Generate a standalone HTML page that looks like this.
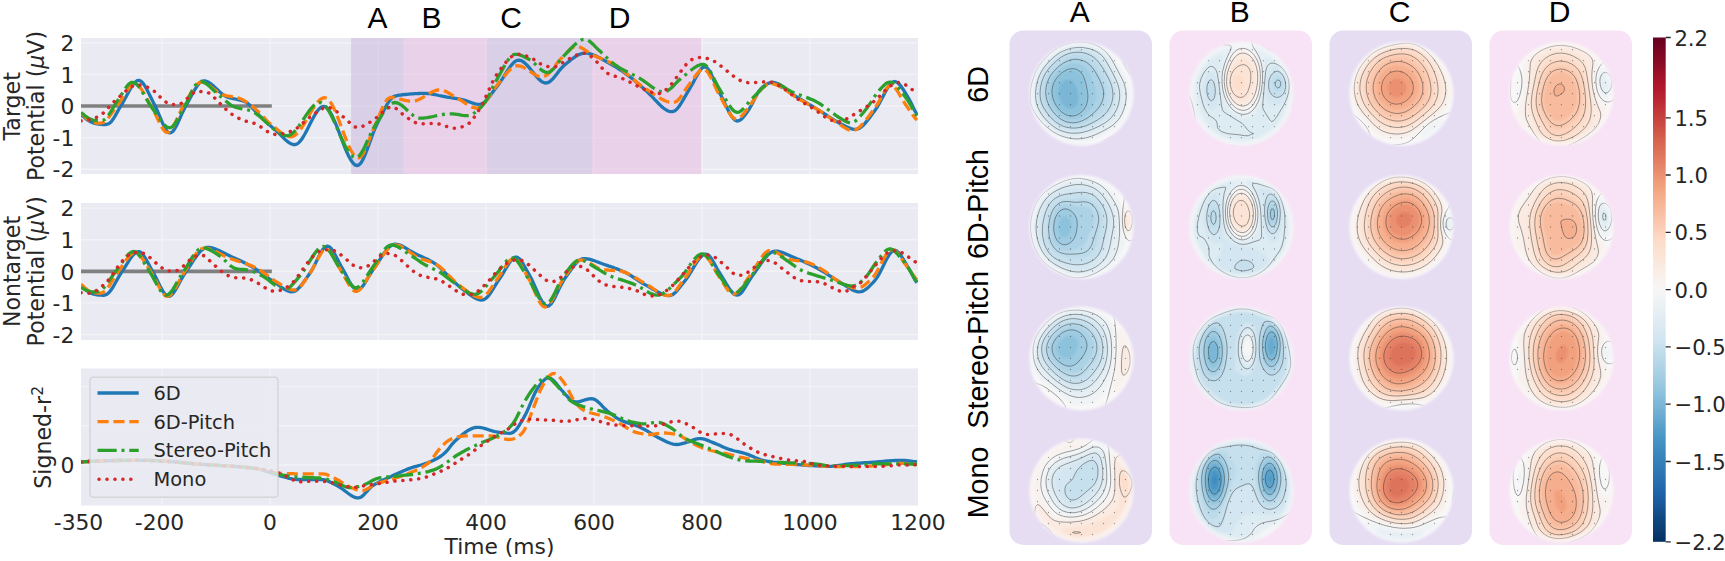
<!DOCTYPE html>
<html><head><meta charset="utf-8"><title>Figure</title>
<style>html,body{margin:0;padding:0;background:#fff}svg{display:block}</style></head>
<body><svg width="1725" height="561" viewBox="0 0 1725 561"><rect x="81.0" y="38.0" width="837.0" height="136.0" fill="#eaeaf2"/>
<path d="M162 38.0V174.0M270 38.0V174.0M378 38.0V174.0M486 38.0V174.0M594 38.0V174.0M702 38.0V174.0M810 38.0V174.0M81.0 169.2H918.0M81.0 137.6H918.0M81.0 106H918.0M81.0 74.4H918.0M81.0 42.8H918.0" stroke="#fff" stroke-opacity="0.42" stroke-width="1.4" fill="none"/>
<rect x="351.1" y="38.0" width="52.4" height="136.0" fill="rgb(200,182,222)" fill-opacity="0.5"/>
<rect x="403.5" y="38.0" width="83.5" height="136.0" fill="rgb(232,186,224)" fill-opacity="0.5"/>
<rect x="487" y="38.0" width="105" height="136.0" fill="rgb(200,182,222)" fill-opacity="0.5"/>
<rect x="592" y="38.0" width="109.2" height="136.0" fill="rgb(232,186,224)" fill-opacity="0.5"/>
<path d="M81.0 106.0H271.8" stroke="#808080" stroke-width="3.7" fill="none"/>
<clipPath id="cp1"><rect x="81.0" y="36.0" width="837.0" height="140.0"/></clipPath>
<g clip-path="url(#cp1)" fill="none" stroke-width="3.3" stroke-linejoin="round">
<path d="M81 114.9 83 116.3 85 118 87 119.6 89 120.9 91 122 93 122.8 95 123.4 97 123.9 99 124.2 101 124.4 103 124.5 105 124.5 107 124.3 109 123.6 111 121.9 113 119.3 115 116.1 117 112.6 119 109 121 105.7 123 102.3 125 98.8 127 95 129 91.2 131 87.7 133 84.6 135 82.2 137 80.7 139 80.3 141 81.2 143 83.2 145 86.1 147 89.7 149 93.7 151 97.8 153 101.8 155 105.8 157 110 159 114.6 161 119.4 163 124.1 165 128.1 167 131.2 169 132.8 171 132.7 173 131.2 175 128.3 177 124.6 179 120.3 181 115.8 183 111.4 185 107.5 187 103.8 189 100.2 191 96.5 193 92.8 195 89.3 197 86.2 199 83.6 201 81.8 203 80.9 205 80.9 207 81.5 209 82.5 211 83.9 213 85.6 215 87.4 217 89.3 219 91.2 221 93 223 94.6 225 95.9 227 96.9 229 97.6 231 98.2 233 98.6 235 99 237 99.4 239 99.8 241 100.3 243 100.9 245 101.7 247 102.9 249 104.5 251 106.4 253 108.6 255 110.8 257 113 259 115.1 261 117.1 263 118.9 265 120.8 267 122.6 269 124.4 271 126.2 273 127.9 275 129.6 277 131.5 279 133.4 281 135.4 283 137.4 285 139.4 287 141.1 289 142.6 291 143.8 293 144.5 295 144.6 297 144 299 142.5 301 140.2 303 137.3 305 133.8 307 130 309 126 311 122 313 118.2 315 114.6 317 111.5 319 109 321 107.3 323 106.5 325 106.7 327 108.1 329 110.4 331 113.6 333 117.6 335 122.1 337 127 339 132.2 341 137.4 343 142.7 345 147.8 347 152.5 349 156.7 351 160.3 353 163.1 355 164.9 357 165.6 359 164.9 361 162.8 363 159.4 365 155 367 150 369 144.5 371 138.9 373 133.5 375 128.5 377 124.1 379 120.1 381 116.1 383 112 385 108.1 387 104.5 389 101.3 391 98.8 393 97.1 395 96.1 397 95.6 399 95.2 401 95 403 94.7 405 94.5 407 94.3 409 94.1 411 93.9 413 93.8 415 93.7 417 93.6 419 93.5 421 93.4 423 93.4 425 93.4 427 93.5 429 93.7 431 93.9 433 94.3 435 94.6 437 95 439 95.5 441 95.9 443 96.3 445 96.7 447 97.1 449 97.4 451 97.7 453 98 455 98.3 457 98.7 459 99 461 99.4 463 99.8 465 100.4 467 101 469 101.7 471 102.5 473 103.2 475 103.8 477 104.2 479 104.4 481 104.1 483 103.3 485 101.7 487 99.7 489 97.2 491 94.5 493 91.7 495 89 497 86.4 499 83.8 501 80.9 503 77.9 505 74.6 507 71.4 509 68.4 511 65.6 513 63.3 515 61.5 517 60.4 519 60.1 521 60.5 523 61.6 525 63.2 527 65.1 529 67.4 531 69.9 533 72.4 535 74.9 537 77.2 539 79.3 541 81.1 543 82.3 545 83 547 82.9 549 82.1 551 80.6 553 78.6 555 76.2 557 73.7 559 71.1 561 68.6 563 66.5 565 64.6 567 63 569 61.4 571 59.8 573 58.3 575 56.9 577 55.6 579 54.6 581 53.8 583 53.3 585 53.1 587 53.2 589 53.6 591 54.1 593 54.8 595 55.6 597 56.5 599 57.6 601 58.6 603 59.8 605 60.9 607 62 609 63.1 611 64.2 613 65.3 615 66.5 617 67.7 619 69 621 70.3 623 71.7 625 73.1 627 74.6 629 76.1 631 77.7 633 79.3 635 81 637 82.8 639 84.5 641 86.3 643 88 645 89.7 647 91.5 649 93.5 651 95.5 653 97.7 655 99.8 657 101.9 659 104 661 105.9 663 107.7 665 109.2 667 110.4 669 111.3 671 111.7 673 111.6 675 110.7 677 109 679 106.5 681 103.4 683 100.1 685 96.6 687 93.1 689 89.8 691 86.5 693 82.9 695 79.1 697 75.4 699 71.9 701 69.1 703 67.3 705 66.8 707 67.8 709 70.3 711 73.8 713 78.2 715 82.8 717 87.4 719 91.7 721 95.6 723 99.6 725 103.8 727 107.9 729 111.9 731 115.4 733 118.2 735 120.2 737 121 739 120.7 741 119.5 743 117.5 745 115 747 112.3 749 109.3 751 106 753 102.2 755 98.1 757 94.2 759 91 761 88.7 763 86.8 765 85.3 767 84 769 83 771 82.5 773 82.4 775 82.7 777 83.4 779 84.4 781 85.6 783 87 785 88.5 787 90 789 91.6 791 93.1 793 94.6 795 95.9 797 97.1 799 98.4 801 99.5 803 100.7 805 101.9 807 103.1 809 104.3 811 105.5 813 106.7 815 107.9 817 109.1 819 110.4 821 111.6 823 112.9 825 114.2 827 115.5 829 116.9 831 118.2 833 119.5 835 120.7 837 121.8 839 122.9 841 123.9 843 124.9 845 126 847 126.9 849 127.8 851 128.6 853 129.1 855 129.3 857 129.2 859 128.5 861 127.2 863 125.5 865 123.4 867 120.9 869 118.4 871 115.7 873 113.1 875 110.4 877 107.4 879 104 881 100.3 883 96.4 885 92.5 887 88.9 889 85.8 891 83.4 893 81.9 895 81.5 897 82.2 899 83.9 901 86.3 903 89.2 905 92.4 907 95.6 909 99.1 911 102.8 913 107 915 111.2 917 114.4" stroke="#1f77b4"/>
<path d="M81 113.3 83 114.9 85 117 87 118.7 89 120.2 91 121.3 93 122.1 95 122.7 97 123 99 123.2 101 123.1 103 122.5 105 121.3 107 119.4 109 117 111 114.3 113 111.5 115 108.6 117 105.9 119 103.2 121 100.2 123 97 125 93.8 127 90.7 129 88 131 85.8 133 84.4 135 84 137 84.6 139 86.2 141 88.6 143 91.6 145 95.1 147 98.8 149 102.5 151 106 153 109.6 155 113.4 157 117.5 159 121.8 161 125.8 163 129.1 165 131.5 167 132.5 169 132 171 130.1 173 127.1 175 123.2 177 118.9 179 114.5 181 110.3 183 106.5 185 103 187 99.5 189 96 191 92.5 193 89.3 195 86.4 197 84.2 199 82.7 201 82.1 203 82.2 205 82.9 207 83.9 209 85.3 211 86.8 213 88.5 215 90.1 217 91.6 219 93 221 94 223 94.8 225 95.3 227 95.8 229 96.1 231 96.5 233 96.8 235 97.2 237 97.7 239 98.2 241 99 243 99.9 245 101.1 247 102.4 249 103.9 251 105.4 253 107 255 108.7 257 110.5 259 112.4 261 114.4 263 116.6 265 118.7 267 120.8 269 122.8 271 124.6 273 126.2 275 127.8 277 129.4 279 131 281 132.5 283 133.9 285 135.1 287 136 289 136.6 291 136.8 293 136.4 295 135.3 297 133.6 299 131.4 301 128.7 303 125.7 305 122.4 307 118.9 309 115.4 311 112 313 108.7 315 105.6 317 102.9 319 100.6 321 98.9 323 97.9 325 97.7 327 98.4 329 100.2 331 102.9 333 106.5 335 110.7 337 115.5 339 120.6 341 126 343 131.4 345 136.7 347 141.8 349 146.4 351 150.5 353 153.8 355 156.3 357 157.8 359 157.9 361 156.6 363 153.9 365 150 367 145.3 369 140.1 371 135 373 130 375 125.4 377 120.8 379 116 381 111.1 383 106.5 385 102.5 387 99.6 389 98 391 97.4 393 97.5 395 97.8 397 98.2 399 98.7 401 99.3 403 99.8 405 100.3 407 100.7 409 101.1 411 101.2 413 101.2 415 100.9 417 100.3 419 99.5 421 98.5 423 97.3 425 96.1 427 94.9 429 93.6 431 92.5 433 91.5 435 90.7 437 90.1 439 89.9 441 89.9 443 90.4 445 91.1 447 92.1 449 93.2 451 94.5 453 95.7 455 97 457 98.1 459 99.3 461 100.4 463 101.7 465 103 467 104.3 469 105.5 471 106.5 473 107.4 475 107.9 477 108.1 479 107.7 481 106.6 483 104.8 485 102.4 487 99.7 489 96.7 491 93.6 493 90.6 495 87.8 497 85.2 499 82.8 501 80.4 503 77.9 505 75.4 507 72.9 509 70.7 511 68.8 513 67.3 515 66.2 517 65.7 519 65.8 521 66.3 523 67.1 525 68.2 527 69.4 529 70.7 531 72.1 533 73.4 535 74.6 537 75.7 539 76.4 541 76.9 543 76.8 545 76.1 547 74.9 549 73.1 551 70.9 553 68.5 555 65.9 557 63.3 559 60.8 561 58.6 563 56.5 565 54.5 567 52.4 569 50.3 571 48.6 573 47.2 575 46.4 577 46.3 579 46.7 581 47.6 583 48.7 585 50 587 51.4 589 52.7 591 54 593 55 595 56 597 56.9 599 57.7 601 58.5 603 59.3 605 60.2 607 61 609 61.9 611 62.8 613 63.8 615 64.9 617 66.2 619 67.5 621 69 623 70.6 625 72.2 627 73.9 629 75.6 631 77.4 633 79.1 635 80.9 637 82.5 639 84.1 641 85.7 643 87.1 645 88.4 647 89.7 649 91 651 92.4 653 93.7 655 95.1 657 96.4 659 97.6 661 98.8 663 99.8 665 100.8 667 101.5 669 102.1 671 102.5 673 102.6 675 102.2 677 101 679 99 681 96.4 683 93.5 685 90.4 687 87.4 689 84.6 691 81.9 693 79.2 695 76.5 697 73.8 699 71.5 701 69.8 703 69.1 705 69.5 707 71.2 709 74.1 711 77.7 713 81.9 715 86.2 717 90.5 719 94.3 721 97.9 723 101.6 725 105.3 727 109.1 729 112.5 731 115.5 733 117.6 735 118.8 737 119 739 118.2 741 116.6 743 114.5 745 112.1 747 109.5 749 106.8 751 104 753 101 755 97.8 757 94.7 759 92 761 89.7 763 87.7 765 85.9 767 84.6 769 83.8 771 83.7 773 83.9 775 84.4 777 85.1 779 86.1 781 87.1 783 88.3 785 89.6 787 91 789 92.4 791 93.8 793 95.2 795 96.6 797 97.9 799 99.1 801 100.2 803 101.3 805 102.4 807 103.5 809 104.6 811 105.7 813 106.8 815 108 817 109.2 819 110.4 821 111.6 823 113 825 114.3 827 115.8 829 117.2 831 118.7 833 120.1 835 121.5 837 122.8 839 124.1 841 125.3 843 126.6 845 127.9 847 129 849 129.9 851 130.5 853 130.5 855 130 857 129 859 127.5 861 125.7 863 123.5 865 121.1 867 118.5 869 115.9 871 113.2 873 110.6 875 107.9 877 104.9 879 101.4 881 97.7 883 94 885 90.6 887 87.8 889 86 891 85.4 893 86 895 87.8 897 90.5 899 93.7 901 97.2 903 100.6 905 103.7 907 106.6 909 109.5 911 112.3 913 115.2 915 118 917 120" stroke="#ff7f0e" stroke-dasharray="11.1 4.8"/>
<path d="M81 112.5 83 114 85 115.7 87 117.3 89 118.4 91 119.3 93 120 95 120.4 97 120.6 99 120.8 101 120.7 103 120.4 105 119.3 107 117.3 109 114.6 111 111.4 113 108 115 104.7 117 101.6 119 98.5 121 95.3 123 92.1 125 88.9 127 86.1 129 83.9 131 82.5 133 82.3 135 83 137 84.6 139 87 141 89.8 143 93.1 145 96.5 147 100 149 103.3 151 106.4 153 109.2 155 112 157 114.9 159 117.9 161 120.8 163 123.3 165 125.5 167 127 169 127.7 171 127.5 173 126.1 175 123.6 177 120.4 179 116.8 181 112.9 183 109.1 185 105.5 187 101.7 189 97.6 191 93.3 193 89.3 195 85.8 197 83.2 199 81.7 201 81.4 203 81.9 205 82.9 207 84.3 209 85.9 211 87.8 213 89.7 215 91.6 217 93.5 219 95.2 221 96.9 223 98.6 225 100.3 227 102 229 103.6 231 105.1 233 106.2 235 107.1 237 107.7 239 108.2 241 108.6 243 108.9 245 109.3 247 109.7 249 110.2 251 111 253 111.9 255 113 257 114.4 259 115.9 261 117.6 263 119.4 265 121.2 267 123.1 269 124.9 271 126.7 273 128.5 275 130.1 277 131.6 279 132.9 281 134 283 134.8 285 135.4 287 135.6 289 135.3 291 134.4 293 132.9 295 131 297 128.6 299 125.9 301 123 303 120 305 116.9 307 113.9 309 111.1 311 108.5 313 106.3 315 104.5 317 103.2 319 102.6 321 102.7 323 103.7 325 105.5 327 108.1 329 111.3 331 115 333 119 335 123.4 337 127.9 339 132.5 341 137.1 343 141.4 345 145.5 347 149.2 349 152.4 351 154.9 353 156.7 355 157.6 357 157.5 359 156.1 361 153.6 363 150.2 365 146.2 367 141.7 369 137.2 371 132.9 373 129.1 375 125.7 377 122.5 379 119.4 381 116.3 383 113.2 385 110.3 387 107.7 389 105.5 391 103.8 393 102.8 395 102.5 397 102.8 399 103.6 401 104.8 403 106.4 405 108.1 407 110 409 111.9 411 113.7 413 115.3 415 116.6 417 117.6 419 118.1 421 118.2 423 118.2 425 117.9 427 117.7 429 117.3 431 116.9 433 116.5 435 116 437 115.6 439 115.2 441 114.8 443 114.5 445 114.2 447 114 449 113.9 451 113.9 453 113.9 455 114.1 457 114.3 459 114.7 461 115.1 463 115.4 465 115.6 467 115.7 469 115.5 471 114.9 473 113.9 475 112.5 477 110.9 479 109.1 481 107.2 483 105 485 102.2 487 98.9 489 95.1 491 91 493 86.8 495 82.9 497 79.2 499 75.6 501 72.1 503 68.4 505 64.8 507 61.5 509 58.6 511 56.4 513 54.9 515 54.3 517 54.3 519 54.7 521 55.4 523 56.2 525 57.2 527 58.2 529 59.3 531 60.6 533 62.1 535 63.9 537 65.8 539 67.8 541 69.6 543 71.1 545 72.1 547 72.5 549 72.2 551 71.1 553 69.3 555 67 557 64.4 559 61.7 561 59.1 563 56.7 565 54.6 567 52.6 569 50.5 571 48.4 573 46.4 575 44.5 577 42.7 579 41.3 581 40.1 583 39.5 585 39.3 587 39.8 589 40.9 591 42.4 593 44.2 595 46.3 597 48.3 599 50.3 601 52.1 603 54 605 56 607 57.9 609 59.8 611 61.7 613 63.3 615 64.8 617 66.2 619 67.4 621 68.6 623 69.7 625 70.8 627 71.8 629 72.8 631 73.8 633 74.8 635 75.8 637 76.8 639 77.9 641 79.1 643 80.4 645 81.8 647 83.3 649 84.8 651 86.3 653 87.7 655 89 657 90.1 659 91 661 91.6 663 91.9 665 91.7 667 91 669 89.8 671 88.2 673 86.3 675 84.2 677 82.2 679 80.2 681 78.4 683 76.7 685 75.2 687 73.6 689 71.9 691 70.3 693 68.8 695 67.3 697 66.1 699 65.2 701 64.5 703 64.3 705 64.9 707 66.6 709 69.3 711 72.7 713 76.6 715 80.7 717 84.6 719 88.2 721 91.5 723 94.8 725 98.3 727 101.7 729 104.9 731 107.8 733 110.1 735 111.7 737 112.3 739 112.1 741 110.9 743 109.1 745 106.9 747 104.5 749 102 751 99.8 753 97.7 755 95.7 757 93.6 759 91.5 761 89.4 763 87.4 765 85.7 767 84.2 769 83.2 771 82.5 773 82.4 775 82.7 777 83.3 779 84.2 781 85.3 783 86.5 785 87.8 787 89.1 789 90.3 791 91.4 793 92.4 795 93.2 797 94 799 94.7 801 95.4 803 96.2 805 96.9 807 97.6 809 98.4 811 99.2 813 100.1 815 101 817 102.1 819 103.2 821 104.5 823 105.9 825 107.3 827 108.8 829 110.3 831 111.8 833 113.3 835 114.7 837 116.2 839 117.5 841 118.7 843 119.9 845 120.9 847 121.9 849 122.7 851 123 853 122.5 855 121.4 857 119.8 859 117.7 861 115.3 863 113 865 110.5 867 107.9 869 105.1 871 102.1 873 98.9 875 95.9 877 93.1 879 90.6 881 88.4 883 86.3 885 84.4 887 82.9 889 82.2 891 82.2 893 83 895 84.5 897 86.4 899 88.7 901 91.1 903 93.7 905 96.4 907 99.2 909 102.3 911 105.7 913 109.4 915 113.1 917 115.9" stroke="#2ca02c" stroke-dasharray="19.2 4.8 3 4.8"/>
<path d="M81 120.8 83 120.6 85 120.4 87 120.1 89 119.6 91 119.1 93 118.5 95 117.9 97 117.2 99 116.2 101 115 103 113.3 105 111.4 107 109.3 109 107.1 111 104.9 113 102.7 115 100.7 117 98.8 119 97.1 121 95.3 123 93.5 125 91.7 127 90 129 88.4 131 87 133 85.9 135 85.2 137 84.9 139 84.9 141 85.2 143 85.7 145 86.3 147 87.1 149 88 151 89 153 90.2 155 91.8 157 93.7 159 95.9 161 97.9 163 99.8 165 101.4 167 102.8 169 103.8 171 104.4 173 104.6 175 104.6 177 104.6 179 104.3 181 103.5 183 102.1 185 100.4 187 98.6 189 96.8 191 94.9 193 93.2 195 92 197 91.6 199 91.5 201 91.6 203 91.7 205 91.9 207 92.3 209 93.1 211 94.4 213 96.2 215 98.3 217 100.5 219 102.6 221 104.5 223 106.5 225 108.4 227 110.3 229 112.1 231 113.6 233 115 235 116.3 237 117.4 239 118.4 241 119.4 243 120.2 245 120.9 247 121.4 249 121.9 251 122.4 253 122.9 255 123.6 257 124.5 259 125.6 261 127 263 128.4 265 129.9 267 131.3 269 132.5 271 133.5 273 134.1 275 134.4 277 134.4 279 134.3 281 134 283 133.6 285 133.1 287 132.5 289 131.9 291 131.3 293 130.5 295 129.5 297 128.1 299 126.5 301 124.8 303 123 305 121.1 307 119.4 309 117.8 311 116.3 313 114.9 315 113.4 317 111.9 319 110.5 321 109.3 323 108.3 325 107.6 327 107.4 329 107.5 331 108.2 333 109.2 335 110.4 337 111.9 339 113.5 341 115.1 343 116.7 345 118.3 347 120.2 349 122.1 351 124.1 353 125.7 355 126.9 357 127.5 359 127.5 361 127 363 126.2 365 125.2 367 124.1 369 122.8 371 121.6 373 120.3 375 118.9 377 117.2 379 115.4 381 113.6 383 111.8 385 110.1 387 108.7 389 107.6 391 107 393 107.1 395 107.8 397 109.1 399 110.8 401 112.7 403 114.4 405 116 407 117.4 409 118.8 411 120.1 413 121.4 415 122.5 417 123.2 419 123.6 421 123.8 423 123.8 425 123.7 427 123.6 429 123.5 431 123.4 433 123.4 435 123.4 437 123.6 439 124 441 124.5 443 125.2 445 125.9 447 126.6 449 127.2 451 127.7 453 128.1 455 128.2 457 128.1 459 127.7 461 127.2 463 126.5 465 125.7 467 124.6 469 123.3 471 121.4 473 118.9 475 116.1 477 113 479 109.8 481 106.4 483 102.6 485 98.5 487 94.1 489 89.7 491 85.3 493 81.1 495 77.4 497 74.2 499 71.3 501 68.6 503 65.9 505 63.4 507 61 509 58.8 511 57 513 55.6 515 54.7 517 54.2 519 54.2 521 54.5 523 54.9 525 55.5 527 56.2 529 57 531 57.8 533 58.9 535 60.2 537 61.6 539 63 541 64.2 543 65.2 545 65.9 547 66.4 549 66.7 551 67 553 67 555 66.8 557 66.1 559 65.1 561 63.8 563 62.4 565 61.1 567 59.9 569 58.9 571 57.9 573 56.8 575 55.9 577 55 579 54.2 581 53.6 583 53.2 585 53.3 587 53.8 589 54.9 591 56.4 593 58.2 595 60.1 597 62.1 599 64.4 601 66.9 603 69.3 605 71.4 607 73 609 74.2 611 75 613 75.7 615 76.2 617 76.8 619 77.4 621 78 623 78.8 625 79.7 627 80.7 629 81.7 631 82.7 633 83.7 635 84.7 637 85.8 639 86.8 641 87.8 643 88.8 645 89.7 647 90.5 649 91.3 651 92.1 653 92.8 655 93.3 657 93.6 659 93.6 661 93.1 663 92.1 665 90.6 667 88.8 669 86.8 671 84.7 673 82.4 675 79.7 677 76.8 679 73.9 681 71.2 683 68.5 685 65.9 687 63.5 689 61.5 691 60 693 59 695 58.2 697 57.7 699 57.4 701 57.4 703 57.6 705 57.9 707 58.4 709 59 711 59.7 713 60.6 715 61.7 717 62.9 719 64.4 721 66.1 723 67.7 725 69.3 727 70.9 729 72.6 731 74.2 733 75.8 735 77.3 737 78.6 739 79.8 741 80.8 743 81.6 745 82.1 747 82.5 749 82.8 751 82.8 753 82.7 755 82.5 757 82.3 759 82.1 761 82 763 81.9 765 81.8 767 81.7 769 81.9 771 82.2 773 82.8 775 83.5 777 84.4 779 85.5 781 86.7 783 88.1 785 89.5 787 90.9 789 92.5 791 94 793 95.5 795 97 797 98.5 799 99.9 801 101.2 803 102.5 805 103.7 807 104.9 809 106 811 107.2 813 108.5 815 109.8 817 111.1 819 112.6 821 114.1 823 115.6 825 116.9 827 118.2 829 119.2 831 120 833 120.7 835 121.3 837 121.7 839 121.9 841 121.6 843 120.9 845 119.8 847 118.6 849 117.4 851 116.3 853 115.1 855 113.8 857 112.6 859 111.4 861 110.1 863 108.9 865 107.6 867 106.4 869 105.1 871 103.7 873 102.2 875 100.6 877 98.7 879 96.7 881 94.7 883 92.7 885 90.7 887 88.8 889 87 891 85.6 893 84.4 895 83.5 897 82.8 899 82.5 901 82.7 903 83.4 905 84.5 907 85.8 909 87.2 911 88.7 913 90.3 915 92 917 93.3" stroke="#d62728" stroke-dasharray="0.1 7.85" stroke-linecap="round" stroke-width="3.5"/>
</g>
<rect x="81.0" y="203.0" width="837.0" height="137.0" fill="#eaeaf2"/>
<path d="M162 203.0V340.0M270 203.0V340.0M378 203.0V340.0M486 203.0V340.0M594 203.0V340.0M702 203.0V340.0M810 203.0V340.0M81.0 334.5H918.0M81.0 302.9H918.0M81.0 271.3H918.0M81.0 239.7H918.0M81.0 208.1H918.0" stroke="#fff" stroke-opacity="0.42" stroke-width="1.4" fill="none"/>
<path d="M81.0 271.3H271.8" stroke="#808080" stroke-width="3.7" fill="none"/>
<clipPath id="cp2"><rect x="81.0" y="201.0" width="837.0" height="141.0"/></clipPath>
<g clip-path="url(#cp2)" fill="none" stroke-width="3.3" stroke-linejoin="round">
<path d="M81 285.6 83 287.2 85 289 87 290.7 89 292.1 91 293.1 93 293.9 95 294.5 97 294.9 99 295.1 101 295.2 103 295.3 105 295 107 294.2 109 292.5 111 290.1 113 287 115 283.5 117 279.9 119 276.4 121 273.1 123 270.1 125 267 127 263.9 129 260.7 131 257.7 133 255.1 135 253 137 251.8 139 251.6 141 252.6 143 254.7 145 257.6 147 261.1 149 264.8 151 268.5 153 272 155 275.7 157 279.8 159 283.9 161 287.9 163 291.4 165 294.2 167 295.9 169 296.4 171 295.5 173 293.5 175 290.6 177 287.2 179 283.5 181 279.7 183 276.3 185 273.2 187 270.3 189 267.3 191 264.3 193 261.2 195 258.2 197 255.4 199 252.9 201 250.7 203 249.1 205 248 207 247.4 209 247.4 211 247.7 213 248.2 215 248.9 217 249.7 219 250.6 221 251.6 223 252.6 225 253.6 227 254.6 229 255.5 231 256.5 233 257.4 235 258.3 237 259.2 239 260.1 241 261.1 243 262.1 245 263.1 247 264.1 249 265.2 251 266.3 253 267.4 255 268.6 257 269.9 259 271.2 261 272.6 263 274.1 265 275.6 267 277.1 269 278.5 271 279.9 273 281.2 275 282.6 277 284 279 285.5 281 287 283 288.3 285 289.6 287 290.6 289 291.3 291 291.8 293 291.7 295 291.1 297 289.8 299 287.9 301 285.6 303 283 305 280.2 307 277.4 309 274.5 311 271.5 313 268.1 315 264.2 317 260.1 319 256 321 252.3 323 249.2 325 247.1 327 246.2 329 246.6 331 248.3 333 251.1 335 254.5 337 258.3 339 262.3 341 266 343 269.5 345 273.1 347 276.9 349 280.7 351 284.2 353 287.2 355 289.2 357 290.1 359 289.8 361 288.2 363 285.8 365 282.8 367 279.4 369 276 371 272.9 373 269.9 375 267.1 377 264 379 260.9 381 257.8 383 254.7 385 251.9 387 249.3 389 247.2 391 245.6 393 244.6 395 244.2 397 244.3 399 244.8 401 245.6 403 246.5 405 247.6 407 248.8 409 250.1 411 251.3 413 252.4 415 253.5 417 254.5 419 255.4 421 256.3 423 257.2 425 258.2 427 259.1 429 260.1 431 261.2 433 262.4 435 263.7 437 265.1 439 266.8 441 268.6 443 270.5 445 272.6 447 274.7 449 276.8 451 278.9 453 280.9 455 282.8 457 284.6 459 286.3 461 287.9 463 289.4 465 291 467 292.5 469 294.1 471 295.5 473 296.9 475 298 477 299 479 299.7 481 300 483 299.9 485 299 487 297.4 489 295.1 491 292.3 493 289.2 495 285.9 497 282.7 499 279.7 501 276.6 503 273.5 505 270 507 266.6 509 263.3 511 260.5 513 258.4 515 257.2 517 257.2 519 258.4 521 260.7 523 263.7 525 267.2 527 270.8 529 274.4 531 278.1 533 282.1 535 286.6 537 291.2 539 295.7 541 299.7 543 303 545 305.3 547 306.3 549 305.8 551 304 553 301.1 555 297.5 557 293.4 559 289.1 561 285.1 563 281.4 565 278.2 567 275.3 569 272.5 571 269.7 573 266.9 575 264.4 577 262.3 579 260.5 581 259.3 583 258.7 585 258.6 587 258.8 589 259.2 591 259.7 593 260.3 595 261 597 261.7 599 262.5 601 263.3 603 264 605 264.7 607 265.4 609 266.1 611 266.7 613 267.4 615 268.2 617 268.9 619 269.7 621 270.5 623 271.4 625 272.3 627 273.4 629 274.5 631 275.7 633 277 635 278.3 637 279.7 639 281 641 282.3 643 283.5 645 284.6 647 285.7 649 286.9 651 288.1 653 289.3 655 290.4 657 291.6 659 292.6 661 293.6 663 294.4 665 295 667 295.4 669 295.6 671 295.3 673 294.4 675 292.8 677 290.8 679 288.3 681 285.8 683 283.2 685 280.7 687 278 689 275 691 271.8 693 268.4 695 265.1 697 261.9 699 259 701 256.7 703 255 705 254.1 707 254.3 709 255.6 711 258.1 713 261.3 715 264.9 717 268.6 719 272 721 275.1 723 278.3 725 281.6 727 285 729 288.1 731 290.9 733 293.2 735 294.7 737 295.2 739 294.7 741 293.2 743 290.7 745 287.6 747 284.2 749 280.9 751 277.8 753 274.9 755 272.2 757 269.4 759 266.5 761 263.5 763 260.7 765 258.1 767 255.8 769 253.9 771 252.4 773 251.5 775 251.1 777 251.2 779 251.5 781 252.1 783 252.7 785 253.5 787 254.4 789 255.3 791 256.2 793 257.1 795 257.9 797 258.8 799 259.6 801 260.4 803 261.3 805 262.2 807 263.2 809 264.1 811 265.1 813 266.1 815 267.1 817 268.1 819 269.2 821 270.3 823 271.5 825 272.7 827 274 829 275.3 831 276.6 833 277.9 835 279.2 837 280.4 839 281.6 841 282.8 843 284.1 845 285.4 847 286.7 849 287.9 851 289.1 853 290.2 855 291 857 291.6 859 291.9 861 291.7 863 291.1 865 289.9 867 288.4 869 286.7 871 284.7 873 282.6 875 280.4 877 277.6 879 274.3 881 270.5 883 266.5 885 262.3 887 258.5 889 255.1 891 252.5 893 250.8 895 250.3 897 251.1 899 253 901 255.7 903 258.8 905 262.2 907 265.5 909 268.9 911 272.5 913 276.2 915 280 917 282.8" stroke="#1f77b4"/>
<path d="M81 284.4 83 286 85 287.9 87 289.6 89 290.8 91 291.8 93 292.4 95 292.9 97 293.1 99 293.2 101 293.1 103 292.4 105 291 107 288.8 109 286.1 111 282.9 113 279.6 115 276.4 117 273.3 119 270.5 121 267.7 123 264.7 125 261.8 127 258.9 129 256.4 131 254.4 133 253.1 135 252.7 137 253.2 139 254.6 141 256.8 143 259.5 145 262.6 147 265.7 149 268.9 151 272 153 275.3 155 278.9 157 282.9 159 286.8 161 290.4 163 293.4 165 295.5 167 296.4 169 296 171 294.4 173 291.9 175 288.6 177 285 179 281.2 181 277.6 183 274.3 185 271.2 187 268.1 189 264.8 191 261.5 193 258.2 195 255.2 197 252.6 199 250.5 201 249 203 248.3 205 248.1 207 248.4 209 248.8 211 249.5 213 250.3 215 251.2 217 252.1 219 253.2 221 254.2 223 255.3 225 256.3 227 257.2 229 258.1 231 258.8 233 259.5 235 260.2 237 260.8 239 261.5 241 262.1 243 262.7 245 263.4 247 264.1 249 264.8 251 265.6 253 266.4 255 267.4 257 268.4 259 269.6 261 271 263 272.4 265 273.9 267 275.4 269 276.9 271 278.3 273 279.6 275 280.9 277 282.1 279 283.3 281 284.6 283 285.8 285 287 287 288 289 288.9 291 289.6 293 290 295 290 297 289.4 299 288 301 285.9 303 283.3 305 280.5 307 277.5 309 274.6 311 271.5 313 268.1 315 264.3 317 260.4 319 256.6 321 253.3 323 250.8 325 249.4 327 249.3 329 250.5 331 252.8 333 256 335 259.7 337 263.5 339 267.2 341 270.7 343 274.1 345 277.6 347 281.2 349 284.7 351 287.7 353 290 355 291.3 357 291.4 359 290.3 361 288.3 363 285.7 365 282.5 367 279.2 369 275.9 371 272.8 373 270 375 267.2 377 264.2 379 261.2 381 258.1 383 255.2 385 252.4 387 249.9 389 247.9 391 246.3 393 245.3 395 244.9 397 245.1 399 245.6 401 246.5 403 247.5 405 248.8 407 250.1 409 251.6 411 253 413 254.4 415 255.8 417 257 419 258 421 258.8 423 259.5 425 260.1 427 260.7 429 261.3 431 262 433 262.7 435 263.7 437 264.8 439 266.2 441 267.8 443 269.6 445 271.6 447 273.6 449 275.7 451 277.7 453 279.8 455 281.7 457 283.5 459 285.1 461 286.6 463 288.1 465 289.6 467 291.1 469 292.5 471 293.9 473 295.1 475 296.1 477 296.9 479 297.4 481 297.5 483 297 485 295.7 487 293.8 489 291.3 491 288.4 493 285.4 495 282.3 497 279.4 499 276.6 501 273.6 503 270.4 505 267.2 507 264.1 509 261.4 511 259.5 513 258.6 515 258.8 517 260.1 519 262.3 521 265.3 523 268.6 525 272.1 527 275.7 529 279.2 531 283.1 533 287.5 535 292.1 537 296.7 539 300.8 541 304.2 543 306.3 545 307.1 547 306.4 549 304.5 551 301.7 553 298.2 555 294.3 557 290.2 559 286.2 561 282.5 563 279.3 565 276.4 567 273.6 569 270.8 571 268 573 265.5 575 263.3 577 261.5 579 260.4 581 260 583 260.1 585 260.7 587 261.6 589 262.7 591 263.9 593 265.2 595 266.5 597 267.7 599 268.6 601 269.2 603 269.6 605 269.9 607 270 609 270.2 611 270.3 613 270.4 615 270.5 617 270.6 619 270.8 621 271.2 623 271.7 625 272.3 627 273.1 629 274.1 631 275.2 633 276.3 635 277.5 637 278.7 639 279.9 641 281.1 643 282.3 645 283.4 647 284.5 649 285.8 651 287.1 653 288.5 655 289.9 657 291.2 659 292.4 661 293.5 663 294.4 665 295.1 667 295.5 669 295.5 671 294.8 673 293.4 675 291.4 677 289 679 286.3 681 283.5 683 280.8 685 278.2 687 275.4 689 272.4 691 269.2 693 265.9 695 262.7 697 259.9 699 257.6 701 256 703 255.3 705 255.6 707 257.1 709 259.6 711 262.8 713 266.3 715 269.9 717 273.3 719 276.5 721 279.5 723 282.7 725 285.9 727 288.9 729 291.4 731 293.1 733 294 735 293.8 737 292.7 739 290.9 741 288.4 743 285.6 745 282.7 747 279.7 749 276.9 751 274.1 753 271.2 755 268 757 264.6 759 261.3 761 258.2 763 255.4 765 253.1 767 251.5 769 250.6 771 250.5 773 250.9 775 251.7 777 252.7 779 253.9 781 255.2 783 256.4 785 257.6 787 258.5 789 259.3 791 259.8 793 260.1 795 260.4 797 260.6 799 260.8 801 261.1 803 261.3 805 261.7 807 262.2 809 262.9 811 263.7 813 264.6 815 265.6 817 266.7 819 267.8 821 268.9 823 270.1 825 271.4 827 272.8 829 274.4 831 276 833 277.5 835 279 837 280.4 839 281.6 841 282.7 843 283.7 845 284.6 847 285.5 849 286.4 851 287.1 853 287.7 855 288.1 857 288.2 859 287.9 861 287.2 863 286.2 865 284.8 867 283.1 869 281.3 871 279.5 873 277.3 875 274.7 877 271.5 879 267.8 881 263.9 883 260 885 256.5 887 253.4 889 251.1 891 249.8 893 249.6 895 250.6 897 252.5 899 255.1 901 258 903 260.9 905 263.7 907 266.4 909 269.2 911 272 913 274.9 915 277.8 917 279.9" stroke="#ff7f0e" stroke-dasharray="11.1 4.8"/>
<path d="M81 287.4 83 288.5 85 289.7 87 290.6 89 291.3 91 291.7 93 291.9 95 292 97 291.9 99 291.5 101 290.4 103 288.7 105 286.4 107 283.8 109 280.9 111 278 113 275.1 115 272.4 117 269.8 119 267.1 121 264.2 123 261.3 125 258.4 127 255.8 129 253.7 131 252.2 133 251.5 135 251.7 137 252.9 139 255 141 257.7 143 260.9 145 264.2 147 267.6 149 270.8 151 274 153 277.4 155 281.1 157 284.8 159 288.4 161 291.4 163 293.7 165 295 167 295.1 169 294 171 291.9 173 289.1 175 285.8 177 282.3 179 278.7 181 275.5 183 272.4 185 269.3 187 266.1 189 262.7 191 259.4 193 256.2 195 253.4 197 251 199 249.3 201 248.3 203 247.9 205 248.1 207 248.7 209 249.5 211 250.5 213 251.7 215 252.9 217 254.2 219 255.5 221 256.9 223 258.6 225 260.5 227 262.6 229 264.5 231 266.2 233 267.4 235 268.3 237 268.8 239 269.1 241 269.3 243 269.5 245 269.7 247 270 249 270.3 251 270.8 253 271.5 255 272.3 257 273.2 259 274.2 261 275.3 263 276.4 265 277.6 267 279 269 280.5 271 282.1 273 283.7 275 285.2 277 286.5 279 287.7 281 288.6 283 289.2 285 289.3 287 288.8 289 287.7 291 286 293 283.9 295 281.6 297 279.3 299 276.9 301 274.5 303 271.9 305 268.9 307 265.7 309 262.4 311 259.1 313 256 315 253 317 250.5 319 248.5 321 247.1 323 246.5 325 246.8 327 248.2 329 250.5 331 253.4 333 256.8 335 260.4 337 263.8 339 267 341 270 343 273.1 345 276.2 347 279.4 349 282.3 351 284.8 353 286.7 355 287.7 357 287.6 359 286.6 361 284.6 363 282 365 278.9 367 275.8 369 272.6 371 269.7 373 266.8 375 263.8 377 260.6 379 257.4 381 254.2 383 251.3 385 248.8 387 246.8 389 245.6 391 245 393 245.1 395 245.6 397 246.4 399 247.5 401 248.7 403 250.1 405 251.5 407 252.9 409 254.2 411 255.5 413 256.8 415 258.1 417 259.5 419 260.9 421 262.3 423 263.6 425 264.7 427 265.8 429 266.8 431 267.8 433 268.7 435 269.7 437 270.7 439 271.8 441 273 443 274.4 445 275.9 447 277.4 449 279 451 280.5 453 282 455 283.4 457 284.8 459 286.2 461 287.7 463 289.1 465 290.5 467 291.8 469 292.9 471 293.7 473 294.2 475 294.3 477 293.9 479 293 481 291.5 483 289.7 485 287.5 487 285.2 489 282.7 491 280.3 493 278 495 275.7 497 273.3 499 270.8 501 268 503 265.3 505 262.7 507 260.5 509 258.8 511 257.8 513 257.8 515 258.8 517 260.7 519 263.4 521 266.6 523 270 525 273.3 527 276.6 529 279.8 531 283.3 533 287 535 290.8 537 294.5 539 297.8 541 300.6 543 302.7 545 303.8 547 303.7 549 302.3 551 299.8 553 296.4 555 292.4 557 288.1 559 283.9 561 280.1 563 276.8 565 274 567 271.3 569 268.7 571 266.1 573 263.9 575 262.1 577 260.7 579 260.1 581 260 583 260.4 585 261.2 587 262.3 589 263.5 591 264.8 593 266.1 595 267.3 597 268.5 599 269.7 601 270.9 603 272.2 605 273.4 607 274.5 609 275.5 611 276.3 613 277.1 615 277.8 617 278.4 619 279.1 621 279.7 623 280.3 625 281 627 281.7 629 282.4 631 283.1 633 283.9 635 284.7 637 285.6 639 286.7 641 287.8 643 289.1 645 290.3 647 291.5 649 292.7 651 293.6 653 294.4 655 294.9 657 295.1 659 295 661 294.4 663 293.5 665 292.2 667 290.7 669 289 671 287.1 673 285.1 675 283.1 677 281.1 679 279.2 681 277.1 683 274.8 685 272.2 687 269.4 689 266.5 691 263.6 693 260.9 695 258.4 697 256.4 699 254.9 701 254 703 254 705 255 707 256.8 709 259.4 711 262.5 713 265.9 715 269.2 717 272.3 719 275.2 721 278 723 280.9 725 283.9 727 286.7 729 289.2 731 291.2 733 292.5 735 292.9 737 292.4 739 291.1 741 289.3 743 286.9 745 284.3 747 281.5 749 278.8 751 276.2 753 273.7 755 271.1 757 268.3 759 265.4 761 262.5 763 259.7 765 257.2 767 255.1 769 253.6 771 252.7 773 252.5 775 252.9 777 253.7 779 254.9 781 256.3 783 257.7 785 259.2 787 260.6 789 262 791 263.4 793 264.8 795 266.3 797 267.7 799 269 801 270.1 803 271.1 805 271.9 807 272.6 809 273.3 811 273.9 813 274.5 815 275.1 817 275.8 819 276.4 821 277 823 277.6 825 278.2 827 278.7 829 279.3 831 280 833 280.6 835 281.3 837 282 839 282.7 841 283.4 843 284.1 845 284.7 847 285.3 849 285.7 851 286.1 853 286 855 285.5 857 284.6 859 283.2 861 281.7 863 279.9 865 278 867 275.7 869 273 871 270.1 873 267 875 264 877 261.3 879 258.7 881 256.1 883 253.6 885 251.4 887 249.8 889 249 891 249 893 249.9 895 251.5 897 253.5 899 255.8 901 258.2 903 260.6 905 263.2 907 266 909 269 911 272.3 913 275.8 915 279.2 917 281.8" stroke="#2ca02c" stroke-dasharray="19.2 4.8 3 4.8"/>
<path d="M81 292.6 83 292.9 85 293.1 87 293.2 89 293.2 91 292.8 93 292.2 95 291.3 97 290.2 99 288.8 101 287.1 103 285.4 105 283.5 107 281.5 109 279.3 111 276.8 113 273.9 115 270.8 117 267.9 119 265.2 121 262.7 123 260.4 125 258.3 127 256.4 129 254.8 131 253.7 133 253 135 252.6 137 252.3 139 252.4 141 252.7 143 253.3 145 254.2 147 255.3 149 256.8 151 258.4 153 260.2 155 262.1 157 263.9 159 265.6 161 267.2 163 268.7 165 269.8 167 270.5 169 271 171 271.3 173 271.4 175 271.2 177 270.6 179 269.5 181 268.2 183 266.5 185 264.6 187 262.5 189 260.7 191 259 193 257.5 195 256.5 197 255.7 199 255.2 201 255 203 255.3 205 256.4 207 258.1 209 260 211 261.9 213 263.7 215 265.6 217 267.4 219 269.2 221 270.9 223 272.5 225 273.9 227 275.1 229 276 231 276.8 233 277.3 235 277.7 237 277.8 239 277.9 241 277.9 243 277.9 245 278.1 247 278.5 249 279 251 279.7 253 280.5 255 281.5 257 282.6 259 283.8 261 285.1 263 286.5 265 287.7 267 288.9 269 289.8 271 290.6 273 291.1 275 291.2 277 291 279 290.7 281 290.2 283 289.5 285 288.4 287 287.1 289 285.6 291 284 293 282.2 295 280 297 277.5 299 274.7 301 271.9 303 269.1 305 266.3 307 263.5 309 260.9 311 258.5 313 256.3 315 254.5 317 252.9 319 251.6 321 250.6 323 250 325 249.7 327 249.7 329 249.7 331 249.8 333 250.2 335 251 337 252.1 339 253.4 341 254.9 343 256.6 345 258.3 347 259.9 349 261.5 351 263.3 353 265 355 266.3 357 267.1 359 267.5 361 267.7 363 267.7 365 267.4 367 266.5 369 265.3 371 263.8 373 262.2 375 260.4 377 258.6 379 256.9 381 255.4 383 254.2 385 253.7 387 253.5 389 253.6 391 253.9 393 254.4 395 255.3 397 256.7 399 258.3 401 260 403 261.8 405 263.7 407 265.6 409 267.5 411 269.3 413 270.9 415 272.4 417 273.7 419 274.8 421 275.6 423 276.3 425 276.8 427 277.2 429 277.6 431 277.8 433 278.1 435 278.5 437 279.1 439 279.9 441 280.8 443 281.9 445 283.1 447 284.4 449 285.8 451 287.3 453 288.7 455 290.1 457 291.3 459 292.6 461 293.6 463 294.3 465 294.5 467 294.6 469 294.6 471 294.4 473 294 475 293.1 477 291.9 479 290.4 481 288.7 483 286.7 485 284.6 487 282.6 489 280.6 491 278.4 493 276 495 273.6 497 271.4 499 269.4 501 267.6 503 266 505 264.5 507 263.1 509 262 511 261.1 513 260.4 515 259.9 517 259.8 519 260 521 260.3 523 260.9 525 261.9 527 263.3 529 265.1 531 266.9 533 268.8 535 270.6 537 272.5 539 274.3 541 276 543 277.7 545 279.3 547 280.7 549 281.6 551 281.8 553 281.6 555 281.1 557 280.2 559 278.9 561 277.2 563 275.2 565 273.2 567 271.3 569 269.6 571 268.3 573 267.2 575 266.5 577 266.1 579 266.2 581 266.6 583 267.3 585 268.3 587 269.7 589 271.4 591 273.4 593 275.4 595 277.4 597 279.3 599 281 601 282.4 603 283.7 605 284.6 607 285.2 609 285.7 611 286.1 613 286.4 615 286.6 617 286.8 619 286.9 621 287.1 623 287.4 625 287.7 627 288.1 629 288.5 631 288.9 633 289.4 635 290 637 290.8 639 291.7 641 292.7 643 293.7 645 294.6 647 295.3 649 295.9 651 296.1 653 296.1 655 295.8 657 295.4 659 294.8 661 294 663 292.9 665 291.6 667 290.2 669 288.7 671 287 673 285.1 675 283 677 280.8 679 278.5 681 276.3 683 274.1 685 271.8 687 269.6 689 267.3 691 265.1 693 262.9 695 260.9 697 259.2 699 257.7 701 256.6 703 255.8 705 255.3 707 254.9 709 254.9 711 255.4 713 256.2 715 257.3 717 258.7 719 260.3 721 262.1 723 264 725 265.7 727 267.5 729 269.4 731 271.4 733 273.2 735 274.3 737 274.9 739 275.1 741 275.2 743 275 745 274.2 747 272.9 749 271.5 751 269.9 753 268.3 755 266.7 757 265.1 759 263.5 761 262.2 763 261.3 765 260.8 767 260.6 769 260.5 771 260.7 773 261.5 775 262.8 777 264.4 779 266 781 267.5 783 269.1 785 270.7 787 272.2 789 273.8 791 275.3 793 276.7 795 278.1 797 279.2 799 280.1 801 280.6 803 281 805 281.2 807 281.3 809 281.4 811 281.4 813 281.4 815 281.5 817 281.7 819 282.1 821 282.6 823 283.2 825 283.9 827 284.9 829 285.9 831 287 833 288.1 835 289.2 837 290.1 839 290.8 841 291.4 843 291.8 845 291.7 847 290.9 849 289.6 851 288.2 853 287 855 286.1 857 285.2 859 284 861 282.4 863 280.3 865 278 867 275.6 869 273.1 871 270.7 873 268.2 875 265.8 877 263.4 879 260.9 881 258.6 883 256.5 885 254.7 887 253.2 889 252.1 891 251.3 893 250.8 895 250.7 897 250.9 899 251.6 901 252.4 903 253.4 905 254.6 907 256 909 257.4 911 258.8 913 260.3 915 261.7 917 262.8" stroke="#d62728" stroke-dasharray="0.1 7.85" stroke-linecap="round" stroke-width="3.5"/>
</g>
<rect x="81.0" y="368.5" width="837.0" height="137.0" fill="#eaeaf2"/>
<path d="M162 368.5V505.5M270 368.5V505.5M378 368.5V505.5M486 368.5V505.5M594 368.5V505.5M702 368.5V505.5M810 368.5V505.5M81.0 465H918.0M81.0 425.8H918.0M81.0 386.6H918.0" stroke="#fff" stroke-opacity="0.42" stroke-width="1.4" fill="none"/>
<clipPath id="cp3"><rect x="81.0" y="366.5" width="837.0" height="141.0"/></clipPath>
<g clip-path="url(#cp3)" fill="none" stroke-width="3.3" stroke-linejoin="round">
<path d="M81 462 83 461.9 85 461.7 87 461.6 89 461.5 91 461.4 93 461.3 95 461.2 97 461.1 99 461 101 460.9 103 460.8 105 460.8 107 460.7 109 460.7 111 460.6 113 460.6 115 460.5 117 460.5 119 460.5 121 460.4 123 460.4 125 460.4 127 460.4 129 460.4 131 460.4 133 460.3 135 460.3 137 460.3 139 460.3 141 460.3 143 460.3 145 460.4 147 460.4 149 460.4 151 460.5 153 460.6 155 460.6 157 460.7 159 460.8 161 461 163 461.1 165 461.2 167 461.4 169 461.5 171 461.7 173 461.8 175 462 177 462.2 179 462.4 181 462.5 183 462.7 185 462.9 187 463.1 189 463.3 191 463.4 193 463.6 195 463.8 197 464 199 464.1 201 464.3 203 464.4 205 464.6 207 464.7 209 464.9 211 465 213 465.1 215 465.2 217 465.3 219 465.5 221 465.6 223 465.7 225 465.8 227 465.9 229 466 231 466.2 233 466.3 235 466.4 237 466.6 239 466.7 241 466.9 243 467.1 245 467.3 247 467.5 249 467.7 251 467.9 253 468.1 255 468.4 257 468.7 259 469.2 261 469.7 263 470.3 265 470.9 267 471.6 269 472.3 271 473 273 473.7 275 474.3 277 475 279 475.5 281 476.1 283 476.6 285 477.2 287 477.7 289 478.3 291 478.7 293 479.1 295 479.4 297 479.5 299 479.5 301 479.5 303 479.5 305 479.5 307 479.5 309 479.5 311 479.5 313 479.5 315 479.5 317 479.5 319 479.5 321 479.6 323 479.7 325 480 327 480.6 329 481.4 331 482.4 333 483.5 335 484.5 337 485.6 339 486.8 341 488 343 489.5 345 491 347 492.5 349 494 351 495.4 353 496.5 355 497.4 357 497.9 359 497.8 361 497.1 363 495.6 365 493.5 367 491.3 369 489 371 487 373 485.5 375 484.2 377 483.1 379 482 381 481.1 383 480.1 385 479.2 387 478.3 389 477.4 391 476.5 393 475.5 395 474.6 397 473.7 399 472.8 401 471.9 403 471 405 470.2 407 469.4 409 468.6 411 467.9 413 467.2 415 466.6 417 466.1 419 465.5 421 465 423 464.4 425 463.7 427 463.1 429 462.3 431 461.5 433 460.6 435 459.6 437 458.5 439 457.3 441 456 443 454.5 445 452.8 447 450.7 449 448.2 451 445.6 453 443.1 455 441 457 439.2 459 437.4 461 435.7 463 434.1 465 432.6 467 431.2 469 429.9 471 428.9 473 428.1 475 427.5 477 427.3 479 427.3 481 427.6 483 428 485 428.6 487 429.2 489 429.9 491 430.5 493 431.1 495 431.6 497 432 499 432.3 501 432.6 503 432.8 505 433 507 433.2 509 433.3 511 433.1 513 432.4 515 430.8 517 428.6 519 425.7 521 422.4 523 419 525 415.4 527 411.4 529 406.9 531 402 533 397.3 535 392.9 537 389.3 539 386.2 541 383.5 543 381.1 545 379.2 547 378 549 377.8 551 378.5 553 380 555 382.1 557 384.6 559 387.1 561 389.5 563 391.7 565 394 567 396.2 569 398.4 571 400.2 573 401.4 575 401.9 577 401.9 579 401.6 581 401.1 583 400.5 585 399.9 587 399.3 589 398.9 591 398.7 593 398.8 595 399.6 597 400.9 599 402.7 601 404.7 603 406.8 605 408.8 607 410.7 609 412.3 611 413.8 613 415.3 615 416.8 617 418.1 619 419.2 621 420.2 623 421.1 625 421.9 627 422.6 629 423.3 631 423.9 633 424.6 635 425.2 637 426 639 426.8 641 427.7 643 428.7 645 429.8 647 430.9 649 432.2 651 433.4 653 434.6 655 435.8 657 436.9 659 437.9 661 438.9 663 439.9 665 440.9 667 441.9 669 442.8 671 443.5 673 444.1 675 444.4 677 444.5 679 444.3 681 443.9 683 443.3 685 442.8 687 442.2 689 441.6 691 440.9 693 440.1 695 439.4 697 438.9 699 438.6 701 438.6 703 438.9 705 439.4 707 440.1 709 440.9 711 441.8 713 442.6 715 443.4 717 444.2 719 445.1 721 446 723 446.9 725 447.8 727 448.6 729 449.3 731 449.9 733 450.5 735 451 737 451.4 739 451.9 741 452.4 743 452.9 745 453.5 747 454.1 749 454.9 751 455.7 753 456.6 755 457.5 757 458.3 759 459.1 761 459.8 763 460.4 765 460.8 767 461.2 769 461.5 771 461.8 773 462.1 775 462.3 777 462.6 779 462.8 781 463 783 463.2 785 463.4 787 463.6 789 463.7 791 463.9 793 464.1 795 464.3 797 464.5 799 464.7 801 464.9 803 465 805 465.2 807 465.3 809 465.5 811 465.6 813 465.7 815 465.8 817 465.9 819 466 821 466.1 823 466.2 825 466.2 827 466.3 829 466.3 831 466.3 833 466.2 835 466 837 465.7 839 465.4 841 465.1 843 464.8 845 464.5 847 464.2 849 463.9 851 463.7 853 463.6 855 463.4 857 463.2 859 463.1 861 463 863 462.8 865 462.7 867 462.6 869 462.5 871 462.3 873 462.2 875 462.1 877 461.9 879 461.7 881 461.6 883 461.4 885 461.2 887 461 889 460.8 891 460.7 893 460.6 895 460.5 897 460.4 899 460.4 901 460.4 903 460.4 905 460.5 907 460.7 909 460.9 911 461.1 913 461.4 915 461.6 917 461.9" stroke="#1f77b4"/>
<path d="M81 462 83 461.9 85 461.7 87 461.6 89 461.5 91 461.4 93 461.3 95 461.2 97 461.1 99 461 101 460.9 103 460.8 105 460.8 107 460.7 109 460.7 111 460.6 113 460.6 115 460.5 117 460.5 119 460.5 121 460.4 123 460.4 125 460.4 127 460.4 129 460.4 131 460.4 133 460.3 135 460.3 137 460.3 139 460.3 141 460.3 143 460.3 145 460.4 147 460.4 149 460.4 151 460.5 153 460.6 155 460.6 157 460.7 159 460.8 161 461 163 461.1 165 461.2 167 461.4 169 461.5 171 461.7 173 461.8 175 462 177 462.2 179 462.4 181 462.5 183 462.7 185 462.9 187 463.1 189 463.3 191 463.4 193 463.6 195 463.8 197 464 199 464.1 201 464.3 203 464.4 205 464.6 207 464.7 209 464.9 211 465 213 465.1 215 465.3 217 465.4 219 465.5 221 465.6 223 465.7 225 465.9 227 466 229 466.1 231 466.3 233 466.4 235 466.5 237 466.7 239 466.8 241 467 243 467.2 245 467.3 247 467.5 249 467.7 251 467.9 253 468.1 255 468.4 257 468.7 259 469 261 469.5 263 469.9 265 470.4 267 470.9 269 471.4 271 471.9 273 472.4 275 472.7 277 473 279 473.2 281 473.3 283 473.4 285 473.5 287 473.6 289 473.6 291 473.7 293 473.7 295 473.8 297 473.8 299 473.8 301 473.8 303 473.8 305 473.8 307 473.8 309 473.8 311 473.8 313 473.8 315 473.8 317 473.8 319 473.8 321 473.8 323 473.9 325 474.2 327 474.7 329 475.5 331 476.4 333 477.3 335 478.4 337 479.4 339 480.5 341 481.8 343 483.1 345 484.4 347 485.5 349 486.5 351 487.4 353 488.3 355 489.1 357 489.8 359 490.3 361 490.6 363 490.5 365 490 367 489.1 369 487.9 371 486.7 373 485.5 375 484.6 377 483.8 379 483.1 381 482.4 383 481.8 385 481.2 387 480.7 389 480.1 391 479.5 393 478.9 395 478.2 397 477.5 399 476.9 401 476.2 403 475.5 405 474.8 407 474 409 473.2 411 472.4 413 471.6 415 470.7 417 469.7 419 468.8 421 467.8 423 466.7 425 465.4 427 464.1 429 462.5 431 460.4 433 457.8 435 454.9 437 452 439 449.4 441 447.1 443 445.1 445 443.3 447 441.6 449 440.2 451 439.1 453 438.3 455 437.6 457 437.1 459 436.6 461 436.3 463 436 465 435.9 467 435.9 469 435.9 471 435.9 473 435.9 475 435.9 477 435.9 479 435.9 481 435.9 483 435.9 485 435.9 487 435.9 489 435.9 491 436 493 436.2 495 436.5 497 437 499 437.5 501 438 503 438.6 505 439 507 439.3 509 439.5 511 439.4 513 439 515 438.2 517 437.2 519 435.9 521 434.3 523 432.1 525 428.9 527 424.6 529 419.6 531 414.4 533 409.2 535 403.9 537 398.5 539 393.4 541 388.9 543 385.1 545 381.7 547 378.8 549 376.3 551 374.5 553 373.6 555 373.7 557 374.8 559 376.5 561 378.7 563 381.3 565 384.1 567 387.4 569 391.3 571 395.4 573 399.1 575 402.1 577 404.6 579 406.6 581 408.4 583 409.8 585 410.9 587 411.8 589 412.4 591 413 593 413.5 595 414 597 414.5 599 415 601 415.6 603 416.2 605 416.9 607 417.7 609 418.5 611 419.4 613 420.3 615 421.2 617 422.1 619 423.1 621 424.2 623 425.4 625 426.7 627 428 629 429.2 631 430.4 633 431.3 635 432.1 637 432.6 639 433.1 641 433.5 643 433.9 645 434.2 647 434.4 649 434.5 651 434.5 653 434.3 655 434 657 433.6 659 433.3 661 433 663 432.9 665 433 667 433.1 669 433.3 671 433.6 673 433.9 675 434.2 677 434.6 679 435.2 681 436.1 683 437.3 685 438.6 687 439.9 689 441.3 691 442.5 693 443.6 695 444.6 697 445.6 699 446.5 701 447.3 703 448.1 705 448.8 707 449.5 709 450 711 450.5 713 451 715 451.4 717 451.8 719 452.2 721 452.5 723 453 725 453.4 727 453.9 729 454.4 731 454.9 733 455.4 735 455.9 737 456.4 739 456.9 741 457.3 743 457.7 745 458.1 747 458.5 749 458.9 751 459.2 753 459.6 755 459.9 757 460.3 759 460.7 761 461.1 763 461.6 765 462.1 767 462.7 769 463.2 771 463.6 773 463.9 775 464 777 464.1 779 464.2 781 464.3 783 464.3 785 464.3 787 464.3 789 464.4 791 464.4 793 464.4 795 464.5 797 464.5 799 464.6 801 464.6 803 464.7 805 464.8 807 465 809 465.1 811 465.2 813 465.4 815 465.5 817 465.7 819 465.8 821 465.9 823 466 825 466.1 827 466.2 829 466.3 831 466.4 833 466.4 835 466.5 837 466.5 839 466.6 841 466.6 843 466.6 845 466.6 847 466.6 849 466.6 851 466.6 853 466.6 855 466.6 857 466.6 859 466.6 861 466.5 863 466.5 865 466.4 867 466.3 869 466.2 871 466 873 465.9 875 465.7 877 465.5 879 465.4 881 465.2 883 465 885 464.8 887 464.5 889 464.2 891 464 893 463.8 895 463.6 897 463.4 899 463.4 901 463.3 903 463.4 905 463.4 907 463.5 909 463.7 911 463.8 913 464 915 464.2 917 464.4" stroke="#ff7f0e" stroke-dasharray="11.1 4.8"/>
<path d="M81 462 83 461.9 85 461.7 87 461.6 89 461.5 91 461.4 93 461.3 95 461.2 97 461.1 99 461 101 460.9 103 460.8 105 460.8 107 460.7 109 460.7 111 460.6 113 460.6 115 460.5 117 460.5 119 460.5 121 460.4 123 460.4 125 460.4 127 460.4 129 460.4 131 460.4 133 460.3 135 460.3 137 460.3 139 460.3 141 460.3 143 460.3 145 460.4 147 460.4 149 460.4 151 460.5 153 460.6 155 460.6 157 460.7 159 460.8 161 461 163 461.1 165 461.2 167 461.4 169 461.5 171 461.7 173 461.8 175 462 177 462.2 179 462.4 181 462.5 183 462.7 185 462.9 187 463.1 189 463.3 191 463.4 193 463.6 195 463.8 197 464 199 464.1 201 464.3 203 464.4 205 464.6 207 464.7 209 464.9 211 465 213 465.1 215 465.2 217 465.4 219 465.5 221 465.6 223 465.7 225 465.8 227 466 229 466.1 231 466.2 233 466.3 235 466.5 237 466.6 239 466.8 241 466.9 243 467.1 245 467.3 247 467.5 249 467.7 251 467.9 253 468.1 255 468.4 257 468.7 259 469.1 261 469.5 263 470 265 470.6 267 471.2 269 471.8 271 472.3 273 472.9 275 473.4 277 473.9 279 474.3 281 474.7 283 475.1 285 475.4 287 475.8 289 476.1 291 476.3 293 476.6 295 476.8 297 477 299 477.1 301 477.3 303 477.4 305 477.5 307 477.5 309 477.6 311 477.7 313 477.7 315 477.8 317 477.9 319 478 321 478.2 323 478.4 325 478.8 327 479.3 329 480 331 480.7 333 481.4 335 482.1 337 483 339 483.9 341 484.8 343 485.8 345 486.6 347 487.2 349 487.6 351 487.7 353 487.5 355 487.2 357 486.8 359 486.3 361 485.7 363 485.1 365 484.4 367 483.5 369 482.5 371 481.3 373 480.2 375 479.2 377 478.5 379 478 381 477.7 383 477.4 385 477.2 387 477 389 476.8 391 476.6 393 476.5 395 476.3 397 476.1 399 475.9 401 475.7 403 475.4 405 475.2 407 475 409 474.8 411 474.5 413 474.3 415 474 417 473.7 419 473.4 421 473.1 423 472.7 425 472.3 427 471.8 429 471.3 431 470.7 433 470.1 435 469.4 437 468.5 439 467.5 441 466.4 443 465.1 445 463.8 447 462.3 449 460.9 451 459.4 453 457.9 455 456.5 457 455.2 459 454 461 452.8 463 451.7 465 450.6 467 449.6 469 448.6 471 447.6 473 446.6 475 445.7 477 444.7 479 443.8 481 442.9 483 442.1 485 441.2 487 440.5 489 439.7 491 438.9 493 438 495 437.1 497 436 499 434.9 501 433.8 503 432.5 505 431.1 507 429.6 509 427.9 511 425.9 513 423.5 515 420.5 517 416.8 519 412.7 521 408.5 523 404.5 525 400.9 527 397.6 529 394.4 531 391.5 533 388.7 535 386.2 537 383.9 539 381.7 541 379.7 543 378.1 545 377.1 547 377.1 549 377.9 551 379.4 553 381.4 555 383.5 557 385.7 559 387.8 561 390.1 563 392.6 565 395 567 397.4 569 399.4 571 401.1 573 402.4 575 403.5 577 404.4 579 405.1 581 405.8 583 406.5 585 407.1 587 407.6 589 408.2 591 408.8 593 409.3 595 409.8 597 410.3 599 410.7 601 411.2 603 411.7 605 412.2 607 412.7 609 413.2 611 413.9 613 414.6 615 415.4 617 416.3 619 417.1 621 418 623 418.9 625 419.7 627 420.5 629 421.2 631 421.8 633 422.2 635 422.6 637 423 639 423.3 641 423.6 643 423.8 645 423.8 647 423.7 649 423.4 651 423.1 653 422.7 655 422.4 657 422.3 659 422.4 661 422.9 663 423.6 665 424.6 667 425.6 669 426.7 671 427.9 673 429.2 675 430.7 677 432.4 679 434.1 681 435.7 683 437.1 685 438.3 687 439.4 689 440.3 691 441.1 693 441.9 695 442.7 697 443.5 699 444.3 701 445.1 703 445.9 705 446.8 707 447.6 709 448.4 711 449.3 713 450.1 715 450.9 717 451.8 719 452.7 721 453.6 723 454.4 725 455.3 727 456.1 729 456.8 731 457.5 733 458.1 735 458.7 737 459.3 739 459.8 741 460.3 743 460.6 745 460.8 747 460.9 749 461 751 461.1 753 461.1 755 461.2 757 461.2 759 461.3 761 461.4 763 461.5 765 461.6 767 461.7 769 461.8 771 461.9 773 462 775 462.1 777 462.2 779 462.3 781 462.4 783 462.5 785 462.6 787 462.7 789 462.8 791 462.9 793 462.9 795 463 797 463.1 799 463.2 801 463.2 803 463.3 805 463.4 807 463.4 809 463.5 811 463.6 813 463.7 815 463.9 817 464.1 819 464.4 821 464.7 823 465 825 465.4 827 465.6 829 465.7 831 465.8 833 465.8 835 465.8 837 465.8 839 465.7 841 465.7 843 465.6 845 465.6 847 465.5 849 465.5 851 465.4 853 465.4 855 465.3 857 465.2 859 465.1 861 465 863 464.8 865 464.7 867 464.5 869 464.3 871 464.2 873 464.1 875 464 877 463.9 879 463.8 881 463.8 883 463.8 885 463.8 887 463.8 889 463.8 891 463.8 893 463.8 895 463.8 897 463.8 899 463.8 901 463.8 903 463.8 905 463.8 907 463.9 909 464 911 464.1 913 464.2 915 464.4 917 464.5" stroke="#2ca02c" stroke-dasharray="19.2 4.8 3 4.8"/>
<path d="M81 462 83 461.9 85 461.7 87 461.6 89 461.5 91 461.4 93 461.3 95 461.2 97 461.1 99 461 101 460.9 103 460.8 105 460.8 107 460.7 109 460.7 111 460.6 113 460.6 115 460.5 117 460.5 119 460.5 121 460.4 123 460.4 125 460.4 127 460.4 129 460.4 131 460.4 133 460.3 135 460.3 137 460.3 139 460.3 141 460.3 143 460.3 145 460.4 147 460.4 149 460.4 151 460.5 153 460.6 155 460.6 157 460.7 159 460.8 161 461 163 461.1 165 461.2 167 461.4 169 461.5 171 461.7 173 461.8 175 462 177 462.2 179 462.4 181 462.5 183 462.7 185 462.9 187 463.1 189 463.3 191 463.4 193 463.6 195 463.8 197 464 199 464.1 201 464.3 203 464.4 205 464.6 207 464.7 209 464.9 211 465 213 465.1 215 465.3 217 465.4 219 465.5 221 465.6 223 465.7 225 465.9 227 466 229 466.1 231 466.3 233 466.4 235 466.5 237 466.7 239 466.8 241 467 243 467.2 245 467.3 247 467.5 249 467.7 251 467.9 253 468.1 255 468.4 257 468.6 259 468.9 261 469.2 263 469.5 265 469.8 267 470.2 269 470.6 271 471 273 471.5 275 471.9 277 472.5 279 473.1 281 473.8 283 474.6 285 475.7 287 476.7 289 477.8 291 478.9 293 479.9 295 480.9 297 481.6 299 481.9 301 481.8 303 481.7 305 481.5 307 481.4 309 481.3 311 481.3 313 481.3 315 481.3 317 481.3 319 481.3 321 481.3 323 481.3 325 481.4 327 481.7 329 482.1 331 482.5 333 483 335 483.5 337 484.1 339 484.7 341 485.2 343 485.8 345 486.3 347 486.7 349 487 351 487.2 353 487.4 355 487.4 357 487.3 359 487 361 486.5 363 486 365 485.6 367 485.3 369 485 371 484.7 373 484.4 375 484.2 377 483.9 379 483.6 381 483.3 383 483 385 482.6 387 482.3 389 482 391 481.7 393 481.3 395 481.1 397 480.8 399 480.7 401 480.5 403 480.4 405 480.3 407 480.1 409 480 411 479.8 413 479.6 415 479.4 417 479.1 419 478.8 421 478.5 423 478 425 477.5 427 476.8 429 476.1 431 475.3 433 474.5 435 473.7 437 472.9 439 472.1 441 471.2 443 470.3 445 469.3 447 468.3 449 467.1 451 465.9 453 464.7 455 463.3 457 462 459 460.7 461 459.5 463 458.3 465 457.1 467 455.8 469 454.5 471 453.1 473 451.6 475 450 477 448.5 479 446.9 481 445.5 483 444.2 485 442.9 487 441.5 489 440.2 491 438.8 493 437.5 495 436.3 497 435.1 499 433.9 501 432.9 503 431.9 505 430.9 507 429.7 509 428.4 511 426.8 513 425.3 515 423.9 517 422.7 519 421.7 521 420.9 523 420.3 525 419.9 527 419.5 529 419.3 531 419.2 533 419.3 535 419.4 537 419.5 539 419.7 541 419.8 543 419.9 545 420 547 420.1 549 420.2 551 420.3 553 420.3 555 420.5 557 420.7 559 420.9 561 421.2 563 421.3 565 421.3 567 421.2 569 421.1 571 420.9 573 420.5 575 420.1 577 419.7 579 419.3 581 419 583 418.7 585 418.6 587 418.5 589 418.7 591 419 593 419.6 595 420.1 597 420.7 599 421.3 601 421.8 603 422.4 605 423 607 423.5 609 424 611 424.4 613 424.7 615 425 617 425.2 619 425.3 621 425.4 623 425.5 625 425.6 627 425.7 629 425.8 631 425.8 633 425.8 635 425.9 637 425.9 639 425.9 641 425.9 643 425.9 645 425.9 647 425.9 649 425.9 651 425.9 653 425.9 655 425.8 657 425.6 659 425.3 661 424.9 663 424.4 665 423.8 667 423.1 669 422.5 671 421.9 673 421.5 675 421.2 677 421.1 679 421.2 681 421.7 683 422.4 685 423.2 687 424.1 689 425.1 691 426.1 693 427.3 695 428.7 697 430.2 699 431.5 701 432.6 703 433.5 705 434.1 707 434.4 709 434.5 711 434.3 713 434.1 715 433.9 717 433.8 719 433.6 721 433.5 723 433.4 725 433.5 727 433.8 729 434.2 731 434.8 733 435.7 735 437 737 438.4 739 440 741 441.6 743 443.2 745 444.7 747 446 749 447.2 751 448.4 753 449.6 755 450.7 757 451.7 759 452.7 761 453.4 763 454.1 765 454.7 767 455.3 769 455.8 771 456.2 773 456.7 775 457.2 777 457.6 779 458.1 781 458.5 783 458.9 785 459.3 787 459.7 789 460 791 460.3 793 460.4 795 460.6 797 460.7 799 460.8 801 461 803 461.3 805 461.6 807 462.1 809 462.6 811 463.3 813 464 815 464.5 817 464.9 819 465.2 821 465.5 823 465.7 825 465.8 827 466 829 466.1 831 466.2 833 466.3 835 466.3 837 466.3 839 466.3 841 466.3 843 466.3 845 466.3 847 466.4 849 466.4 851 466.5 853 466.5 855 466.6 857 466.6 859 466.6 861 466.6 863 466.6 865 466.6 867 466.6 869 466.6 871 466.6 873 466.6 875 466.5 877 466.5 879 466.4 881 466.4 883 466.3 885 466.2 887 466 889 465.9 891 465.7 893 465.5 895 465.3 897 465.2 899 465.1 901 465.1 903 465.1 905 465.1 907 465.1 909 465 911 465 913 464.9 915 464.8 917 464.7" stroke="#d62728" stroke-dasharray="0.1 7.85" stroke-linecap="round" stroke-width="3.5"/>
</g>
<rect x="90" y="377.2" width="188" height="120" rx="3.5" fill="#eaeaf2" fill-opacity="0.84" stroke="#ccc" stroke-opacity="0.8" stroke-width="1.2"/>
<path d="M97.5 393.0H138.7" stroke="#1f77b4" stroke-width="3.3" fill="none"/>
<text x="153.5" y="400.1" font-family="'DejaVu Sans','Liberation Sans',sans-serif" font-size="19.4" fill="#262626">6D</text>
<path d="M97.5 421.6H138.7" stroke="#ff7f0e" stroke-width="3.3" stroke-dasharray="11.1 4.8" fill="none"/>
<text x="153.5" y="428.70000000000005" font-family="'DejaVu Sans','Liberation Sans',sans-serif" font-size="19.4" fill="#262626">6D-Pitch</text>
<path d="M97.5 450.3H138.7" stroke="#2ca02c" stroke-width="3.3" stroke-dasharray="19.2 4.8 3 4.8" fill="none"/>
<text x="153.5" y="457.40000000000003" font-family="'DejaVu Sans','Liberation Sans',sans-serif" font-size="19.4" fill="#262626">Stereo-Pitch</text>
<path d="M99 479.3H138.7" stroke="#d62728" stroke-width="3.5" stroke-dasharray="0.1 7.85" stroke-linecap="round" fill="none"/>
<text x="153.5" y="486.40000000000003" font-family="'DejaVu Sans','Liberation Sans',sans-serif" font-size="19.4" fill="#262626">Mono</text>
<text x="74.3" y="177.4" font-family="'DejaVu Sans','Liberation Sans',sans-serif" font-size="21.8" text-anchor="end" fill="#262626">-2</text>
<text x="74.3" y="145.8" font-family="'DejaVu Sans','Liberation Sans',sans-serif" font-size="21.8" text-anchor="end" fill="#262626">-1</text>
<text x="74.3" y="114.2" font-family="'DejaVu Sans','Liberation Sans',sans-serif" font-size="21.8" text-anchor="end" fill="#262626">0</text>
<text x="74.3" y="82.6" font-family="'DejaVu Sans','Liberation Sans',sans-serif" font-size="21.8" text-anchor="end" fill="#262626">1</text>
<text x="74.3" y="51" font-family="'DejaVu Sans','Liberation Sans',sans-serif" font-size="21.8" text-anchor="end" fill="#262626">2</text>
<text x="74.3" y="342.7" font-family="'DejaVu Sans','Liberation Sans',sans-serif" font-size="21.8" text-anchor="end" fill="#262626">-2</text>
<text x="74.3" y="311.1" font-family="'DejaVu Sans','Liberation Sans',sans-serif" font-size="21.8" text-anchor="end" fill="#262626">-1</text>
<text x="74.3" y="279.5" font-family="'DejaVu Sans','Liberation Sans',sans-serif" font-size="21.8" text-anchor="end" fill="#262626">0</text>
<text x="74.3" y="247.9" font-family="'DejaVu Sans','Liberation Sans',sans-serif" font-size="21.8" text-anchor="end" fill="#262626">1</text>
<text x="74.3" y="216.3" font-family="'DejaVu Sans','Liberation Sans',sans-serif" font-size="21.8" text-anchor="end" fill="#262626">2</text>
<text x="74.3" y="473.3" font-family="'DejaVu Sans','Liberation Sans',sans-serif" font-size="21.8" text-anchor="end" fill="#262626">0</text>
<text x="78.5" y="529.9" font-family="'DejaVu Sans','Liberation Sans',sans-serif" font-size="21.8" text-anchor="middle" fill="#262626">-350</text>
<text x="159.5" y="529.9" font-family="'DejaVu Sans','Liberation Sans',sans-serif" font-size="21.8" text-anchor="middle" fill="#262626">-200</text>
<text x="270" y="529.9" font-family="'DejaVu Sans','Liberation Sans',sans-serif" font-size="21.8" text-anchor="middle" fill="#262626">0</text>
<text x="378" y="529.9" font-family="'DejaVu Sans','Liberation Sans',sans-serif" font-size="21.8" text-anchor="middle" fill="#262626">200</text>
<text x="486" y="529.9" font-family="'DejaVu Sans','Liberation Sans',sans-serif" font-size="21.8" text-anchor="middle" fill="#262626">400</text>
<text x="594" y="529.9" font-family="'DejaVu Sans','Liberation Sans',sans-serif" font-size="21.8" text-anchor="middle" fill="#262626">600</text>
<text x="702" y="529.9" font-family="'DejaVu Sans','Liberation Sans',sans-serif" font-size="21.8" text-anchor="middle" fill="#262626">800</text>
<text x="810" y="529.9" font-family="'DejaVu Sans','Liberation Sans',sans-serif" font-size="21.8" text-anchor="middle" fill="#262626">1000</text>
<text x="918" y="529.9" font-family="'DejaVu Sans','Liberation Sans',sans-serif" font-size="21.8" text-anchor="middle" fill="#262626">1200</text>
<text x="499.5" y="553.7" font-family="'DejaVu Sans','Liberation Sans',sans-serif" font-size="21.8" text-anchor="middle" fill="#262626">Time (ms)</text>
<text transform="translate(20.2 106.3) rotate(-90)" font-family="'DejaVu Sans','Liberation Sans',sans-serif" font-size="22.1" text-anchor="middle" fill="#262626">Target</text>
<text transform="translate(44.3 106) rotate(-90)" font-family="'DejaVu Sans','Liberation Sans',sans-serif" font-size="22.1" text-anchor="middle" fill="#262626">Potential (<tspan font-style="italic">μ</tspan>V)</text>
<text transform="translate(20.2 271.5) rotate(-90)" font-family="'DejaVu Sans','Liberation Sans',sans-serif" font-size="22.1" text-anchor="middle" fill="#262626">Nontarget</text>
<text transform="translate(44.3 271.3) rotate(-90)" font-family="'DejaVu Sans','Liberation Sans',sans-serif" font-size="22.1" text-anchor="middle" fill="#262626">Potential (<tspan font-style="italic">μ</tspan>V)</text>
<text transform="translate(51.3 437.3) rotate(-90)" font-family="'DejaVu Sans','Liberation Sans',sans-serif" font-size="22.1" text-anchor="middle" fill="#262626">Signed-r<tspan font-size="15.6" dy="-8">2</tspan></text>
<text x="377.5" y="27.5" font-family="'Liberation Sans','DejaVu Sans',sans-serif" font-size="30" text-anchor="middle" fill="#000">A</text>
<text x="431.4" y="27.5" font-family="'Liberation Sans','DejaVu Sans',sans-serif" font-size="30" text-anchor="middle" fill="#000">B</text>
<text x="511" y="27.5" font-family="'Liberation Sans','DejaVu Sans',sans-serif" font-size="30" text-anchor="middle" fill="#000">C</text>
<text x="619.6" y="27.5" font-family="'Liberation Sans','DejaVu Sans',sans-serif" font-size="30" text-anchor="middle" fill="#000">D</text>
<rect x="1009.5" y="30.5" width="142.5" height="514.5" rx="14" fill="rgb(230,221,243)"/>
<rect x="1169.5" y="30.5" width="142.5" height="514.5" rx="14" fill="rgb(247,227,245)"/>
<rect x="1329.5" y="30.5" width="142.5" height="514.5" rx="14" fill="rgb(230,221,243)"/>
<rect x="1489.5" y="30.5" width="142.5" height="514.5" rx="14" fill="rgb(247,227,245)"/>
<text x="1079.7" y="22.3" font-family="'Liberation Sans','DejaVu Sans',sans-serif" font-size="30" text-anchor="middle" fill="#000">A</text>
<text x="1239.7" y="22.3" font-family="'Liberation Sans','DejaVu Sans',sans-serif" font-size="30" text-anchor="middle" fill="#000">B</text>
<text x="1399.7" y="22.3" font-family="'Liberation Sans','DejaVu Sans',sans-serif" font-size="30" text-anchor="middle" fill="#000">C</text>
<text x="1559.7" y="22.3" font-family="'Liberation Sans','DejaVu Sans',sans-serif" font-size="30" text-anchor="middle" fill="#000">D</text>
<text transform="translate(987.8 84.3) rotate(-90)" font-family="'Liberation Sans','DejaVu Sans',sans-serif" font-size="28.7" text-anchor="middle" fill="#000">6D</text>
<text transform="translate(987.8 204) rotate(-90)" font-family="'Liberation Sans','DejaVu Sans',sans-serif" font-size="28.7" text-anchor="middle" fill="#000">6D-Pitch</text>
<text transform="translate(987.8 349.8) rotate(-90)" font-family="'Liberation Sans','DejaVu Sans',sans-serif" font-size="28.7" text-anchor="middle" fill="#000">Stereo-Pitch</text>
<text transform="translate(987.8 482.4) rotate(-90)" font-family="'Liberation Sans','DejaVu Sans',sans-serif" font-size="28.7" text-anchor="middle" fill="#000">Mono</text>
<defs><radialGradient id="mg" cx="0.5" cy="0.5" r="0.5"><stop offset="0.86" stop-color="#fff" stop-opacity="1"/><stop offset="0.94" stop-color="#fff" stop-opacity="0.55"/><stop offset="1" stop-color="#fff" stop-opacity="0"/></radialGradient><filter id="gl" x="-10%" y="-10%" width="120%" height="120%"><feGaussianBlur stdDeviation="1.6"/></filter></defs>
<defs><filter id="bl" x="-5%" y="-5%" width="110%" height="110%"><feGaussianBlur stdDeviation="0.8"/></filter></defs>
<mask id="tc00" maskUnits="userSpaceOnUse" x="1025.5" y="37.7" width="112.0" height="112.0"><circle cx="1081.5" cy="93.7" r="53.0" fill="url(#mg)"/></mask>
<circle cx="1081.5" cy="93.7" r="51.5" fill="#fbfafb" filter="url(#gl)"/>
<g mask="url(#tc00)">
<g filter="url(#bl)"><rect x="1026.5" y="38.7" width="110.0" height="110.0" fill="#f7f6f6"/>
<path d="M1047.7 41.7 1050.7 39.7 1106.9 39.7 1109.5 42.6 1111.5 45.7 1119.5 63.8 1121.5 67.8 1128.2 79.7 1130.1 83.7 1130.8 85.7 1132.2 91.7 1132.4 93.7 1132.4 97.7 1131.9 101.7 1130.2 109.7 1128 115.7 1127 117.7 1124.6 121.7 1123 123.7 1121 125.7 1117.5 128.4 1113.5 130.9 1103.5 136.3 1091.5 143 1087.5 144.7 1085.5 145.3 1081.5 146.1 1077.5 146.3 1075.5 146.2 1069.5 145.1 1063.5 143.2 1057.5 140.8 1049.5 136.7 1045.5 134.3 1041.5 131.4 1037.5 128.2 1027.5 118.8 1027.5 65.3 1029 61.7 1030.1 59.7 1033.5 55.1 1036.6 51.7 1041.5 46.9 1045.1 43.7Z" fill="#eff3f5" fill-rule="evenodd"/>
<path d="M1072.2 41.7 1077.5 41 1081.5 40.9 1085.5 41.3 1091.5 42.5 1095.5 44 1099.5 46 1103.5 48.8 1105.5 50.5 1107.5 52.6 1109.5 55 1112.6 59.7 1122.3 77.7 1124.9 83.7 1126 87.7 1126.7 91.7 1126.9 95.7 1126.7 99.7 1126.1 103.7 1125.1 107.7 1123.7 111.7 1121.8 115.7 1119.5 119.3 1117.6 121.7 1115.5 123.8 1111.5 126.9 1107.5 129.3 1103.5 131.5 1097.5 134.4 1091.5 136.9 1087.5 138.2 1083.5 139.1 1079.5 139.5 1075.5 139.6 1071.5 139.2 1067.5 138.5 1061.5 136.7 1057.5 135 1053.5 132.8 1049.5 130.1 1045.5 126.9 1040.4 121.7 1037.1 117.7 1034.3 113.7 1032.1 109.7 1030.4 105.7 1029.9 103.7 1029.3 99.7 1029.2 95.7 1029.8 89.7 1030.5 85.7 1032.6 77.7 1034 73.7 1035.8 69.7 1038.1 65.7 1039.5 63.7 1042.7 59.7 1047.5 54.8 1051.5 51.2 1055.5 48.2 1059.5 45.9 1063.5 44 1067.5 42.6Z" fill="#e6eff4" fill-rule="evenodd"/>
<path d="M1072.3 45.7 1077.5 45 1081.5 45 1085.5 45.3 1089.5 46.1 1093.5 47.4 1097.5 49.2 1101.3 51.7 1103.5 53.5 1105.5 55.6 1107.2 57.7 1109.5 61.1 1117.3 75.7 1119.2 79.7 1120.9 83.7 1122.1 87.7 1122.8 91.7 1123 93.7 1123 97.7 1122.5 101.7 1121.5 106.2 1119.5 111.7 1118.5 113.7 1117.3 115.7 1115.9 117.7 1114.2 119.7 1111.5 122.2 1107.5 125.1 1103.5 127.4 1099.5 129.4 1093.5 132.1 1089.5 133.6 1085.5 134.8 1081.5 135.6 1077.5 136 1073.5 136 1069.5 135.6 1065.5 134.7 1061.5 133.4 1057.5 131.6 1054.2 129.7 1051.5 127.8 1047.5 124.5 1044.7 121.7 1041.3 117.7 1038.5 113.7 1036.3 109.7 1034.7 105.7 1034.1 103.7 1033.4 99.7 1033.1 95.7 1033.3 91.7 1034.1 85.7 1035 81.7 1036.2 77.7 1037.8 73.7 1039.9 69.7 1042.5 65.7 1045.8 61.7 1049.5 57.9 1051.9 55.7 1055.5 52.8 1059.5 50.3 1063.5 48.3 1067.5 46.8Z" fill="#ddebf2" fill-rule="evenodd"/>
<path d="M1067.4 49.7 1071.5 48.6 1075.5 48 1079.5 47.8 1083.5 48 1087.5 48.6 1091.5 49.7 1095.5 51.5 1098.9 53.7 1101.2 55.7 1103 57.7 1105.5 61.4 1107.5 64.7 1112.4 73.7 1115.4 79.7 1117 83.7 1118.2 87.7 1118.9 91.7 1119 93.7 1119 97.7 1118.4 101.7 1117.5 105.4 1116.7 107.7 1115.5 110.4 1113.5 113.9 1111.5 116.4 1109.5 118.5 1107.5 120.3 1103.5 123.1 1099.5 125.4 1095.5 127.3 1087.5 130.5 1083.5 131.6 1079.5 132.4 1075.5 132.8 1071.5 132.7 1067.5 132.1 1063.5 131.1 1059.8 129.7 1057.5 128.5 1053.5 126 1050.6 123.7 1047.5 120.7 1044.8 117.7 1041.8 113.7 1039.5 109.8 1038.5 107.7 1037 103.7 1036.2 99.7 1035.8 95.7 1035.9 91.7 1036.4 87.7 1037.2 83.7 1038.3 79.7 1039.8 75.7 1041.8 71.7 1044.3 67.7 1047.5 63.8 1051.4 59.7 1053.6 57.7 1056.1 55.7 1059.5 53.4 1063.5 51.2Z" fill="#d4e6f1" fill-rule="evenodd"/>
<path d="M1069.4 51.7 1073.5 50.9 1077.5 50.5 1083.5 50.8 1087.5 51.6 1089.5 52.4 1092.4 53.7 1095.5 55.8 1097.6 57.7 1101 61.7 1105.5 68.6 1109.4 75.7 1111.4 79.7 1113.1 83.7 1114.3 87.7 1115 91.7 1115.1 93.7 1115.1 95.7 1114.7 99.7 1113.8 103.7 1113.1 105.7 1111.5 109 1109.9 111.7 1106.5 115.7 1104.3 117.7 1101.5 119.8 1098.6 121.7 1094.9 123.7 1090.7 125.7 1085.5 127.7 1081.5 128.8 1077.5 129.5 1073.5 129.7 1071.5 129.6 1067.5 129.1 1065.5 128.6 1061.5 127.2 1058.6 125.7 1055.4 123.7 1051.5 120.5 1048.7 117.7 1045.5 113.8 1043.5 111 1041.5 107.6 1039.9 103.7 1039.3 101.7 1038.9 99.7 1038.5 95.7 1038.5 91.7 1038.9 87.7 1039.5 84.5 1040.9 79.7 1041.6 77.7 1043.5 73.7 1045.5 70.5 1047.5 67.7 1051.5 63.2 1055.5 59.4 1057.6 57.7 1061.5 55.1 1065.5 53.1Z" fill="#c7e0ed" fill-rule="evenodd"/>
<path d="M1067.9 55.7 1071.5 54.7 1075.5 54.1 1079.5 54.2 1081.5 54.4 1085.5 55.4 1087.5 56.2 1090.4 57.7 1093.2 59.7 1095.3 61.7 1097.5 64.2 1101.5 69.9 1105.5 76.9 1107.5 80.9 1109.4 85.7 1109.9 87.7 1110.6 91.7 1110.8 93.7 1110.7 95.7 1110.2 99.7 1109.5 102.3 1108.1 105.7 1105.7 109.7 1102.2 113.7 1099.9 115.7 1097.3 117.7 1090.7 121.7 1086.6 123.7 1083.5 124.9 1080.7 125.7 1077.5 126.3 1073.5 126.7 1071.5 126.6 1067.5 126 1065.5 125.5 1061.5 123.9 1059.5 122.8 1055.5 119.9 1053.5 118.1 1051.3 115.7 1048.1 111.7 1046.7 109.7 1044.5 105.7 1042.9 101.7 1042.4 99.7 1042 97.7 1041.6 93.7 1042 87.7 1043.4 81.7 1045 77.7 1046 75.7 1047.5 73.1 1050 69.7 1053.5 65.7 1055.6 63.7 1059.5 60.4 1061.5 59 1065.5 56.7Z" fill="#bbdaea" fill-rule="evenodd"/>
<path d="M1068.5 59.7 1071.5 58.8 1073.5 58.5 1077.5 58.4 1079.5 58.7 1083.4 59.7 1085.5 60.6 1087.5 61.7 1089.5 63.2 1091.5 65 1093.8 67.7 1097.8 73.7 1101.1 79.7 1102.9 83.7 1103.7 85.7 1104.7 89.7 1105.2 93.7 1105.1 95.7 1104.3 99.7 1102.8 103.7 1100.3 107.7 1096.8 111.7 1092.2 115.7 1089.5 117.7 1086.2 119.7 1081.5 121.9 1077.5 123 1075.5 123.3 1071.5 123.4 1069.5 123.2 1065.5 122.2 1063.5 121.4 1060.5 119.7 1057.8 117.7 1055.5 115.6 1053.5 113.4 1050.8 109.7 1049.5 107.7 1047.4 103.7 1046.7 101.7 1045.6 97.7 1045.3 95.7 1045.1 91.7 1045.4 87.7 1045.7 85.7 1046.2 83.7 1047.5 80 1049.7 75.7 1051.5 73.1 1053.5 70.7 1055.5 68.5 1058.5 65.7 1061.5 63.4 1063.5 62.1 1065.5 61Z" fill="#acd2e5" fill-rule="evenodd"/>
<path d="M1070.8 63.7 1073.5 63.3 1075.5 63.3 1077.5 63.6 1079.5 64.1 1081.5 65 1083.5 66.1 1085.5 67.7 1087.3 69.7 1089.9 73.7 1092.6 79.7 1095.3 87.7 1096.1 91.7 1096.3 93.7 1096 97.7 1095 101.7 1093.1 105.7 1090.5 109.7 1086.8 113.7 1083.5 116.3 1081.5 117.5 1079.5 118.4 1077.5 119.1 1074.6 119.7 1071.5 119.9 1069.5 119.7 1065.5 118.5 1063.5 117.5 1061.5 116.2 1058.5 113.7 1055 109.7 1053.5 107.6 1051.3 103.7 1049.5 98.7 1048.6 93.7 1048.6 91.7 1048.9 87.7 1049.8 83.7 1051.4 79.7 1054 75.7 1057.5 71.6 1061.5 68.2 1065.5 65.6 1067.5 64.7Z" fill="#9dcbe1" fill-rule="evenodd"/>
<path d="M1070 69.7 1071.5 69.5 1073.5 69.5 1075.5 70 1077.5 70.9 1079.5 72.5 1080.6 73.7 1082 75.7 1083.7 79.7 1085.8 87.7 1086.8 93.7 1086.9 97.7 1086.4 101.7 1085.1 105.7 1083.5 108.6 1081.5 111 1079.5 112.7 1078 113.7 1075.5 114.8 1073.5 115.3 1071.5 115.4 1069.5 115.2 1067.5 114.7 1065.5 113.9 1063.5 112.7 1061.5 111.1 1060.1 109.7 1057.5 106.5 1055.5 103.2 1054 99.7 1052.9 95.7 1052.6 91.7 1052.9 87.7 1053.5 85.2 1055 81.7 1057.5 77.9 1059.5 75.7 1061.5 73.9 1063.5 72.5 1065.5 71.3 1067.5 70.4Z" fill="#8dc2dc" fill-rule="evenodd"/>
<path d="M1066.7 79.7 1067.5 79.5 1069.5 79.4 1070.5 79.7 1071.5 80.1 1073.5 81.8 1075.7 85.7 1077.1 89.7 1078.1 93.7 1078.6 97.7 1078.5 99.7 1078.2 101.7 1077.5 103.7 1076.3 105.7 1075.5 106.6 1073.5 108.1 1071.5 108.7 1069.5 108.7 1067.5 108.1 1065.5 107 1063.5 105.3 1061.5 102.8 1059.8 99.7 1058.5 95.7 1058.2 93.7 1058.2 91.7 1058.4 89.7 1059.5 86 1061.5 83.1 1063 81.7 1065.5 80.1Z" fill="#7bb6d6" fill-rule="evenodd"/>
</g>
<path d="M1067.5 97.7 1067.5 97.7ZM1067.5 69.6 1063.5 71.7 1061.5 73.1 1059.5 74.9 1057.5 77 1055.5 79.7 1053.5 83.6 1052.8 85.7 1052.1 89.7 1052.1 93.7 1052.8 97.7 1054.2 101.7 1056.4 105.7 1057.7 107.7 1059.5 109.9 1061.5 111.8 1063.5 113.3 1065.5 114.5 1067.5 115.3 1069.5 115.8 1071.5 116 1073.5 115.9 1075.5 115.5 1077.5 114.7 1079.5 113.6 1081.9 111.7 1083.7 109.7 1085 107.7 1086.1 105.7 1086.8 103.7 1087.7 99.7 1087.9 95.7 1087.5 91.7 1085.9 83.7 1084 77.7 1083.1 75.7 1081.9 73.7 1080.2 71.7 1077.3 69.7 1075.5 69 1073.5 68.7 1071.5 68.7 1069.5 69ZM1073.5 59.4 1071.5 59.7 1067.5 61 1063.5 63 1059.7 65.7 1057.5 67.6 1053.5 71.7 1051.5 74.3 1049.5 77.5 1047.6 81.7 1046.9 83.7 1046.1 87.7 1045.7 91.7 1045.8 93.7 1046.3 97.7 1046.8 99.7 1047.5 101.9 1049.2 105.7 1051.5 109.6 1053 111.7 1055.5 114.6 1057.5 116.5 1059.5 118.2 1061.8 119.7 1065.5 121.5 1067.5 122.1 1071.5 122.7 1073.5 122.8 1077.5 122.3 1079.7 121.7 1083.5 120.2 1087.9 117.7 1093 113.7 1097 109.7 1100.1 105.7 1102.1 101.7 1102.8 99.7 1103.5 96.6 1103.7 93.7 1103.6 91.7 1103.3 89.7 1102.1 85.7 1099.5 79.6 1095.2 71.7 1092.3 67.7 1090.6 65.7 1087.5 63.1 1085.5 61.8 1083.5 60.9 1079.5 59.7 1075.5 59.3ZM1069.5 53.3 1067.5 54 1063.5 55.8 1060.4 57.7 1057.5 59.9 1051.5 65.6 1049.5 67.8 1046.6 71.7 1045.3 73.7 1043.5 77.2 1041.8 81.7 1041.3 83.7 1040.5 87.7 1040.1 91.7 1040.1 95.7 1040.3 97.7 1041.1 101.7 1041.8 103.7 1043.6 107.7 1046.2 111.7 1049.3 115.7 1051.5 118.2 1055.4 121.7 1057.5 123.2 1059.5 124.4 1063.5 126.3 1065.5 127 1069.5 127.8 1071.5 128 1075.5 128 1078.4 127.7 1081.5 127.1 1085.5 125.9 1089.5 124.2 1094.5 121.7 1097.5 119.9 1100.7 117.7 1103.2 115.7 1105.2 113.7 1107 111.7 1109.6 107.7 1111.4 103.7 1112 101.7 1112.8 97.7 1112.9 95.7 1112.9 93.7 1112.5 89.7 1111.6 85.7 1110.1 81.7 1108.2 77.7 1105.5 72.7 1102.5 67.7 1099.5 63.3 1096.3 59.7 1094.1 57.7 1091.5 55.9 1089.5 54.8 1086.8 53.7 1083.5 52.8 1081.5 52.4 1077.5 52.2 1073.5 52.5ZM1075.5 47.6 1071.5 48.2 1067.5 49.3 1063.5 50.8 1059.5 52.9 1055.5 55.7 1053.1 57.7 1048.9 61.7 1045.5 65.6 1043.5 68.2 1041.3 71.7 1039.4 75.7 1037.9 79.7 1036.8 83.7 1036 87.7 1035.6 91.7 1035.5 95.7 1035.8 99.7 1036.6 103.7 1038 107.7 1039.5 110.6 1041.3 113.7 1044.3 117.7 1047.5 121.3 1051.5 125 1055.3 127.7 1057.5 129 1059.5 130 1063.9 131.7 1067.5 132.6 1071.5 133.2 1075.5 133.2 1079.5 132.9 1083.5 132.2 1087.5 131 1091.5 129.6 1097.5 127 1101.5 124.9 1105.5 122.5 1109.1 119.7 1111.2 117.7 1114.3 113.7 1116.5 109.7 1117.5 107.2 1118.6 103.7 1119.4 99.7 1119.7 95.7 1119.6 93.7 1119.2 89.7 1118.8 87.7 1117.6 83.7 1115.9 79.7 1113 73.7 1107.5 63.7 1105.1 59.7 1103.7 57.7 1101.9 55.7 1099.5 53.6 1096.7 51.7 1093.5 50.1 1089.5 48.7 1083.5 47.6 1079.5 47.4ZM1069.5 43.1 1063.5 45 1059.5 46.8 1053.5 50.7 1049.5 54 1045.5 57.9 1042.1 61.7 1039.1 65.7 1036.7 69.7 1034.8 73.7 1032.2 81.7 1030.9 87.7 1030.3 91.7 1030.1 97.7 1030.4 101.7 1030.8 103.7 1032.1 107.7 1033.1 109.7 1035.3 113.7 1038 117.7 1041.3 121.7 1045.2 125.7 1049.5 129.3 1053.5 132.1 1057.5 134.3 1061.5 136 1065.5 137.3 1069.5 138.3 1073.5 138.8 1077.5 138.9 1081.5 138.7 1086.6 137.7 1091.5 136.2 1095.5 134.6 1101.5 131.8 1107.5 128.6 1111.5 126.1 1113.5 124.6 1116.6 121.7 1118.4 119.7 1119.8 117.7 1122.1 113.7 1123.7 109.7 1124.9 105.7 1125.7 101.7 1126.2 97.7 1126.2 93.7 1125.7 89.7 1124.2 83.7 1122.5 79.7 1114.1 63.7 1111.8 59.7 1109.2 55.7 1105.7 51.7 1103.5 49.8 1099.5 46.9 1095.5 44.9 1091.5 43.5 1087.5 42.5 1083.5 42 1077.5 42 1073.5 42.3ZM1135.5 79.6 1133.5 78 1129.5 73.6 1125.5 67.7 1123.5 63.5 1122.4 59.7 1121.7 55.7 1121.7 53.7 1121.9 51.7 1122.4 49.7 1123.3 47.7 1123.5 47.3 1125.5 45.5 1127.5 44.9 1129.5 44.8 1131.5 45.1 1135.5 46.1M1135.5 141.5 1133.5 143.2 1131.5 146.1 1130.7 147.7M1099.3 147.7 1100.1 145.7 1101.5 143.7 1103.3 141.7 1105.9 139.7 1109.2 137.7 1113.4 135.7 1125 131.7 1127.5 130.7 1129.5 129.7 1132.4 127.7 1134.2 125.7 1135.5 123.8" fill="none" stroke="#222" stroke-opacity="0.58" stroke-width="0.75"/>
<path d="M1070.5 49.7h.01M1081.5 49.7h.01M1092.5 49.7h.01M1048.5 60.7h.01M1059.5 60.7h.01M1070.5 60.7h.01M1081.5 60.7h.01M1092.5 60.7h.01M1103.5 60.7h.01M1114.5 60.7h.01M1048.5 71.7h.01M1059.5 71.7h.01M1070.5 71.7h.01M1081.5 71.7h.01M1092.5 71.7h.01M1103.5 71.7h.01M1114.5 71.7h.01M1037.5 82.7h.01M1048.5 82.7h.01M1059.5 82.7h.01M1070.5 82.7h.01M1081.5 82.7h.01M1092.5 82.7h.01M1103.5 82.7h.01M1114.5 82.7h.01M1125.5 82.7h.01M1037.5 93.7h.01M1048.5 93.7h.01M1059.5 93.7h.01M1070.5 93.7h.01M1081.5 93.7h.01M1092.5 93.7h.01M1103.5 93.7h.01M1114.5 93.7h.01M1125.5 93.7h.01M1037.5 104.7h.01M1048.5 104.7h.01M1059.5 104.7h.01M1070.5 104.7h.01M1081.5 104.7h.01M1092.5 104.7h.01M1103.5 104.7h.01M1114.5 104.7h.01M1125.5 104.7h.01M1048.5 115.7h.01M1059.5 115.7h.01M1070.5 115.7h.01M1081.5 115.7h.01M1092.5 115.7h.01M1103.5 115.7h.01M1114.5 115.7h.01M1048.5 126.7h.01M1059.5 126.7h.01M1070.5 126.7h.01M1081.5 126.7h.01M1092.5 126.7h.01M1103.5 126.7h.01M1114.5 126.7h.01M1070.5 137.7h.01M1081.5 137.7h.01M1092.5 137.7h.01" stroke="#333" stroke-opacity="0.5" stroke-width="1.3" stroke-linecap="round" fill="none"/>
</g>
<mask id="tc10" maskUnits="userSpaceOnUse" x="1025.5" y="171.0" width="112.0" height="112.0"><circle cx="1081.5" cy="227.0" r="53.0" fill="url(#mg)"/></mask>
<circle cx="1081.5" cy="227.0" r="51.5" fill="#fbfafb" filter="url(#gl)"/>
<g mask="url(#tc10)">
<g filter="url(#bl)"><rect x="1026.5" y="172.0" width="110.0" height="110.0" fill="#f7f6f6"/>
<path d="M1126.6 205 1127.5 204.1 1129.5 203.8 1131.5 205.1 1132.9 207 1133.9 209 1134.6 211 1135.1 213 1135.3 215 1135.5 219.1 1135.1 225 1134.1 229 1132.5 233 1131.5 234.5 1129.5 236.1 1127.5 235.8 1125.5 233.3 1124.6 231 1123.7 227 1123.1 221 1123.2 217 1123.5 213.4 1123.9 211 1125.2 207 1125.5 206.2Z" fill="#f8f1ed" fill-rule="evenodd"/>
<path d="M1127.3 211 1127.5 210.8 1129.5 211.2 1130.8 213 1131.5 214.5 1132.1 217 1132.4 219 1132.3 223 1131.5 227 1130.5 229 1129.5 230.5 1127.5 230.7 1125.5 227.4 1125 225 1124.6 221 1124.8 217 1125.5 213.6Z" fill="#faeae1" fill-rule="evenodd"/>
<path d="M1127.2 217 1127.5 216.4 1128.7 217 1129.5 217.6 1129.8 219 1130 221 1129.9 223 1129.5 224.5 1128.8 225 1127.5 225.5 1127.3 225 1126.7 223 1126.5 221 1126.7 219Z" fill="#fbe4d6" fill-rule="evenodd"/>
<path d="M1058.7 175 1062.4 173 1089.2 173 1091.5 173.9 1099.5 177.8 1103.5 180.3 1107.5 183.7 1111.5 188.3 1116.4 195 1118.9 199 1119.9 201 1120.6 203 1121.1 205 1121.5 209 1121.5 221 1121.9 227 1122.7 233 1124.5 241 1124.8 243 1124.8 247 1123.7 251 1122.3 255 1120.5 259 1117.9 263 1116.2 265 1114.1 267 1111.6 269 1100.6 277 1095.7 281 1057.9 281 1052.3 277 1043 271 1038 267 1035.5 264.5 1032.6 261 1030 257 1027.5 252.4 1027.5 195.2 1029.3 193 1031.2 191 1033.6 189 1036.4 187 1041.5 184.1 1051.7 179Z" fill="#eff3f5" fill-rule="evenodd"/>
<path d="M1071.3 179 1075.5 178.4 1079.5 178.4 1083.5 178.9 1087.5 179.7 1091.5 180.9 1095.5 182.4 1099.5 184.6 1101.5 186 1105 189 1107.5 191.8 1110 195 1113.8 201 1116 205 1117.5 208.5 1118.2 211 1118.8 215 1119.3 221 1119.5 229 1119.5 234.6 1119.2 239 1118.6 243 1117.4 249 1116.1 253 1114.3 257 1111.6 261 1109.8 263 1105.5 266.8 1101.5 269.7 1095.5 273.1 1089.5 275.7 1085.5 276.8 1081.5 277.6 1077.5 277.9 1073.5 277.6 1069.5 276.7 1065.5 275.4 1061.5 273.7 1055.5 270.5 1049.5 266.6 1045.5 263.4 1043 261 1039.8 257 1038.4 255 1036.2 251 1034.4 247 1032.4 241 1030.9 233 1030.5 229 1030.6 223 1031.1 219 1032.3 213 1034.4 207 1036.3 203 1038.7 199 1040.2 197 1041.9 195 1045.5 191.6 1049.5 188.6 1053.5 186.1 1057.5 184 1063.5 181.3 1067.5 179.9Z" fill="#e6eff4" fill-rule="evenodd"/>
<path d="M1072.3 183 1075.5 182.6 1079.5 182.5 1083.5 182.8 1087.5 183.6 1091.5 184.8 1093.5 185.7 1096.1 187 1099.5 189.4 1103.1 193 1105.5 196 1108.8 201 1111.1 205 1113 209 1114.5 213 1115 215 1115.6 219 1115.8 223 1115.4 229 1112.6 245 1111.7 249 1110.5 253 1108.8 257 1107.6 259 1106 261 1104.1 263 1101.8 265 1099 267 1095.5 269.1 1091.5 271 1087.5 272.3 1083.5 273.2 1079.5 273.7 1075.5 273.6 1071.5 273 1067.5 272 1063.5 270.5 1059.5 268.6 1055.5 266.4 1051.5 263.8 1047.5 260.4 1045.5 258.4 1042.8 255 1040.3 251 1038.4 247 1036.9 243 1035.8 239 1035 235 1034.6 231 1034.4 227 1034.7 223 1035.2 219 1036.6 213 1038.1 209 1039.9 205 1042.3 201 1043.8 199 1047.4 195 1049.5 193.2 1052.5 191 1055.5 189.2 1059.5 187.2 1063.5 185.5 1067.5 184.1Z" fill="#ddebf2" fill-rule="evenodd"/>
<path d="M1079.4 187 1081.5 187.1 1085.5 187.6 1089.5 188.6 1091.5 189.4 1094.5 191 1097.3 193 1099.5 195 1101.5 197.3 1103.5 199.9 1105.6 203 1107.7 207 1109.5 211 1110.7 215 1111.1 217 1111.5 221 1111.3 225 1110.5 231 1107.6 245 1106.7 249 1105.5 252.4 1104.3 255 1103.1 257 1101.5 259.1 1099.8 261 1097.5 263 1094.6 265 1091 267 1086 269 1083.5 269.5 1079.5 270.1 1075.5 270 1071.5 269.5 1069.4 269 1063.5 267 1059.5 265.2 1055.6 263 1052.7 261 1050.2 259 1046.5 255 1045 253 1042.6 249 1040.9 245 1039.5 241 1038.6 237 1038 233 1037.8 229 1038 225 1038.5 221 1039.2 217 1040.4 213 1041.9 209 1043.5 205.6 1045.5 202.3 1047.5 199.7 1050.1 197 1052.5 195 1055.5 193 1059.5 191.1 1061.5 190.4 1065.5 189.1 1071.5 187.8 1075.5 187.2Z" fill="#d4e6f1" fill-rule="evenodd"/>
<path d="M1074.7 193 1081.5 192.3 1085.5 192.5 1087.5 192.9 1091.5 194.3 1093.5 195.5 1095.5 197 1097.7 199 1100.9 203 1103.3 207 1104.3 209 1105.5 212.1 1106.3 215 1106.7 217 1107 221 1106.7 225 1106.1 229 1102.5 245 1101.5 248.6 1100.6 251 1099.6 253 1098.3 255 1096.7 257 1094.6 259 1091.8 261 1089.5 262.2 1087.5 263 1083.5 264.2 1079.5 264.8 1075.5 264.8 1069.5 263.9 1065.5 262.9 1061.5 261.5 1057.5 259.7 1055.5 258.6 1053.3 257 1051 255 1049.5 253.3 1047.8 251 1045.6 247 1044.8 245 1044.1 243 1043.1 239 1042.6 235 1042.3 231 1042.5 227 1042.9 223 1044.7 215 1046 211 1047.8 207 1049.5 204.1 1051.5 201.6 1053.5 199.6 1055.5 198.1 1059.5 196 1061.5 195.3 1065.5 194.3Z" fill="#c7e0ed" fill-rule="evenodd"/>
<path d="M1074 199 1081.5 198.3 1085.5 198.3 1087.5 198.6 1089.5 199.2 1092.6 201 1095.5 203.6 1097.5 206.2 1099.1 209 1100.1 211 1101.4 215 1101.9 219 1101.7 223 1100.5 229 1096.2 245 1095.5 247.1 1093.5 250.9 1091.5 253.3 1089.5 255 1087.5 256.1 1085.5 256.9 1081.5 257.8 1079.5 258 1075.5 258.1 1067.5 257.4 1063.5 256.6 1061.5 255.9 1057.5 254 1055.5 252.6 1053.8 251 1052.1 249 1050.8 247 1048.9 243 1048.2 241 1047.3 237 1046.8 231 1047 225 1047.6 221 1048.4 217 1050.4 211 1052.5 207 1054 205 1055.5 203.4 1057.5 201.9 1059.5 200.7 1061.5 199.9 1065.5 199.1Z" fill="#bbdaea" fill-rule="evenodd"/>
<path d="M1060.6 205 1063.5 204 1065.5 203.8 1067.5 203.9 1071.5 204.7 1077.5 206.4 1079.5 206.7 1083.5 206.7 1086.3 207 1087.5 207.3 1089.5 208.3 1090.3 209 1092.1 211 1093.2 213 1093.9 215 1094.2 217 1094.3 219 1093.7 223 1093 225 1091.5 228.9 1086.2 241 1085 243 1083.5 244.8 1081.5 246.4 1079.5 247.5 1075.9 249 1071.5 250.3 1067.5 250.9 1065.5 250.9 1063.5 250.7 1061.5 250.1 1059.5 249.2 1057.5 247.8 1055.5 245.9 1053.5 242.9 1051.9 239 1051.3 237 1050.6 233 1050.4 227 1051 221 1052.6 215 1054.5 211 1055.8 209 1057.5 207.1 1059.5 205.6Z" fill="#acd2e5" fill-rule="evenodd"/>
<path d="M1064.9 209 1067.5 209.3 1069.5 210.1 1071.5 211.3 1073.3 213 1074.8 215 1075.9 217 1076.6 219 1077.2 223 1077.1 227 1076.6 231 1076.2 233 1074.8 237 1073.5 239.3 1071.5 241.7 1069.5 243.3 1067.5 244.2 1065.5 244.7 1063.5 244.7 1061.5 244.1 1059.5 243 1057.5 241 1055.5 237.5 1054.7 235 1054.2 233 1053.8 229 1053.9 225 1054.5 221 1055.5 217.6 1056.7 215 1057.9 213 1059.8 211 1061.5 209.9 1063.5 209.1Z" fill="#9dcbe1" fill-rule="evenodd"/>
<path d="M1062.9 217 1063.5 216.6 1065.5 216.2 1067.5 216.9 1069.5 219 1070.4 221 1070.9 223 1071.2 225 1071.2 227 1070.4 231 1069.5 233.5 1068.5 235 1067.5 236.1 1066.1 237 1065.5 237.3 1063.5 237.4 1061.5 236.5 1060.2 235 1059.5 233.9 1058.6 231 1058.3 229 1058.3 227 1059 223 1059.5 221.5 1060.9 219 1061.5 218.2Z" fill="#8dc2dc" fill-rule="evenodd"/>
</g>
<path d="M1065.5 208.9 1063.5 209.1 1061.5 209.9 1059.5 211.2 1057.5 213.6 1055.7 217 1055 219 1054.1 223 1053.7 227 1053.9 231 1054.7 235 1055.5 237.5 1057.5 241 1059.5 243 1061.5 244.1 1063.5 244.7 1065.5 244.7 1067.5 244.2 1069.9 243 1072.2 241 1073.7 239 1074.8 237 1076.2 233 1076.9 229 1077.2 225 1077 221 1076.6 219 1075.9 217 1074.8 215 1073.3 213 1071.1 211 1069.5 210.1 1067.5 209.3ZM1061.5 202.2 1059.5 203.1 1057.5 204.4 1054.9 207 1053.5 209 1052.4 211 1051.5 213.1 1050.2 217 1049.4 221 1048.8 225 1048.6 231 1049.4 237 1050.4 241 1051.2 243 1053.5 247 1055.5 249.3 1057.5 251 1059.5 252.2 1061.5 253 1065.5 254 1069.5 254.2 1077.5 253.9 1081.5 253.3 1083.5 252.8 1085.5 251.9 1087.1 251 1089.3 249 1091.5 245.4 1092.4 243 1097.4 227 1098.3 223 1098.7 219 1098.5 217 1097.7 213 1096.8 211 1095.5 208.5 1093.5 205.9 1092.5 205 1091.5 204.1 1089.6 203 1087.5 202.3 1085.5 201.9 1083.5 201.8 1077.5 202.3 1075.5 202.3 1067.5 201.5 1063.5 201.7ZM1075.5 192.9 1065.5 194.3 1061.5 195.3 1059.5 196 1055.5 198.1 1053.5 199.6 1051.5 201.6 1049.5 204.1 1047.8 207 1046.8 209 1045.3 213 1044.2 217 1043.3 221 1042.7 225 1042.4 229 1042.4 233 1042.8 237 1044.1 243 1045.6 247 1046.6 249 1047.8 251 1049.5 253.3 1051.5 255.5 1053.5 257.2 1056.2 259 1059.5 260.7 1065.5 262.9 1069.5 263.9 1073.5 264.6 1077.5 264.8 1081.5 264.6 1085.5 263.7 1087.5 263 1091.5 261.2 1093.5 259.9 1095.5 258.2 1097.5 256.1 1099.6 253 1101.4 249 1102 247 1106.1 229 1106.7 225 1107 221 1106.7 217 1106.3 215 1105.5 212.1 1104.3 209 1103.3 207 1100.9 203 1097.7 199 1095.6 197 1093.5 195.5 1091.5 194.3 1087.5 192.9 1085.5 192.5 1081.5 192.3ZM1073.5 184.9 1069.5 185.7 1065.5 186.8 1061.5 188.2 1057.5 190 1053.5 192.3 1051.5 193.7 1047.7 197 1045.9 199 1043.5 202.2 1041.9 205 1039.9 209 1038.5 213 1037.4 217 1036.6 221 1036.1 227 1036.2 231 1036.6 235 1037.4 239 1038.5 243 1040.1 247 1041.5 250 1043.3 253 1045.5 256.1 1048.1 259 1050.3 261 1053.5 263.4 1057.5 265.8 1061.5 267.9 1065.5 269.5 1069.5 270.8 1073.5 271.6 1077.5 272 1081.5 271.8 1085.5 271.1 1091.7 269 1095.6 267 1098.5 265 1101.5 262.5 1104.6 259 1106 257 1107.9 253 1109.7 247 1113.1 229 1113.6 225 1113.6 221 1113.2 217 1112.8 215 1111.6 211 1109.9 207 1107.8 203 1105.2 199 1102.2 195 1099.5 192.2 1097.5 190.5 1093.5 187.9 1091.5 187 1087.5 185.7 1084.7 185 1081.5 184.6 1077.5 184.5ZM1071.5 178.9 1067.5 179.9 1063.5 181.3 1057.5 184 1053.5 186.1 1049.5 188.6 1045.5 191.6 1041.9 195 1040.2 197 1038.7 199 1036.3 203 1034.4 207 1032.3 213 1031.1 219 1030.6 223 1030.5 227 1030.7 231 1031.2 235 1032.4 241 1034.4 247 1035.3 249 1037.3 253 1039.8 257 1043 261 1045 263 1047.5 265.1 1051.5 268.1 1057.5 271.7 1063.5 274.6 1067.5 276.2 1071.5 277.2 1075.5 277.8 1079.5 277.8 1083.5 277.3 1087.5 276.3 1093.5 274.1 1097.5 272.1 1103.5 268.3 1107.5 265.2 1109.8 263 1113.1 259 1115.3 255 1116.8 251 1118.3 245 1118.9 241 1119.5 235 1119.6 231 1119.4 223 1119 217 1118.6 213 1117.7 209 1116.9 207 1115 203 1111.3 197 1108.5 193 1105.5 189.5 1102.8 187 1099.5 184.6 1095.5 182.4 1091.5 180.9 1087.5 179.7 1083.5 178.9 1079.5 178.4 1075.5 178.4ZM1042.2 173 1039.5 173.3 1036.5 173M1135.5 186.9 1135.5 187M1135.5 234.7 1134.4 237 1133 239 1131.5 240.5 1129.5 240.9 1127.5 239.9 1125.5 236.9 1124.1 233 1123.5 231 1122.6 225 1122.3 217 1122.9 209 1124.5 197 1124.4 193 1124 191 1121.5 183.6 1121.2 181 1121.5 177 1121.4 175 1120.1 173M1027.5 269.5 1033.5 274.2 1042 279 1045.2 281M1108.9 281 1111.8 279 1113.5 278.4 1115.5 278.4 1116.7 279 1117.5 279.8 1118.1 281M1127.3 211 1127.5 210.8 1129.5 211.2 1130.8 213 1131.5 214.5 1132.1 217 1132.4 219 1132.3 223 1131.5 227 1130.5 229 1129.5 230.5 1127.5 230.7 1125.5 227.4 1125 225 1124.6 221 1124.8 217 1125.5 213.6Z" fill="none" stroke="#222" stroke-opacity="0.58" stroke-width="0.75"/>
<path d="M1070.5 183h.01M1081.5 183h.01M1092.5 183h.01M1048.5 194h.01M1059.5 194h.01M1070.5 194h.01M1081.5 194h.01M1092.5 194h.01M1103.5 194h.01M1114.5 194h.01M1048.5 205h.01M1059.5 205h.01M1070.5 205h.01M1081.5 205h.01M1092.5 205h.01M1103.5 205h.01M1114.5 205h.01M1037.5 216h.01M1048.5 216h.01M1059.5 216h.01M1070.5 216h.01M1081.5 216h.01M1092.5 216h.01M1103.5 216h.01M1114.5 216h.01M1125.5 216h.01M1037.5 227h.01M1048.5 227h.01M1059.5 227h.01M1070.5 227h.01M1081.5 227h.01M1092.5 227h.01M1103.5 227h.01M1114.5 227h.01M1125.5 227h.01M1037.5 238h.01M1048.5 238h.01M1059.5 238h.01M1070.5 238h.01M1081.5 238h.01M1092.5 238h.01M1103.5 238h.01M1114.5 238h.01M1125.5 238h.01M1048.5 249h.01M1059.5 249h.01M1070.5 249h.01M1081.5 249h.01M1092.5 249h.01M1103.5 249h.01M1114.5 249h.01M1048.5 260h.01M1059.5 260h.01M1070.5 260h.01M1081.5 260h.01M1092.5 260h.01M1103.5 260h.01M1114.5 260h.01M1070.5 271h.01M1081.5 271h.01M1092.5 271h.01" stroke="#333" stroke-opacity="0.5" stroke-width="1.3" stroke-linecap="round" fill="none"/>
</g>
<mask id="tc20" maskUnits="userSpaceOnUse" x="1025.5" y="302.4" width="112.0" height="112.0"><circle cx="1081.5" cy="358.4" r="53.0" fill="url(#mg)"/></mask>
<circle cx="1081.5" cy="358.4" r="51.5" fill="#fbfafb" filter="url(#gl)"/>
<g mask="url(#tc20)">
<g filter="url(#bl)"><rect x="1026.5" y="303.4" width="110.0" height="110.0" fill="#f7f6f6"/>
<path d="M1123.1 326.4 1125.5 325.3 1127.5 325.4 1129.5 326.5 1131.5 328.6 1132.8 330.4 1135.5 335.4 1135.5 382.1 1131.9 390.4 1130.5 394.4 1129.5 398 1127.8 402.4 1127.5 402.9 1125.5 404.3 1123.5 403.7 1121.5 401.6 1118.9 396.4 1115.5 392.4 1114.8 390.4 1114.5 388.4 1114.6 384.4 1116.4 370.4 1117.2 362.4 1118.3 338.4 1118.6 334.4 1119.5 329.9 1121.5 327.2ZM1045.3 394.4 1047.5 394.8 1050.3 396.4 1052.3 398.4 1053.5 400.2 1054.2 402.4 1055 406.4 1055.2 408.4 1054.9 410.4 1054.2 412.4 1049.5 412.4 1041 412.4 1039.5 410.2 1038.7 408.4 1038.1 406.4 1037.8 404.4 1037.7 402.4 1037.9 400.4 1038.5 398.4 1039.5 396.6 1041.5 395.4Z" fill="#f8f1ed" fill-rule="evenodd"/>
<path d="M1123.4 346.4 1123.5 346.2 1125.5 345.6 1127.5 348 1129.1 352.4 1129.9 356.4 1130.1 360.4 1130 362.4 1129.5 366 1128.1 370.4 1127 372.4 1125.5 374.5 1123.5 375.3 1122.6 374.4 1121.8 372.4 1121.5 370.6 1121.5 362.4 1121.8 356.4 1122.5 350.4Z" fill="#faeae1" fill-rule="evenodd"/>
<path d="M1057.5 306.4 1061.5 305.6 1065.5 305.1 1071.5 304.9 1077.5 305 1081.5 305.3 1085.5 305.9 1091.5 307.3 1093.5 308 1097.5 309.6 1099.5 310.7 1103.5 313.2 1105.5 315 1107.5 317.2 1109.5 320 1110.8 322.4 1112.3 326.4 1113.6 332.4 1114.2 338.4 1114.5 346.4 1114.4 354.4 1114 360.4 1113.2 366.4 1112 372.4 1110.2 378.4 1107.5 385.6 1105.5 390.1 1103.5 393.8 1101.5 396.5 1099.5 398.5 1095.5 401.3 1091.5 403.2 1085.5 405.1 1081.5 405.7 1077.5 405.5 1075.5 405.1 1071.5 403.5 1065.5 399.5 1051.5 388.6 1040.7 380.4 1036.4 376.4 1034.7 374.4 1033.4 372.4 1032.1 370.4 1030.3 366.4 1028.3 360.4 1027.5 356.2 1027.5 339.9 1028.3 336.4 1029 334.4 1030.8 330.4 1031.9 328.4 1034.8 324.4 1040.2 318.4 1045.5 312.9 1048.5 310.4 1051.5 308.6 1053.5 307.6Z" fill="#eff3f5" fill-rule="evenodd"/>
<path d="M1070.6 310.4 1075.5 310.1 1079.5 310.2 1083.5 310.7 1087.5 311.5 1091.5 312.7 1095.5 314.5 1098.7 316.4 1101.4 318.4 1103.5 320.4 1105.2 322.4 1106.5 324.4 1108.4 328.4 1109.7 332.4 1110.6 336.4 1111.5 344.4 1111.7 350.4 1111.4 356.4 1110.7 362.4 1109.8 366.4 1108 372.4 1106.3 376.4 1104.2 380.4 1101.5 384.7 1098.7 388.4 1095.5 391.6 1093.5 393.1 1089.5 395.3 1085.5 396.7 1081.5 397.4 1077.5 397.4 1075.5 397.2 1073.5 396.7 1069.5 395.4 1065.5 393.4 1061.5 391 1053.5 385.2 1047.6 380.4 1043 376.4 1039.5 372.4 1038.1 370.4 1036 366.4 1034.5 362.4 1034 360.4 1033.1 354.4 1033.1 348.4 1033.7 344.4 1034.6 340.4 1036.2 336.4 1038.4 332.4 1043 326.4 1046.7 322.4 1049.5 319.8 1051.5 318.1 1055.5 315.2 1059.5 313.2 1063.5 311.7 1067.5 310.8Z" fill="#e6eff4" fill-rule="evenodd"/>
<path d="M1065.5 314.4 1067.5 313.9 1071.5 313.2 1075.5 313 1079.5 313.2 1083.5 313.7 1087.5 314.8 1091.5 316.3 1093.5 317.3 1095.5 318.5 1097.9 320.4 1099.5 321.9 1101.5 324.1 1103.1 326.4 1104.3 328.4 1106.1 332.4 1107.8 338.4 1108.5 342.4 1108.8 346.4 1108.8 352.4 1108.5 356.4 1107.9 360.4 1107 364.4 1105.6 368.4 1103.8 372.4 1101.5 376.4 1099.5 379.4 1097.1 382.4 1093.5 386.2 1090.6 388.4 1087.5 390.1 1085.5 390.9 1081.5 391.9 1079.5 392.1 1075.5 392 1071.5 391.3 1069.5 390.6 1067.5 389.9 1063.5 387.8 1057.5 383.9 1053 380.4 1048.4 376.4 1045.5 373.5 1042.7 370.4 1039.9 366.4 1038.8 364.4 1037.5 361 1036.8 358.4 1036.4 356.4 1036.1 352.4 1036.2 348.4 1036.4 346.4 1036.8 344.4 1038 340.4 1038.8 338.4 1040.9 334.4 1043.7 330.4 1047.2 326.4 1049.5 324.1 1053.5 320.6 1055.5 319.1 1059.5 316.7 1061.5 315.8Z" fill="#ddebf2" fill-rule="evenodd"/>
<path d="M1067.8 316.4 1071.5 315.8 1075.5 315.6 1081.5 316.3 1083.5 316.8 1087.5 318.2 1091.5 320.3 1093.5 321.6 1095.5 323.2 1097.5 325.1 1099.5 327.5 1101.5 330.4 1103.4 334.4 1104.1 336.4 1105.5 342.4 1105.9 346.4 1106 350.4 1105.8 354.4 1105.1 358.4 1103.4 364.4 1101.6 368.4 1099.5 371.9 1097.5 374.9 1094.7 378.4 1091.5 381.8 1089.5 383.4 1087.5 384.8 1083.5 386.7 1081.5 387.2 1077.5 387.7 1075.5 387.7 1071.5 387.1 1069.5 386.5 1065.5 384.9 1063.5 383.8 1059.5 381.3 1053.5 376.5 1047.3 370.4 1044.1 366.4 1042.7 364.4 1041.5 362.2 1039.9 358.4 1039 354.4 1038.7 352.4 1038.8 348.4 1039.4 344.4 1040 342.4 1041.5 338.6 1042.7 336.4 1045.3 332.4 1047.5 329.8 1050.7 326.4 1055.5 322.2 1058.1 320.4 1061.5 318.5 1065.5 317Z" fill="#d4e6f1" fill-rule="evenodd"/>
<path d="M1063.8 320.4 1067.5 319.3 1069.5 318.9 1071.5 318.7 1075.5 318.7 1079.5 319.2 1081.5 319.7 1083.7 320.4 1087.5 322.1 1091.5 324.6 1093.7 326.4 1095.7 328.4 1097.5 330.7 1099.5 334 1101.5 339 1102.3 342.4 1102.8 346.4 1102.7 352.4 1101.6 358.4 1099.5 363.8 1097.5 367.3 1095.5 370.2 1093.5 372.9 1090.5 376.4 1088.4 378.4 1085.8 380.4 1083.5 381.7 1081.5 382.5 1077.5 383.4 1075.5 383.5 1071.5 383 1067.5 381.8 1064.6 380.4 1061.5 378.6 1058.5 376.4 1055.5 373.9 1051.8 370.4 1049.5 367.9 1047.5 365.5 1045.4 362.4 1043.5 358.6 1042.7 356.4 1042.2 354.4 1041.6 350.4 1041.8 346.4 1042.2 344.4 1043.5 340.4 1045.5 336.6 1047.5 333.8 1049.5 331.4 1054.5 326.4 1056.9 324.4 1059.5 322.6Z" fill="#c7e0ed" fill-rule="evenodd"/>
<path d="M1068.5 322.4 1071.5 322 1073.5 321.9 1077.5 322.3 1079.5 322.8 1083.5 324.2 1087.5 326.4 1090.2 328.4 1092.3 330.4 1094 332.4 1095.4 334.4 1097.5 338.7 1098.6 342.4 1098.9 344.4 1099.2 348.4 1099.1 350.4 1098.4 354.4 1097.1 358.4 1095.5 361.6 1093.7 364.4 1089.5 369.9 1087.3 372.4 1085.3 374.4 1083.5 375.8 1081.5 377 1079.5 377.9 1077.8 378.4 1075.5 378.7 1071.5 378.6 1067.5 377.4 1065.5 376.5 1061.9 374.4 1057.5 371.1 1053.5 367.3 1051.5 365.1 1049.4 362.4 1047 358.4 1045.5 354.4 1045.1 352.4 1044.8 348.4 1045 346.4 1046.1 342.4 1048 338.4 1050.8 334.4 1053.5 331.4 1055.5 329.5 1059.5 326.3 1063.5 324 1065.5 323.2Z" fill="#bbdaea" fill-rule="evenodd"/>
<path d="M1066.8 326.4 1069.5 325.7 1071.5 325.6 1075.5 325.8 1079.5 326.9 1082.7 328.4 1085.7 330.4 1088 332.4 1089.7 334.4 1091.2 336.4 1092.3 338.4 1093.8 342.4 1094.3 346.4 1094 350.4 1093.5 352.6 1091.5 357 1087.7 362.4 1083.5 367.4 1081.5 369.3 1079.5 370.9 1076.4 372.4 1073.5 373.1 1071.5 373.1 1069.5 372.8 1067.5 372.2 1065.5 371.4 1063.5 370.4 1059.5 367.7 1055.5 364.3 1052.2 360.4 1049.9 356.4 1048.6 352.4 1048.3 350.4 1048.2 348.4 1048.4 346.4 1049.5 342.4 1051.7 338.4 1054.8 334.4 1056.8 332.4 1059.2 330.4 1063.5 327.7Z" fill="#acd2e5" fill-rule="evenodd"/>
<path d="M1067.1 330.4 1069.5 329.9 1071.5 329.8 1073.5 329.9 1075.6 330.4 1077.5 331.2 1079.5 332.3 1082.1 334.4 1083.9 336.4 1085.2 338.4 1086.1 340.4 1086.7 342.4 1087.1 344.4 1087.1 346.4 1086.8 348.4 1086.2 350.4 1084.2 354.4 1081.5 358.4 1078.1 362.4 1075.5 364.5 1073.5 365.6 1071.5 366.2 1069.5 366.4 1067.5 366.1 1065.5 365.6 1063.5 364.8 1059.7 362.4 1057.4 360.4 1055.5 358.3 1054.2 356.4 1053.2 354.4 1052.5 352.4 1052.1 350.4 1051.9 348.4 1052.1 346.4 1052.7 344.4 1053.5 342.2 1055.5 339 1057.7 336.4 1059.5 334.7 1061.5 333.2 1063.5 331.9Z" fill="#9dcbe1" fill-rule="evenodd"/>
<path d="M1066.4 336.4 1067.5 336.1 1069.5 335.8 1071.5 335.9 1073.5 336.6 1075.9 338.4 1077.3 340.4 1077.9 342.4 1078.2 344.4 1078 346.4 1077.5 348.5 1075.6 352.4 1074.1 354.4 1072.1 356.4 1069.5 357.9 1067.5 358.3 1065.5 358.2 1063.5 357.6 1061.5 356.5 1059.3 354.4 1058.1 352.4 1057.3 350.4 1057.1 348.4 1057.2 346.4 1057.9 344.4 1059 342.4 1060.6 340.4 1062.8 338.4 1065.5 336.8Z" fill="#8dc2dc" fill-rule="evenodd"/>
</g>
<path d="M1065.5 346.4 1065.5 346.4ZM1067.5 330.4 1063.5 332 1061.5 333.3 1057.8 336.4 1056.1 338.4 1053.5 342.4 1052.7 344.4 1052.2 346.4 1052 348.4 1052.2 350.4 1052.6 352.4 1053.3 354.4 1054.3 356.4 1055.7 358.4 1057.5 360.4 1059.5 362.1 1063.1 364.4 1065.5 365.5 1067.5 366 1069.5 366.2 1071.5 366 1073.5 365.4 1075.5 364.3 1077.9 362.4 1081.5 358.2 1084 354.4 1086 350.4 1086.6 348.4 1086.9 346.4 1086.9 344.4 1086.6 342.4 1086 340.4 1085 338.4 1083.7 336.4 1082 334.4 1079.5 332.4 1077.5 331.3 1075.5 330.5 1073.5 330 1071.5 329.9 1069.5 330ZM1067.5 324.4 1063.5 325.9 1059.5 328.3 1055.5 331.6 1053.5 333.6 1051.2 336.4 1048.7 340.4 1047.2 344.4 1046.6 348.4 1046.8 352.4 1048 356.4 1050.1 360.4 1051.5 362.4 1053.5 364.7 1057.5 368.6 1059.8 370.4 1063.5 372.9 1067.5 374.8 1071.5 375.9 1073.5 376 1075.5 375.9 1077.5 375.4 1079.5 374.6 1082.9 372.4 1086.8 368.4 1091.6 362.4 1094.1 358.4 1095.8 354.4 1096.7 350.4 1096.9 348.4 1096.7 344.4 1095.7 340.4 1094.9 338.4 1093.5 335.7 1091.1 332.4 1089.1 330.4 1086.7 328.4 1083.4 326.4 1079.5 324.8 1077.5 324.3 1073.5 323.8 1071.5 323.8ZM1065.5 319.9 1063.5 320.6 1059.9 322.4 1055.5 325.6 1052.4 328.4 1049.5 331.4 1045.7 336.4 1043.5 340.5 1042.2 344.4 1041.8 346.4 1041.7 350.4 1042.2 354.4 1043.4 358.4 1044.3 360.4 1045.5 362.5 1047.5 365.4 1051.9 370.4 1055.5 373.9 1058.6 376.4 1063.5 379.8 1065.5 380.8 1069.5 382.5 1073.5 383.3 1075.5 383.4 1079.5 383 1081.6 382.4 1085.5 380.5 1087.5 379.1 1089.5 377.3 1092.2 374.4 1095.3 370.4 1097.5 367.2 1099.1 364.4 1100.1 362.4 1101.5 358.4 1102.7 352.4 1102.8 346.4 1101.8 340.4 1101.3 338.4 1099.6 334.4 1097.2 330.4 1095.5 328.3 1093.5 326.3 1091.2 324.4 1088 322.4 1083.5 320.4 1081.5 319.8 1077.5 318.9 1073.5 318.6 1071.5 318.7 1069.5 318.9ZM1073.5 314.4 1067.5 315.2 1065.5 315.7 1061.5 317.2 1057.5 319.3 1055.5 320.7 1053.3 322.4 1049.5 325.9 1047.1 328.4 1043.8 332.4 1042.5 334.4 1040.3 338.4 1038.7 342.4 1038.2 344.4 1037.8 346.4 1037.4 350.4 1037.5 353.5 1037.9 356.4 1038.3 358.4 1039.5 362 1042 366.4 1045.1 370.4 1051 376.4 1057.5 381.8 1063.5 385.8 1067.5 387.8 1069.5 388.5 1071.5 389.1 1075.5 389.8 1079.5 389.8 1081.5 389.5 1085.3 388.4 1087.5 387.4 1089.5 386.2 1091.5 384.7 1093.5 382.9 1095.9 380.4 1099.5 375.6 1101.5 372.4 1103.6 368.4 1105.2 364.4 1106.3 360.4 1107 356.4 1107.4 352.4 1107.4 348.4 1107.2 344.4 1106.7 340.4 1105.7 336.4 1104.3 332.4 1103.4 330.4 1101.5 327.3 1099.2 324.4 1097.3 322.4 1093.5 319.4 1091.5 318.2 1087.5 316.4 1081.5 314.8 1077.5 314.4ZM1071.5 310.3 1067.5 310.8 1063.5 311.7 1059.5 313.2 1057.5 314.2 1055.5 315.2 1051.5 318.1 1047.5 321.6 1044.8 324.4 1039.8 330.4 1038.4 332.4 1036.2 336.4 1034.6 340.4 1033.7 344.4 1033.1 348.4 1033 352.4 1033.6 358.4 1034.5 362.4 1035.2 364.4 1037 368.4 1038.2 370.4 1041.5 374.8 1043.5 376.9 1047.6 380.4 1053.5 385.1 1059.5 389.6 1063.5 392.2 1067.5 394.4 1069.5 395.4 1073.5 396.7 1075.5 397.1 1079.5 397.5 1083.5 397.1 1087.5 396 1089.5 395.3 1093.5 393.1 1096.8 390.4 1099.5 387.4 1103 382.4 1105.5 377.9 1107.5 373.5 1109.3 368.4 1110.3 364.4 1111.2 358.4 1111.5 354.4 1111.6 348.4 1111.4 342.4 1110.9 338.4 1110.2 334.4 1109.1 330.4 1107.5 326.4 1106.5 324.4 1105.2 322.4 1103.5 320.4 1101.5 318.5 1098.7 316.4 1095.5 314.5 1091.5 312.8 1087.5 311.5 1083.5 310.7 1079.5 310.2 1075.5 310.1ZM1027.5 381.9 1031.5 382 1033.5 382.3 1039.5 384.4 1043.5 386.3 1046.9 388.4 1052.5 392.4 1057.3 396.4 1059.4 398.4 1062.9 402.4 1064.3 404.4 1065.4 406.4 1066.2 408.4 1066.7 410.4 1066.8 412.4M1102.8 412.4 1103.1 410.4 1106.3 402.4 1107.5 398.5 1112.2 380.4 1114.4 370.4 1115.4 362.4 1116.1 350.4 1116.1 342.4 1115.9 334.4 1115.1 324.4 1113.5 312.4 1112.8 304.4M1123.5 346.4 1125.5 345.7 1127.5 348.1 1129.1 352.4 1129.8 356.4 1130 360.4 1130 362.4 1129.5 365.8 1128.1 370.4 1127 372.4 1125.5 374.4 1123.5 375.3 1122.7 374.4 1121.8 372.4 1121.5 370.4 1121.5 362.4 1121.8 356.4 1122.5 350.4Z" fill="none" stroke="#222" stroke-opacity="0.58" stroke-width="0.75"/>
<path d="M1070.5 314.4h.01M1081.5 314.4h.01M1092.5 314.4h.01M1048.5 325.4h.01M1059.5 325.4h.01M1070.5 325.4h.01M1081.5 325.4h.01M1092.5 325.4h.01M1103.5 325.4h.01M1114.5 325.4h.01M1048.5 336.4h.01M1059.5 336.4h.01M1070.5 336.4h.01M1081.5 336.4h.01M1092.5 336.4h.01M1103.5 336.4h.01M1114.5 336.4h.01M1037.5 347.4h.01M1048.5 347.4h.01M1059.5 347.4h.01M1070.5 347.4h.01M1081.5 347.4h.01M1092.5 347.4h.01M1103.5 347.4h.01M1114.5 347.4h.01M1125.5 347.4h.01M1037.5 358.4h.01M1048.5 358.4h.01M1059.5 358.4h.01M1070.5 358.4h.01M1081.5 358.4h.01M1092.5 358.4h.01M1103.5 358.4h.01M1114.5 358.4h.01M1125.5 358.4h.01M1037.5 369.4h.01M1048.5 369.4h.01M1059.5 369.4h.01M1070.5 369.4h.01M1081.5 369.4h.01M1092.5 369.4h.01M1103.5 369.4h.01M1114.5 369.4h.01M1125.5 369.4h.01M1048.5 380.4h.01M1059.5 380.4h.01M1070.5 380.4h.01M1081.5 380.4h.01M1092.5 380.4h.01M1103.5 380.4h.01M1114.5 380.4h.01M1048.5 391.4h.01M1059.5 391.4h.01M1070.5 391.4h.01M1081.5 391.4h.01M1092.5 391.4h.01M1103.5 391.4h.01M1114.5 391.4h.01M1070.5 402.4h.01M1081.5 402.4h.01M1092.5 402.4h.01" stroke="#333" stroke-opacity="0.5" stroke-width="1.3" stroke-linecap="round" fill="none"/>
</g>
<mask id="tc30" maskUnits="userSpaceOnUse" x="1025.5" y="434.5" width="112.0" height="112.0"><circle cx="1081.5" cy="490.5" r="53.0" fill="url(#mg)"/></mask>
<circle cx="1081.5" cy="490.5" r="51.5" fill="#fbfafb" filter="url(#gl)"/>
<g mask="url(#tc30)">
<g filter="url(#bl)"><rect x="1026.5" y="435.5" width="110.0" height="110.0" fill="#f7f6f6"/>
<path d="M1027.5 436.5 1091.2 436.5 1089.5 438.1 1085.5 442.5 1083.1 444.5 1079.7 446.5 1074.2 448.5 1063.5 451 1059.5 452.2 1055.5 453.8 1051.5 456.1 1049.5 457.7 1047.5 459.6 1045.1 462.5 1042.8 466.5 1040.5 472.5 1039.7 476.5 1039.1 480.5 1038.9 486.5 1039.1 488.5 1039.9 492.5 1040.5 494.5 1042.4 498.5 1044.8 502.5 1049 508.5 1051.5 511.5 1053.5 513.5 1055.5 515 1057.5 516.2 1059.5 517 1063.5 518.1 1067.5 518.6 1073.5 518.6 1079.5 517.8 1085.5 516.1 1089.5 514.3 1092.8 512.5 1095.9 510.5 1098.6 508.5 1101.5 506 1104.9 502.5 1106.5 500.5 1109 496.5 1109.9 494.5 1111.1 490.5 1111.8 486.5 1112.1 482.5 1112 474.5 1111 458.5 1111.1 454.5 1111.9 446.5 1111.3 442.5 1110.7 440.5 1109.8 438.5 1108.3 436.5 1135.5 436.5 1135.5 544.5 1027.5 544.5Z" fill="#f8f1ed" fill-rule="evenodd"/>
<path d="M1027.5 436.5 1076.3 436.5 1075.5 437.4 1074 438.5 1073.4 440.5 1071.5 441.9 1069.9 442.5 1068.8 442.5 1067.5 442.1 1064.9 440.5 1061.5 440.4 1055.5 441.3 1049.5 443 1047.5 443.8 1043.5 446.1 1041.5 447.7 1038.8 450.5 1036.1 454.5 1035.2 456.5 1034.3 458.5 1032.4 464.5 1030.1 474.5 1028.8 478.5 1027.5 481.4ZM1125.1 436.5 1135.5 436.5 1135.5 544.5 1048.1 544.5 1048.9 542.5 1049.5 542 1050.3 540.5 1053.1 536.5 1052.5 534.5 1051.3 532.5 1049.5 530.2 1047.5 528.1 1045.5 526.4 1041.5 523.8 1039.5 523.5 1039.3 524.5 1041.2 534.5 1041.7 536.5 1043.5 541.2 1044.4 542.5 1045 544.5 1027.5 544.5 1027.5 513.8 1031.5 514.6 1033.5 515.4 1034.5 514.5 1035.2 508.5 1035.5 506.9 1035.6 506.5 1037.5 504.5 1039.5 505.4 1041.5 507.2 1049 516.5 1051.5 518.7 1053.5 520 1055.5 520.9 1059.5 521.8 1065.5 522.2 1071.5 522.1 1079.5 521.3 1083.5 520.4 1087.5 519.2 1091.5 517.5 1095.5 515.4 1099.5 512.8 1102.7 510.5 1107.3 506.5 1109.5 504.1 1112 500.5 1113 498.5 1113.7 496.5 1114.6 492.5 1114.9 488.5 1114.9 476.5 1114.6 464.5 1115 460.5 1115.5 458.7 1117.4 456.5 1121 454.5 1121.5 453.4 1123.9 446.5 1124.9 442.5 1125.3 438.5Z" fill="#faeae1" fill-rule="evenodd"/>
<path d="M1119.1 468.5 1119.5 467.7 1121.5 466.7 1123.5 467.2 1125.5 468.3 1127.5 469.8 1130.3 472.5 1131.9 474.5 1133.1 476.5 1134.4 480.5 1134.6 482.5 1134.5 484.5 1134.1 486.5 1133 490.5 1132.3 492.5 1130.4 496.5 1127.5 501.5 1122.8 508.5 1115.3 520.5 1112 524.5 1110 526.5 1107.5 528.5 1104.2 530.5 1101.5 531.8 1099.5 532.6 1093.8 534.5 1086.8 536.5 1083.5 537.3 1077.5 538 1073.5 537.7 1071.5 537.4 1069 536.5 1065.5 534.5 1063.4 532.5 1062.4 530.5 1063.7 528.5 1067.5 527.6 1071.5 526.9 1081.5 526 1085.5 525.4 1091.5 523.8 1097.5 521.2 1111.5 514.1 1113.5 512.9 1115.5 511.3 1117.6 508.5 1118.6 506.5 1119.2 504.5 1119.7 500.5 1119.5 496.5 1118.3 488.5 1117.9 482.5 1118.1 474.5 1118.6 470.5Z" fill="#fbe4d6" fill-rule="evenodd"/>
<path d="M1123 474.5 1123.5 474.1 1125.5 474.6 1127.5 476.3 1128.8 478.5 1129.6 480.5 1129.9 482.5 1129.9 484.5 1129.6 486.5 1128.9 488.5 1127.8 490.5 1127.5 490.9 1125.5 492.1 1123.5 491 1122.3 488.5 1121.6 486.5 1121 482.5 1121.1 478.5 1121.5 476.3Z" fill="#fdddcb" fill-rule="evenodd"/>
<path d="M1094.9 442.5 1097.5 442 1099.5 442.1 1101.5 442.9 1103.5 444.5 1105.5 447.4 1106.7 450.5 1107.2 452.5 1107.8 456.5 1108.9 468.5 1109.3 474.5 1109.3 480.5 1109 484.5 1108.2 488.5 1107.5 490.9 1106 494.5 1103.5 498.5 1101.9 500.5 1097.5 504.9 1093.5 508 1089.8 510.5 1086 512.5 1083.5 513.5 1080.5 514.5 1077.5 515.2 1071.5 515.7 1067.5 515.5 1065.5 515.1 1061.5 513.9 1059.5 513 1057.5 511.7 1055.5 510.1 1053.5 508.1 1050.7 504.5 1048.1 500.5 1045.9 496.5 1044.2 492.5 1043.5 490.5 1043.1 488.5 1042.6 484.5 1042.6 482.5 1042.8 478.5 1043.5 475.1 1044.2 472.5 1045.9 468.5 1047.5 465.8 1050.1 462.5 1053.5 459.5 1057.5 457.1 1059.5 456.1 1063.5 454.7 1075.5 451.6 1079.5 450.2 1083.5 448.4 1091.5 443.8 1093.5 442.9Z" fill="#eff3f5" fill-rule="evenodd"/>
<path d="M1089.8 448.5 1093.5 447.2 1095.5 446.9 1097.5 447 1099.5 447.7 1101.5 449.2 1102.6 450.5 1103.7 452.5 1104.4 454.5 1105.2 458.5 1106.1 464.5 1106.6 470.5 1106.8 476.5 1106.6 480.5 1106.1 484.5 1105.5 486.8 1104.2 490.5 1103.3 492.5 1101.5 495.4 1099.5 498 1097.5 500.2 1092.8 504.5 1090.1 506.5 1087 508.5 1083.5 510.3 1081.5 511.1 1077.5 512.2 1075.5 512.5 1071.5 512.8 1069.5 512.7 1065.5 511.9 1063.5 511.2 1061.5 510.2 1058.9 508.5 1056.7 506.5 1053.5 502.4 1051.1 498.5 1049 494.5 1047.5 490.9 1046.8 488.5 1046.4 486.5 1046 482.5 1046.2 478.5 1046.6 476.5 1047.8 472.5 1049.5 469 1051.5 466.2 1053.5 464.1 1055.4 462.5 1058.6 460.5 1063.5 458.3 1075.5 454.9 1079.5 453.5 1083.5 451.8Z" fill="#e6eff4" fill-rule="evenodd"/>
<path d="M1089.1 452.5 1091.5 451.5 1093.5 450.9 1095.5 450.8 1097.5 451.3 1099.5 452.6 1100.8 454.5 1101.5 456 1102.8 460.5 1103.5 464.5 1104.1 472.5 1104.1 476.5 1103.8 480.5 1103.4 482.5 1102.3 486.5 1101.5 488.6 1099.5 492.2 1096.2 496.5 1093.5 499.2 1089.8 502.5 1085.5 505.6 1083.5 506.7 1079.5 508.4 1075.5 509.4 1071.5 509.6 1067.5 509 1065.5 508.4 1063.5 507.4 1061.5 506.1 1059.7 504.5 1057.9 502.5 1056.5 500.5 1053.1 494.5 1051.4 490.5 1050.3 486.5 1049.9 484.5 1049.8 480.5 1050 478.5 1051 474.5 1051.9 472.5 1053.1 470.5 1054.6 468.5 1056.7 466.5 1059.5 464.5 1063.5 462.5 1073.5 459.2 1079.5 456.9Z" fill="#ddebf2" fill-rule="evenodd"/>
<path d="M1088.6 456.5 1091.5 455.5 1093.5 455.3 1095.5 455.7 1097.5 457 1098.5 458.5 1099.5 460.3 1100.2 462.5 1101 466.5 1101.4 472.5 1101 478.5 1100.1 482.5 1099.4 484.5 1097.3 488.5 1095.5 491 1093.5 493.3 1088.1 498.5 1085.8 500.5 1083 502.5 1079.3 504.5 1075.5 505.6 1073.5 505.9 1071.5 505.9 1069.5 505.6 1067.5 505 1065.5 504 1063.5 502.5 1061.6 500.5 1059 496.5 1057.1 492.5 1055.7 488.5 1054.9 484.5 1054.8 480.5 1055.1 478.5 1055.7 476.5 1056.7 474.5 1058.1 472.5 1060.2 470.5 1063.1 468.5 1073.5 464 1084.3 458.5Z" fill="#d4e6f1" fill-rule="evenodd"/>
<path d="M1090.8 460.5 1091.5 460.4 1093.5 460.7 1095.5 462.1 1096.8 464.5 1097.5 466.5 1098 470.5 1097.8 474.5 1097.5 476.8 1096.3 480.5 1095.5 482.3 1093.5 485.2 1091.5 487.3 1089.5 489 1085.2 492.5 1080.7 496.5 1077.9 498.5 1075.5 499.6 1073.5 500 1071.5 499.9 1069.5 499.2 1068.5 498.5 1066.7 496.5 1065.6 494.5 1065.1 492.5 1064.9 490.5 1065 488.5 1065.5 486.4 1066.7 484.5 1067.5 483.6 1071.5 480.4 1073.5 477.3 1074.7 474.5 1077 470.5 1078.6 468.5 1080.5 466.5 1082.9 464.5 1085.8 462.5 1089.5 460.8Z" fill="#c7e0ed" fill-rule="evenodd"/>
</g>
<path d="M1091.5 460.4 1089.5 460.8 1085.8 462.5 1082.9 464.5 1080.5 466.5 1078.6 468.5 1077 470.5 1074.7 474.5 1073.5 477.3 1071.5 480.4 1067.5 483.6 1066.7 484.5 1065.5 486.4 1065 488.5 1064.9 490.5 1065.1 492.5 1065.6 494.5 1066.7 496.5 1068.5 498.5 1069.5 499.2 1071.5 499.9 1073.5 500 1075.5 499.6 1077.5 498.7 1079.5 497.4 1091.5 487.3 1093.5 485.2 1095.5 482.3 1097 478.5 1097.6 476.5 1097.8 474.5 1098 470.5 1097.5 466.5 1096.8 464.5 1095.5 462.1 1093.5 460.7ZM1089.5 454.2 1077.5 459.7 1064.7 464.5 1061.5 466 1059.5 467.3 1057.5 468.9 1055.5 471.1 1053.4 474.5 1052.2 478.5 1052 482.5 1052.5 486.5 1053.7 490.5 1055.5 494.8 1057.5 498.5 1058.8 500.5 1060.5 502.5 1062.6 504.5 1065.8 506.5 1069.5 507.7 1071.5 507.9 1073.5 507.9 1075.5 507.6 1079.5 506.6 1083.5 504.6 1086.7 502.5 1089.2 500.5 1093.5 496.5 1095.4 494.5 1098.4 490.5 1099.5 488.6 1100.5 486.5 1101.5 483.7 1102.2 480.5 1102.8 474.5 1102.7 470.5 1102.4 466.5 1101.3 460.5 1100.6 458.5 1099.5 456.1 1097.5 454 1095.5 453.1 1093.5 453.1 1091.5 453.5ZM1091.5 447.8 1083.5 451.8 1079.5 453.5 1075.5 454.9 1063.5 458.3 1058.6 460.5 1055.4 462.5 1053.5 464.1 1051.5 466.2 1049.5 469 1047.8 472.5 1046.6 476.5 1046.2 478.5 1046 482.5 1046.4 486.5 1046.8 488.5 1048.1 492.5 1051.1 498.5 1053.5 502.5 1055.5 505.1 1057.5 507.3 1059.5 508.9 1061.5 510.2 1063.5 511.2 1067.5 512.4 1069.5 512.7 1073.5 512.7 1075.7 512.5 1079.5 511.7 1083 510.5 1085.5 509.3 1087.5 508.2 1091.5 505.5 1095.1 502.5 1097.2 500.5 1099.5 498 1101.5 495.4 1103.3 492.5 1104.2 490.5 1105.5 486.8 1106.1 484.5 1106.6 480.5 1106.8 476.5 1106.6 470.5 1106.1 464.5 1105.2 458.5 1104.4 454.5 1103.7 452.5 1102.6 450.5 1101.5 449.2 1099.5 447.7 1097.5 447 1095.5 446.9 1093.5 447.2ZM1097.5 437.9 1095.5 438.6 1093.5 439.6 1086.7 444.5 1083.6 446.5 1079.5 448.5 1073.5 450.4 1065.5 452.3 1061.5 453.5 1057.5 455.1 1055.5 456.1 1051.9 458.5 1049.5 460.6 1047.5 462.8 1045 466.5 1044 468.5 1042.5 472.5 1041.2 478.5 1040.8 484.5 1041.2 488.5 1041.6 490.5 1042.8 494.5 1043.7 496.5 1045.9 500.5 1048.5 504.5 1051.5 508.5 1053.3 510.5 1055.5 512.5 1057.5 513.9 1059.5 515 1063.5 516.3 1065.5 516.7 1069.5 517.1 1073.5 517.1 1077.5 516.6 1083.5 515.2 1087.5 513.5 1089.5 512.5 1093.5 510 1097.5 507.1 1102.4 502.5 1104.1 500.5 1106.9 496.5 1108.7 492.5 1109.9 488.5 1110.5 484.5 1110.7 480.5 1110.5 472.5 1109.1 452.5 1108.6 448.5 1107.5 444.1 1106.7 442.5 1105.4 440.5 1103.5 438.9 1101.5 438 1099.5 437.7ZM1076.3 436.5 1075.5 437.4 1074 438.5 1073.4 440.5 1071.5 441.9 1069.9 442.5 1068.8 442.5 1067.5 442.1 1065.5 440.8 1063.5 440.3 1061.5 440.4 1055.5 441.3 1049.5 443 1047.5 443.8 1043.5 446.1 1041.5 447.7 1039.5 449.7 1037.4 452.5 1036.1 454.5 1034.3 458.5 1032.4 464.5 1030.1 474.5 1028.8 478.5 1027.5 481.4M1027.5 513.8 1031.5 514.6 1033.5 515.4 1034.5 514.5 1035.2 508.5 1035.5 506.9 1035.6 506.5 1037.5 504.5 1039.5 505.4 1041.5 507.2 1049 516.5 1051.5 518.7 1053.5 520 1055.5 520.9 1059.5 521.8 1065.5 522.2 1071.5 522.1 1079.5 521.3 1083.5 520.4 1087.5 519.2 1091.5 517.5 1095.5 515.4 1099.5 512.8 1102.7 510.5 1107.3 506.5 1109.5 504.1 1112 500.5 1113 498.5 1113.7 496.5 1114.6 492.5 1114.9 488.5 1114.9 476.5 1114.6 464.5 1115 460.5 1115.5 458.7 1117.4 456.5 1121 454.5 1121.5 453.4 1123.9 446.5 1124.9 442.5 1125.3 438.5 1125.1 436.5M1048.1 544.5 1048.9 542.5 1049.5 542 1050.3 540.5 1053.1 536.5 1052.5 534.5 1051.3 532.5 1049.5 530.2 1047.5 528.1 1045.5 526.4 1041.5 523.8 1039.5 523.5 1039.3 524.5 1041.5 535.8 1043.5 541.2 1044.4 542.5 1045 544.5M1120.6 472.5 1121.5 471.1 1123.5 470.7 1125.5 471.5 1127.5 473.1 1128.8 474.5 1130.1 476.5 1131 478.5 1131.6 480.5 1131.9 482.5 1131.9 484.5 1131.6 486.5 1130.5 490.5 1129.5 492.6 1128.2 494.5 1127.5 495.5 1125.5 497 1123.5 496.7 1121.5 492.8 1120.2 488.5 1119.5 484.5 1119.4 482.5 1119.6 476.5 1119.9 474.5ZM1072.5 532.5 1073.5 532 1075.5 531.7 1077.5 531.7 1079.5 532.1 1080.7 532.5 1077.5 533.3 1075.5 533.3 1073.5 532.9Z" fill="none" stroke="#222" stroke-opacity="0.58" stroke-width="0.75"/>
<path d="M1070.5 446.5h.01M1081.5 446.5h.01M1092.5 446.5h.01M1048.5 457.5h.01M1059.5 457.5h.01M1070.5 457.5h.01M1081.5 457.5h.01M1092.5 457.5h.01M1103.5 457.5h.01M1114.5 457.5h.01M1048.5 468.5h.01M1059.5 468.5h.01M1070.5 468.5h.01M1081.5 468.5h.01M1092.5 468.5h.01M1103.5 468.5h.01M1114.5 468.5h.01M1037.5 479.5h.01M1048.5 479.5h.01M1059.5 479.5h.01M1070.5 479.5h.01M1081.5 479.5h.01M1092.5 479.5h.01M1103.5 479.5h.01M1114.5 479.5h.01M1125.5 479.5h.01M1037.5 490.5h.01M1048.5 490.5h.01M1059.5 490.5h.01M1070.5 490.5h.01M1081.5 490.5h.01M1092.5 490.5h.01M1103.5 490.5h.01M1114.5 490.5h.01M1125.5 490.5h.01M1037.5 501.5h.01M1048.5 501.5h.01M1059.5 501.5h.01M1070.5 501.5h.01M1081.5 501.5h.01M1092.5 501.5h.01M1103.5 501.5h.01M1114.5 501.5h.01M1125.5 501.5h.01M1048.5 512.5h.01M1059.5 512.5h.01M1070.5 512.5h.01M1081.5 512.5h.01M1092.5 512.5h.01M1103.5 512.5h.01M1114.5 512.5h.01M1048.5 523.5h.01M1059.5 523.5h.01M1070.5 523.5h.01M1081.5 523.5h.01M1092.5 523.5h.01M1103.5 523.5h.01M1114.5 523.5h.01M1070.5 534.5h.01M1081.5 534.5h.01M1092.5 534.5h.01" stroke="#333" stroke-opacity="0.5" stroke-width="1.3" stroke-linecap="round" fill="none"/>
</g>
<mask id="tc01" maskUnits="userSpaceOnUse" x="1185.5" y="37.7" width="112.0" height="112.0"><circle cx="1241.5" cy="93.7" r="53.0" fill="url(#mg)"/></mask>
<circle cx="1241.5" cy="93.7" r="51.5" fill="#fbfafb" filter="url(#gl)"/>
<g mask="url(#tc01)">
<g filter="url(#bl)"><rect x="1186.5" y="38.7" width="110.0" height="110.0" fill="#f7f6f6"/>
<path d="M1236.8 51.7 1239.5 50.3 1241.5 49.9 1243.5 49.9 1245.5 50.2 1247.5 51 1249.5 52.1 1251.5 53.7 1253.3 55.7 1255.5 58.9 1257.5 63.3 1258.7 67.7 1259.5 73.7 1259.6 79.7 1259 85.7 1257.5 93.5 1255.5 98.8 1253.5 102.4 1251.5 105 1249.5 106.8 1248.1 107.7 1245.5 108.7 1243.5 109 1241.5 108.9 1239.5 108.4 1237.5 107.6 1234.8 105.7 1233.5 104.5 1231.5 102.2 1229.5 99.1 1227.1 93.7 1225.5 87.7 1225.1 83.7 1225.1 77.7 1225.5 73.7 1227 67.7 1229.4 61.7 1231.5 57.7 1233.5 54.8 1235.5 52.7Z" fill="#f8f1ed" fill-rule="evenodd"/>
<path d="M1239.5 53.7 1241.5 53.2 1243.5 53.1 1245.5 53.5 1247.5 54.3 1249.5 55.5 1251.5 57.4 1253.5 60 1255.5 63.9 1256.6 67.7 1257.5 72 1257.7 77.7 1257.5 82.8 1256.3 89.7 1255.2 93.7 1253.5 97.7 1250.9 101.7 1249.5 103.2 1247.5 104.6 1245 105.7 1243.5 106 1241.5 105.9 1239.5 105.4 1237.5 104.5 1236.3 103.7 1233.5 101.3 1231.5 98.7 1229.5 95.1 1227.6 89.7 1226.8 85.7 1226.5 81.7 1226.9 75.7 1227.5 72.5 1229.5 66.4 1231.5 62.3 1233.5 59.1 1235.5 56.6 1236.5 55.7 1237.5 54.9Z" fill="#faeae1" fill-rule="evenodd"/>
<path d="M1239.2 59.7 1241.5 58.7 1243.5 58.5 1245.5 58.8 1247.6 59.7 1249.5 61.2 1251.5 63.7 1253.5 68.1 1254.2 71.7 1254.5 75.7 1254.4 79.7 1253.5 86.4 1252.6 89.7 1251.5 92.9 1249.5 96.7 1247.5 99.1 1245.5 100.5 1243.5 101.2 1241.5 101.4 1239.5 101.1 1237.5 100.2 1235.5 98.8 1233.5 96.8 1231.5 93.8 1229.5 88.8 1228.9 85.7 1228.6 81.7 1228.8 77.7 1229.5 74 1230.4 71.7 1231.5 68.9 1233.5 65.6 1235.5 63 1237.5 61Z" fill="#fbe4d6" fill-rule="evenodd"/>
<path d="M1236.1 75.7 1237.5 75 1239.5 74.8 1241.5 75.4 1243.5 78.1 1243.9 79.7 1244 81.7 1243.5 84.9 1242.2 87.7 1241.5 88.7 1240.4 89.7 1239.5 90.3 1237.5 90.5 1235.5 89.6 1233.5 86.7 1232.9 83.7 1232.9 81.7 1233.2 79.7 1233.5 78.7 1234.2 77.7 1235.5 76.1Z" fill="#fdddcb" fill-rule="evenodd"/>
<path d="M1187.5 39.7 1295.5 39.7 1295.5 147.7 1187.5 147.7ZM1239.5 47 1237.5 47.9 1235.5 49.2 1233.5 51.2 1231.5 53.8 1230.3 55.7 1227.5 61.5 1225.3 67.7 1224.3 71.7 1223.6 77.7 1223.6 83.7 1224.4 89.7 1226.1 95.7 1227.5 98.9 1229 101.7 1231.5 105.2 1233.9 107.7 1235.5 109 1237.5 110.2 1239.5 111 1241.5 111.5 1243.5 111.6 1245.5 111.4 1247.5 110.8 1249.5 109.8 1252 107.7 1253.5 106 1255 103.7 1257.5 98.8 1259.5 92.3 1260.6 85.7 1261.1 77.7 1260.9 71.7 1260 65.7 1258.8 61.7 1257 57.7 1255.5 55.1 1253.5 52.6 1251.5 50.5 1249.5 49 1245.5 47 1243.5 46.6 1241.5 46.6Z" fill="#eff3f5" fill-rule="evenodd"/>
<path d="M1187.5 39.7 1219.5 39.7 1219.9 43.7 1221.5 44.6 1223.5 44.8 1227.5 44.9 1229.5 45.1 1230.6 45.7 1231.3 47.7 1229.8 51.7 1226.9 57.7 1224.6 63.7 1222.5 71.7 1222.1 75.7 1221.9 79.7 1222.1 83.7 1222.5 87.7 1223.7 93.7 1225 97.7 1226.8 101.7 1229.3 105.7 1231.5 108.4 1233.5 110.3 1235.5 111.7 1237.5 112.9 1241.5 114.2 1243.5 114.4 1245.5 114.2 1247.5 113.7 1249.5 112.8 1251.5 111.4 1253.5 109.5 1254.9 107.7 1257.3 103.7 1259 99.7 1260.8 93.7 1261.8 87.7 1262.3 81.7 1262.6 75.7 1262.3 69.7 1261.8 65.7 1260.2 59.7 1258.5 55.7 1255.5 50.6 1253.6 47.7 1252.6 45.7 1252.3 43.7 1253.2 41.7 1251.5 39.7 1258.5 39.7 1258.3 41.7 1259.6 43.7 1261.5 44.7 1262.6 45.7 1265.8 47.7 1269.2 49.7 1273.1 51.7 1275.5 52.4 1277.5 52.7 1282.9 51.7 1285.5 50.9 1288.1 49.7 1290.6 47.7 1292.4 45.7 1293.5 44 1295.5 42.1 1295.5 59.7 1295.5 94.9 1294.4 99.7 1293.5 102 1291.7 111.7 1291.7 113.7 1293.5 116.1 1295.5 117.2 1295.5 147.7 1239.5 147.7 1234.3 145.7 1231.5 145.3 1227.5 145 1225.5 145.4 1224.7 145.7 1223 147.7 1187.5 147.7 1187.5 123 1191.5 122.4 1194.4 121.7 1195.5 120.1 1195.5 119.7 1193.5 109.3 1191.5 101.5 1189.5 96 1187.5 93.4Z" fill="#e6eff4" fill-rule="evenodd"/>
<path d="M1218 55.7 1221.5 54.6 1223.5 55.5 1223.5 55.7 1222.3 59.7 1221.5 62.8 1220.5 65.7 1220.1 67.7 1219.7 71.7 1219.7 77.7 1220.3 85.7 1221.2 91.7 1222.4 97.7 1224.7 103.7 1227.2 107.7 1228.7 109.7 1231.5 112.5 1233.5 114.1 1237.5 116.6 1241.5 117.9 1243.5 118.3 1245.5 118.4 1247.5 118.2 1249.5 117.6 1251.5 116.7 1253.5 115.2 1255.5 112.9 1258.5 107.7 1260.8 101.7 1262.6 93.7 1263.3 87.7 1264.2 75.7 1264.5 67.7 1264.4 59.7 1265.5 57.8 1267.5 58.2 1271.5 59.4 1275.5 61 1277.5 62.1 1281.5 64.9 1283.5 66.8 1285.8 69.7 1287.1 71.7 1288.9 75.7 1290 79.7 1290.4 81.7 1290.6 83.7 1290.6 87.7 1290.2 91.7 1289.4 95.7 1287.5 102 1283.5 112.6 1281.5 117.2 1278.9 121.7 1277.5 123.7 1275.5 126 1271.5 129.5 1265.6 133.7 1261.5 136.1 1257.5 138 1253.5 139.4 1249.5 140.1 1245.5 140.2 1239.5 139.6 1227.5 137.5 1221.5 135.9 1217.5 134 1214.2 131.7 1212.1 129.7 1210.4 127.7 1207.4 123.7 1205.5 120.7 1203.5 116.9 1201.4 111.7 1197.5 97.7 1196.2 91.7 1195.7 87.7 1195.7 85.7 1196.3 81.7 1197.6 77.7 1199.7 73.7 1203.5 68 1207 63.7 1209.5 61.2 1213.5 58.2Z" fill="#ddebf2" fill-rule="evenodd"/>
<path d="M1271.3 67.7 1273.5 66.3 1275.5 66.2 1277.5 66.9 1279.5 68 1281.5 69.6 1283.5 71.9 1285.5 75.2 1286.6 77.7 1287.2 79.7 1287.8 83.7 1287.9 87.7 1287.3 91.7 1286.8 93.7 1285.5 97.2 1283.5 100.7 1281.5 102.7 1279.5 103.9 1277.5 104.8 1275.5 105.2 1273.5 105.1 1271.5 104.4 1269.5 103 1267.5 100.8 1266 97.7 1265.5 95.7 1265.3 89.7 1265.5 83.6 1266.2 77.7 1267.5 72.4 1269.5 69.3ZM1207.7 73.7 1209.5 72.3 1211.5 72 1213.5 73 1215.5 76.1 1216.7 79.7 1217.5 83.7 1218.2 89.7 1218.4 93.7 1218.3 97.7 1217.9 101.7 1216.8 105.7 1215.7 107.7 1213.5 109.4 1211.5 109.6 1209.5 108.7 1207.5 106.5 1206 103.7 1205.2 101.7 1204.6 99.7 1203.7 95.7 1203 89.7 1203.1 85.7 1203.4 83.7 1204.3 79.7 1205.1 77.7 1206.2 75.7Z" fill="#d4e6f1" fill-rule="evenodd"/>
<path d="M1275.3 71.7 1277.5 71.2 1279.5 72 1281.5 73.6 1283.5 76.5 1284.8 79.7 1285.5 83.1 1285.7 85.7 1285.5 87.7 1285.1 89.7 1284.5 91.7 1283.5 93.7 1281.5 95.7 1279.5 96.9 1277.5 97.3 1275.5 97.2 1273.5 96.3 1271.5 94.5 1270.9 93.7 1269.8 91.7 1269.1 89.7 1268.7 87.7 1268.6 83.7 1268.8 81.7 1269.5 78.9 1269.9 77.7 1271.5 74.9 1273.5 72.8ZM1208.6 81.7 1209.5 80.4 1211.5 79.7 1213.5 81.7 1214.8 85.7 1215.3 89.7 1215.2 93.7 1214.3 97.7 1213.5 99.4 1213.1 99.7 1211.5 100.7 1209.5 99.7 1208.4 97.7 1207.5 95.3 1206.9 91.7 1206.9 87.7 1207.5 84.3Z" fill="#c7e0ed" fill-rule="evenodd"/>
<path d="M1275.1 77.7 1275.5 77.3 1277.5 76.4 1279.5 76.7 1281.5 78.6 1282.7 81.7 1283 83.7 1282.9 85.7 1282.4 87.7 1281.3 89.7 1279.5 91.2 1277.5 91.6 1275.5 90.9 1274.3 89.7 1273.5 88.6 1272.7 85.7 1272.6 83.7 1272.9 81.7 1273.6 79.7Z" fill="#bbdaea" fill-rule="evenodd"/>
</g>
<path d="M1277.5 80 1275.7 81.7 1275.2 83.7 1275.5 86 1277.5 87.9 1279.5 87.3 1280.4 85.7 1280.7 83.7 1280.3 81.7 1279.5 80.5ZM1275.5 71.6 1273.5 72.8 1272.5 73.7 1271 75.7 1269.9 77.7 1269.2 79.7 1268.8 81.7 1268.6 85.7 1268.7 87.7 1269.1 89.7 1269.8 91.7 1271.5 94.5 1272.8 95.7 1273.5 96.3 1275.5 97.2 1277.5 97.3 1279.5 96.9 1281.5 95.7 1283.5 93.7 1284.5 91.7 1285.1 89.7 1285.5 87.7 1285.6 83.7 1285.3 81.7 1284.1 77.7 1283 75.7 1281.5 73.6 1279.5 72 1277.5 71.2ZM1209.5 80.4 1208.6 81.7 1207.7 83.7 1207.2 85.7 1206.9 87.7 1206.9 91.7 1207.5 95.3 1208.4 97.7 1209.5 99.7 1211.5 100.7 1213.5 99.4 1214.3 97.7 1214.8 95.7 1215.3 91.7 1215.1 87.7 1214.2 83.7 1213.5 81.7 1211.5 79.7ZM1271.5 63.1 1269.5 63.9 1267.5 65.9 1266.7 67.7 1265.6 71.7 1262.6 105.7 1262.7 107.7 1263.5 109.9 1269.5 119.5 1271.5 121.6 1273.5 120.8 1274.4 119.7 1275.5 118.7 1276 117.7 1277.5 115.8 1278.4 113.7 1279.5 112.3 1280.9 109.7 1281.5 109 1283.5 105.5 1285.5 101.5 1287.1 97.7 1288.3 93.7 1288.7 91.7 1289.1 87.7 1289.1 83.7 1288.5 79.7 1287.2 75.7 1285.5 72.3 1283.5 69.5 1281.5 67.4 1279.5 65.8 1277.5 64.6 1275.5 63.7 1273.5 63.2ZM1209.5 66.8 1207.5 68.2 1205.5 70.5 1203.4 73.7 1201.4 77.7 1200.7 79.7 1199.7 83.7 1199.5 87.7 1200.4 93.7 1202.9 103.7 1204.4 107.7 1205.5 110.1 1207.5 113.3 1209.5 115.5 1211.5 117.1 1212.6 117.7 1215.3 119.7 1216.6 121.7 1217.1 123.7 1217.6 127.7 1219 129.7 1221.8 131.7 1227.6 133.7 1239.5 134.8 1244.7 135.7 1248.3 135.7 1251.5 134.3 1253.6 133.7 1251.5 132.8 1249.5 131.5 1247.5 129.7 1244.3 125.7 1242.4 123.7 1239.6 121.7 1237.5 120.6 1229.5 115.5 1226.3 113.7 1223.5 111.6 1222.4 109.7 1221.5 105.7 1218.6 81.7 1217.3 73.7 1216.6 71.7 1215.5 69.2 1213.5 67 1211.5 66.3ZM1251.5 39.7 1253.2 41.7 1252.3 43.7 1252.6 45.7 1253.6 47.7 1255.5 50.6 1258.5 55.7 1260.2 59.7 1261.3 63.7 1262.1 67.7 1262.5 73.7 1262.5 79.7 1262 85.7 1261.2 91.7 1259.7 97.7 1258.3 101.7 1255.5 106.9 1253.3 109.7 1251.5 111.4 1249.5 112.8 1247.5 113.7 1245.5 114.2 1243.5 114.4 1241.5 114.2 1237.5 112.9 1235.5 111.7 1233.5 110.3 1231.5 108.4 1229.3 105.7 1226.8 101.7 1224.3 95.7 1222.8 89.7 1222.1 83.7 1222 77.7 1222.5 71.7 1224.6 63.7 1226.9 57.7 1229.8 51.7 1231.3 47.7 1230.6 45.7 1229.5 45.1 1227.5 44.9 1223.5 44.8 1221.5 44.6 1219.9 43.7 1219.5 39.7M1295.5 42.1 1293.5 44 1292.4 45.7 1290.6 47.7 1288.1 49.7 1285.5 50.9 1282.9 51.7 1277.5 52.7 1275.5 52.4 1273.1 51.7 1269.2 49.7 1265.8 47.7 1262.6 45.7 1261.5 44.7 1259.6 43.7 1258.3 41.7 1258.5 39.7M1187.5 93.4 1189.5 96 1191.5 101.5 1193.5 109.3 1195.5 119.7 1195.5 120.1 1194.4 121.7 1191.5 122.4 1187.5 123M1295.5 117.2 1293.5 116.1 1291.7 113.7 1291.7 111.7 1293.5 102 1294.4 99.7 1295.5 94.9M1223 147.7 1224.7 145.7 1225.5 145.4 1227.5 145 1231.5 145.3 1234.3 145.7 1239.5 147.7M1237.4 49.7 1239.5 48.8 1241.5 48.4 1243.5 48.4 1245.5 48.7 1247.5 49.5 1249.5 50.6 1251.5 52.2 1253.5 54.2 1254.6 55.7 1257 59.7 1258.5 63.7 1259.6 67.7 1260.3 73.7 1260.3 79.7 1259.6 87.7 1258.3 93.7 1257.5 96.3 1256.1 99.7 1253.5 104.2 1251.5 106.6 1250.3 107.7 1247.5 109.4 1245.5 110.1 1243.5 110.4 1241.5 110.2 1239.5 109.7 1237.5 108.9 1235.6 107.7 1233.5 106 1231.5 103.7 1230.1 101.7 1227.8 97.7 1226.3 93.7 1224.8 87.7 1224.2 81.7 1224.5 75.7 1225.1 71.7 1226.8 65.7 1229.3 59.7 1231.5 55.7 1233.5 53 1234.8 51.7 1235.5 51ZM1239.5 53.7 1241.5 53.2 1243.5 53.1 1245.5 53.5 1247.5 54.3 1249.5 55.5 1251.5 57.4 1253.5 60 1255.5 63.9 1256.6 67.7 1257.5 72 1257.7 77.7 1257.5 82.8 1256.3 89.7 1255.2 93.7 1253.5 97.7 1250.9 101.7 1249.5 103.2 1247.5 104.6 1245 105.7 1243.5 106 1241.5 105.9 1239.5 105.4 1237.5 104.5 1236.3 103.7 1233.5 101.3 1231.5 98.7 1229.5 95.1 1227.6 89.7 1226.8 85.7 1226.5 81.7 1226.9 75.7 1227.5 72.5 1229.5 66.4 1231.5 62.3 1233.5 59.1 1235.5 56.6 1236.5 55.7 1237.5 54.9ZM1239.3 65.7 1241.5 64.9 1243.5 64.7 1245.5 65.1 1247.5 66.4 1249.5 69.2 1250.3 71.7 1250.7 73.7 1250.8 75.7 1250.7 79.7 1250.2 83.7 1249.2 87.7 1247.7 91.7 1246.5 93.7 1245.5 95 1243.5 96.6 1241.5 97.4 1239.5 97.4 1237.5 96.7 1235.5 95.5 1233.5 93.4 1231.5 89.8 1230.4 85.7 1230.1 83.7 1230.2 79.7 1230.5 77.7 1231.5 74.1 1233.5 70.6 1235.5 68.3 1237.5 66.7Z" fill="none" stroke="#222" stroke-opacity="0.58" stroke-width="0.75"/>
<path d="M1230.5 49.7h.01M1241.5 49.7h.01M1252.5 49.7h.01M1208.5 60.7h.01M1219.5 60.7h.01M1230.5 60.7h.01M1241.5 60.7h.01M1252.5 60.7h.01M1263.5 60.7h.01M1274.5 60.7h.01M1208.5 71.7h.01M1219.5 71.7h.01M1230.5 71.7h.01M1241.5 71.7h.01M1252.5 71.7h.01M1263.5 71.7h.01M1274.5 71.7h.01M1197.5 82.7h.01M1208.5 82.7h.01M1219.5 82.7h.01M1230.5 82.7h.01M1241.5 82.7h.01M1252.5 82.7h.01M1263.5 82.7h.01M1274.5 82.7h.01M1285.5 82.7h.01M1197.5 93.7h.01M1208.5 93.7h.01M1219.5 93.7h.01M1230.5 93.7h.01M1241.5 93.7h.01M1252.5 93.7h.01M1263.5 93.7h.01M1274.5 93.7h.01M1285.5 93.7h.01M1197.5 104.7h.01M1208.5 104.7h.01M1219.5 104.7h.01M1230.5 104.7h.01M1241.5 104.7h.01M1252.5 104.7h.01M1263.5 104.7h.01M1274.5 104.7h.01M1285.5 104.7h.01M1208.5 115.7h.01M1219.5 115.7h.01M1230.5 115.7h.01M1241.5 115.7h.01M1252.5 115.7h.01M1263.5 115.7h.01M1274.5 115.7h.01M1208.5 126.7h.01M1219.5 126.7h.01M1230.5 126.7h.01M1241.5 126.7h.01M1252.5 126.7h.01M1263.5 126.7h.01M1274.5 126.7h.01M1230.5 137.7h.01M1241.5 137.7h.01M1252.5 137.7h.01" stroke="#333" stroke-opacity="0.5" stroke-width="1.3" stroke-linecap="round" fill="none"/>
</g>
<mask id="tc11" maskUnits="userSpaceOnUse" x="1185.5" y="171.0" width="112.0" height="112.0"><circle cx="1241.5" cy="227.0" r="53.0" fill="url(#mg)"/></mask>
<circle cx="1241.5" cy="227.0" r="51.5" fill="#fbfafb" filter="url(#gl)"/>
<g mask="url(#tc11)">
<g filter="url(#bl)"><rect x="1186.5" y="172.0" width="110.0" height="110.0" fill="#f7f6f6"/>
<path d="M1238.7 191 1239.5 190.7 1241.5 190.5 1243.5 190.8 1245.5 191.7 1247.2 193 1249.1 195 1251.5 198.7 1252.5 201 1253.8 205 1254.6 209 1255 213 1254.9 217 1254.4 221 1253.3 225 1251.5 229 1249.5 231.8 1247.5 233.5 1245.5 234.6 1244.1 235 1241.5 235.2 1239.5 234.8 1237.5 233.8 1236.3 233 1233.5 230.3 1231.3 227 1229.7 223 1229.1 221 1228.4 217 1228.1 213 1228.3 209 1228.9 205 1230.1 201 1231.5 197.8 1233.5 194.8 1235.5 192.8 1237.5 191.4Z" fill="#f8f1ed" fill-rule="evenodd"/>
<path d="M1236.5 195 1237.5 194.3 1239.5 193.5 1241.5 193.3 1243.5 193.7 1245.5 194.6 1247.5 196.4 1249.5 199 1251.5 203 1252.1 205 1253 209 1253.4 213 1253.4 215 1253.1 219 1252.1 223 1251.5 225 1249.5 228.5 1247 231 1245.5 231.9 1243.5 232.5 1241.5 232.6 1239.5 232.1 1237.5 231.1 1235.5 229.4 1233.5 227 1231.5 223.2 1230.8 221 1229.9 217 1229.6 213 1229.6 211 1230.1 207 1231.5 202 1233 199 1234.5 197 1235.5 195.8Z" fill="#faeae1" fill-rule="evenodd"/>
<path d="M1236.7 199 1237.5 198.3 1239.5 197.3 1241.5 197 1243.5 197.6 1245.5 198.8 1247.5 201 1249.6 205 1250.7 209 1251.3 213 1251.3 215 1250.9 219 1249.5 223.6 1247.5 226.7 1245.5 228.3 1243.5 229.1 1241.5 229.1 1239.5 228.4 1237.5 227.2 1235.5 225.1 1234.2 223 1233.5 221.8 1232.6 219 1231.8 215 1231.6 213 1232 209 1233.5 203.4 1235.5 200.2Z" fill="#fbe4d6" fill-rule="evenodd"/>
<path d="M1187.5 173 1295.5 173 1295.5 281 1187.5 281ZM1237.5 188.9 1235.5 190 1233.5 191.8 1232.5 193 1231.1 195 1230 197 1228.4 201 1227.4 205 1226.8 209 1226.8 215 1227.2 219 1228.1 223 1229.5 226.9 1231.5 230.5 1233.5 233.1 1235.6 235 1237.5 236.2 1239.5 237.1 1241.5 237.5 1243.5 237.5 1245.5 237 1247.5 236.1 1249.5 234.6 1251 233 1252.4 231 1254.3 227 1255 225 1255.9 221 1256.4 217 1256.3 211 1255.8 207 1254.2 201 1252.5 197 1251.5 195.2 1249.9 193 1248.1 191 1245.5 189.2 1243.5 188.4 1241.5 188 1239.5 188.2Z" fill="#eff3f5" fill-rule="evenodd"/>
<path d="M1187.5 173 1295.5 173 1295.5 281 1187.5 281ZM1237.5 186.1 1235.5 187.2 1233.5 188.8 1231.5 191 1228.9 195 1227.3 199 1226.2 203 1225.5 209 1225.4 213 1225.8 219 1226.5 223 1227.1 225 1228.7 229 1231.1 233 1233.5 235.8 1235.5 237.5 1237.5 238.6 1239.5 239.4 1241.5 239.8 1243.5 239.8 1245.5 239.4 1247.5 238.6 1249.5 237.4 1252 235 1254.7 231 1256.3 227 1257.2 223 1257.9 217 1257.9 213 1257.2 207 1256.4 203 1254.3 197 1252.2 193 1249.5 189.5 1247.5 187.7 1245.5 186.5 1243.5 185.7 1241.5 185.4 1239.5 185.6Z" fill="#e6eff4" fill-rule="evenodd"/>
<path d="M1245.4 181 1247.5 179.8 1249.5 179.5 1253.5 179.7 1257.5 180.5 1261.5 181.8 1271.5 185.7 1275.5 188.3 1277.5 190.2 1280.8 195 1282.7 199 1284.8 205 1285.9 209 1286.8 213 1287.5 217 1287.9 221 1288.1 225 1288.1 229 1287.7 235 1286.6 243 1286.1 245 1284.7 249 1282.8 253 1281.5 255 1276.7 261 1271.3 267 1267.5 270.7 1263.5 274 1258.8 277 1257.5 278.2 1255.8 279 1253.7 281 1233.3 281 1231.5 280.1 1230.3 279 1227.5 277.8 1226.3 277 1221.5 274.2 1215.5 269.8 1211.5 265.9 1209.1 263 1207.8 261 1205.5 257 1202.4 251 1197.3 243 1195 239 1193.7 235 1193.1 231 1193.3 227 1194.3 221 1195.9 215 1198.1 209 1200.8 203 1204.1 197 1206.8 193 1208.4 191 1211.5 188 1213.5 186.7 1217.5 184.9 1223.5 182.9 1227.5 181.8 1231.5 181.2 1233.5 181.6 1234.3 183 1233.5 183.8 1232.8 185 1231.5 186.3 1229.5 189 1228.1 191 1227.1 193 1226.2 195 1225 199 1224.2 203 1223.8 209 1224 217 1224.8 223 1226.5 229 1228.5 233 1231.6 237 1233.5 238.8 1235.5 240.3 1237.5 241.4 1239.5 242.1 1241.5 242.5 1243.5 242.5 1245.5 242.3 1247.5 241.7 1249.5 240.8 1251.5 239.6 1254.4 237 1255.9 235 1257 233 1258.5 229 1259 227 1259.6 221 1259.8 217 1259.7 213 1259.1 207 1258.3 203 1257.1 199 1256.5 197 1254.7 193 1251.5 187.9 1247.5 183.6 1246.6 183Z" fill="#ddebf2" fill-rule="evenodd"/>
<path d="M1259.2 189 1259.5 188.8 1261.5 188.6 1267.5 189.2 1269.5 189.7 1271.5 190.4 1273.5 191.6 1275.5 193.3 1277.5 195.7 1278.3 197 1280.2 201 1280.9 203 1282.3 209 1282.8 213 1282.8 219 1282.1 225 1280.9 231 1280.3 233 1278.7 237 1277.5 239 1275.5 241.1 1273.5 242 1271.5 241.8 1269.5 240.6 1268.2 239 1267.5 238 1266.1 235 1264.1 229 1263 223 1261.3 203 1260.7 199 1259.4 193 1259.2 191ZM1213.2 193 1215.5 192.3 1217.5 192.9 1219.5 196.1 1220.6 199 1221.5 204.5 1222.5 221 1223.7 235 1224 237 1225.5 239 1229.5 241.1 1233.5 243.8 1237.5 245.7 1241.5 246.7 1249.5 247.3 1251.5 247.7 1253.5 248.4 1257.5 250.1 1261.5 252.5 1263.5 254 1266.4 257 1267.8 259 1267.9 261 1267 263 1265.7 265 1263.9 267 1261.7 269 1258.8 271 1255.5 272.8 1253.5 273.6 1249.5 274.7 1245.5 275.3 1243.5 275.5 1239.5 275.3 1235.5 274.7 1231.5 273.6 1227.5 271.9 1222.8 269 1220.4 267 1218.5 265 1217.1 263 1216.5 261 1217.1 259 1219.4 255 1221.5 250.9 1222.7 247 1223.1 245 1223.2 243 1221.5 241.8 1217.5 243.8 1215.5 244 1213.5 243.2 1211.5 241.6 1209.5 239.1 1208.1 237 1206.1 233 1204.5 229 1203.2 223 1202.8 219 1202.9 215 1203.8 209 1204.9 205 1205.7 203 1207.5 199.2 1209.5 196.2 1211.5 194.1Z" fill="#d4e6f1" fill-rule="evenodd"/>
<path d="M1268.2 195 1269.5 194.2 1271.5 194.2 1273.5 195.2 1275.5 197.1 1276.8 199 1277.9 201 1278.7 203 1279.7 207 1280 209 1280.3 213 1280.1 217 1279.7 221 1278.9 225 1278.3 227 1277.5 229 1275.5 232.3 1273.5 233.6 1271.5 233.5 1269.5 232 1267.5 228.6 1266.3 225 1265.8 223 1265.1 219 1264.7 215 1264.6 211 1264.7 207 1265.2 203 1266.1 199 1266.9 197ZM1211.9 201 1213.5 200.3 1215.5 201.1 1217 203 1217.5 203.9 1218.6 207 1219.1 209 1219.7 213 1220 217 1220 221 1219.7 225 1219.3 227 1218.8 229 1217.5 232 1215.5 234.2 1213.5 234.6 1211.5 233.4 1209.8 231 1208.8 229 1208.1 227 1206.9 221 1206.8 215 1207 213 1207.7 209 1208.3 207 1209.5 203.9 1211.5 201.2ZM1240 261 1241.5 260.5 1243.5 260.2 1245.5 260.2 1247.5 260.6 1249.5 261.3 1251.9 263 1253.4 265 1253.9 267 1251.8 269 1249.5 269.8 1245.5 270.7 1243.5 270.9 1241.5 270.8 1239.5 270.4 1235.2 269 1234.7 267 1235.5 265 1237.5 262.6Z" fill="#c7e0ed" fill-rule="evenodd"/>
<path d="M1270.9 199 1271.5 198.5 1273.5 198.9 1275.5 201 1277.3 205 1278.1 209 1278.4 213 1278 219 1277.2 223 1276.4 225 1275.4 227 1273.5 228.8 1271.5 228.7 1269.5 226.7 1268.7 225 1267.9 223 1267 219 1266.5 213 1267 207 1268.1 203 1269 201 1269.5 200.2ZM1213.3 207 1213.5 206.9 1215.5 208.3 1216.6 211 1217.4 215 1217.6 219 1217.4 221 1216.5 225 1215.5 227.1 1213.5 228.2 1211.5 226.7 1210.1 223 1209.5 220 1209.3 217 1209.5 215 1210.3 211 1211.5 208.3Z" fill="#bbdaea" fill-rule="evenodd"/>
<path d="M1270.2 205 1271.5 203.4 1273.5 203.5 1275.5 206.5 1276.2 209 1276.6 213 1276.5 217 1275.7 221 1274.6 223 1273.5 224.5 1271.5 224.4 1269.5 221.4 1268.8 219 1268.3 215 1268.4 211 1269.2 207 1269.5 206.1Z" fill="#acd2e5" fill-rule="evenodd"/>
<path d="M1271.4 209 1271.5 208.9 1273.5 209 1274.2 211 1274.5 213 1274.5 215 1274.3 217 1273.6 219 1273.5 219.3 1271.5 219.3 1270.7 217 1270.4 215 1270.4 213 1270.8 211Z" fill="#9dcbe1" fill-rule="evenodd"/>
</g>
<path d="M1271.5 208.9 1270.8 211 1270.4 213 1270.4 215 1270.7 217 1271.5 219.3 1273.5 219.3 1274.3 217 1274.5 215 1274.5 213 1274.2 211 1273.5 209ZM1271.5 201 1269.5 203.1 1268.1 207 1267.5 211 1267.5 215 1267.9 219 1268.4 221 1269.5 224.2 1271.5 226.6 1273.5 226.6 1275.5 224.3 1276.7 221 1277.4 217 1277.5 213 1277.4 211 1276.7 207 1275.5 203.5 1273.5 201.1ZM1213.5 210.6 1211.5 212.8 1211.1 215 1210.9 217 1210.9 219 1211.5 222.1 1213.5 224.6 1215.1 223 1215.5 222.3 1216 219 1216.1 217 1215.5 213ZM1269.5 194.2 1268.2 195 1266.9 197 1266.1 199 1265.2 203 1264.7 207 1264.6 211 1264.7 215 1265.1 219 1266.3 225 1267.5 228.6 1268.8 231 1269.5 232 1271.5 233.5 1273.5 233.6 1274.4 233 1275.5 232.3 1277.5 229 1278.9 225 1279.7 221 1280.1 217 1280.3 213 1280 209 1279.7 207 1278.7 203 1277.5 200.2 1275.5 197.1 1273.5 195.2 1271.5 194.2ZM1213.5 200.3 1211.5 201.2 1210.1 203 1209 205 1208.3 207 1207.3 211 1207 213 1206.7 217 1206.9 221 1207.2 223 1208.1 227 1208.8 229 1209.8 231 1211.5 233.4 1213.5 234.6 1215.5 234.2 1217.5 232 1218 231 1218.8 229 1219.7 225 1220 219 1219.9 215 1219.5 211 1218.6 207 1218 205 1217 203 1215.5 201.1ZM1241.5 260.5 1239.5 261.2 1237.5 262.6 1235.5 264.9 1234.7 267 1235.2 269 1239.5 270.4 1241.5 270.8 1243.5 270.9 1247.5 270.3 1251.8 269 1253.9 267 1253.4 265 1251.5 262.6 1248.8 261 1247.5 260.6 1245.5 260.2 1243.5 260.2ZM1253.5 183.4 1252.3 185 1253.2 187 1254.4 189 1256.4 193 1258.6 199 1259.9 205 1260.5 209 1261.1 217 1261.6 235 1261.4 237 1260.5 239 1259.5 239.9 1247.5 243.9 1243.5 244.4 1241.5 244.2 1239.5 243.9 1235.5 242.2 1233.5 240.8 1231.4 239 1227.9 235 1226.6 233 1225.8 231 1224.5 227 1223.8 223 1223.1 215 1222.9 207 1223.1 201 1224.2 193 1225.6 189 1225.5 187.3 1223.5 187.2 1217.5 188.3 1215.5 188.9 1213.5 189.8 1211.5 191.2 1209.5 193.2 1206.6 197 1204.4 201 1202.6 205 1200.4 211 1198.8 217 1197.5 223.2 1197.2 227 1197.4 231 1197.9 233 1199.5 236.2 1201.5 236.9 1203.5 238 1205.5 240.7 1207.5 244.4 1208.6 247 1209.1 249 1209 255 1209.5 257 1211.5 261 1212.8 263 1215.5 266.1 1218.7 269 1223.5 272.3 1227.5 274.4 1231.5 276 1237.5 277.4 1239.5 277.7 1243.5 277.8 1247.5 277.4 1253.5 275.9 1257.5 274.3 1262.8 271 1265.3 269 1267.5 267 1271 263 1278.2 253 1279.5 251 1280.5 249 1281.5 247.1 1282.2 245 1283.7 239 1284.8 227 1284.9 219 1284.7 215 1284.2 211 1282.9 205 1280.8 199 1278.7 195 1277.3 193 1275.5 191.1 1273.5 189.5 1271.5 188.3 1269.5 187.5 1261.5 184.9 1257.5 183.7 1255.5 183.4ZM1235.9 187 1237.5 186.1 1239.5 185.6 1241.5 185.4 1243.5 185.7 1245.5 186.5 1247.5 187.7 1249.5 189.5 1250.8 191 1252.2 193 1253.3 195 1255.1 199 1256.9 205 1257.8 211 1257.9 217 1257.2 223 1256.3 227 1254.7 231 1252 235 1249.5 237.4 1247.5 238.6 1246.6 239 1245.5 239.4 1243.5 239.8 1241.5 239.8 1239.5 239.4 1237.5 238.6 1235.5 237.5 1233.5 235.8 1231.1 233 1228.7 229 1227.1 225 1226.1 221 1225.6 217 1225.4 211 1225.9 205 1226.7 201 1228 197 1230.1 193 1231.5 191 1233.3 189ZM1236.1 191 1237.5 190.1 1239.5 189.5 1241.5 189.3 1243.5 189.6 1245.5 190.4 1247.5 191.8 1249.5 193.9 1251.6 197 1253.4 201 1254.6 205 1255.5 210.3 1255.7 215 1255.5 219 1254.7 223 1253.4 227 1251.5 230.7 1249.5 233.2 1247.2 235 1245.5 235.8 1243.5 236.3 1241.5 236.3 1239.5 235.9 1237.5 235.1 1235.5 233.7 1233.5 231.7 1231.5 229 1229.5 225 1228.3 221 1227.5 215.6 1227.4 211 1227.8 207 1228.6 203 1230 199 1231.5 196 1233.5 193.3ZM1236.5 195 1237.5 194.3 1239.5 193.5 1241.5 193.3 1243.5 193.7 1245.5 194.6 1247.5 196.4 1249.5 199 1251.5 203 1252.1 205 1253 209 1253.4 213 1253.4 215 1253.1 219 1252.1 223 1251.5 225 1249.5 228.5 1247 231 1245.5 231.9 1243.5 232.5 1241.5 232.6 1239.5 232.1 1237.5 231.1 1235.5 229.4 1233.5 227 1231.5 223.2 1230.8 221 1229.9 217 1229.6 213 1229.6 211 1230.1 207 1231.5 202 1233 199 1234.5 197 1235.5 195.8ZM1238.8 201 1239.5 200.6 1241.5 200.5 1243.5 201 1245.5 202.7 1247.5 205.6 1249.2 211 1249.5 212.4 1249.6 215 1249.5 217.2 1249.1 219 1247.5 223.2 1245.5 225.3 1243.5 226.1 1241.5 226 1239.1 225 1237.5 223.7 1235.5 221.2 1233.9 217 1233.5 215.5 1233.3 213 1233.4 211 1233.7 209 1235.5 204.1 1237.5 201.8Z" fill="none" stroke="#222" stroke-opacity="0.58" stroke-width="0.75"/>
<path d="M1230.5 183h.01M1241.5 183h.01M1252.5 183h.01M1208.5 194h.01M1219.5 194h.01M1230.5 194h.01M1241.5 194h.01M1252.5 194h.01M1263.5 194h.01M1274.5 194h.01M1208.5 205h.01M1219.5 205h.01M1230.5 205h.01M1241.5 205h.01M1252.5 205h.01M1263.5 205h.01M1274.5 205h.01M1197.5 216h.01M1208.5 216h.01M1219.5 216h.01M1230.5 216h.01M1241.5 216h.01M1252.5 216h.01M1263.5 216h.01M1274.5 216h.01M1285.5 216h.01M1197.5 227h.01M1208.5 227h.01M1219.5 227h.01M1230.5 227h.01M1241.5 227h.01M1252.5 227h.01M1263.5 227h.01M1274.5 227h.01M1285.5 227h.01M1197.5 238h.01M1208.5 238h.01M1219.5 238h.01M1230.5 238h.01M1241.5 238h.01M1252.5 238h.01M1263.5 238h.01M1274.5 238h.01M1285.5 238h.01M1208.5 249h.01M1219.5 249h.01M1230.5 249h.01M1241.5 249h.01M1252.5 249h.01M1263.5 249h.01M1274.5 249h.01M1208.5 260h.01M1219.5 260h.01M1230.5 260h.01M1241.5 260h.01M1252.5 260h.01M1263.5 260h.01M1274.5 260h.01M1230.5 271h.01M1241.5 271h.01M1252.5 271h.01" stroke="#333" stroke-opacity="0.5" stroke-width="1.3" stroke-linecap="round" fill="none"/>
</g>
<mask id="tc21" maskUnits="userSpaceOnUse" x="1185.5" y="302.4" width="112.0" height="112.0"><circle cx="1241.5" cy="358.4" r="53.0" fill="url(#mg)"/></mask>
<circle cx="1241.5" cy="358.4" r="51.5" fill="#fbfafb" filter="url(#gl)"/>
<g mask="url(#tc21)">
<g filter="url(#bl)"><rect x="1186.5" y="303.4" width="110.0" height="110.0" fill="#f7f6f6"/>
<path d="M1187.5 304.4 1295.5 304.4 1295.5 412.4 1187.5 412.4ZM1245.5 342 1244.7 344.4 1244.4 346.4 1244.2 348.4 1244.4 350.4 1244.8 352.4 1245.5 354.5 1247.5 355.6 1249 354.4 1249.5 353.8 1249.9 352.4 1250.5 348.4 1250.1 344.4 1249.6 342.4 1247.5 340.6Z" fill="#eff3f5" fill-rule="evenodd"/>
<path d="M1187.5 304.4 1295.5 304.4 1295.5 412.4 1187.5 412.4ZM1247.5 336.2 1245.5 337.1 1243.5 340.2 1242.4 344.4 1242.1 348.4 1242.4 352.4 1243.5 356.6 1245.5 359.5 1247.5 360.1 1249.5 359.1 1251.5 355.5 1252.2 352.4 1252.6 348.4 1252.4 344.4 1251.5 340.4 1249.5 337.1Z" fill="#e6eff4" fill-rule="evenodd"/>
<path d="M1187.5 304.4 1295.5 304.4 1295.5 412.4 1187.5 412.4ZM1245.5 333.3 1243.5 335.5 1242.1 338.4 1241.5 340.4 1241 342.4 1240.5 346.4 1240.7 352.4 1241.5 356.7 1242.1 358.4 1243.5 361.3 1245.5 363.2 1247.5 363.7 1249.5 362.8 1251.5 360.4 1252.4 358.4 1253.6 354.4 1253.9 352.4 1254.1 348.4 1253.7 342.4 1252.7 338.4 1251.5 335.6 1250.6 334.4 1249.5 333.3 1247.5 332.7Z" fill="#ddebf2" fill-rule="evenodd"/>
<path d="M1235.2 308.4 1239.5 307.7 1245.5 307.7 1249.5 308.2 1253.5 309.2 1261.7 312.4 1271.5 315.6 1275.5 317.8 1277.5 319.4 1280.1 322.4 1281.3 324.4 1282.6 326.4 1284.5 330.4 1286.6 336.4 1288.3 342.4 1290.6 352.4 1291.3 356.4 1291.8 360.4 1291.8 364.4 1291.2 368.4 1290 372.4 1288.1 376.4 1284.4 382.4 1275.5 395.4 1273.5 397.8 1269.5 401.9 1267.5 403.6 1265.5 404.9 1263.5 405.9 1259.5 407.4 1255.5 408.1 1251.5 408.6 1247.5 408.8 1241.5 408.6 1235.5 408 1229.5 407 1223.5 405.5 1219.5 403.8 1215.5 401.3 1213.5 399.7 1209.5 395.9 1203.5 389.3 1201.2 386.4 1198.8 382.4 1197 378.4 1195.8 374.4 1194.4 368.4 1192.9 360.4 1192.2 354.4 1192 350.4 1192.3 346.4 1193.1 342.4 1194.4 338.4 1196.3 334.4 1198.8 330.4 1201.8 326.4 1205.4 322.4 1207.5 320.4 1211.5 317.3 1213.5 316.2 1219.5 313.4 1225.5 311.1 1231.5 309.2ZM1245.5 329.3 1243.5 331 1242.5 332.4 1240.6 336.4 1240 338.4 1238.9 344.4 1238.7 348.4 1238.8 352.4 1239.4 356.4 1240.3 360.4 1241.2 362.4 1242.3 364.4 1243.5 365.9 1245.5 367.3 1247.5 367.6 1249.5 366.9 1251.8 364.4 1253.5 361.2 1254.4 358.4 1255.2 354.4 1255.5 350.4 1255.5 346.4 1255.3 342.4 1254.7 338.4 1254.2 336.4 1253.5 334.4 1252.5 332.4 1251.5 330.9 1249.5 329.2 1247.5 328.8Z" fill="#d4e6f1" fill-rule="evenodd"/>
<path d="M1239.4 312.4 1243.5 312.3 1247.5 312.8 1253.5 314.2 1257.5 315.8 1261.5 317 1267.5 318 1269.5 318.6 1271.5 319.3 1273.5 320.4 1276.1 322.4 1277.9 324.4 1280.6 328.4 1282.5 332.4 1283.2 334.4 1284.4 338.4 1285.2 342.4 1286.5 350.4 1287.4 358.4 1287.5 362.4 1287.1 366.4 1286.1 370.4 1285.3 372.4 1283.5 376 1279.5 382.2 1273.5 390.3 1270.1 394.4 1268 396.4 1265.5 398.5 1262.3 400.4 1259.5 401.7 1257.5 402.4 1253.5 403.4 1249.5 404 1245.5 404.2 1239.5 403.9 1233.5 403.1 1229.5 402.3 1224 400.4 1220.4 398.4 1217.6 396.4 1207.5 387.2 1205.5 385.1 1203.4 382.4 1201.1 378.4 1199.5 374.5 1198.3 370.4 1197.4 366.4 1196.3 360.4 1195.9 356.4 1195.7 350.4 1196.1 346.4 1197 342.4 1198.4 338.4 1200.3 334.4 1202.6 330.4 1205.5 326.6 1207.5 324.5 1209.5 322.7 1211.5 321.2 1215.5 319.1 1231.5 313.9 1235.5 313ZM1243.5 324 1241.1 326.4 1238.8 330.4 1238.1 332.4 1236.6 338.4 1235.9 344.4 1235.5 360.4 1234.8 368.4 1235.2 370.4 1235.5 370.9 1237.7 372.4 1243.5 375.4 1245.5 375.8 1247.5 375.6 1249.5 374.6 1251.5 372.7 1253.1 370.4 1254.9 366.4 1256 362.4 1256.6 358.4 1257.1 352.4 1257.1 344.4 1256.8 338.4 1256.4 334.4 1255.5 329.6 1254.3 326.4 1253.5 325.3 1251.5 323.5 1249.5 322.7 1247.5 322.5 1245.5 322.9Z" fill="#c7e0ed" fill-rule="evenodd"/>
<path d="M1216.3 322.4 1217.5 322.2 1219.5 322.7 1221 324.4 1222.3 326.4 1223.3 328.4 1224.9 332.4 1226.5 338.4 1227.3 344.4 1227.4 350.4 1226.9 358.4 1225.9 364.4 1224.4 370.4 1222.7 374.4 1221.5 376.5 1220 378.4 1217.5 380.5 1215.5 381.3 1213.5 381.6 1211.5 381.4 1209.5 380.6 1207.5 379.3 1205.5 377.2 1203.7 374.4 1202 370.4 1199.9 362.4 1199 356.4 1198.7 350.4 1199 346.4 1199.9 342.4 1201.1 338.4 1203 334.4 1205.4 330.4 1207.5 327.8 1209.5 325.8 1211.5 324.3 1213.5 323.2 1215.5 322.5ZM1263.2 322.4 1265.5 321.1 1267.5 320.9 1269.5 321.2 1271.5 321.8 1273.5 322.9 1275.5 324.6 1277.1 326.4 1278.5 328.4 1280.6 332.4 1282 336.4 1283.2 342.4 1283.7 348.4 1283.8 354.4 1283.4 360.4 1282.7 364.4 1281.2 368.4 1280 370.4 1278.4 372.4 1277.5 373.3 1275.5 374.8 1273.5 375.7 1271.5 376 1269.5 375.6 1267.5 374.4 1265.3 372.4 1262.5 368.4 1260.7 364.4 1259.7 360.4 1259.3 356.4 1259 348.4 1259.1 340.4 1259.7 334.4 1260.4 330.4 1262.3 324.4Z" fill="#bbdaea" fill-rule="evenodd"/>
<path d="M1266.6 324.4 1267.5 323.8 1269.5 323.6 1271.5 324.1 1273.5 325.2 1275.5 326.9 1277.5 329.6 1279 332.4 1279.8 334.4 1280.9 338.4 1281.6 342.4 1281.8 346.4 1281.7 350.4 1281.1 356.4 1280.2 360.4 1278.7 364.4 1277.5 366.5 1275.5 368.9 1273.5 370.1 1271.5 370.5 1269.5 370 1267.5 368.7 1265.5 366.4 1264.3 364.4 1262.7 360.4 1261.7 356.4 1261.1 352.4 1260.8 348.4 1261 342.4 1261.4 338.4 1262.2 334.4 1263.4 330.4 1265.1 326.4ZM1210.4 328.4 1211.5 327.6 1213.5 326.8 1215.5 327 1217.7 328.4 1219.5 330.5 1221.5 334.1 1223 338.4 1223.9 342.4 1224.4 346.4 1224.5 352.4 1224 358.4 1223.3 362.4 1222.2 366.4 1220.6 370.4 1219.5 372.2 1217.5 374.4 1215.5 375.7 1213.5 376.1 1211.5 375.8 1209.5 374.9 1207.5 373 1205.5 369.8 1204.1 366.4 1203 362.4 1202.2 358.4 1201.7 352.4 1201.7 348.4 1202 344.4 1202.9 340.4 1203.6 338.4 1205.5 334.2 1207.5 331.2 1209.5 329.1Z" fill="#acd2e5" fill-rule="evenodd"/>
<path d="M1269 326.4 1269.5 326.1 1271.5 326.3 1273.5 327.4 1275.5 329.3 1277.5 332.4 1278.3 334.4 1279.5 338.3 1279.9 340.4 1280.2 344.4 1280.1 348.4 1279.8 352.4 1279.1 356.4 1277.8 360.4 1276.9 362.4 1275.5 364.4 1273.5 366.1 1271.5 366.6 1269.5 366.1 1267.5 364.4 1265.5 361.4 1264.2 358.4 1263.5 355.7 1262.9 352.4 1262.5 348.4 1262.5 344.4 1262.9 340.4 1263.7 336.4 1264.9 332.4 1265.8 330.4 1267.5 327.6ZM1210.8 332.4 1211.5 332 1213.5 331.5 1215.5 332 1217.5 333.6 1219.3 336.4 1220.2 338.4 1220.9 340.4 1221.8 344.4 1222.3 348.4 1222.3 352.4 1222 356.4 1221.4 360.4 1220.2 364.4 1219.5 366.2 1217.5 369.4 1216.4 370.4 1215.5 371.1 1213.5 371.7 1211.5 371.4 1209.5 370.1 1208.2 368.4 1207 366.4 1205.5 362.4 1204.6 358.4 1204.1 354.4 1204 350.4 1204.3 346.4 1205 342.4 1206.3 338.4 1207.5 336 1209.5 333.4Z" fill="#9dcbe1" fill-rule="evenodd"/>
<path d="M1268.6 330.4 1269.5 329.5 1271.5 328.9 1273.5 329.8 1274.1 330.4 1275.5 332 1276.7 334.4 1277.6 336.4 1278.3 340.4 1278.6 344.4 1278.6 348.4 1277.8 354.4 1276.5 358.4 1275.5 360.3 1273.5 362.4 1271.5 363.1 1269.5 362.5 1267.5 360.5 1265.5 356.4 1264.5 352.4 1264 346.4 1264.5 340.4 1265.4 336.4 1266.2 334.4 1267.5 331.7ZM1213 336.4 1213.5 336.3 1215.5 337 1217.5 339.3 1218.8 342.4 1219.5 344.4 1220.1 348.4 1220.1 354.4 1219.5 358.5 1219 360.4 1217.5 364 1215.5 366.4 1213.5 367.3 1211.5 366.9 1209.5 365 1208.1 362.4 1207.4 360.4 1206.9 358.4 1206.3 354.4 1206.3 350.4 1206.4 348.4 1207.1 344.4 1207.7 342.4 1209.5 338.7 1211.5 336.8Z" fill="#8dc2dc" fill-rule="evenodd"/>
<path d="M1271.3 332.4 1271.5 332.3 1273.5 333.1 1275.5 336.1 1276.2 338.4 1276.9 342.4 1277.1 344.4 1277 348.4 1276.4 352.4 1275.5 355.5 1273.5 358.6 1271.5 359.5 1269.5 358.8 1269.2 358.4 1267.5 356.1 1266.9 354.4 1266.3 352.4 1265.7 348.4 1265.6 346.4 1265.9 342.4 1266.7 338.4 1267.4 336.4 1269.5 333.2ZM1213.2 342.4 1213.7 342.4 1215.5 343.7 1216.7 346.4 1217.5 349.9 1217.5 354.4 1216.4 358.4 1215.5 360.4 1213.5 361.8 1211.5 361.1 1209.9 358.4 1209.5 357.4 1209 354.4 1208.9 350.4 1209.5 346.8 1211.5 343.1Z" fill="#7bb6d6" fill-rule="evenodd"/>
<path d="M1269.3 338.4 1269.5 338 1271.5 336.7 1273.5 338 1274.4 340.4 1274.9 342.4 1275.2 346.4 1274.6 350.4 1273.5 353.6 1272.5 354.4 1271.5 355.1 1269.5 354 1268.1 350.4 1267.6 348.4 1267.5 344.4 1267.9 342.4Z" fill="#68abd0" fill-rule="evenodd"/>
</g>
<path d="M1271.5 344.4 1271.5 344.4ZM1271.5 331.9 1269.5 332.7 1267.5 335.5 1266 340.4 1265.4 344.4 1265.4 348.4 1266.1 352.4 1267.5 356.7 1269.5 359.3 1271.5 360 1273.5 359.2 1274.1 358.4 1275.5 356.3 1276.1 354.4 1276.6 352.4 1277.2 348.4 1277.3 344.4 1277.2 342.4 1276.5 338.4 1275.9 336.4 1274.9 334.4 1273.5 332.6ZM1211.5 342.1 1210 344.4 1209.2 346.4 1208.5 350.4 1208.6 354.4 1209.4 358.4 1210.4 360.4 1211.5 362 1213.5 362.7 1213.9 362.4 1215.5 361.3 1216.9 358.4 1217.5 356.7 1217.9 352.4 1217.7 348.4 1217.3 346.4 1215.5 342.5 1213.5 341.4ZM1269.5 326.1 1267.5 327.6 1267 328.4 1265.5 330.9 1264.2 334.4 1263.2 338.4 1262.7 342.4 1262.5 346.4 1262.6 350.4 1263.7 356.4 1265 360.4 1266.1 362.4 1267.5 364.5 1269.5 366.1 1271.5 366.6 1272.3 366.4 1273.5 366.1 1275.5 364.5 1277.5 361.2 1278.6 358.4 1279.5 354.4 1280 350.4 1280.2 346.4 1280.1 342.4 1279.5 338.4 1279 336.4 1277.5 332.4 1276.3 330.4 1275.5 329.3 1273.5 327.3 1271.5 326.3ZM1211.5 331.9 1209.5 333.4 1207.5 336 1206.3 338.4 1205.5 340.6 1204.6 344.4 1204.1 348.4 1204 352.4 1204.3 356.4 1205.5 362.4 1207 366.4 1208.2 368.4 1209.5 370.1 1211.5 371.4 1213.5 371.7 1215.5 371.1 1217.5 369.4 1218.2 368.4 1219.5 366.2 1220.9 362.4 1221.8 358.4 1222.2 354.4 1222.3 350.4 1222.1 346.4 1221.5 342.8 1220.9 340.4 1219.5 336.7 1218.1 334.4 1217.5 333.6 1215.5 332 1213.5 331.5ZM1265.5 321.6 1264 322.4 1262.8 324.4 1260.9 330.4 1260 334.4 1259.4 340.4 1259.2 348.4 1259.5 355.4 1260.1 360.4 1261.3 364.4 1263.1 368.4 1265.5 371.7 1267.5 373.6 1269.5 374.7 1271.5 375.1 1273.5 374.8 1275.5 373.9 1277.5 372.3 1279.1 370.4 1280.4 368.4 1282 364.4 1282.6 362.4 1283.2 358.4 1283.5 352.4 1283.4 346.4 1282.7 340.4 1281.7 336.4 1280.4 332.4 1278.3 328.4 1275.5 324.9 1273.5 323.2 1271.5 322.1 1269.5 321.5 1267.5 321.3ZM1213.5 323.6 1211.5 324.7 1209.5 326.2 1207.5 328.2 1205.5 330.7 1203.3 334.4 1201.5 338.4 1200.2 342.4 1199.4 346.4 1199.1 350.4 1199.2 354.4 1200 360.4 1200.8 364.4 1202.5 370.4 1204.3 374.4 1205.7 376.4 1207.6 378.4 1209.5 379.8 1211.5 380.5 1213.5 380.8 1215.5 380.5 1217.5 379.6 1219.5 378 1220.8 376.4 1222.1 374.4 1223.8 370.4 1225 366.4 1226.5 358.4 1227 352.4 1227 346.4 1226.3 340.4 1224.9 334.4 1224.3 332.4 1222.6 328.4 1221.4 326.4 1219.5 323.9 1217.5 322.9 1215.5 323ZM1233.5 309.9 1227.5 311.6 1217.5 315.4 1213.5 317.3 1209.5 319.9 1207.5 321.5 1204.7 324.4 1203 326.4 1198.7 332.4 1196.5 336.4 1194.9 340.4 1194.3 342.4 1193.5 346.4 1193.1 350.4 1193.3 356.4 1194.1 362.4 1195.3 368.4 1196.7 374.4 1198.1 378.4 1200 382.4 1202.6 386.4 1205.5 389.9 1211.5 396.2 1215.5 399.7 1217.5 401.1 1221.5 403.3 1225.5 404.8 1229.5 405.8 1235.5 406.9 1239.5 407.3 1245.5 407.6 1249.5 407.5 1253.5 407 1257.5 406.1 1259.5 405.6 1263.5 403.9 1267.5 401.5 1269.5 399.9 1271.5 398.1 1274.7 394.4 1279.5 387.8 1284.5 380.4 1286.8 376.4 1288.7 372.4 1290 368.4 1290.6 364.4 1290.6 360.4 1290.2 356.4 1288.7 348.4 1286.9 340.4 1284.4 332.4 1282.7 328.4 1280.3 324.4 1277.5 321 1275.5 319.1 1273.5 317.8 1269.5 316.1 1263.9 314.4 1255.5 311.2 1249.5 309.5 1245.5 309 1241.5 308.9 1237.5 309.2ZM1245.1 328.4 1245.5 328.1 1247.5 327.6 1249.5 328 1251.5 329.5 1253.4 332.4 1254.2 334.4 1255.2 338.4 1255.7 342.4 1255.9 346.4 1255.9 350.4 1255.6 354.4 1254.9 358.4 1253.6 362.4 1252.7 364.4 1251.5 366.2 1249.5 368.1 1247.5 368.8 1245.5 368.6 1243.5 367.4 1242.6 366.4 1241.3 364.4 1240.3 362.4 1239.1 358.4 1238.4 354.4 1238.2 350.4 1238.4 344.4 1238.9 340.4 1239.9 336.4 1240.6 334.4 1241.5 332.6 1242.9 330.4 1243.5 329.7ZM1244.8 336.4 1245.5 335.6 1247.5 334.9 1249.5 335.6 1251.5 338.4 1252.7 342.4 1253.2 346.4 1253.1 350.4 1252.9 352.4 1252.5 354.4 1251.5 357.5 1249.5 360.5 1247.5 361.5 1245.5 360.9 1243.5 358.5 1242.1 354.4 1241.5 350.4 1241.5 347.7 1241.8 344.4 1242.7 340.4 1243.4 338.4Z" fill="none" stroke="#222" stroke-opacity="0.58" stroke-width="0.75"/>
<path d="M1230.5 314.4h.01M1241.5 314.4h.01M1252.5 314.4h.01M1208.5 325.4h.01M1219.5 325.4h.01M1230.5 325.4h.01M1241.5 325.4h.01M1252.5 325.4h.01M1263.5 325.4h.01M1274.5 325.4h.01M1208.5 336.4h.01M1219.5 336.4h.01M1230.5 336.4h.01M1241.5 336.4h.01M1252.5 336.4h.01M1263.5 336.4h.01M1274.5 336.4h.01M1197.5 347.4h.01M1208.5 347.4h.01M1219.5 347.4h.01M1230.5 347.4h.01M1241.5 347.4h.01M1252.5 347.4h.01M1263.5 347.4h.01M1274.5 347.4h.01M1285.5 347.4h.01M1197.5 358.4h.01M1208.5 358.4h.01M1219.5 358.4h.01M1230.5 358.4h.01M1241.5 358.4h.01M1252.5 358.4h.01M1263.5 358.4h.01M1274.5 358.4h.01M1285.5 358.4h.01M1197.5 369.4h.01M1208.5 369.4h.01M1219.5 369.4h.01M1230.5 369.4h.01M1241.5 369.4h.01M1252.5 369.4h.01M1263.5 369.4h.01M1274.5 369.4h.01M1285.5 369.4h.01M1208.5 380.4h.01M1219.5 380.4h.01M1230.5 380.4h.01M1241.5 380.4h.01M1252.5 380.4h.01M1263.5 380.4h.01M1274.5 380.4h.01M1208.5 391.4h.01M1219.5 391.4h.01M1230.5 391.4h.01M1241.5 391.4h.01M1252.5 391.4h.01M1263.5 391.4h.01M1274.5 391.4h.01M1230.5 402.4h.01M1241.5 402.4h.01M1252.5 402.4h.01" stroke="#333" stroke-opacity="0.5" stroke-width="1.3" stroke-linecap="round" fill="none"/>
</g>
<mask id="tc31" maskUnits="userSpaceOnUse" x="1185.5" y="434.5" width="112.0" height="112.0"><circle cx="1241.5" cy="490.5" r="53.0" fill="url(#mg)"/></mask>
<circle cx="1241.5" cy="490.5" r="51.5" fill="#fbfafb" filter="url(#gl)"/>
<g mask="url(#tc31)">
<g filter="url(#bl)"><rect x="1186.5" y="435.5" width="110.0" height="110.0" fill="#f7f6f6"/>
<path d="M1187.5 436.5 1295.5 436.5 1295.5 544.5 1187.5 544.5Z" fill="#eff3f5" fill-rule="evenodd"/>
<path d="M1187.5 436.5 1295.5 436.5 1295.5 530.1 1293.8 528.5 1289.5 525.4 1285.5 523 1283.7 522.5 1281.5 522.7 1279.5 523.1 1271.5 525.4 1268.4 526.5 1265.5 528.1 1262.4 530.5 1260.6 532.5 1258 536.5 1257 538.5 1256.5 540.5 1257.5 541.6 1259 542.5 1263.5 543.7 1267.7 544.5 1187.5 544.5ZM1292.3 544.5 1295.5 542.8 1295.5 544.5Z" fill="#e6eff4" fill-rule="evenodd"/>
<path d="M1198.4 438.5 1199.8 436.5 1272.1 436.5 1275.5 438.1 1277.5 438.6 1279.5 438.7 1281.5 438.1 1284 436.5 1295.5 436.5 1295.5 491.9 1294.7 494.5 1293.5 497.3 1292.4 502.5 1291 506.5 1290.2 508.5 1288.9 510.5 1287.2 512.5 1285.1 514.5 1281.5 516.9 1279.5 517.8 1275.5 519.3 1271.5 520.1 1265.5 520.7 1261.5 521.7 1259.5 522.5 1255.9 524.5 1253.4 526.5 1251.5 528.5 1250.2 530.5 1249.3 532.5 1247.5 534.5 1244.5 536.5 1241.5 537.7 1237.5 538.6 1233.5 539 1227.5 539 1219.5 538.2 1217.5 538.1 1215.8 538.5 1213.9 540.5 1212.5 542.5 1212.1 544.5 1187.5 544.5 1187.5 530.8 1189.5 529.7 1190.9 526.5 1191.5 523.5 1191.7 518.5 1191.4 514.5 1190.4 510.5 1189.5 508.1 1187.5 506.6 1187.5 446 1191.2 444.5 1193.5 443.1 1196.6 440.5Z" fill="#ddebf2" fill-rule="evenodd"/>
<path d="M1238.5 440.5 1241.5 440.4 1245.5 440.6 1249.5 441.2 1253.5 442.3 1267.5 447.5 1271.5 449.4 1275.5 452.3 1277.8 454.5 1279.5 456.5 1282.5 460.5 1284.9 464.5 1286.7 468.5 1288.2 472.5 1289.2 476.5 1289.7 480.5 1289.9 484.5 1289.6 488.5 1288.8 494.5 1287.9 498.5 1286.7 502.5 1285.5 505.6 1283.9 508.5 1282.2 510.5 1279.8 512.5 1277.5 513.7 1275.5 514.2 1271.5 514.6 1267.5 514.7 1259.5 514 1255.5 513.8 1251.5 514.2 1245.5 515.1 1243.5 515.7 1241.5 517 1239.5 519 1237.2 522.5 1234.8 526.5 1232.9 530.5 1231.5 532 1230.7 532.5 1229.5 532.8 1227.5 533.1 1223.5 533.1 1221.5 532.9 1217.5 532 1215.5 531.3 1211.5 529.5 1207.5 526.7 1205.5 524.8 1203.6 522.5 1200.9 518.5 1198.9 514.5 1196.5 508.5 1194.8 502.5 1193.1 494.5 1192.4 488.5 1192.3 484.5 1192.6 480.5 1193.8 474.5 1194.4 472.5 1196.6 466.5 1198.6 462.5 1202.2 456.5 1205.5 452.5 1207.5 450.5 1209.5 448.8 1211.5 447.4 1215.5 445.6 1221.5 443.8 1231.5 441.4 1235.5 440.8Z" fill="#d4e6f1" fill-rule="evenodd"/>
<path d="M1226.7 446.5 1237.5 444.7 1241.5 444.5 1245.5 444.8 1251.5 446.1 1257.5 448.1 1265.5 450.1 1269.5 451.5 1273.5 453.9 1275.5 455.6 1278.1 458.5 1280.8 462.5 1281.9 464.5 1282.8 466.5 1284.4 470.5 1285.9 476.5 1286.2 478.5 1286.5 482.5 1286.1 488.5 1284.8 494.5 1283.5 498.6 1282.6 500.5 1281.5 502.7 1280.2 504.5 1277.5 507 1275.5 508.2 1273.5 509.1 1271.5 509.6 1269.5 509.7 1267.5 509.5 1265.5 508.9 1263.5 507.9 1261.5 506.2 1260 504.5 1258.7 502.5 1256.7 498.5 1253.5 490.2 1251.5 486.7 1249.5 485.3 1247.5 485.2 1245.5 485.7 1241.5 487.1 1237.5 488.9 1235.5 490.3 1233.5 492.4 1231.5 495.6 1229.5 500 1227.5 505.9 1223.5 520.6 1221.8 524.5 1220.5 526.5 1219.5 527 1217.5 527.2 1215.5 526.8 1213.5 526.1 1211.5 525.1 1209.5 523.7 1207.5 521.9 1204.8 518.5 1202.5 514.5 1200.8 510.5 1198.8 504.5 1197.3 498.5 1196.3 492.5 1196 488.5 1195.9 482.5 1196.3 478.5 1197.1 474.5 1198.9 468.5 1200.6 464.5 1202.7 460.5 1204 458.5 1207.3 454.5 1209.5 452.5 1211.5 451 1213.5 449.8 1215.5 449 1219.5 447.8Z" fill="#c7e0ed" fill-rule="evenodd"/>
<path d="M1219.6 450.5 1223.5 450.5 1225.5 451.2 1227.2 452.5 1228.6 454.5 1231 458.5 1234.4 464.5 1235.2 466.5 1235.7 468.5 1236 470.5 1235.9 472.5 1235.1 476.5 1234.4 478.5 1231.5 485.3 1225.1 502.5 1222.4 508.5 1219.5 513.6 1217.5 516.1 1215.5 517.7 1213.6 518.5 1211.5 518.7 1209.5 517.7 1207.5 515.7 1205.5 512.6 1203.5 508 1201.7 502.5 1200.2 496.5 1199.5 492.5 1198.9 488.5 1198.6 484.5 1198.8 478.5 1199.8 472.5 1201 468.5 1202.6 464.5 1204.8 460.5 1206.3 458.5 1209.5 455 1211.5 453.4 1213.5 452.3 1215.5 451.4 1217.5 450.8ZM1260.9 454.5 1261.5 454 1263.5 453.1 1265.5 453 1267.5 453.3 1269.5 454 1271.5 455 1273.5 456.4 1275.7 458.5 1278.7 462.5 1280.7 466.5 1282.2 470.5 1283.2 474.5 1283.7 478.5 1283.7 482.5 1283.2 486.5 1282.2 490.5 1280 496.5 1277.7 500.5 1276.1 502.5 1273.5 504.5 1271.5 505.3 1269.5 505.5 1267.5 505.2 1265.5 504.2 1263.5 502.4 1261.5 499.7 1259.8 496.5 1258.3 492.5 1256.6 486.5 1255.8 482.5 1255.1 476.5 1255 470.5 1255.9 464.5 1256.5 462.5 1258.2 458.5Z" fill="#bbdaea" fill-rule="evenodd"/>
<path d="M1213.3 454.5 1215.5 453.6 1217.5 453.2 1219.5 453.3 1221.5 454.3 1223.4 456.5 1225.9 460.5 1226.9 462.5 1228.3 466.5 1229.2 470.5 1229.6 474.5 1229.5 478.5 1229 482.5 1228.2 486.5 1226.5 492.5 1224.2 498.5 1222.4 502.5 1219.5 507.2 1217.5 509.3 1215.5 510.6 1213.5 511.1 1211.5 510.8 1209.5 509.5 1207.5 507.2 1205.1 502.5 1203.1 496.5 1201.8 490.5 1201 484.5 1200.9 478.5 1201.3 474.5 1202.1 470.5 1203.5 466.5 1205.4 462.5 1207.5 459.4 1209.5 457.2 1211.5 455.6ZM1265.2 456.5 1267.5 455.9 1269.5 456.2 1271.5 457.2 1273.5 458.6 1275.5 460.7 1278 464.5 1279 466.5 1280.5 470.5 1280.9 472.5 1281.5 476.5 1281.5 480.5 1281.1 484.5 1280.3 488.5 1279 492.5 1277.5 495.8 1275.5 498.8 1273.5 500.7 1271.5 501.8 1269.5 502 1267.5 501.6 1265.5 500.3 1263.5 498.1 1261.5 494.5 1259.9 490.5 1258.9 486.5 1258.2 482.5 1257.8 476.5 1258 472.5 1258.6 468.5 1259.8 464.5 1260.5 462.5 1261.5 460.7 1263.5 457.9Z" fill="#acd2e5" fill-rule="evenodd"/>
<path d="M1213.4 456.5 1215.5 455.8 1217.5 455.9 1219.5 457 1221.5 459.1 1222.5 460.5 1224.7 464.5 1226.1 468.5 1226.9 472.5 1227.2 476.5 1227.1 480.5 1226.6 484.5 1225.2 490.5 1223.9 494.5 1221.5 499.8 1219.5 502.9 1217.5 505.1 1215.5 506.2 1213.5 506.6 1211.5 506 1209.5 504.5 1207.5 501.7 1205.5 497.2 1204.1 492.5 1203.1 486.5 1202.8 482.5 1202.8 476.5 1203.3 472.5 1204.3 468.5 1205 466.5 1207.1 462.5 1208.6 460.5 1209.5 459.4 1211.5 457.6ZM1265 460.5 1265.5 460 1267.5 458.8 1269.5 458.6 1271.5 459.4 1273.5 460.9 1275.5 463.2 1277.4 466.5 1278.8 470.5 1279.3 472.5 1279.7 476.5 1279.7 480.5 1279.2 484.5 1278.4 488.5 1277.5 491 1275.9 494.5 1274.4 496.5 1273.5 497.5 1271.5 498.7 1269.5 499.1 1267.5 498.5 1265.5 497 1263.6 494.5 1262.6 492.5 1261.1 488.5 1260.2 484.5 1259.8 480.5 1259.7 476.5 1260 472.5 1260.8 468.5 1262.2 464.5 1263.5 462.3Z" fill="#9dcbe1" fill-rule="evenodd"/>
<path d="M1210.8 460.5 1211.5 459.9 1213.5 458.7 1215.5 458.5 1217.5 459.2 1219.5 460.7 1221.5 463.2 1223.2 466.5 1224 468.5 1224.9 472.5 1225.4 476.5 1225.4 480.5 1225 484.5 1224.2 488.5 1222.9 492.5 1221.5 496 1219.5 499.4 1217.5 501.6 1215.5 502.8 1213.5 503.1 1211.5 502.3 1209.5 500.5 1207.5 497.2 1206.5 494.5 1205 488.5 1204.4 484.5 1204.3 480.5 1204.4 476.5 1204.9 472.5 1205.9 468.5 1207.5 464.7 1209.5 461.8ZM1266.6 462.5 1267.5 461.8 1269.5 461.4 1271.5 461.9 1273.5 463.4 1275.6 466.5 1276.5 468.5 1277.7 472.5 1278 474.5 1278.3 478.5 1278 482.5 1277.7 484.5 1276.7 488.5 1275.9 490.5 1274.9 492.5 1273.4 494.5 1271.5 495.9 1269.5 496.3 1267.5 495.7 1265.5 493.9 1263.5 490.6 1262.7 488.5 1261.7 484.5 1261.2 480.5 1261.1 476.5 1261.6 472.5 1262 470.5 1263.5 466.3 1265.5 463.4Z" fill="#8dc2dc" fill-rule="evenodd"/>
<path d="M1211.7 462.5 1213.5 461.6 1215.5 461.5 1217.5 462.2 1219.5 464 1221.1 466.5 1222 468.5 1222.7 470.5 1223.6 474.5 1223.8 476.5 1223.9 480.5 1223.5 484.5 1222.7 488.5 1221.5 492.1 1220.4 494.5 1219.5 496.1 1217.5 498.5 1215.5 499.8 1213.5 500 1211.5 499.1 1210.9 498.5 1209.3 496.5 1207.5 492.5 1206.9 490.5 1206.1 486.5 1205.7 482.5 1205.7 478.5 1206.5 472.5 1207.5 468.9 1208.5 466.5 1209.5 464.8ZM1268.3 464.5 1269.5 464.1 1271.5 464.7 1273.5 466.5 1274.7 468.5 1275.5 470.5 1276.1 472.5 1276.7 476.5 1276.8 480.5 1276.6 482.5 1275.8 486.5 1275 488.5 1273.5 491.3 1271.5 493.2 1269.5 493.7 1267.5 492.9 1265.5 490.8 1263.6 486.5 1262.8 482.5 1262.6 480.5 1262.5 476.5 1262.7 474.5 1263.5 471 1264.5 468.5 1265.5 466.7 1267.5 464.7Z" fill="#7bb6d6" fill-rule="evenodd"/>
<path d="M1213.4 464.5 1215.5 464.3 1217.5 465.3 1219.5 467.5 1221 470.5 1221.5 472 1222.4 476.5 1222.5 478.5 1222.4 482.5 1221.7 486.5 1221.2 488.5 1219.5 492.7 1217.5 495.5 1216 496.5 1215.5 496.9 1213.5 497 1211.5 495.9 1210.5 494.5 1209.5 493 1208.5 490.5 1207.5 486.5 1207.2 484.5 1207.1 478.5 1207.5 475 1208 472.5 1209.5 468.5 1211.5 465.7ZM1266.8 468.5 1267.5 467.8 1269.5 467 1271.5 467.7 1273.5 470.1 1274.5 472.5 1275 474.5 1275.3 476.5 1275.4 480.5 1274.7 484.5 1273.5 487.8 1271.5 490.2 1269.5 490.9 1267.5 490 1265.5 487.1 1264.6 484.5 1264.2 482.5 1263.9 478.5 1264.3 474.5 1265.4 470.5Z" fill="#68abd0" fill-rule="evenodd"/>
<path d="M1212.2 468.5 1213.5 467.5 1215.5 467.3 1217.5 468.5 1219.5 471.5 1220.4 474.5 1221 478.5 1221 480.5 1220.6 484.5 1219.5 488.7 1218.6 490.5 1217.2 492.5 1215.5 493.8 1213.5 493.9 1211.6 492.5 1210.4 490.5 1209.5 488.5 1209.1 486.5 1208.5 482.5 1208.6 478.5 1208.8 476.5 1209.7 472.5 1211.5 469.1ZM1268.9 470.5 1269.5 470.2 1271.5 471.2 1272.3 472.5 1273.2 474.5 1273.7 476.5 1273.8 480.5 1273.5 482.5 1272.8 484.5 1271.5 486.7 1269.5 487.6 1267.5 486.4 1266.6 484.5 1265.9 482.5 1265.5 480.5 1265.6 476.5 1266.1 474.5 1267.5 471.4Z" fill="#59a1ca" fill-rule="evenodd"/>
<path d="M1212.1 472.5 1213.5 471 1215.5 470.7 1217.5 472.4 1218.5 474.5 1219 476.5 1219.4 478.5 1219.4 480.5 1218.9 484.5 1218.2 486.5 1217.3 488.5 1215.5 490.3 1213.5 490.3 1211.5 488 1211 486.5 1210.2 482.5 1210.2 478.5 1211.1 474.5 1211.5 473.4ZM1268.8 476.5 1269.5 475.5 1270.4 476.5 1271.2 478.5 1270.9 480.5 1269.5 482.3 1268.6 480.5 1268.3 478.5Z" fill="#4695c4" fill-rule="evenodd"/>
<path d="M1213.5 476.5 1215.5 475.9 1216.6 478.5 1216.8 480.5 1216.5 482.5 1215.7 484.5 1215.5 484.8 1213.5 484.5 1212.9 482.5 1212.7 480.5 1212.9 478.5Z" fill="#3c8abe" fill-rule="evenodd"/>
</g>
<path d="M1215.5 480.5 1215.5 480.5ZM1213.5 467.4 1211.5 469 1210.6 470.5 1209.5 472.9 1208.7 476.5 1208.5 478.5 1208.5 482.5 1209 486.5 1209.5 488.5 1211.5 492.5 1213.5 494 1215.5 493.9 1217.5 492.4 1219.6 488.5 1220.2 486.5 1221 482.5 1221.1 478.5 1220.5 474.5 1219.9 472.5 1219 470.5 1217.5 468.3 1215.5 467.2ZM1269.5 470.1 1267.5 471.2 1266.8 472.5 1266 474.5 1265.5 476.5 1265.4 478.5 1265.5 480.9 1265.8 482.5 1266.5 484.5 1267.5 486.5 1269.5 487.7 1271.5 486.9 1272.9 484.5 1273.6 482.5 1273.9 478.5 1273.5 475.2 1272.4 472.5 1271.5 471ZM1211.5 461.7 1209.5 463.7 1209 464.5 1207.5 467.3 1206.4 470.5 1205.6 474.5 1205.3 478.5 1205.3 482.5 1205.6 486.5 1206.9 492.5 1207.7 494.5 1209.5 498 1211.5 500.1 1213.5 501 1215.5 500.7 1215.9 500.5 1217.5 499.5 1219.5 497.2 1221.5 493.4 1222.6 490.5 1223.6 486.5 1224.3 482.5 1224.4 478.5 1224.1 474.5 1223.5 471.3 1222.7 468.5 1221.5 465.9 1219.5 462.9 1217.5 461.2 1215.5 460.5 1213.5 460.6ZM1267.5 463.8 1265.5 465.6 1264.9 466.5 1263.8 468.5 1263.1 470.5 1262.3 474.5 1262.1 476.5 1262.1 480.5 1262.6 484.5 1263.1 486.5 1264.7 490.5 1265.5 491.8 1267.5 493.9 1269.7 494.5 1271.5 494.1 1273.5 492.4 1275.5 488.8 1276.3 486.5 1277.1 482.5 1277.2 480.5 1277.2 476.5 1276.6 472.5 1276.1 470.5 1275.3 468.5 1273.5 465.5 1271.5 463.8 1269.5 463.2ZM1215.5 454.4 1213.5 455.2 1211.5 456.4 1209.5 458 1207.5 460.4 1206.1 462.5 1204.1 466.5 1202.7 470.5 1202 474.5 1201.6 478.5 1201.8 484.5 1202.5 490.5 1203.9 496.5 1204.5 498.5 1206.2 502.5 1207.5 504.9 1208.7 506.5 1209.5 507.4 1211.1 508.5 1211.5 508.8 1213.5 509.2 1215.5 508.8 1217.5 507.6 1219.5 505.5 1221.5 502.4 1224.3 496.5 1226.3 490.5 1227.8 484.5 1228.4 480.5 1228.7 476.5 1228.4 472.5 1227.6 468.5 1226.4 464.5 1224.5 460.5 1221.8 456.5 1219.5 454.5 1217.5 454.2ZM1265.5 457.7 1263.5 459.7 1262.9 460.5 1261.5 462.9 1260 466.5 1259.1 470.5 1258.6 474.5 1258.6 478.5 1258.9 482.5 1259.6 486.5 1260.6 490.5 1262.3 494.5 1263.5 496.7 1265.5 499.1 1267.5 500.4 1269.5 500.9 1271.6 500.5 1273.5 499.5 1275.5 497.4 1277.3 494.5 1278.9 490.5 1280 486.5 1280.6 482.5 1280.9 478.5 1280.6 474.5 1279.8 470.5 1278.4 466.5 1276.1 462.5 1274.5 460.5 1273.5 459.5 1271.5 458 1269.5 457.1 1267.5 456.9ZM1229.5 446.3 1221.5 447.6 1217.5 448.5 1215.5 449.2 1211.5 451.2 1209.5 452.7 1207.5 454.6 1205.8 456.5 1204.2 458.5 1201.8 462.5 1199.9 466.5 1198.4 470.5 1196.9 476.5 1196.3 480.5 1196.1 484.5 1196.4 490.5 1197.2 496.5 1198.5 502.5 1200.3 508.5 1201.9 512.5 1203.9 516.5 1206.7 520.5 1209.5 523.3 1211.5 524.7 1213.5 525.7 1215.5 526.4 1217.5 526.7 1218.8 526.5 1219.5 526.2 1220.8 524.5 1222.7 520.5 1224.1 516.5 1227.5 504.5 1229.5 499 1231.5 494.6 1233.5 491.5 1235.5 489.3 1237.5 487.9 1239.5 486.8 1245.5 484.3 1247.5 483.8 1249.5 483.8 1251.5 485.2 1253.5 488.7 1256.4 496.5 1258.1 500.5 1259.5 502.9 1261.5 505.6 1263.5 507.3 1265.5 508.4 1267.5 509.1 1269.5 509.3 1271.5 509.2 1273.5 508.6 1275.5 507.8 1277.4 506.5 1279.5 504.5 1281.5 501.7 1283.1 498.5 1283.8 496.5 1285.4 490.5 1286.2 484.5 1286 478.5 1284.8 472.5 1282.6 466.5 1280.6 462.5 1277.8 458.5 1275.5 455.9 1273.5 454.2 1271.5 452.8 1269.5 451.7 1265.5 450.4 1259.5 449.1 1251.5 446.4 1245.5 445.2 1239.5 445 1235.5 445.3ZM1223.3 544.5 1223 542.5 1223.5 541.8 1225.5 540.8 1233.5 540.5 1237.5 540.2 1241.5 539.4 1245.5 537.9 1247.8 536.5 1250.2 534.5 1251.9 532.5 1254.4 528.5 1256.4 526.5 1259.2 524.5 1261.5 523.4 1265.5 522.1 1273.5 520.7 1279.5 518.9 1284.2 516.5 1289.5 512.7 1291.5 512.2 1295.5 514.6" fill="none" stroke="#222" stroke-opacity="0.58" stroke-width="0.75"/>
<path d="M1230.5 446.5h.01M1241.5 446.5h.01M1252.5 446.5h.01M1208.5 457.5h.01M1219.5 457.5h.01M1230.5 457.5h.01M1241.5 457.5h.01M1252.5 457.5h.01M1263.5 457.5h.01M1274.5 457.5h.01M1208.5 468.5h.01M1219.5 468.5h.01M1230.5 468.5h.01M1241.5 468.5h.01M1252.5 468.5h.01M1263.5 468.5h.01M1274.5 468.5h.01M1197.5 479.5h.01M1208.5 479.5h.01M1219.5 479.5h.01M1230.5 479.5h.01M1241.5 479.5h.01M1252.5 479.5h.01M1263.5 479.5h.01M1274.5 479.5h.01M1285.5 479.5h.01M1197.5 490.5h.01M1208.5 490.5h.01M1219.5 490.5h.01M1230.5 490.5h.01M1241.5 490.5h.01M1252.5 490.5h.01M1263.5 490.5h.01M1274.5 490.5h.01M1285.5 490.5h.01M1197.5 501.5h.01M1208.5 501.5h.01M1219.5 501.5h.01M1230.5 501.5h.01M1241.5 501.5h.01M1252.5 501.5h.01M1263.5 501.5h.01M1274.5 501.5h.01M1285.5 501.5h.01M1208.5 512.5h.01M1219.5 512.5h.01M1230.5 512.5h.01M1241.5 512.5h.01M1252.5 512.5h.01M1263.5 512.5h.01M1274.5 512.5h.01M1208.5 523.5h.01M1219.5 523.5h.01M1230.5 523.5h.01M1241.5 523.5h.01M1252.5 523.5h.01M1263.5 523.5h.01M1274.5 523.5h.01M1230.5 534.5h.01M1241.5 534.5h.01M1252.5 534.5h.01" stroke="#333" stroke-opacity="0.5" stroke-width="1.3" stroke-linecap="round" fill="none"/>
</g>
<mask id="tc02" maskUnits="userSpaceOnUse" x="1345.5" y="37.7" width="112.0" height="112.0"><circle cx="1401.5" cy="93.7" r="53.0" fill="url(#mg)"/></mask>
<circle cx="1401.5" cy="93.7" r="51.5" fill="#fbfafb" filter="url(#gl)"/>
<g mask="url(#tc02)">
<g filter="url(#bl)"><rect x="1346.5" y="38.7" width="110.0" height="110.0" fill="#f7f6f6"/>
<path d="M1380.2 41.7 1388 39.7 1428.3 39.7 1430.2 41.7 1433.5 45.7 1437.7 51.7 1448.9 71.7 1453 79.7 1454.3 83.7 1454.7 85.7 1454.8 87.7 1454.4 91.7 1452.8 97.7 1452 99.7 1450.1 103.7 1448.8 105.7 1445.4 109.7 1443.1 111.7 1440.4 113.7 1433.5 118.2 1428.6 121.7 1423.8 125.7 1415.5 133.2 1413.5 134.7 1409.5 137.1 1405.5 138.6 1401.5 139.4 1395.5 139.7 1387.5 139.1 1383.5 138.3 1379.5 136.6 1377.5 135.3 1375.5 133.6 1373.5 131.5 1365.5 121.9 1357.9 113.7 1354.5 109.7 1350.7 103.7 1348 97.7 1347.5 95.9 1347.5 73 1348.9 69.7 1350 67.7 1352.6 63.7 1357.3 57.7 1361.5 53 1365.5 49 1367.5 47.4 1371.5 44.9 1375.5 43.1Z" fill="#f8f1ed" fill-rule="evenodd"/>
<path d="M1395.8 43.7 1401.5 42.6 1405.5 42.3 1409.5 42.4 1413.5 43.1 1417.5 44.5 1421.5 46.7 1427.5 51.2 1431.5 55.2 1435.2 59.7 1437.8 63.7 1440.1 67.7 1442.1 71.7 1444.6 77.7 1446.2 83.7 1446.7 87.7 1446.7 91.7 1446.5 93.7 1446.2 95.7 1445.1 99.7 1443.3 103.7 1442.1 105.7 1440.6 107.7 1436.5 111.7 1415.5 128.5 1411.5 131.1 1409.5 132.2 1407.5 133 1403.5 134.2 1399.5 134.8 1395.5 134.8 1391.5 134.5 1387.5 133.7 1383.5 132.4 1381.5 131.5 1379.5 130.3 1376.2 127.7 1371.5 123.1 1364.7 115.7 1361.5 111.7 1358.7 107.7 1356.6 103.7 1355.1 99.7 1354.1 95.7 1353.6 91.7 1353.5 87.7 1354 81.7 1354.9 77.7 1356.2 73.7 1358.1 69.7 1360.4 65.7 1364.8 59.7 1367.5 56.8 1371.5 53.3 1375.5 50.5 1377.5 49.5 1379.5 48.5 1385.5 46.3 1391.5 44.6Z" fill="#faeae1" fill-rule="evenodd"/>
<path d="M1391.7 47.7 1397.5 46.5 1401.5 46 1405.5 45.9 1409.5 46.2 1413.5 47.2 1415.5 47.9 1419.5 49.8 1422.4 51.7 1425.5 54.2 1429.1 57.7 1432.3 61.7 1434.9 65.7 1437.5 70.7 1439.5 75.7 1440.7 79.7 1441.6 83.7 1442 89.7 1441.9 91.7 1441.4 95.7 1440.2 99.7 1439.4 101.7 1437 105.7 1435.4 107.7 1431.4 111.7 1417.5 123 1411.5 127.1 1407.5 129 1405.5 129.7 1403.5 130.2 1399.5 130.7 1395.5 130.7 1391.5 130.3 1387.5 129.3 1385.5 128.6 1381.5 126.6 1379.5 125.3 1375.5 122.1 1371.5 118.2 1367.4 113.7 1364.2 109.7 1361.6 105.7 1359.6 101.7 1358.2 97.7 1357.4 93.7 1357 89.7 1357 85.7 1357.6 81.7 1358.5 77.7 1360 73.7 1361.9 69.7 1364.4 65.7 1365.8 63.7 1369.2 59.7 1371.5 57.5 1373.7 55.7 1377.5 53.1 1381.5 51 1383.5 50.2 1387.5 48.8Z" fill="#fbe4d6" fill-rule="evenodd"/>
<path d="M1394.2 49.7 1397.5 49.1 1401.5 48.7 1405.5 48.7 1409.5 49.2 1411.7 49.7 1415.5 51.1 1419.5 53.3 1421.5 54.8 1424.7 57.7 1426.5 59.7 1429.5 63.7 1431.5 67.2 1433.6 71.7 1435.1 75.7 1436.3 79.7 1437.1 83.7 1437.6 89.7 1437.3 93.7 1437 95.7 1435.8 99.7 1435 101.7 1432.5 105.7 1430.8 107.7 1426.7 111.7 1417.5 119.3 1411.5 123.3 1409.5 124.4 1405.5 126 1403.5 126.5 1399.5 127.1 1395.5 127 1391.5 126.4 1388.8 125.7 1385.5 124.5 1381.5 122.3 1379.5 120.9 1375.6 117.7 1373.5 115.6 1370 111.7 1367 107.7 1364.5 103.7 1362.7 99.7 1361.4 95.7 1360.6 91.7 1360.3 87.7 1360.3 85.7 1360.7 81.7 1361.7 77.7 1363.1 73.7 1365.1 69.7 1367.5 66 1369.2 63.7 1373.5 59.2 1375.5 57.6 1379.5 54.9 1383.5 52.9 1386.7 51.7Z" fill="#fdddcb" fill-rule="evenodd"/>
<path d="M1399.3 51.7 1403.5 51.5 1406 51.7 1409.5 52.4 1413.2 53.7 1417.5 56.4 1421.5 60.1 1423.5 62.4 1426 65.7 1428.3 69.7 1430.1 73.7 1431.5 77.7 1432.5 81.7 1433.2 85.7 1433.4 89.7 1433.2 93.7 1432.8 95.7 1431.6 99.7 1429.4 103.7 1427.9 105.7 1425.5 108.3 1419.5 113.7 1415.5 116.8 1411.5 119.4 1407.5 121.5 1405.5 122.2 1403.5 122.8 1399.5 123.4 1397.5 123.4 1393.5 123 1389.5 122.1 1387.5 121.3 1384.1 119.7 1381.5 118.1 1378.5 115.7 1375.5 112.9 1371 107.7 1369.5 105.4 1367.4 101.7 1366.5 99.7 1365.2 95.7 1364.3 91.7 1364 87.7 1364.2 83.7 1364.9 79.7 1365.5 77.4 1366.9 73.7 1369 69.7 1370.2 67.7 1373.3 63.7 1375.1 61.7 1377.4 59.7 1379.5 58.2 1383.9 55.7 1389.5 53.6 1395.5 52.3Z" fill="#fcd3bc" fill-rule="evenodd"/>
<path d="M1398 55.7 1403.5 55.7 1407.5 56.5 1409.5 57.2 1411.5 58.1 1414.2 59.7 1416.7 61.7 1419.5 64.4 1421.5 66.8 1423.5 69.7 1425.5 73.4 1426.4 75.7 1427.8 79.7 1428.7 83.7 1429.2 89.7 1428.8 93.7 1428.4 95.7 1427 99.7 1425.9 101.7 1424.5 103.7 1420.9 107.7 1415.5 112.3 1413.5 113.8 1409.5 116.3 1405.5 118.1 1401.5 119.1 1399.5 119.3 1397.5 119.4 1393.5 119 1389.5 117.9 1387.5 117.1 1384.7 115.7 1381.7 113.7 1377.5 110 1375.5 107.7 1373.5 105.1 1371.5 101.8 1370.5 99.7 1369.5 97.1 1368.5 93.7 1367.9 89.7 1367.8 87.7 1368.1 83.7 1368.4 81.7 1369.4 77.7 1370.2 75.7 1371.5 72.9 1373.4 69.7 1375.5 66.8 1377.5 64.6 1381.5 61.2 1385.5 58.9 1388.5 57.7 1391.5 56.8 1395.5 56Z" fill="#fac8af" fill-rule="evenodd"/>
<path d="M1389.3 61.7 1393.5 60.6 1397.5 60.1 1399.5 60.1 1403.5 60.6 1407.5 61.8 1411.5 64 1413.5 65.5 1415.9 67.7 1417.7 69.7 1419.5 72.2 1421.4 75.7 1422.3 77.7 1423.6 81.7 1424.3 85.7 1424.4 87.7 1424.3 91.7 1423.9 93.7 1423.4 95.7 1422.6 97.7 1421.6 99.7 1420.2 101.7 1416.7 105.7 1411.8 109.7 1407.5 112.4 1403.5 114 1399.5 114.8 1397.5 114.9 1395.5 114.8 1391.5 114 1387.5 112.5 1385.5 111.4 1383.1 109.7 1380.8 107.7 1378.9 105.7 1376 101.7 1374.8 99.7 1373.5 96.5 1372.2 91.7 1371.9 87.7 1372 85.7 1372.2 83.7 1373.1 79.7 1374.7 75.7 1375.7 73.7 1377.5 70.9 1379.5 68.4 1381.5 66.4 1385.5 63.5Z" fill="#f8bb9e" fill-rule="evenodd"/>
<path d="M1393 65.7 1395.5 65.3 1397.5 65.2 1401.5 65.7 1405.5 67 1407.5 68.1 1409.5 69.4 1412.2 71.7 1414 73.7 1415.4 75.7 1417.5 79.7 1418.7 83.7 1419.1 87.7 1418.7 91.7 1417.5 95.7 1415.5 99.1 1413.4 101.7 1409.5 105.1 1405.5 107.6 1401.5 109.1 1397.5 109.7 1393.5 109.4 1389.5 108.1 1387.5 107.1 1385.5 105.8 1383.1 103.7 1381.3 101.7 1379.9 99.7 1377.9 95.7 1376.8 91.7 1376.4 87.7 1376.8 83.7 1377.9 79.7 1379.8 75.7 1381.2 73.7 1382.8 71.7 1385.5 69.2 1387.5 67.9 1389.5 66.9Z" fill="#f6af8e" fill-rule="evenodd"/>
<path d="M1393.3 71.7 1395.5 71.3 1397.5 71.3 1399.5 71.5 1401.5 72 1403.5 72.8 1405.5 73.9 1407.5 75.4 1409.7 77.7 1411.5 80.5 1412.8 83.7 1413.1 85.7 1413.2 87.7 1413.1 89.7 1412.7 91.7 1411.9 93.7 1410.9 95.7 1409.4 97.7 1407.4 99.7 1404.6 101.7 1401.5 103.2 1399.5 103.7 1397.5 104 1395.5 104 1393.5 103.7 1391.5 103.1 1389.5 102.1 1387.5 100.7 1386.4 99.7 1384.7 97.7 1383.4 95.7 1382.6 93.7 1382 91.7 1381.6 89.7 1381.5 87.7 1381.7 85.7 1382.7 81.7 1383.6 79.7 1385.5 76.9 1387.5 74.8 1389.5 73.3 1391.5 72.3Z" fill="#f2a17f" fill-rule="evenodd"/>
<path d="M1392.3 79.7 1393.5 79 1395.5 78.4 1397.5 78.3 1399.5 78.6 1401.5 79.4 1403.5 80.8 1404.4 81.7 1405.5 83.3 1406.4 85.7 1406.6 87.7 1406.3 89.7 1405.7 91.7 1404.4 93.7 1402.2 95.7 1399.5 97 1397.5 97.4 1395.5 97.4 1393.5 96.9 1391.5 95.8 1389.5 93.7 1388.5 91.7 1387.9 89.7 1387.8 87.7 1388.1 85.7 1388.8 83.7 1389.5 82.5 1391.5 80.2Z" fill="#eb9172" fill-rule="evenodd"/>
<path d="M1441.5 119.7 1443.5 119.8 1445.5 120.4 1449.5 121.9 1452.4 123.7 1454.6 125.7 1455.5 126.7 1455.5 145.6 1453.4 147.7 1437.5 147.7 1429.8 147.7 1427.5 147 1424.8 145.7 1423.5 144.8 1422.4 143.7 1420.8 141.7 1419.8 139.7 1420 137.7 1420.7 135.7 1423.3 131.7 1427 127.7 1429.2 125.7 1431.8 123.7 1435.5 121.5 1439.5 120.1ZM1347.5 123.7 1349.5 122.7 1351.5 122.4 1353.5 122.7 1355.8 123.7 1357.5 124.8 1359.5 126.7 1360.3 127.7 1361.3 129.7 1361.9 131.7 1362 133.7 1361.5 135.8 1360.4 137.7 1359.5 138.8 1357.5 140.4 1355.5 141.5 1353.5 142.2 1351.5 142.4 1349.5 141.9 1347.5 140.6Z" fill="#eff3f5" fill-rule="evenodd"/>
</g>
<path d="M1347.5 50.4 1349.5 49.5 1351.5 48.1 1353.5 46.4 1356.2 43.7 1359.4 39.7M1455.5 111.5 1451.5 112.3 1445.5 114.3 1439.5 117 1433.5 120.3 1429.5 123.1 1426.3 125.7 1413.5 138.4 1409.5 141.3 1407.5 142.4 1405.5 143.2 1401.5 144.2 1388.6 145.7 1385.5 147 1384.2 147.7M1367.1 147.7 1370 143.7 1370.9 141.7 1371.2 139.7 1371 137.7 1370.6 135.7 1369.9 133.7 1368 129.7 1365.5 125.8 1363.8 123.7 1359.5 119.4 1357.5 117.7 1353.5 114.8 1347.5 111.4M1399.9 43.7 1403.5 43.3 1407.5 43.2 1411.5 43.7 1415.5 44.7 1419.5 46.5 1423.5 49.1 1425.5 50.6 1429.5 54.2 1432.7 57.7 1435.6 61.7 1438.2 65.7 1441.2 71.7 1442.9 75.7 1444.8 81.7 1445.5 85.7 1445.8 89.7 1445.7 91.7 1445.2 95.7 1444.8 97.7 1443.5 101.3 1442.3 103.7 1441 105.7 1437.5 109.7 1433 113.7 1417.5 126.1 1413.5 129 1411.5 130.3 1407.5 132.2 1405.5 132.9 1401.4 133.7 1399.5 133.9 1395.5 134 1391.5 133.6 1387.5 132.8 1383.5 131.4 1381.5 130.5 1379.5 129.3 1375.5 126.1 1371.5 122.1 1365.5 115.6 1362.3 111.7 1359.5 107.7 1357.4 103.7 1355.9 99.7 1354.9 95.7 1354.2 89.7 1354.3 85.7 1354.8 81.7 1355.7 77.7 1357.1 73.7 1358.9 69.7 1361.3 65.7 1364.2 61.7 1367.7 57.7 1371.5 54.2 1373.5 52.7 1377.5 50.3 1381.5 48.4 1385.5 47 1391.5 45.3 1395.5 44.4ZM1392.9 49.7 1397.5 48.8 1401.5 48.4 1407.5 48.6 1411.5 49.3 1413.5 49.9 1417.4 51.7 1420.6 53.7 1423.5 56 1427.1 59.7 1429.5 63 1431.2 65.7 1433.2 69.7 1434.9 73.7 1436.2 77.7 1437.2 81.7 1438 87.7 1438 91.7 1437.8 93.7 1437 97.7 1436.3 99.7 1434.3 103.7 1432.9 105.7 1429.4 109.7 1422.5 115.7 1417.5 119.7 1413.5 122.5 1409.5 124.8 1407.4 125.7 1405.5 126.4 1401.5 127.2 1397.5 127.5 1393.5 127.2 1389.5 126.3 1385.5 124.9 1383.1 123.7 1379.9 121.7 1377.4 119.7 1373.1 115.7 1369.5 111.7 1366.5 107.7 1365.2 105.7 1363.1 101.7 1361.6 97.7 1360.5 93.7 1359.9 89.7 1359.9 87.7 1360.1 83.7 1360.8 79.7 1362 75.7 1363.5 72.1 1365.5 68.5 1367.3 65.7 1369.5 63 1372.6 59.7 1374.9 57.7 1377.7 55.7 1381.5 53.5 1385.5 51.8ZM1389.8 55.7 1393.5 54.8 1397.5 54.1 1401.5 53.9 1403.5 53.9 1407.5 54.5 1409.5 55.1 1413.5 56.9 1417.4 59.7 1419.5 61.7 1421.5 63.9 1423.5 66.5 1425.6 69.7 1427.5 73.6 1429.6 79.7 1430.7 85.7 1431 89.7 1430.9 91.7 1430.3 95.7 1429.7 97.7 1427.9 101.7 1425 105.7 1421.5 109.3 1418.7 111.7 1415.5 114.2 1411.5 117 1409.5 118.1 1405.9 119.7 1401.5 120.8 1399.5 121 1395.5 121 1393.5 120.7 1389.5 119.7 1385.5 118 1383.5 116.8 1379.5 113.9 1377.5 112.1 1373.5 107.6 1371.5 104.7 1369.8 101.7 1368.8 99.7 1367.4 95.7 1366.9 93.7 1366.3 89.7 1366.3 85.7 1366.4 83.7 1367.2 79.7 1367.8 77.7 1369.3 73.7 1370.4 71.7 1372.9 67.7 1374.4 65.7 1376.2 63.7 1378.3 61.7 1381 59.7 1383.5 58.2 1385.5 57.3ZM1394.6 61.7 1397.5 61.5 1399.5 61.5 1401.6 61.7 1405.5 62.7 1409.5 64.6 1411.5 65.9 1413.5 67.5 1415.5 69.5 1417.4 71.7 1419.8 75.7 1421.5 79.7 1422.5 83.7 1422.8 85.7 1422.9 89.7 1422.4 93.7 1420.9 97.7 1419.8 99.7 1418.4 101.7 1414.6 105.7 1412.2 107.7 1409.5 109.6 1405.5 111.8 1401.5 113 1397.5 113.5 1395.5 113.4 1391.5 112.6 1387.5 111 1385.5 109.9 1383.5 108.4 1380.5 105.7 1377.4 101.7 1375.2 97.7 1373.9 93.7 1373.5 91.7 1373.2 89.7 1373.2 85.7 1373.9 81.7 1375.5 76.8 1377.1 73.7 1378.5 71.7 1381.5 68.1 1383.5 66.4 1385.5 65 1387.5 63.9 1389.5 63 1391.5 62.4ZM1392.9 71.7 1395.5 71.2 1397.5 71.1 1399.5 71.4 1401.5 71.9 1403.5 72.6 1405.5 73.7 1408 75.7 1409.9 77.7 1411.5 80.2 1412.9 83.7 1413.2 85.7 1413.4 87.7 1413.2 89.7 1412.8 91.7 1412 93.7 1411 95.7 1409.5 97.7 1407.6 99.7 1405.5 101.3 1403.5 102.4 1399.9 103.7 1397.5 104.1 1395.5 104.1 1393.5 103.8 1391.5 103.2 1388.7 101.7 1386.2 99.7 1384.6 97.7 1383.3 95.7 1382.5 93.7 1381.9 91.7 1381.5 89.7 1381.6 85.7 1382.6 81.7 1383.5 79.7 1385.5 76.7 1387.5 74.7 1389.5 73.2 1391.5 72.2Z" fill="none" stroke="#222" stroke-opacity="0.58" stroke-width="0.75"/>
<path d="M1390.5 49.7h.01M1401.5 49.7h.01M1412.5 49.7h.01M1368.5 60.7h.01M1379.5 60.7h.01M1390.5 60.7h.01M1401.5 60.7h.01M1412.5 60.7h.01M1423.5 60.7h.01M1434.5 60.7h.01M1368.5 71.7h.01M1379.5 71.7h.01M1390.5 71.7h.01M1401.5 71.7h.01M1412.5 71.7h.01M1423.5 71.7h.01M1434.5 71.7h.01M1357.5 82.7h.01M1368.5 82.7h.01M1379.5 82.7h.01M1390.5 82.7h.01M1401.5 82.7h.01M1412.5 82.7h.01M1423.5 82.7h.01M1434.5 82.7h.01M1445.5 82.7h.01M1357.5 93.7h.01M1368.5 93.7h.01M1379.5 93.7h.01M1390.5 93.7h.01M1401.5 93.7h.01M1412.5 93.7h.01M1423.5 93.7h.01M1434.5 93.7h.01M1445.5 93.7h.01M1357.5 104.7h.01M1368.5 104.7h.01M1379.5 104.7h.01M1390.5 104.7h.01M1401.5 104.7h.01M1412.5 104.7h.01M1423.5 104.7h.01M1434.5 104.7h.01M1445.5 104.7h.01M1368.5 115.7h.01M1379.5 115.7h.01M1390.5 115.7h.01M1401.5 115.7h.01M1412.5 115.7h.01M1423.5 115.7h.01M1434.5 115.7h.01M1368.5 126.7h.01M1379.5 126.7h.01M1390.5 126.7h.01M1401.5 126.7h.01M1412.5 126.7h.01M1423.5 126.7h.01M1434.5 126.7h.01M1390.5 137.7h.01M1401.5 137.7h.01M1412.5 137.7h.01" stroke="#333" stroke-opacity="0.5" stroke-width="1.3" stroke-linecap="round" fill="none"/>
</g>
<mask id="tc12" maskUnits="userSpaceOnUse" x="1345.5" y="171.0" width="112.0" height="112.0"><circle cx="1401.5" cy="227.0" r="53.0" fill="url(#mg)"/></mask>
<circle cx="1401.5" cy="227.0" r="51.5" fill="#fbfafb" filter="url(#gl)"/>
<g mask="url(#tc12)">
<g filter="url(#bl)"><rect x="1346.5" y="172.0" width="110.0" height="110.0" fill="#f7f6f6"/>
<path d="M1376.3 175 1379.5 173 1421.1 173 1425.5 174.6 1429.5 176.5 1433.2 179 1435.2 181 1436.8 183 1438 185 1442.8 195 1444.6 199 1445.3 201 1445.8 203 1446 205 1445.9 207 1445.5 209 1443.5 215.8 1442.8 219 1442.4 223 1442.5 227 1443.5 231.4 1445.5 236.4 1446.9 239 1448.4 243 1448.5 245 1448.3 247 1446.7 251 1444.3 255 1439.9 261 1437.5 263.9 1435.5 266 1431.5 269.4 1427.5 272.1 1423.5 274.2 1419.5 275.9 1413.5 277.5 1409.5 278.2 1403.5 278.5 1397.5 278.1 1393.5 277.5 1387.5 275.9 1383.5 274.4 1379.5 272.3 1375.5 269.4 1373.5 267.8 1360.5 255 1355.1 249 1352.2 245 1350 241 1348.5 237 1348.1 235 1347.7 231 1347.8 227 1348.2 223 1348.7 221 1350.4 215 1352 211 1354.6 205 1358.6 197 1362 191 1364.7 187 1367.5 183.4 1369.6 181 1373.5 177.2Z" fill="#f8f1ed" fill-rule="evenodd"/>
<path d="M1390.8 177 1395.5 176 1399.5 175.7 1403.5 175.8 1407.5 176.3 1415.5 178.1 1419.5 179.5 1423.5 181.5 1427.5 184.1 1429.5 185.7 1431.5 187.6 1434.5 191 1437.3 195 1439.8 199 1440.8 201 1442.2 205 1442.6 207 1442.6 211 1441.3 219 1441 225 1441.5 230 1443.2 237 1443.8 241 1443.7 243 1443.4 245 1442.7 247 1440.7 251 1436.5 257 1433.5 260.4 1429.5 264 1427.5 265.5 1423.5 268 1419.5 269.9 1415.5 271.3 1411.5 272.3 1407.5 272.9 1403.5 273.1 1397.5 272.8 1393.5 272.1 1389.5 270.9 1385.5 269.3 1383.5 268.3 1379.5 265.8 1375.5 262.5 1371.5 258.7 1366.2 253 1363.1 249 1360.4 245 1358.4 241 1356.5 235 1355.9 231 1355.7 227 1356.1 221 1356.8 217 1358.4 211 1360.6 205 1362.4 201 1364.6 197 1367.4 193 1369.5 190.4 1372.8 187 1375.5 184.7 1379.5 181.9 1383.5 179.6 1387.5 177.9Z" fill="#faeae1" fill-rule="evenodd"/>
<path d="M1389.2 181 1393.5 179.8 1397.5 179.2 1401.5 179 1405.5 179.2 1409.5 179.8 1413.5 180.7 1417.5 182.1 1421.5 183.9 1425.5 186.5 1427.5 188 1429.5 189.9 1432.3 193 1435.2 197 1437.7 201 1439.5 205 1440 207 1440.4 211 1439.6 221 1439.5 225 1439.8 229 1440.9 239 1440.8 241 1440.4 243 1439.9 245 1439 247 1436.7 251 1433.7 255 1430 259 1427.5 261.2 1423.5 263.9 1419.5 266.1 1415.5 267.6 1411.5 268.7 1405.5 269.6 1401.5 269.6 1397.5 269.2 1393.5 268.4 1389.5 267.1 1385.5 265.1 1383.5 263.9 1379.5 260.9 1375.5 257.3 1371.4 253 1368.1 249 1366.6 247 1364.1 243 1362.2 239 1361 235 1360.2 231 1359.9 227 1360 223 1360.5 219 1361.7 213 1362.8 209 1364.3 205 1366.1 201 1368.4 197 1369.8 195 1373.3 191 1375.5 188.9 1377.9 187 1381.5 184.6 1385.5 182.4Z" fill="#fbe4d6" fill-rule="evenodd"/>
<path d="M1391.7 183 1397.5 181.8 1401.5 181.5 1405.5 181.7 1409.5 182.3 1413.5 183.2 1417.5 184.7 1419.5 185.6 1421.9 187 1425.5 189.6 1427.5 191.4 1430.7 195 1433.5 198.9 1434.7 201 1436.7 205 1437.5 207.4 1438.1 211 1438.3 213 1438 225 1438.2 237 1437.6 241 1436.1 245 1433.8 249 1431.5 252.1 1428.9 255 1425.5 258.1 1423.5 259.6 1419.5 262 1415.5 263.8 1411.5 265 1405.5 265.9 1401.5 266 1397.5 265.5 1393.5 264.5 1391.5 263.9 1387.5 262 1385.5 260.9 1382.8 259 1379.5 256.3 1376.1 253 1372.6 249 1371 247 1368.4 243 1366.4 239 1365 235 1364.2 231 1363.9 227 1363.9 223 1364.3 219 1365 215 1366.5 209 1367.9 205 1369.7 201 1371.5 197.8 1373.5 195 1377.5 190.9 1379.8 189 1383.5 186.6 1387.5 184.5Z" fill="#fdddcb" fill-rule="evenodd"/>
<path d="M1394.7 185 1397.5 184.5 1401.5 184.1 1407.5 184.4 1411.5 185.1 1415.5 186.5 1417.5 187.3 1420.5 189 1423.2 191 1425.5 193.1 1427.5 195.4 1430.2 199 1433.7 205 1435.2 209 1435.7 211 1436 213 1436.3 217 1436 233 1435.5 237.1 1434.3 241 1433.4 243 1431.5 246.3 1429.5 249.1 1425.9 253 1423.5 255.1 1420.9 257 1417.5 259 1413.5 260.6 1409.5 261.7 1405.5 262.3 1403.5 262.4 1399.5 262.1 1397.5 261.8 1394.2 261 1391.5 260 1389.3 259 1385.5 256.7 1383.1 255 1379.5 251.8 1376.9 249 1373.7 245 1371.5 241.5 1370.2 239 1369.4 237 1368.2 233 1367.6 229 1367.4 225 1367.6 221 1368.1 217 1369 213 1370.1 209 1371.6 205 1373.5 201.2 1375.5 198.1 1377.5 195.7 1379.5 193.6 1382.6 191 1385.4 189 1389.1 187Z" fill="#fcd3bc" fill-rule="evenodd"/>
<path d="M1394.1 189 1397.5 188 1399.5 187.6 1401.5 187.4 1405.5 187.3 1409.5 187.8 1411.5 188.3 1413.7 189 1417.5 190.8 1420.8 193 1423 195 1425.5 197.6 1427.5 200.2 1429.5 203.3 1431.5 207 1433 211 1433.5 213 1434.1 219 1433.9 229 1433.5 232.5 1433 235 1431.5 239.2 1429.5 242.9 1428.1 245 1425.5 248.2 1423.5 250.2 1420.1 253 1417.5 254.7 1415.5 255.7 1411.5 257.3 1407.5 258.2 1405.5 258.5 1401.5 258.5 1399.5 258.4 1395.5 257.5 1393.5 256.9 1389.5 255 1387.5 253.8 1383.7 251 1381.5 249 1377.5 244.4 1375.5 241.5 1374.1 239 1373.2 237 1371.9 233 1371.4 231 1371 227 1370.9 223 1371.3 219 1372 215 1373 211 1373.6 209 1375.4 205 1377.5 201.4 1379.4 199 1381.5 196.8 1383.5 195 1386.2 193 1389.5 191Z" fill="#fac8af" fill-rule="evenodd"/>
<path d="M1402.6 191 1405.5 190.9 1407.5 191 1411.5 191.8 1413.5 192.5 1417.5 194.7 1419.5 196.1 1421.5 197.9 1423.5 200.1 1425.8 203 1427.5 205.8 1429.1 209 1430.6 213 1431.4 217 1431.6 219 1431.6 225 1430.7 231 1429.5 234.8 1428.5 237 1427.5 239 1425.5 242 1423.5 244.5 1421 247 1418.6 249 1415.5 251 1411 253 1407.5 253.9 1405.5 254.2 1401.5 254.3 1399.5 254.1 1394.9 253 1391.5 251.6 1389.5 250.4 1387.5 249.1 1384.9 247 1381.1 243 1379.5 240.9 1377.2 237 1375.7 233 1375.2 231 1374.8 229 1374.5 225 1374.8 219 1376.1 213 1377.5 209 1378.4 207 1379.6 205 1381.5 202.3 1383.5 200.2 1385.5 198.4 1387.5 196.8 1391.5 194.4 1394.5 193 1397.5 192 1399.5 191.4Z" fill="#f8bb9e" fill-rule="evenodd"/>
<path d="M1402.9 195 1405.5 194.8 1407.5 194.9 1411.5 195.8 1413.5 196.6 1415.5 197.6 1417.5 199 1419.5 200.7 1421.5 202.9 1423.1 205 1425.5 209 1427.5 214.2 1428.4 219 1428.4 221 1428.2 225 1427.4 229 1425.5 234 1423.7 237 1422.2 239 1419.5 242.1 1415.5 245.3 1411.5 247.4 1407.5 248.8 1405.5 249.2 1401.5 249.3 1399.5 249.1 1395.5 248.1 1391.5 246.2 1389.5 245 1387.5 243.4 1385.5 241.4 1383.5 239.1 1381 235 1379.5 231 1379 229 1378.5 225 1378.4 223 1378.7 219 1379.5 215 1380.1 213 1381.5 209.7 1383.1 207 1384.6 205 1386.5 203 1388.8 201 1393.5 198 1397.5 196.3 1399.5 195.6Z" fill="#f6af8e" fill-rule="evenodd"/>
<path d="M1397.6 201 1401.5 199.7 1405.5 199.3 1407.5 199.3 1409.5 199.7 1411.5 200.3 1413.5 201.2 1415.5 202.6 1417.5 204.3 1419.8 207 1422.2 211 1423.7 215 1424.4 219 1424.3 223 1423.4 227 1421.5 231.4 1418.9 235 1415.5 238.3 1411.5 240.9 1407.5 242.5 1403.5 243.2 1399.5 243 1395.5 241.8 1393.5 240.9 1391.5 239.6 1389.5 237.9 1386.9 235 1385.6 233 1384.7 231 1383.5 227.4 1382.9 223 1383.2 219 1384.1 215 1385.5 211.6 1387.5 208.6 1388.8 207 1391 205 1393.8 203Z" fill="#f2a17f" fill-rule="evenodd"/>
<path d="M1401.8 205 1405.5 204.5 1407.5 204.6 1409.5 205.1 1411.5 206 1413.1 207 1415.3 209 1416.8 211 1417.9 213 1418.6 215 1419.1 217 1419.3 219 1419.3 221 1418.9 223 1418.3 225 1417.5 227 1416.2 229 1413.5 232 1411.5 233.5 1408.5 235 1405.5 235.9 1403.5 236.2 1401.5 236.1 1399.5 235.8 1397 235 1395.5 234.2 1393.7 233 1391.7 231 1390.3 229 1389.4 227 1388.8 225 1388.4 223 1388.3 221 1388.5 219 1388.9 217 1389.6 215 1391.5 211.8 1393.5 209.6 1395.5 208 1397.5 206.7 1399.5 205.8Z" fill="#eb9172" fill-rule="evenodd"/>
<path d="M1400.5 213 1401.5 212.5 1403.5 211.9 1405.5 211.9 1407.5 212.3 1408.8 213 1409.5 213.5 1410.8 215 1411.7 217 1412 219 1411.7 221 1410.9 223 1409.5 225 1407.5 226.5 1405.5 227.4 1403.5 227.6 1401.5 227.4 1399.5 226.6 1397.6 225 1396.5 223 1396 221 1396.1 219 1396.7 217 1398 215 1399.5 213.7Z" fill="#e48066" fill-rule="evenodd"/>
<path d="M1449.5 211 1451.5 210.1 1453.5 209.8 1455.5 210.2 1455.5 235 1453.5 235.9 1451.5 236.2 1449.5 235.8 1447.5 234.4 1445.5 231.6 1444.5 229 1443.8 225 1444 221 1444.4 219 1445.5 215.8 1447.5 212.7Z" fill="#eff3f5" fill-rule="evenodd"/>
<path d="M1448.1 217 1449.5 216.1 1451.5 216.3 1453.5 217.6 1454.7 219 1455.5 220.7 1455.5 226.2 1455.3 227 1454.2 229 1451.9 231 1451.5 231.2 1449.5 231.5 1447.5 230.3 1446.7 229 1445.8 227 1445.4 225 1445.4 223 1445.7 221 1446.5 219 1447.5 217.3Z" fill="#e6eff4" fill-rule="evenodd"/>
<path d="M1448.6 223 1449.5 221.8 1450.6 223 1450.5 225 1449.5 226.1 1448.7 225Z" fill="#ddebf2" fill-rule="evenodd"/>
</g>
<path d="M1447.5 218.8 1446.5 221 1446.1 223 1446.1 225 1446.6 227 1447.5 228.9 1449.5 230.1 1451.5 229.6 1452.3 229 1453.7 227 1454.3 225 1454.4 223 1453.9 221 1452.7 219 1451.5 218 1449.5 217.6ZM1455.5 187.9 1453.5 188.4 1452 189 1451.5 189.3 1450.1 191 1449.6 193 1449.6 195 1450.4 201 1450.3 203 1448.9 207 1447.5 209.2 1445.5 213.1 1444.8 215 1443.5 219 1443 223 1443.3 227 1444.3 231 1445.5 233.8 1447.5 236.8 1449.5 238.7 1451.5 240 1453.5 240.6 1455.5 240.6M1347.5 195.7 1349.5 193.8 1351.5 191.3 1353.5 188 1357.5 180.6 1361.1 173M1455.5 257.8 1453.5 259.2 1451.5 261.4 1449.4 265 1447.9 269 1447.4 271 1447.1 273 1447.1 275 1447.5 281M1400.8 177 1405.5 177.2 1411.5 178.2 1417.5 179.9 1421.5 181.7 1425.5 184 1429.5 187.2 1433.1 191 1436.2 195 1438.7 199 1439.7 201 1440.6 203 1441.7 207 1441.9 211 1440.8 219 1440.5 225 1440.8 229 1442.4 237 1442.8 241 1442.7 243 1442.2 245 1441.5 247 1440.5 249 1438.1 253 1435.5 256.4 1433.3 259 1431.2 261 1427.5 264.1 1425.5 265.4 1421.5 267.7 1415.5 270.1 1411.5 271.1 1407.5 271.8 1401.5 272 1397.5 271.6 1393.5 270.9 1389.5 269.7 1385.5 268 1381.5 265.7 1379.5 264.3 1377.5 262.7 1373.5 259 1369.7 255 1365.5 250.1 1363.3 247 1360.9 243 1359.2 239 1358 235 1357.3 231 1357.1 227 1357.2 223 1358.1 217 1359.1 213 1361.1 207 1362.7 203 1364.7 199 1367.3 195 1370.4 191 1373.5 187.9 1377.5 184.7 1381.5 182.1 1385.5 180.1 1389.5 178.6 1393.5 177.6 1397.5 177.1ZM1393 183 1395.5 182.4 1399.5 181.9 1403.5 181.9 1407.5 182.2 1411.5 183 1415.5 184.2 1417.5 185 1421.3 187 1424.2 189 1426.6 191 1428.6 193 1431.5 196.6 1433.5 199.6 1435.4 203 1437 207 1437.5 209 1438 213 1437.8 225 1438 233 1437.9 237 1437.2 241 1435.7 245 1433.3 249 1430.2 253 1427.5 255.8 1423.6 259 1420.4 261 1417.5 262.5 1413.5 264 1409.5 264.9 1405.5 265.4 1401.5 265.5 1399.5 265.3 1395.5 264.6 1391.5 263.4 1389.5 262.5 1386.6 261 1383.5 259 1381 257 1377.5 253.8 1374.8 251 1371.5 246.9 1368.9 243 1366.9 239 1366.1 237 1365.1 233 1364.5 229 1364.3 225 1364.6 221 1365.1 217 1366.4 211 1367.6 207 1369.2 203 1371.3 199 1373.5 195.8 1375.9 193 1378 191 1380.5 189 1383.5 187 1387.3 185ZM1393.4 189 1395.5 188.3 1399.5 187.4 1401.5 187.2 1405.5 187.1 1409.5 187.6 1411.5 188.1 1414.2 189 1417.5 190.6 1421.5 193.4 1423.5 195.2 1426.8 199 1429.5 203 1430.7 205 1431.6 207 1433.1 211 1433.6 213 1434.2 217 1434.3 221 1434.2 227 1433.5 233.4 1432.5 237 1431.8 239 1429.7 243 1428.3 245 1425.5 248.5 1423.5 250.5 1420.5 253 1417.5 254.9 1413 257 1409.5 258 1407.5 258.4 1403.5 258.8 1401.5 258.8 1397.5 258.2 1395.5 257.7 1393.3 257 1389.5 255.3 1386 253 1383.5 251.1 1381.3 249 1377.7 245 1375.5 241.9 1373.9 239 1373 237 1371.7 233 1371.2 231 1370.8 227 1370.7 223 1371.1 219 1371.8 215 1372.8 211 1373.5 208.8 1375.2 205 1377.5 201.1 1379.1 199 1381 197 1383.2 195 1387.5 191.9 1389.5 190.8ZM1398.2 195 1401.5 194.2 1403.5 193.9 1407.5 194 1411.5 194.8 1413.5 195.6 1415.5 196.6 1417.5 197.9 1419.5 199.6 1421.5 201.6 1423.5 204.1 1425.3 207 1427.5 211.5 1428.6 215 1429 217 1429.3 221 1429.3 223 1428.8 227 1427.5 231.9 1426.1 235 1425 237 1423.5 239.2 1421.5 241.6 1419.5 243.7 1417.5 245.4 1413.5 247.9 1411.1 249 1407.5 250.1 1403.5 250.6 1401.5 250.6 1397.5 250 1393.5 248.6 1389.5 246.4 1387.5 244.9 1385.5 243 1383.5 240.8 1381.5 238.1 1379.5 234.3 1378.4 231 1377.9 229 1377.6 227 1377.4 223 1377.5 221 1378.1 217 1379.5 211.9 1381.5 207.7 1383.5 204.7 1385.5 202.5 1387.5 200.7 1389.9 199 1393.3 197ZM1400.4 203 1403.5 202.3 1405.5 202.2 1407.5 202.3 1410.5 203 1413.5 204.5 1415.5 206.1 1418.1 209 1419.3 211 1420.2 213 1421.4 217 1421.6 221 1421.4 223 1420.2 227 1419.2 229 1417.5 231.6 1415.5 233.8 1414 235 1411.5 236.7 1409.5 237.7 1407.5 238.5 1405.5 239 1403.5 239.2 1401.5 239.2 1399.5 239 1397.5 238.4 1395.5 237.6 1393.5 236.5 1391.5 234.9 1389.7 233 1388.3 231 1387.3 229 1386.2 225 1385.9 221 1386.5 217 1387.5 214.1 1389.2 211 1390.9 209 1393.5 206.6 1395.5 205.2 1397.5 204.2Z" fill="none" stroke="#222" stroke-opacity="0.58" stroke-width="0.75"/>
<path d="M1390.5 183h.01M1401.5 183h.01M1412.5 183h.01M1368.5 194h.01M1379.5 194h.01M1390.5 194h.01M1401.5 194h.01M1412.5 194h.01M1423.5 194h.01M1434.5 194h.01M1368.5 205h.01M1379.5 205h.01M1390.5 205h.01M1401.5 205h.01M1412.5 205h.01M1423.5 205h.01M1434.5 205h.01M1357.5 216h.01M1368.5 216h.01M1379.5 216h.01M1390.5 216h.01M1401.5 216h.01M1412.5 216h.01M1423.5 216h.01M1434.5 216h.01M1445.5 216h.01M1357.5 227h.01M1368.5 227h.01M1379.5 227h.01M1390.5 227h.01M1401.5 227h.01M1412.5 227h.01M1423.5 227h.01M1434.5 227h.01M1445.5 227h.01M1357.5 238h.01M1368.5 238h.01M1379.5 238h.01M1390.5 238h.01M1401.5 238h.01M1412.5 238h.01M1423.5 238h.01M1434.5 238h.01M1445.5 238h.01M1368.5 249h.01M1379.5 249h.01M1390.5 249h.01M1401.5 249h.01M1412.5 249h.01M1423.5 249h.01M1434.5 249h.01M1368.5 260h.01M1379.5 260h.01M1390.5 260h.01M1401.5 260h.01M1412.5 260h.01M1423.5 260h.01M1434.5 260h.01M1390.5 271h.01M1401.5 271h.01M1412.5 271h.01" stroke="#333" stroke-opacity="0.5" stroke-width="1.3" stroke-linecap="round" fill="none"/>
</g>
<mask id="tc22" maskUnits="userSpaceOnUse" x="1345.5" y="302.4" width="112.0" height="112.0"><circle cx="1401.5" cy="358.4" r="53.0" fill="url(#mg)"/></mask>
<circle cx="1401.5" cy="358.4" r="51.5" fill="#fbfafb" filter="url(#gl)"/>
<g mask="url(#tc22)">
<g filter="url(#bl)"><rect x="1346.5" y="303.4" width="110.0" height="110.0" fill="#f7f6f6"/>
<path d="M1367.3 306.4 1368.8 304.4 1421.8 304.4 1435.3 314.4 1437.5 316.4 1441.1 320.4 1442.4 322.4 1444.5 326.4 1446.4 330.4 1448.9 336.4 1451 342.4 1452.1 346.4 1452.8 350.4 1452.9 354.4 1452.8 358.4 1452.3 362.4 1450.5 372.4 1448.3 380.4 1446 386.4 1444 390.4 1441.3 394.4 1439.5 396.5 1437.5 398.4 1435.5 399.9 1434.5 400.4 1431.5 401.6 1429.5 402 1425.5 402.5 1409.5 402.6 1403.5 403.1 1387.5 404.9 1383.5 404.9 1381.5 404.6 1377.5 403.9 1375.5 403.3 1371.5 401.5 1369.5 400.3 1367.5 399.1 1364 396.4 1360 392.4 1358.5 390.4 1356.6 386.4 1356 384.4 1354.7 378.4 1353.5 369.4 1351.7 358.4 1351.3 354.4 1351.3 350.4 1352 346.4 1352.5 344.4 1354.1 340.4 1361.5 326.4 1363.1 322.4 1364.4 318.4 1366.4 308.4Z" fill="#f8f1ed" fill-rule="evenodd"/>
<path d="M1395.5 306.4 1399.5 305.9 1403.5 305.9 1409.5 306.6 1413.5 307.7 1417.5 309.3 1421.5 311.4 1427.5 315.2 1431.5 318.3 1435.5 322.1 1437.5 324.4 1440.3 328.4 1442.4 332.4 1444.2 336.4 1446.4 342.4 1447.4 346.4 1448.1 350.4 1448.4 354.4 1448.2 360.4 1447.6 364.4 1446.5 370.4 1444.8 376.4 1443.2 380.4 1441.2 384.4 1438.6 388.4 1435.5 392.1 1433.5 394 1431.5 395.6 1427.5 397.8 1423.5 399.1 1421.5 399.5 1417.5 400 1409.5 400.5 1393.5 401.8 1387.5 401.7 1383.5 401.1 1379.5 399.9 1375.5 398 1373.1 396.4 1369.5 393.5 1366.5 390.4 1365 388.4 1362.5 384.4 1360.7 380.4 1358.9 374.4 1356.6 362.4 1356 356.4 1356 352.4 1356.5 348.4 1357.5 344.4 1359 340.4 1361.9 334.4 1366.5 326.4 1370.3 320.4 1373.5 316.5 1375.5 314.6 1379.5 311.6 1383.5 309.5 1387.5 308.1 1391.5 307Z" fill="#faeae1" fill-rule="evenodd"/>
<path d="M1392.8 310.4 1397.5 309.6 1401.5 309.4 1405.5 309.5 1409.5 310.2 1413.5 311.2 1417.5 312.8 1421.5 314.8 1425.5 317.3 1429.5 320.3 1431.9 322.4 1433.8 324.4 1437 328.4 1439.4 332.4 1441.3 336.4 1442.8 340.4 1444.5 346.4 1445.2 350.4 1445.5 356.4 1445.3 360.4 1444.5 366.4 1443 372.4 1441.6 376.4 1439.9 380.4 1437.6 384.4 1435.5 387.3 1432.7 390.4 1430.5 392.4 1427.5 394.4 1425.5 395.4 1421.5 396.9 1417.5 397.7 1411.2 398.4 1397.5 399.5 1393.5 399.6 1389.5 399.5 1385.5 398.9 1383.5 398.4 1379.5 396.8 1377.5 395.7 1373.5 392.8 1370.9 390.4 1369.1 388.4 1366.3 384.4 1365.2 382.4 1363.5 378.4 1362.2 374.4 1360.7 368.4 1359.6 362.4 1359.2 358.4 1359.1 354.4 1359.3 350.4 1360.1 346.4 1361.4 342.4 1363.1 338.4 1365.1 334.4 1368.6 328.4 1371.5 324 1374.4 320.4 1377.5 317.4 1379.5 315.9 1383.5 313.5 1387.5 311.8Z" fill="#fbe4d6" fill-rule="evenodd"/>
<path d="M1395.4 312.4 1399.5 311.9 1403.5 311.9 1407.5 312.3 1411.5 313.2 1417.5 315.4 1421.5 317.5 1425.5 320.1 1428.5 322.4 1431.5 325.2 1433.5 327.5 1435.6 330.4 1437.8 334.4 1439.6 338.4 1440.9 342.4 1441.9 346.4 1442.5 350.4 1442.8 354.4 1442.7 358.4 1442.1 364.4 1440.7 370.4 1439.4 374.4 1437.5 378.8 1435.5 382.3 1433.5 385.1 1430.5 388.4 1428.2 390.4 1425.5 392.2 1421.5 394 1419.5 394.7 1415.5 395.6 1410.1 396.4 1403.5 397.1 1397.5 397.4 1393.5 397.4 1389.5 397.1 1386.1 396.4 1383.5 395.6 1380.9 394.4 1377.6 392.4 1375.2 390.4 1371.5 386.4 1369.5 383.5 1367.8 380.4 1366.1 376.4 1364.8 372.4 1362.9 364.4 1362.2 358.4 1362.1 354.4 1362.4 350.4 1363.2 346.4 1364.5 342.4 1366.2 338.4 1368.2 334.4 1371.6 328.4 1374.4 324.4 1376.1 322.4 1378 320.4 1381.5 317.6 1383.5 316.4 1387.5 314.5 1391.5 313.2Z" fill="#fdddcb" fill-rule="evenodd"/>
<path d="M1397.1 314.4 1401.5 314.1 1405.5 314.3 1411.5 315.5 1414.1 316.4 1418.5 318.4 1422 320.4 1425.5 322.9 1429.5 326.4 1431.2 328.4 1433.5 331.7 1435 334.4 1437.5 340.4 1438.7 344.4 1439.5 348.4 1439.9 352.4 1440.1 356.4 1439.8 360.4 1439.3 364.4 1438.4 368.4 1437.1 372.4 1435.4 376.4 1433 380.4 1429.9 384.4 1427.9 386.4 1425.5 388.4 1422.3 390.4 1417.5 392.4 1413.5 393.5 1408.4 394.4 1399.5 395.2 1395.5 395.2 1391.5 394.9 1388.9 394.4 1385.5 393.3 1383.3 392.4 1379.5 390 1377.5 388.3 1373.9 384.4 1371.5 380.9 1370.2 378.4 1368.4 374.4 1367.1 370.4 1366.1 366.4 1365.4 362.4 1365 358.4 1364.9 354.4 1365.3 350.4 1366.2 346.4 1367.5 342.4 1369.3 338.4 1371.5 334.2 1375 328.4 1377.5 324.9 1379.7 322.4 1381.9 320.4 1384.8 318.4 1389.5 316.2 1393.5 315.1Z" fill="#fcd3bc" fill-rule="evenodd"/>
<path d="M1391.5 318.4 1397.5 317 1401.5 316.7 1403.5 316.7 1407.5 317.3 1411.5 318.3 1413.5 319 1417.5 320.9 1420.1 322.4 1423.5 324.8 1427.5 328.4 1429.2 330.4 1431.5 333.7 1433 336.4 1435.3 342.4 1436.4 346.4 1437 350.4 1437.4 354.4 1437.3 358.4 1436.9 362.4 1436.1 366.4 1435.5 368.5 1434 372.4 1432 376.4 1430.7 378.4 1427.5 382.3 1425.5 384.2 1422.7 386.4 1419.5 388.3 1415.5 390 1413.5 390.7 1409.5 391.7 1405.5 392.4 1401.5 392.8 1397.5 392.9 1393.5 392.6 1391.5 392.3 1387.5 391.1 1385.5 390.2 1382.4 388.4 1379.9 386.4 1377.5 384 1375.5 381.5 1373.5 378.5 1372.4 376.4 1370.7 372.4 1369.5 368.8 1368.1 362.4 1367.7 358.4 1367.7 354.4 1368.1 350.4 1368.5 348.4 1370.5 342.4 1372.3 338.4 1374.6 334.4 1377.5 329.9 1380.2 326.4 1383.5 323.1 1385.5 321.5 1387.5 320.2Z" fill="#fac8af" fill-rule="evenodd"/>
<path d="M1397.1 320.4 1399.5 320.1 1403.5 320.1 1406.1 320.4 1409.5 321.1 1413.2 322.4 1415.5 323.4 1419.5 325.6 1421.5 327 1425.5 330.5 1427.5 332.9 1429.5 335.9 1430.9 338.4 1432.5 342.4 1434 348.4 1434.5 352.4 1434.7 356.4 1434.1 362.4 1433.5 365.1 1432.5 368.4 1431.5 370.8 1429.6 374.4 1427.5 377.3 1425.5 379.6 1421.5 383.1 1419.5 384.4 1415.9 386.4 1413.5 387.4 1409.5 388.7 1405.5 389.6 1401.5 390.1 1397.5 390.1 1395.5 390 1391.5 389.3 1389.5 388.7 1387.5 387.8 1385 386.4 1382.3 384.4 1380.2 382.4 1377.5 379.1 1375.7 376.4 1373.7 372.4 1372.9 370.4 1371.7 366.4 1370.8 362.4 1370.4 358.4 1370.4 354.4 1370.9 350.4 1371.4 348.4 1373.5 342.4 1375.5 338.4 1377.5 335 1379.5 332.1 1382.5 328.4 1384.6 326.4 1387.1 324.4 1389.5 322.9 1391.5 322 1393.5 321.3Z" fill="#f8bb9e" fill-rule="evenodd"/>
<path d="M1395.5 324.4 1397.5 324 1401.5 323.6 1403.5 323.7 1407.5 324.3 1409.5 324.8 1413.5 326.2 1417.8 328.4 1421.5 331.1 1423.5 332.9 1425.5 335.3 1427.5 338.3 1428.6 340.4 1429.5 342.6 1430.7 346.4 1431.7 352.4 1431.7 358.4 1431.5 360.4 1430.6 364.4 1429.5 367.4 1428.1 370.4 1425.4 374.4 1423.5 376.5 1421.5 378.4 1418.9 380.4 1415.7 382.4 1411.5 384.4 1409.5 385.1 1405.5 386.2 1403.5 386.6 1399.5 386.9 1397.5 386.9 1393.8 386.4 1391.5 385.8 1387.5 384 1385.5 382.7 1383.5 381 1381.5 379 1379.5 376.4 1377.5 373.2 1376.2 370.4 1375.4 368.4 1374.2 364.4 1373.5 360.5 1373.3 358.4 1373.4 354.4 1373.6 352.4 1373.9 350.4 1375.1 346.4 1377.5 340.9 1379.5 337.5 1381.5 334.6 1383.5 332.1 1385.5 330.1 1387.5 328.3 1389.5 327 1391.5 325.9Z" fill="#f6af8e" fill-rule="evenodd"/>
<path d="M1395.8 328.4 1399.5 327.7 1401.5 327.6 1403.5 327.6 1407.5 328.2 1409.5 328.7 1413.5 330.2 1417.5 332.4 1419.5 333.9 1421.5 335.7 1423.7 338.4 1426 342.4 1427.5 346.2 1428 348.4 1428.6 352.4 1428.7 354.4 1428.5 358.4 1427.5 363 1426.1 366.4 1425 368.4 1423.5 370.6 1421.5 372.9 1417.5 376.3 1413.5 378.8 1410.1 380.4 1407.5 381.4 1403.5 382.5 1399.5 382.9 1397.5 382.9 1393.5 382.2 1391.5 381.6 1389.1 380.4 1385.5 377.8 1383.5 375.8 1381.5 373.1 1379.9 370.4 1378.9 368.4 1377.5 364.4 1377 362.4 1376.5 358.4 1376.5 356.4 1376.8 352.4 1377.8 348.4 1379.3 344.4 1380.4 342.4 1383.5 337.6 1385.5 335.1 1387.5 333.1 1389.5 331.5 1391.5 330.2 1393.5 329.2Z" fill="#f2a17f" fill-rule="evenodd"/>
<path d="M1398.1 332.4 1401.5 331.9 1403.5 331.9 1407.5 332.5 1411.5 333.7 1415.5 335.7 1418.9 338.4 1421.5 341.5 1423.1 344.4 1424.5 348.4 1424.9 350.4 1425.2 354.4 1424.8 358.4 1423.7 362.4 1421.5 366.3 1419.5 368.7 1417.5 370.6 1415.5 372.1 1411.5 374.5 1407.2 376.4 1403.5 377.5 1399.5 378 1395.5 377.7 1393.5 377.2 1391.5 376.4 1389.5 375.3 1387.5 373.7 1384.5 370.4 1383.2 368.4 1382.2 366.4 1380.8 362.4 1380.1 358.4 1380.1 356.4 1380.5 352.4 1381.6 348.4 1383.5 344.3 1386.1 340.4 1387.9 338.4 1390 336.4 1393.5 334.1 1395.5 333.2Z" fill="#eb9172" fill-rule="evenodd"/>
<path d="M1395.9 338.4 1399.5 337.2 1403.5 336.8 1407.5 337.3 1411 338.4 1414.5 340.4 1416.8 342.4 1418.3 344.4 1419.5 346.4 1420.3 348.4 1420.8 350.4 1421.1 354.4 1420.8 356.4 1420.3 358.4 1419.5 360.6 1417.5 363.7 1415.5 365.8 1413.5 367.4 1411.5 368.7 1408 370.4 1403.5 371.8 1399.5 372.3 1397.5 372.2 1395.5 371.8 1393.5 371.1 1391.5 370.1 1389.4 368.4 1387.5 366.2 1385.5 362.4 1384.9 360.4 1384.5 356.4 1384.9 352.4 1385.5 350.4 1386.3 348.4 1387.5 346.1 1390.4 342.4 1393.5 339.8Z" fill="#e48066" fill-rule="evenodd"/>
<path d="M1397.1 344.4 1399.5 343.3 1401.5 342.8 1403.5 342.5 1405.5 342.6 1407.5 343 1409.5 343.8 1411.5 345 1413.5 346.9 1414.5 348.4 1415.3 350.4 1415.5 351.6 1415.6 354.4 1415.1 356.4 1414.2 358.4 1412.8 360.4 1411.5 361.7 1409.5 363.2 1407.5 364.3 1405.5 365 1403.5 365.5 1401.5 365.8 1399.5 365.8 1397.5 365.4 1395.1 364.4 1393.5 363.3 1391.5 360.7 1390.6 358.4 1390.3 356.4 1390.4 354.4 1390.8 352.4 1391.5 350.4 1393.5 347.4 1395.5 345.5Z" fill="#de735c" fill-rule="evenodd"/>
<path d="M1400 406.4 1403.5 405.8 1407.5 405.5 1411.5 405.7 1415.7 406.4 1419.5 408.4 1421.6 410.4 1422.2 412.4 1413.5 412.4 1390.2 412.4 1391.9 410.4 1394.6 408.4Z" fill="#eff3f5" fill-rule="evenodd"/>
</g>
<path d="M1431.2 304.4 1434.1 306.4 1437.5 308.2 1445.5 311.5 1446.8 312.4 1447.5 314.5 1449.2 322.4 1450.3 326.4 1451.7 330.4 1453.5 334.5 1455.5 338.5M1455.5 311.4 1453.5 311.6 1451.5 311.4 1449.5 310.8 1448.9 310.4 1448.2 308.4 1448.1 306.4 1448.4 304.4M1347.5 340.1 1351.5 334.6 1354.1 330.4 1356 326.4 1356.5 324.4 1356.8 322.4 1356.7 320.4 1356.3 318.4 1355.4 316.4 1353.8 314.4 1351.5 312.6 1349.5 311.7 1347.5 311.3M1347.5 373.6 1348 370.4 1347.9 368.4 1347.5 365.6M1455.5 399.2 1453.5 401.4 1451.5 404.4 1449.7 408.4 1449.2 410.4 1449 412.4M1433 412.4 1432.3 410.4 1430.4 408.4 1426.5 406.4 1419.5 404.6 1415.5 404.1 1409.5 403.9 1401.8 404.4 1391.5 406.4 1387.5 407.5 1379.5 409.3 1373.5 410 1369.5 409.9 1367.5 409.6 1355.5 406.4 1351.5 405.8 1347.5 405.6M1397.4 308.4 1401.5 308.1 1405.5 308.3 1409.5 308.9 1413.5 310 1417.5 311.5 1421.5 313.5 1427.5 317.3 1431.3 320.4 1433.5 322.5 1436.9 326.4 1438.3 328.4 1440.6 332.4 1442.5 336.4 1444.6 342.4 1445.6 346.4 1446.3 350.4 1446.6 354.4 1446.5 360.4 1446 364.4 1444.8 370.4 1442.9 376.4 1441.2 380.4 1439 384.4 1436.3 388.4 1433.5 391.4 1431.5 393.2 1429.5 394.6 1425.5 396.7 1423.5 397.4 1419.3 398.4 1415.5 398.9 1407.5 399.6 1393.5 400.6 1387.5 400.3 1383.5 399.5 1379.5 398.1 1376.4 396.4 1373.5 394.4 1371.1 392.4 1367.5 388.4 1364.8 384.4 1362.8 380.4 1361.4 376.4 1360.3 372.4 1359 366.4 1358.1 360.4 1357.8 354.4 1358.1 350.4 1358.8 346.4 1360.1 342.4 1362.8 336.4 1364.9 332.4 1368.5 326.4 1371.5 322 1373.5 319.5 1375.5 317.4 1377.5 315.7 1381.5 313.1 1385.5 311.2 1389.5 309.9 1393.5 308.9ZM1392.8 314.4 1397.5 313.6 1401.5 313.3 1405.5 313.5 1409.5 314.2 1413.5 315.3 1416.2 316.4 1419.5 318 1423.5 320.4 1426.3 322.4 1429.5 325.3 1431.5 327.4 1433.8 330.4 1435.5 333.3 1437 336.4 1438.5 340.4 1439.7 344.4 1440.5 348.4 1440.9 352.4 1441 356.4 1440.6 362.4 1439.9 366.4 1438.8 370.4 1437.4 374.4 1435.5 378.4 1433.5 381.7 1431.4 384.4 1429.5 386.5 1427.5 388.3 1425.5 389.8 1423.5 391 1420.5 392.4 1417.5 393.4 1413.4 394.4 1403.5 395.7 1397.5 396 1393.5 395.9 1389.5 395.5 1387.5 395 1385.5 394.4 1381.5 392.6 1378.3 390.4 1376 388.4 1372.5 384.4 1371.2 382.4 1369 378.4 1367.4 374.4 1366.1 370.4 1364.7 364.4 1364.2 360.4 1363.9 356.4 1364 352.4 1364.6 348.4 1365.1 346.4 1366.5 342.4 1368.2 338.4 1370.3 334.4 1373.5 328.9 1376.6 324.4 1378.3 322.4 1381.5 319.6 1383.5 318.2 1385.5 317.1 1389.5 315.4ZM1393.1 320.4 1395.5 319.7 1399.5 319.1 1401.5 319.1 1405.5 319.3 1409.5 320.1 1411.5 320.8 1415.5 322.4 1419.2 324.4 1421.5 325.9 1424.5 328.4 1426.5 330.4 1428.2 332.4 1429.6 334.4 1431.5 337.9 1432.6 340.4 1433.9 344.4 1434.8 348.4 1435.3 352.4 1435.4 358.4 1434.9 362.4 1434 366.4 1433.4 368.4 1431.7 372.4 1429.5 376.1 1427.8 378.4 1425.5 380.9 1423.5 382.7 1421.3 384.4 1418.1 386.4 1415.5 387.6 1411.5 389.1 1405.5 390.4 1401.5 390.9 1397.5 391 1393.5 390.6 1391.5 390.2 1387.5 388.8 1385.5 387.8 1383.4 386.4 1381 384.4 1379 382.4 1376 378.4 1374.8 376.4 1372.9 372.4 1370.9 366.4 1370.1 362.4 1369.6 358.4 1369.8 352.4 1370.6 348.4 1371.1 346.4 1373.6 340.4 1375.7 336.4 1378.3 332.4 1381.3 328.4 1383.2 326.4 1385.5 324.4 1387.5 323 1389.5 321.9ZM1393.3 328.4 1397.5 327.1 1399.5 326.8 1403.5 326.8 1405.5 327 1409.5 327.9 1413.5 329.3 1417.5 331.5 1419.5 332.9 1421.5 334.7 1423.5 336.9 1425.5 339.8 1427.6 344.4 1428.2 346.4 1429.1 350.4 1429.4 354.4 1429.4 356.4 1428.9 360.4 1428.4 362.4 1427 366.4 1424.7 370.4 1423.1 372.4 1421.2 374.4 1417.5 377.4 1415.5 378.7 1411.5 380.8 1407.5 382.4 1403.5 383.4 1401.5 383.7 1397.5 383.8 1395.5 383.6 1391.5 382.5 1387.5 380.4 1385.5 378.9 1383 376.4 1381.4 374.4 1379.5 371.3 1377.4 366.4 1376.3 362.4 1376 360.4 1375.8 356.4 1375.9 354.4 1376.5 350.4 1377.7 346.4 1379.5 342.5 1380.7 340.4 1383.4 336.4 1385.1 334.4 1387.5 332.1 1389.5 330.5ZM1399.8 336.4 1403.5 336.1 1407.5 336.6 1411.5 337.9 1413.5 338.9 1415.5 340.3 1417.5 342.2 1419.1 344.4 1420.2 346.4 1421.4 350.4 1421.7 354.4 1421.5 356.4 1421 358.4 1419.5 362 1417.8 364.4 1415.5 366.7 1413.3 368.4 1409.5 370.5 1405.5 372.1 1401.5 373 1397.5 373.1 1394.5 372.4 1391.5 371 1389.5 369.5 1386.8 366.4 1385.6 364.4 1384.8 362.4 1383.9 358.4 1383.9 354.4 1384.8 350.4 1385.6 348.4 1387.9 344.4 1389.5 342.3 1391.5 340.4 1393.5 338.9 1395.5 337.8 1397.5 337Z" fill="none" stroke="#222" stroke-opacity="0.58" stroke-width="0.75"/>
<path d="M1390.5 314.4h.01M1401.5 314.4h.01M1412.5 314.4h.01M1368.5 325.4h.01M1379.5 325.4h.01M1390.5 325.4h.01M1401.5 325.4h.01M1412.5 325.4h.01M1423.5 325.4h.01M1434.5 325.4h.01M1368.5 336.4h.01M1379.5 336.4h.01M1390.5 336.4h.01M1401.5 336.4h.01M1412.5 336.4h.01M1423.5 336.4h.01M1434.5 336.4h.01M1357.5 347.4h.01M1368.5 347.4h.01M1379.5 347.4h.01M1390.5 347.4h.01M1401.5 347.4h.01M1412.5 347.4h.01M1423.5 347.4h.01M1434.5 347.4h.01M1445.5 347.4h.01M1357.5 358.4h.01M1368.5 358.4h.01M1379.5 358.4h.01M1390.5 358.4h.01M1401.5 358.4h.01M1412.5 358.4h.01M1423.5 358.4h.01M1434.5 358.4h.01M1445.5 358.4h.01M1357.5 369.4h.01M1368.5 369.4h.01M1379.5 369.4h.01M1390.5 369.4h.01M1401.5 369.4h.01M1412.5 369.4h.01M1423.5 369.4h.01M1434.5 369.4h.01M1445.5 369.4h.01M1368.5 380.4h.01M1379.5 380.4h.01M1390.5 380.4h.01M1401.5 380.4h.01M1412.5 380.4h.01M1423.5 380.4h.01M1434.5 380.4h.01M1368.5 391.4h.01M1379.5 391.4h.01M1390.5 391.4h.01M1401.5 391.4h.01M1412.5 391.4h.01M1423.5 391.4h.01M1434.5 391.4h.01M1390.5 402.4h.01M1401.5 402.4h.01M1412.5 402.4h.01" stroke="#333" stroke-opacity="0.5" stroke-width="1.3" stroke-linecap="round" fill="none"/>
</g>
<mask id="tc32" maskUnits="userSpaceOnUse" x="1345.5" y="434.5" width="112.0" height="112.0"><circle cx="1401.5" cy="490.5" r="53.0" fill="url(#mg)"/></mask>
<circle cx="1401.5" cy="490.5" r="51.5" fill="#fbfafb" filter="url(#gl)"/>
<g mask="url(#tc32)">
<g filter="url(#bl)"><rect x="1346.5" y="435.5" width="110.0" height="110.0" fill="#f7f6f6"/>
<path d="M1377.7 438.5 1383.5 437.5 1392.5 436.5 1416.4 436.5 1419.5 437.4 1423.5 439.1 1425.5 440.3 1428.5 442.5 1431.5 445.1 1438.3 452.5 1443 458.5 1444.4 460.5 1446.6 464.5 1448 468.5 1449 472.5 1449.4 476.5 1449.6 482.5 1449.1 490.5 1448.3 496.5 1447 502.5 1446.4 504.5 1445.6 506.5 1444.6 508.5 1443.2 510.5 1441.2 512.5 1439.5 513.8 1435 516.5 1429.5 519.5 1421.5 523.5 1417.5 525 1413.5 526.1 1409.5 526.8 1403.5 527.1 1399.5 526.9 1393.5 526.1 1389.5 525.4 1383.5 523.7 1379.5 522.3 1375.1 520.5 1371.2 518.5 1367.5 516.2 1363.5 513.1 1361 510.5 1358.2 506.5 1357.1 504.5 1354.4 498.5 1353 494.5 1352 490.5 1351.3 486.5 1351 482.5 1351.1 480.5 1351.7 476.5 1352.7 472.5 1354.8 466.5 1358.5 456.5 1361.3 450.5 1363.5 446.8 1365.5 444.4 1367.5 442.5 1369.5 441.2 1373.5 439.5Z" fill="#f8f1ed" fill-rule="evenodd"/>
<path d="M1387 442.5 1391.5 441.5 1397.5 440.8 1403.5 440.6 1407.5 440.8 1411.5 441.4 1413.5 441.9 1417.5 443.3 1421.5 445.2 1425.5 447.8 1429.5 451.1 1432.9 454.5 1436.4 458.5 1440.5 464.5 1442.5 468.5 1443.9 472.5 1444.8 476.5 1445.3 480.5 1445.5 484.5 1445.3 488.5 1444.9 492.5 1444.1 496.5 1442.9 500.5 1441.2 504.5 1439.5 507.1 1437.5 509.4 1434 512.5 1431.3 514.5 1425.5 518.3 1421.5 520.5 1417.5 522.3 1413.5 523.6 1409.5 524.4 1405.5 524.8 1401.5 524.8 1395.5 524.2 1391.5 523.5 1385.5 521.9 1381.5 520.4 1377.5 518.6 1374 516.5 1371.2 514.5 1368.9 512.5 1366.9 510.5 1365.3 508.5 1362.6 504.5 1360.6 500.5 1359.1 496.5 1357.9 492.5 1357.2 488.5 1356.8 484.5 1356.9 480.5 1357.8 474.5 1358.8 470.5 1361 464.5 1362.8 460.5 1365.1 456.5 1366.5 454.5 1369.5 451.1 1371.5 449.3 1373.5 447.9 1377.5 445.6 1383.5 443.3Z" fill="#faeae1" fill-rule="evenodd"/>
<path d="M1390.5 444.5 1395.5 443.7 1399.5 443.3 1403.5 443.3 1407.5 443.7 1411.5 444.5 1415.5 445.7 1419.5 447.5 1421.2 448.5 1424.2 450.5 1427.5 453.2 1430.8 456.5 1434.2 460.5 1437 464.5 1438.2 466.5 1440 470.5 1441.3 474.5 1442.1 478.5 1442.5 482.5 1442.4 486.5 1442.1 490.5 1441.3 494.5 1440.1 498.5 1439.3 500.5 1437.5 503.8 1435.5 506.5 1433.7 508.5 1429.5 512.1 1426.3 514.5 1423.3 516.5 1419.5 518.7 1415.5 520.5 1411.5 521.8 1407.5 522.5 1403.5 522.7 1399.5 522.6 1395.5 522.1 1391.5 521.4 1387.5 520.3 1383.5 518.8 1379.5 516.9 1375.7 514.5 1373.5 512.7 1371.1 510.5 1369.4 508.5 1366.6 504.5 1365.5 502.5 1363.7 498.5 1362.3 494.5 1361 488.5 1360.5 484.5 1360.5 480.5 1360.8 476.5 1361.5 472.5 1362.6 468.5 1364.1 464.5 1366.1 460.5 1368.7 456.5 1370.5 454.5 1373.5 451.7 1375.5 450.3 1377.5 449 1381.5 447.1 1385.5 445.7Z" fill="#fbe4d6" fill-rule="evenodd"/>
<path d="M1391.5 446.5 1395.5 445.9 1399.5 445.6 1403.5 445.6 1407.5 446 1409.9 446.5 1413.5 447.5 1415.9 448.5 1419.5 450.4 1422.7 452.5 1425.1 454.5 1429.1 458.5 1431.5 461.4 1433.7 464.5 1436 468.5 1436.9 470.5 1438.3 474.5 1439.5 480.5 1439.7 484.5 1439.5 488.5 1438.4 494.5 1437 498.5 1435.5 501.5 1433.5 504.4 1431.5 506.6 1427.5 510.3 1424.7 512.5 1421.5 514.7 1417.5 517 1414.2 518.5 1411.5 519.4 1409.5 519.9 1405.5 520.5 1401.5 520.6 1397.5 520.3 1393.5 519.7 1389.5 518.7 1385.5 517.3 1381.5 515.4 1377.5 512.8 1375.5 511.2 1372.8 508.5 1371.2 506.5 1368.7 502.5 1367.7 500.5 1366.8 498.5 1365.5 494.5 1364.5 490.5 1364 486.5 1363.8 482.5 1363.8 478.5 1364.5 472.5 1365.4 468.5 1366.8 464.5 1367.8 462.5 1369.5 459.5 1371.8 456.5 1373.9 454.5 1377.5 451.7 1379.6 450.5 1383.5 448.7 1387.5 447.4Z" fill="#fdddcb" fill-rule="evenodd"/>
<path d="M1392.3 448.5 1395.5 448 1399.5 447.8 1403.5 447.9 1407.5 448.4 1409.5 448.8 1413.5 450.2 1418 452.5 1420.8 454.5 1423.5 456.8 1427.1 460.5 1429.5 463.4 1431.7 466.5 1433.9 470.5 1434.8 472.5 1436.1 476.5 1436.5 478.5 1437 482.5 1436.9 488.5 1436.2 492.5 1435.7 494.5 1434 498.5 1432.9 500.5 1431.5 502.5 1429.5 504.9 1427.5 506.8 1423.5 510.2 1417.5 514.2 1413.5 516.2 1411.5 516.9 1409.5 517.5 1405.5 518.3 1401.5 518.5 1397.5 518.3 1393.5 517.6 1389.5 516.6 1385.5 515 1383.5 514 1380.9 512.5 1378.3 510.5 1376.1 508.5 1374.3 506.5 1372.8 504.5 1370.5 500.5 1368.9 496.5 1368.3 494.5 1367.4 490.5 1366.9 486.5 1366.7 482.5 1366.8 478.5 1367.2 474.5 1367.9 470.5 1369 466.5 1370.6 462.5 1371.7 460.5 1373.2 458.5 1375 456.5 1377.3 454.5 1379.5 453.1 1381.5 452 1385.5 450.3Z" fill="#fcd3bc" fill-rule="evenodd"/>
<path d="M1397.4 450.5 1403.5 450.6 1407.5 451.3 1409.5 451.9 1411.5 452.6 1415.5 454.5 1419.5 457.3 1423.2 460.5 1425.1 462.5 1427.5 465.3 1429.5 468.2 1431.8 472.5 1433.3 476.5 1433.8 478.5 1434.2 480.5 1434.5 484.5 1434.3 488.5 1434 490.5 1433.5 492.6 1432 496.5 1429.7 500.5 1428 502.5 1425.5 505.1 1423.5 506.9 1419.5 509.9 1415.4 512.5 1411.5 514.3 1409.5 515 1407.5 515.6 1403.5 516.2 1399.5 516.2 1395.5 515.8 1391.5 515 1389.5 514.3 1385.5 512.6 1383.5 511.5 1379.5 508.6 1377.5 506.6 1375.7 504.5 1374.4 502.5 1373.2 500.5 1371.6 496.5 1370.1 490.5 1369.6 486.5 1369.5 482.5 1369.8 476.5 1370.4 472.5 1371.4 468.5 1372.1 466.5 1373.5 463.3 1375.2 460.5 1376.9 458.5 1379.1 456.5 1381.5 454.9 1383.5 453.8 1386.8 452.5 1389.5 451.7 1393.5 450.9Z" fill="#fac8af" fill-rule="evenodd"/>
<path d="M1390.3 454.5 1395.5 453.6 1401.5 453.5 1405.5 454.1 1407.5 454.5 1412.5 456.5 1415.5 458.2 1417.5 459.6 1421 462.5 1423 464.5 1425.5 467.4 1427.5 470.3 1429.7 474.5 1431.1 478.5 1431.5 480.5 1431.9 484.5 1431.6 488.5 1431.2 490.5 1429.9 494.5 1427.7 498.5 1424.2 502.5 1419.5 506.6 1416.8 508.5 1413.5 510.5 1408.9 512.5 1405.5 513.4 1403.5 513.7 1401.5 513.9 1397.5 513.8 1393.5 513.2 1391.5 512.7 1389.5 512 1386.2 510.5 1383.5 508.8 1381.5 507.3 1379.5 505.4 1377.5 502.9 1376 500.5 1375 498.5 1374.2 496.5 1373.1 492.5 1372.4 488.5 1372.2 484.5 1372.3 480.5 1372.7 476.5 1373.4 472.5 1374.5 468.5 1376.3 464.5 1377.6 462.5 1379.5 460.3 1381.5 458.5 1384.8 456.5 1387.5 455.3Z" fill="#f8bb9e" fill-rule="evenodd"/>
<path d="M1388.3 458.5 1391.5 457.5 1393.5 457.1 1395.5 456.8 1399.5 456.7 1403.5 457.1 1405.5 457.5 1409.5 458.9 1412.8 460.5 1415.5 462.2 1419.5 465.4 1421.5 467.4 1423.5 469.8 1425.4 472.5 1426.4 474.5 1428 478.5 1428.8 482.5 1428.9 484.5 1428.6 488.5 1427.5 492.5 1425.4 496.5 1423.9 498.5 1422 500.5 1417.4 504.5 1414.5 506.5 1411.5 508.3 1409.5 509.2 1406 510.5 1401.5 511.3 1399.5 511.4 1395.5 511.1 1391.5 510.2 1387.5 508.6 1383.5 505.9 1382 504.5 1380.2 502.5 1378.8 500.5 1377.7 498.5 1376.9 496.5 1375.7 492.5 1375.3 490.5 1375 486.5 1375 482.5 1375.4 478.5 1376.5 472.5 1377.5 469.5 1378.9 466.5 1381.5 463 1384.5 460.5Z" fill="#f6af8e" fill-rule="evenodd"/>
<path d="M1396.3 460.5 1399.5 460.5 1401.5 460.6 1405.5 461.5 1409.5 463 1413.5 465.2 1417.5 468.3 1419.5 470.3 1421.3 472.5 1423.7 476.5 1425.1 480.5 1425.6 484.5 1425.5 486.5 1425.1 488.5 1423.7 492.5 1422.6 494.5 1421.1 496.5 1419.5 498.3 1417.1 500.5 1411.6 504.5 1407.5 506.7 1403.5 508.1 1401.5 508.5 1397.5 508.6 1393.5 508.1 1389.5 506.7 1387.5 505.6 1385.5 504.2 1383.6 502.5 1382 500.5 1380.7 498.5 1379.7 496.5 1378.5 492.5 1378.1 490.5 1377.8 486.5 1378.2 480.5 1379.4 474.5 1380.1 472.5 1381.5 469.4 1383.5 466.4 1385.5 464.5 1387.5 463.1 1389.5 462.1 1391.5 461.4 1393.5 460.9Z" fill="#f2a17f" fill-rule="evenodd"/>
<path d="M1390.7 466.5 1393.5 465.5 1395.5 465.1 1399.5 464.9 1403.5 465.5 1407.5 466.8 1411.5 469 1413.5 470.4 1415.5 472.1 1417.7 474.5 1419.1 476.5 1420.1 478.5 1420.9 480.5 1421.3 482.5 1421.5 484.5 1421.3 486.5 1420.9 488.5 1420.1 490.5 1419.1 492.5 1417.6 494.5 1415.8 496.5 1411.5 500.2 1408.1 502.5 1405.5 503.8 1403.5 504.6 1401.5 505.1 1397.5 505.5 1393.5 505 1391.5 504.4 1389.5 503.4 1387.5 502.1 1385.5 500.2 1384.2 498.5 1383 496.5 1381.5 492.5 1380.9 488.5 1381 484.5 1381.5 480.7 1382 478.5 1383.5 474.3 1385.5 470.8 1387.6 468.5 1389.5 467.1Z" fill="#eb9172" fill-rule="evenodd"/>
<path d="M1395.3 470.5 1397.5 470.2 1401.5 470.3 1403.5 470.8 1407.5 472.3 1410.7 474.5 1412.9 476.5 1414.4 478.5 1415.4 480.5 1416 482.5 1416.2 484.5 1416 486.5 1415.5 488.5 1414.5 490.5 1413.2 492.5 1411.5 494.6 1409.5 496.5 1405.5 499.4 1403.3 500.5 1399.5 501.6 1397.5 501.8 1395.5 501.7 1393.5 501.3 1391.4 500.5 1388.7 498.5 1387 496.5 1385.5 493.6 1384.7 490.5 1384.4 486.5 1385 482.5 1385.5 480.5 1386.3 478.5 1387.5 476.3 1389.5 473.7 1391.5 472.1 1393.5 471.1Z" fill="#e48066" fill-rule="evenodd"/>
<path d="M1398.3 476.5 1399.5 476.4 1401.5 476.7 1403.5 477.3 1405.6 478.5 1407.7 480.5 1408.8 482.5 1409.3 484.5 1409.2 486.5 1408.7 488.5 1407.7 490.5 1406.1 492.5 1403.5 494.8 1401.5 495.9 1399.5 496.6 1397.5 496.9 1395.5 496.8 1393.5 496.1 1391.5 494.7 1390 492.5 1389.5 491.3 1389 488.5 1389 486.5 1389.4 484.5 1390.1 482.5 1391.5 480.1 1393.5 478.2 1395.5 477.1Z" fill="#de735c" fill-rule="evenodd"/>
<path d="M1363.5 522.5 1365.5 522.2 1367.5 522.2 1369.5 522.5 1385.5 527 1393.5 528.6 1399.5 529.4 1405.5 529.6 1411.5 529.2 1415.5 528.5 1421.5 526.8 1429.5 523.7 1433.5 522.4 1435.5 522.2 1437.5 522.3 1439.5 523 1449.5 529.4 1455.5 532.7 1455.5 544.5 1447.5 544.5 1353.2 544.5 1350.2 542.5 1347.5 540.3 1347.5 532.5 1352.5 528.5 1355.5 526.5 1357.5 525.4Z" fill="#eff3f5" fill-rule="evenodd"/>
<path d="M1375.4 530.5 1377.5 529.9 1381.5 530 1385.6 530.5 1393.5 531.9 1403.5 532.8 1409.5 532.8 1421.5 532.1 1423.7 532.5 1423.6 534.5 1421.5 536.4 1417.6 538.5 1415.5 539.3 1409.5 540.7 1405.5 541.2 1401.5 541.3 1397.5 541.2 1391.5 540.6 1383.5 539.2 1379.5 537.8 1377.5 536.6 1375.4 534.5 1374.6 532.5Z" fill="#e6eff4" fill-rule="evenodd"/>
</g>
<path d="M1347.5 460.6 1349.4 456.5 1350 452.5 1350 450.5 1349.5 447.9 1347.5 445.7M1455.5 483.4 1453.5 492 1453 496.5 1452.9 500.5 1453 502.5 1453.5 505 1454.6 506.5 1455.5 507.3M1455.5 521.4 1453.5 520.7 1449.5 518.2 1447.5 517.2 1445.5 516.9 1443.5 516.9 1439.5 517.6 1435.5 518.9 1421.5 525.1 1417.5 526.5 1413.5 527.5 1409.5 528 1403.5 528.3 1399.5 528.1 1393.5 527.4 1385.5 525.6 1379.5 523.8 1370.9 520.5 1362.3 516.5 1354.7 512.5 1351.8 510.5 1349.8 508.5 1348.5 506.5 1347.5 504.3M1396.5 442.5 1399.5 442.2 1403.5 442.2 1407.5 442.5 1411.5 443.2 1415.5 444.4 1419.5 446.1 1421.5 447.2 1425.5 450 1429.5 453.4 1432.5 456.5 1435.7 460.5 1438.5 464.5 1440.6 468.5 1442.1 472.5 1443.4 478.5 1443.8 482.5 1443.8 486.5 1443.4 490.5 1442.7 494.5 1440.9 500.5 1438.8 504.5 1437.4 506.5 1435.5 508.7 1431.2 512.5 1427.5 515.2 1422.2 518.5 1419.5 520 1415.5 521.7 1411.5 522.8 1407.5 523.5 1403.5 523.7 1399.5 523.5 1395.5 523.1 1389.5 521.8 1385.5 520.6 1381.5 519 1377.5 517 1373.8 514.5 1371.4 512.5 1369.4 510.5 1367.7 508.5 1364.9 504.5 1362.9 500.5 1361.3 496.5 1360.1 492.5 1359.3 488.5 1358.9 484.5 1358.9 480.5 1359.4 476.5 1360.7 470.5 1362.8 464.5 1364.7 460.5 1367.2 456.5 1368.8 454.5 1371.5 451.8 1373.5 450.2 1377.5 447.6 1379.5 446.7 1383.5 445.1 1387.5 444 1391.5 443.1ZM1388.3 448.5 1391.5 447.8 1395.5 447.2 1399.5 446.9 1403.5 446.9 1407.5 447.4 1411.5 448.3 1416.7 450.5 1420 452.5 1422.6 454.5 1427.5 459.2 1430.2 462.5 1433 466.5 1434.1 468.5 1435.9 472.5 1436.6 474.5 1437.6 478.5 1438.1 482.5 1438.1 486.5 1437.3 492.5 1436.1 496.5 1435.2 498.5 1433.5 501.6 1431.5 504.2 1427.5 508.2 1421.5 512.9 1419 514.5 1415.2 516.5 1411.5 517.9 1409.5 518.5 1405.5 519.2 1401.5 519.3 1397.5 519.1 1393.7 518.5 1387.5 516.7 1383.5 515 1381.5 513.9 1377.5 511 1375.5 509.2 1373.1 506.5 1371.7 504.5 1370.4 502.5 1368.5 498.5 1367.2 494.5 1366.3 490.5 1365.8 486.5 1365.6 482.5 1365.8 476.5 1366.3 472.5 1367.2 468.5 1368.5 464.5 1369.5 462.3 1372 458.5 1373.7 456.5 1375.9 454.5 1378.7 452.5 1381.5 451 1385.5 449.4ZM1395.8 452.5 1401.5 452.4 1405.5 452.9 1407.5 453.4 1410.8 454.5 1413.5 455.7 1417.9 458.5 1420.4 460.5 1423.5 463.5 1425.5 465.8 1427.6 468.5 1429.5 471.8 1430.8 474.5 1431.5 476.5 1432.5 480.5 1432.8 484.5 1432.8 486.5 1432.2 490.5 1431.5 493.1 1430 496.5 1427.4 500.5 1425.5 502.6 1421.5 506.3 1418.5 508.5 1415.5 510.5 1411.5 512.5 1407.5 513.9 1405.5 514.3 1403.5 514.6 1399.5 514.8 1396.4 514.5 1393.5 514 1388.6 512.5 1385.5 511 1383.5 509.8 1381.5 508.3 1379.4 506.5 1377.5 504.3 1375.5 501.4 1374 498.5 1373.3 496.5 1372.6 494.5 1371.8 490.5 1371.3 486.5 1371.3 482.5 1371.5 478.5 1372 474.5 1372.8 470.5 1373.5 468.2 1375.1 464.5 1376.3 462.5 1377.8 460.5 1379.5 458.7 1381.5 457.2 1383.5 456 1386.7 454.5 1389.5 453.6 1393.5 452.8ZM1390.3 460.5 1393.5 459.7 1395.5 459.4 1399.5 459.3 1401.5 459.4 1405.5 460.2 1409.5 461.7 1411.5 462.7 1414.5 464.5 1417.1 466.5 1419.3 468.5 1422.6 472.5 1424.8 476.5 1425.6 478.5 1426.2 480.5 1426.6 484.5 1426.2 488.5 1425.7 490.5 1424.9 492.5 1423.9 494.5 1422.5 496.5 1419.5 499.7 1415.5 503.1 1410.2 506.5 1405.5 508.5 1401.5 509.3 1399.5 509.5 1395.5 509.3 1391.5 508.4 1387.4 506.5 1385.5 505.2 1383.5 503.5 1381 500.5 1379.8 498.5 1378.9 496.5 1377.6 492.5 1377.2 490.5 1376.9 486.5 1377 482.5 1377.5 478.5 1378.9 472.5 1380.7 468.5 1382 466.5 1383.5 464.7 1386.2 462.5 1387.5 461.7ZM1391.4 470.5 1393.5 469.6 1395.5 469 1397.5 468.7 1401.5 468.9 1405.5 470 1409.5 472 1411.5 473.4 1412.8 474.5 1414.7 476.5 1416 478.5 1416.9 480.5 1417.5 482.5 1417.6 484.5 1417.5 486.2 1416.9 488.5 1415.5 491.4 1413.2 494.5 1411.2 496.5 1407.5 499.4 1405.5 500.6 1401.5 502.2 1399.5 502.7 1397.5 502.8 1395.5 502.7 1393.5 502.3 1391.5 501.6 1389.5 500.5 1387.3 498.5 1385.5 495.9 1384.1 492.5 1383.7 490.5 1383.5 486.5 1384 482.5 1385.5 477.6 1387.2 474.5 1389.5 471.9Z" fill="none" stroke="#222" stroke-opacity="0.58" stroke-width="0.75"/>
<path d="M1390.5 446.5h.01M1401.5 446.5h.01M1412.5 446.5h.01M1368.5 457.5h.01M1379.5 457.5h.01M1390.5 457.5h.01M1401.5 457.5h.01M1412.5 457.5h.01M1423.5 457.5h.01M1434.5 457.5h.01M1368.5 468.5h.01M1379.5 468.5h.01M1390.5 468.5h.01M1401.5 468.5h.01M1412.5 468.5h.01M1423.5 468.5h.01M1434.5 468.5h.01M1357.5 479.5h.01M1368.5 479.5h.01M1379.5 479.5h.01M1390.5 479.5h.01M1401.5 479.5h.01M1412.5 479.5h.01M1423.5 479.5h.01M1434.5 479.5h.01M1445.5 479.5h.01M1357.5 490.5h.01M1368.5 490.5h.01M1379.5 490.5h.01M1390.5 490.5h.01M1401.5 490.5h.01M1412.5 490.5h.01M1423.5 490.5h.01M1434.5 490.5h.01M1445.5 490.5h.01M1357.5 501.5h.01M1368.5 501.5h.01M1379.5 501.5h.01M1390.5 501.5h.01M1401.5 501.5h.01M1412.5 501.5h.01M1423.5 501.5h.01M1434.5 501.5h.01M1445.5 501.5h.01M1368.5 512.5h.01M1379.5 512.5h.01M1390.5 512.5h.01M1401.5 512.5h.01M1412.5 512.5h.01M1423.5 512.5h.01M1434.5 512.5h.01M1368.5 523.5h.01M1379.5 523.5h.01M1390.5 523.5h.01M1401.5 523.5h.01M1412.5 523.5h.01M1423.5 523.5h.01M1434.5 523.5h.01M1390.5 534.5h.01M1401.5 534.5h.01M1412.5 534.5h.01" stroke="#333" stroke-opacity="0.5" stroke-width="1.3" stroke-linecap="round" fill="none"/>
</g>
<mask id="tc03" maskUnits="userSpaceOnUse" x="1505.5" y="37.7" width="112.0" height="112.0"><circle cx="1561.5" cy="93.7" r="53.0" fill="url(#mg)"/></mask>
<circle cx="1561.5" cy="93.7" r="51.5" fill="#fbfafb" filter="url(#gl)"/>
<g mask="url(#tc03)">
<g filter="url(#bl)"><rect x="1506.5" y="38.7" width="110.0" height="110.0" fill="#f7f6f6"/>
<path d="M1507.5 39.7 1615.5 39.7 1615.5 56.3 1613.5 55.4 1611.5 54.8 1609.5 54.6 1607.5 54.8 1605.5 55.3 1603.5 56.2 1601.5 57.7 1599.5 60.9 1597.5 65.7 1596.1 69.7 1595.1 73.7 1594.5 79.7 1594.9 85.7 1596.1 91.7 1597.5 95.7 1598.4 97.7 1599.5 99.7 1601.5 102.3 1603.5 104.2 1607.5 106.8 1611.5 108.5 1613.5 108 1615.5 106.4 1615.5 141.7 1615.5 147.7 1507.5 147.7 1507.5 110.4 1509.5 112.2 1511.5 113.4 1513.5 113.7 1515.5 112.7 1517.5 110.4 1519.5 106.6 1521.8 99.7 1523.9 89.7 1524.8 83.7 1525 79.7 1524.9 75.7 1523.3 59.7 1523 57.7 1522.4 55.7 1521.5 54 1519.5 51.2 1517.5 49.4 1515.5 48.4 1513.5 47.9 1511.5 47.9 1509.5 48.3 1507.5 49.2Z" fill="#f8f1ed" fill-rule="evenodd"/>
<path d="M1555.8 45.7 1561.5 45.3 1565.5 45.7 1569.5 46.3 1575.5 48.1 1581.5 50.5 1585.5 52.6 1587.5 53.9 1589.5 55.5 1591.3 57.7 1592.3 59.7 1592.8 61.7 1592.9 63.7 1592 71.7 1591.8 75.7 1592 81.7 1592.6 87.7 1593.8 93.7 1595.5 99.9 1597.5 105.4 1600.2 111.7 1600.6 113.7 1600.7 115.7 1600.5 117.7 1599.3 121.7 1598.4 123.7 1597.2 125.7 1595.7 127.7 1593.9 129.7 1589.2 133.7 1581.5 138.8 1575.5 142.3 1571.5 144.2 1567.5 145.9 1565.5 146.8 1562.7 147.7 1547.3 147.7 1545.5 146.4 1539.5 140.5 1537.5 138.1 1534.2 133.7 1530.6 127.7 1528.4 123.7 1526.6 119.7 1525.6 115.7 1525.4 109.7 1525.8 103.7 1529.4 79.7 1530.3 63.7 1530.8 61.7 1531.6 59.7 1533.5 56.6 1535.5 54.5 1537.5 52.8 1541.5 50.3 1545.5 48.4 1549.5 47 1553.5 46Z" fill="#faeae1" fill-rule="evenodd"/>
<path d="M1551.8 51.7 1555.5 50.8 1557.5 50.5 1561.5 50.4 1563.5 50.5 1569.5 51.6 1575.1 53.7 1579.5 56.1 1581.8 57.7 1583.9 59.7 1585.4 61.7 1586.5 63.7 1587.5 67.1 1588.3 71.7 1590 87.7 1593.3 107.7 1593.6 113.7 1593.3 117.7 1592.9 119.7 1592.3 121.7 1591.4 123.7 1590.1 125.7 1588.5 127.7 1586.5 129.7 1583.5 132.2 1578.6 135.7 1575.2 137.7 1571.2 139.7 1567.5 141.1 1563.5 142.2 1561.5 142.5 1557.5 142.7 1553.5 142.3 1551.5 141.7 1549.5 141.1 1545.5 139 1543.5 137.5 1541.5 135.7 1539.5 133.4 1537 129.7 1536 127.7 1532.7 119.7 1531.3 115.7 1530.3 111.7 1529.6 105.7 1529.6 101.7 1530 97.7 1530.9 91.7 1534.2 73.7 1535 69.7 1536.2 65.7 1538.1 61.7 1539.5 59.7 1541.3 57.7 1543.6 55.7 1546.9 53.7Z" fill="#fbe4d6" fill-rule="evenodd"/>
<path d="M1551.9 57.7 1555.5 56.5 1557.5 56.1 1559.5 55.9 1563.5 56.1 1567.5 56.9 1569.5 57.5 1574.1 59.7 1577.5 62 1579.5 63.8 1581.5 66.3 1583.4 69.7 1584.2 71.7 1585.7 77.7 1588.2 93.7 1589.2 103.7 1589.2 107.7 1588.9 111.7 1588.2 115.7 1587.6 117.7 1585.9 121.7 1584.7 123.7 1583.2 125.7 1579.5 129.7 1574.7 133.7 1571.6 135.7 1567.5 137.6 1565.5 138.3 1561.5 139.1 1557.5 139.3 1553.5 138.7 1551.5 138.1 1549.5 137.3 1546.9 135.7 1544.6 133.7 1543.5 132.4 1541.5 129.1 1536.2 117.7 1534.8 113.7 1533.7 109.7 1533 105.7 1532.9 103.7 1533 99.7 1533.4 95.7 1534.3 89.7 1536 81.7 1537.5 75.8 1538.8 71.7 1540.7 67.7 1541.9 65.7 1543.5 63.6 1545.5 61.6 1547.5 60.1 1549.5 58.8Z" fill="#fdddcb" fill-rule="evenodd"/>
<path d="M1555.9 61.7 1559.5 61.1 1561.5 61.1 1565.5 61.6 1567.5 62.2 1571.5 63.9 1574.2 65.7 1576.5 67.7 1578.2 69.7 1579.5 71.6 1581.5 75.8 1582.7 79.7 1583.5 83.1 1584.9 91.7 1585.6 99.7 1585.5 106.2 1584.7 111.7 1583.5 115.5 1582.5 117.7 1580.1 121.7 1576.6 125.7 1571.5 130 1569.1 131.7 1565.6 133.7 1561.5 135.2 1559.5 135.6 1557.5 135.6 1555.5 135.3 1553.5 134.7 1551.3 133.7 1549.5 132.3 1547.5 130.2 1545.5 127.5 1541.5 120.4 1539.3 115.7 1537.8 111.7 1537.2 109.7 1536.4 105.7 1536.2 103.7 1536.2 99.7 1536.5 95.7 1537.1 91.7 1539.3 81.7 1541.5 75.2 1543.2 71.7 1544.5 69.7 1545.5 68.3 1547.5 66.2 1549.5 64.6 1551.5 63.4 1553.5 62.5Z" fill="#fcd3bc" fill-rule="evenodd"/>
<path d="M1554 67.7 1557.5 66.6 1559.5 66.3 1563.5 66.5 1567.5 67.6 1571.3 69.7 1573.7 71.7 1575.5 73.7 1576.8 75.7 1578.7 79.7 1579.5 82 1580.4 85.7 1581.5 92.1 1581.9 99.7 1581.5 105.5 1580.6 109.7 1579.1 113.7 1577.5 116.5 1575.5 119.2 1571.5 123.1 1567.5 126.1 1563.5 128.2 1561.5 128.9 1559.5 129.3 1557.5 129.3 1555.5 128.9 1553.5 128.1 1551.5 126.8 1549.5 124.9 1548.5 123.7 1545.5 119.3 1542.6 113.7 1541.5 110.9 1540.5 107.7 1539.8 103.7 1539.6 101.7 1539.9 95.7 1541.3 87.7 1543 81.7 1543.7 79.7 1545.5 75.9 1547.5 72.8 1549.5 70.6 1550.6 69.7Z" fill="#fac8af" fill-rule="evenodd"/>
<path d="M1554.9 73.7 1557.5 72.7 1559.5 72.4 1561.5 72.4 1563.5 72.7 1565.5 73.3 1567.5 74.2 1569.5 75.6 1571.5 77.5 1573.1 79.7 1574.2 81.7 1575.7 85.7 1576.8 91.7 1577 95.7 1576.9 99.7 1576.6 101.7 1575.7 105.7 1573.8 109.7 1571.5 113 1568.9 115.7 1565.5 118.3 1563.2 119.7 1561.5 120.4 1559.5 120.9 1557.5 120.9 1555.5 120.5 1553.5 119.5 1551.4 117.7 1549.5 115.5 1548.4 113.7 1546.3 109.7 1545.5 107.9 1544.9 105.7 1544.1 101.7 1544 97.7 1544.4 93.7 1545.5 87.7 1547.5 82.1 1549.5 78.5 1551.5 76.1 1553.5 74.5Z" fill="#f8bb9e" fill-rule="evenodd"/>
<path d="M1556.2 85.7 1557.5 84.6 1559.5 83.9 1561.5 84.3 1563.5 85.8 1564.3 87.7 1564.4 89.7 1563.7 91.7 1561.5 93.9 1559.5 95.1 1557.5 96 1555.5 95.9 1555.3 95.7 1554.2 93.7 1553.9 91.7 1554.2 89.7 1554.9 87.7 1555.5 86.5Z" fill="#f6af8e" fill-rule="evenodd"/>
<path d="M1606.4 65.7 1607.5 65.5 1609.5 65.5 1611.5 66.3 1613.5 67.9 1615.5 71.1 1615.5 90 1613.6 93.7 1612.1 95.7 1609.5 97.9 1607.5 98.7 1605.5 98.6 1603.5 97.7 1601.5 95.8 1600.1 93.7 1599.1 91.7 1597.9 87.7 1597.5 85.7 1597.1 81.7 1597.3 77.7 1597.7 75.7 1598.2 73.7 1599.5 70.7 1601.5 68.1 1603.5 66.6 1605.5 65.8Z" fill="#eff3f5" fill-rule="evenodd"/>
<path d="M1602.5 73.7 1603.5 72.8 1605.5 72.4 1607.5 73 1609.5 74.7 1610.3 75.7 1611.2 77.7 1611.7 79.7 1611.9 81.7 1611.8 83.7 1611.6 85.7 1611 87.7 1609.5 90.8 1607.5 92.6 1605.5 93 1603.5 92 1601.5 89.1 1600.4 85.7 1600 83.7 1600 79.7 1600.3 77.7 1601 75.7 1601.5 74.7Z" fill="#e6eff4" fill-rule="evenodd"/>
<path d="M1604.6 81.7 1605.5 80.8 1606 81.7 1606.1 83.7 1605.5 84.9 1604.7 83.7Z" fill="#ddebf2" fill-rule="evenodd"/>
</g>
<path d="M1603.5 72.8 1601.5 74.7 1600.3 77.7 1600 79.7 1599.9 81.7 1600.4 85.7 1601.5 89.1 1603.5 92 1605.5 93 1607.5 92.6 1608.7 91.7 1610.2 89.7 1611 87.7 1611.6 85.7 1611.9 81.7 1611.7 79.7 1611.2 77.7 1610.3 75.7 1609.5 74.7 1607.5 73 1605.5 72.4ZM1513.5 63.6 1511.5 65.8 1510.9 69.7 1510.9 81.7 1510.4 91.7 1510.5 95.7 1510.8 97.7 1511.5 100 1512.8 101.7 1513.5 102.3 1515.5 102.3 1517.5 100.5 1519.5 96.4 1521.5 88.1 1522 81.7 1521.8 77.7 1521.1 73.7 1519.5 68.8 1517.5 65.5 1515.5 63.8ZM1615.5 63.8 1613.5 62.1 1611.5 61.1 1609.5 60.7 1607.5 60.8 1605.5 61.4 1603.5 62.4 1601.5 64.2 1599.5 66.7 1598 69.7 1597.2 71.7 1596.2 75.7 1596 77.7 1595.8 81.7 1596.5 87.7 1597.5 91.5 1598.4 93.7 1599.5 96.1 1600.6 97.7 1601.5 98.9 1603.5 100.7 1605.5 101.6 1607.5 102 1609.5 101.8 1611.5 101 1613.3 99.7 1615.5 97.2M1547.3 147.7 1545.5 146.4 1543.5 144.6 1539.5 140.5 1537.5 138.1 1534.2 133.7 1530.6 127.7 1528.4 123.7 1526.6 119.7 1526 117.7 1525.6 115.7 1525.4 111.7 1525.6 105.7 1526.3 99.7 1528.6 85.7 1529.4 79.7 1530.3 63.7 1530.8 61.7 1531.6 59.7 1533.5 56.6 1536.4 53.7 1539.5 51.5 1543.5 49.3 1549.5 47 1555.5 45.7 1561.5 45.3 1565.5 45.7 1569.5 46.3 1573.5 47.4 1577.5 48.8 1583.5 51.5 1587.2 53.7 1589.7 55.7 1591.5 58 1592.3 59.7 1592.8 61.7 1592.9 63.7 1592 71.7 1591.8 75.7 1592 81.7 1592.6 87.7 1593.5 92.4 1594.9 97.7 1597.5 105.4 1600.2 111.7 1600.6 113.7 1600.7 115.7 1600.5 117.7 1600 119.7 1598.4 123.7 1595.7 127.7 1593.9 129.7 1591.7 131.7 1585.5 136.3 1577.5 141.2 1569.5 145.1 1565.5 146.8 1562.7 147.7M1555.3 53.7 1557.5 53.3 1561.5 53.1 1565.5 53.6 1569.5 54.6 1573.5 56.3 1577.5 58.6 1579.5 60 1581.3 61.7 1583 63.7 1584.2 65.7 1585.1 67.7 1586.2 71.7 1587.3 77.7 1590.5 99.7 1591.2 107.7 1591 113.7 1590.3 117.7 1589.7 119.7 1587.8 123.7 1585.5 127.1 1583.1 129.7 1578.3 133.7 1575.2 135.7 1571.5 137.7 1566.4 139.7 1563.5 140.5 1559.5 140.9 1555.5 140.8 1553.5 140.4 1549.5 139.1 1546.9 137.7 1544.2 135.7 1542.1 133.7 1540.6 131.7 1539.4 129.7 1538.5 127.7 1535 119.7 1533.5 115.7 1532.3 111.7 1531.5 107.7 1531.3 101.7 1532.1 93.7 1535.7 75.7 1536.7 71.7 1538.1 67.7 1539.5 64.9 1541.5 62 1543.5 59.8 1545.5 58.2 1549.5 55.7 1551.5 54.8ZM1555.9 61.7 1559.5 61.1 1561.5 61.1 1565.5 61.6 1567.5 62.2 1571.5 63.9 1574.2 65.7 1576.5 67.7 1578.2 69.7 1579.5 71.6 1581.5 75.8 1582.7 79.7 1583.5 83.1 1584.9 91.7 1585.6 99.7 1585.5 106.2 1584.7 111.7 1583.5 115.5 1582.5 117.7 1580.1 121.7 1576.6 125.7 1571.5 130 1569.1 131.7 1565.6 133.7 1561.5 135.2 1559.5 135.6 1557.5 135.6 1555.5 135.3 1553.5 134.7 1551.3 133.7 1549.5 132.3 1547.5 130.2 1545.5 127.5 1541.5 120.4 1539.3 115.7 1537.8 111.7 1537.2 109.7 1536.4 105.7 1536.2 103.7 1536.2 99.7 1536.5 95.7 1537.1 91.7 1539.3 81.7 1541.5 75.2 1543.2 71.7 1544.5 69.7 1545.5 68.3 1547.5 66.2 1549.5 64.6 1551.5 63.4 1553.5 62.5ZM1556.6 69.7 1559.5 69.2 1561.5 69.1 1563.5 69.4 1565.5 69.9 1567.5 70.7 1569.5 71.7 1571.5 73.3 1573.8 75.7 1575.2 77.7 1576.2 79.7 1577.7 83.7 1579.1 89.7 1579.7 95.7 1579.6 101.7 1578.9 105.7 1577.5 110.4 1575.5 114.1 1573.5 116.7 1569.5 120.6 1565.5 123.4 1563.5 124.4 1561.5 125.1 1559.5 125.5 1557.5 125.6 1555.5 125.1 1553.5 124.2 1551.5 122.8 1549.5 120.7 1547.5 118 1545.5 114.5 1543.4 109.7 1542.2 105.7 1541.9 103.7 1541.6 99.7 1542.1 93.7 1543.5 86.7 1545.5 80.8 1547.5 76.9 1550 73.7 1551.5 72.3 1553.5 70.9ZM1556.2 85.7 1557.5 84.6 1559.5 83.9 1561.5 84.3 1563.5 85.8 1564.3 87.7 1564.4 89.7 1563.7 91.7 1561.5 93.9 1559.5 95.1 1557.5 96 1555.5 95.9 1555.3 95.7 1554.2 93.7 1553.9 91.7 1554.2 89.7 1554.9 87.7 1555.5 86.5Z" fill="none" stroke="#222" stroke-opacity="0.58" stroke-width="0.75"/>
<path d="M1550.5 49.7h.01M1561.5 49.7h.01M1572.5 49.7h.01M1528.5 60.7h.01M1539.5 60.7h.01M1550.5 60.7h.01M1561.5 60.7h.01M1572.5 60.7h.01M1583.5 60.7h.01M1594.5 60.7h.01M1528.5 71.7h.01M1539.5 71.7h.01M1550.5 71.7h.01M1561.5 71.7h.01M1572.5 71.7h.01M1583.5 71.7h.01M1594.5 71.7h.01M1517.5 82.7h.01M1528.5 82.7h.01M1539.5 82.7h.01M1550.5 82.7h.01M1561.5 82.7h.01M1572.5 82.7h.01M1583.5 82.7h.01M1594.5 82.7h.01M1605.5 82.7h.01M1517.5 93.7h.01M1528.5 93.7h.01M1539.5 93.7h.01M1550.5 93.7h.01M1561.5 93.7h.01M1572.5 93.7h.01M1583.5 93.7h.01M1594.5 93.7h.01M1605.5 93.7h.01M1517.5 104.7h.01M1528.5 104.7h.01M1539.5 104.7h.01M1550.5 104.7h.01M1561.5 104.7h.01M1572.5 104.7h.01M1583.5 104.7h.01M1594.5 104.7h.01M1605.5 104.7h.01M1528.5 115.7h.01M1539.5 115.7h.01M1550.5 115.7h.01M1561.5 115.7h.01M1572.5 115.7h.01M1583.5 115.7h.01M1594.5 115.7h.01M1528.5 126.7h.01M1539.5 126.7h.01M1550.5 126.7h.01M1561.5 126.7h.01M1572.5 126.7h.01M1583.5 126.7h.01M1594.5 126.7h.01M1550.5 137.7h.01M1561.5 137.7h.01M1572.5 137.7h.01" stroke="#333" stroke-opacity="0.5" stroke-width="1.3" stroke-linecap="round" fill="none"/>
</g>
<mask id="tc13" maskUnits="userSpaceOnUse" x="1505.5" y="171.0" width="112.0" height="112.0"><circle cx="1561.5" cy="227.0" r="53.0" fill="url(#mg)"/></mask>
<circle cx="1561.5" cy="227.0" r="51.5" fill="#fbfafb" filter="url(#gl)"/>
<g mask="url(#tc13)">
<g filter="url(#bl)"><rect x="1506.5" y="172.0" width="110.0" height="110.0" fill="#f7f6f6"/>
<path d="M1507.5 173 1615.5 173 1615.5 187.5 1613.5 185.2 1611.5 183.8 1609.5 183.2 1607.5 183.1 1605.5 183.5 1603.5 184.4 1601.5 185.9 1599.5 187.9 1598.8 189 1597.5 192.2 1595.5 200.1 1594.7 205 1594.4 211 1594.7 219 1595.8 227 1597.5 234.1 1599.5 238.9 1601.5 241.9 1609.5 250 1611.5 250.4 1613.5 249.9 1615.5 248.1 1615.5 253 1615.5 281 1507.5 281Z" fill="#f8f1ed" fill-rule="evenodd"/>
<path d="M1555.5 177 1559.5 176.5 1563.5 176.5 1569.5 177.3 1573.5 178.3 1577.5 179.8 1581.5 181.7 1583.5 182.9 1585.5 184.2 1587.5 185.8 1588.7 187 1590.2 189 1591.5 191.6 1592.3 195 1592.5 197 1592.4 207 1592.6 213 1593 219 1593.8 227 1595.5 237.4 1598.2 249 1598.4 251 1598.3 253 1597.8 255 1597.1 257 1595.5 259.7 1594.4 261 1592.1 263 1587.5 266 1573.5 274.3 1569.5 276.1 1567.5 276.8 1563.5 277.8 1561.5 278.1 1557.5 278.2 1553.5 277.7 1549.5 276.5 1545.5 274.8 1541.5 272.5 1537.5 269.6 1534.7 267 1531.3 263 1528.7 259 1527 255 1526.4 253 1525.4 249 1523.5 238.3 1521.5 230.6 1519 223 1518.4 219 1518.5 215 1519 213 1520.6 209 1523.1 205 1527.5 198.9 1532.9 191 1536.1 187 1538.1 185 1540.5 183 1545.5 180 1551.5 177.8Z" fill="#faeae1" fill-rule="evenodd"/>
<path d="M1557.5 181 1561.5 180.8 1565.5 181.1 1569.5 181.9 1573.5 183.2 1577.5 185 1581.5 187.4 1583.6 189 1585.5 190.9 1587 193 1587.9 195 1588.6 197 1589.7 203 1592.5 233 1593 241 1592.9 247 1592.2 251 1591.5 253 1590.6 255 1589.5 256.7 1587.4 259 1585.2 261 1577.1 267 1574.1 269 1570.6 271 1567.5 272.3 1565.5 273 1561.5 273.8 1557.5 274 1553.5 273.5 1549.5 272.4 1545.5 270.5 1541.5 267.9 1538.3 265 1536.5 263 1535.2 261 1534.1 259 1532.1 253 1530.8 247 1528.8 235 1527.7 227 1527.5 223 1527.6 219 1528.1 215 1529.1 211 1530.5 207 1532.3 203 1534.4 199 1537.8 193 1539.2 191 1540.9 189 1543 187 1545.8 185 1547.5 184 1551.5 182.3 1553.5 181.7Z" fill="#fbe4d6" fill-rule="evenodd"/>
<path d="M1556 185 1559.5 184.6 1561.5 184.5 1565.5 184.9 1567.5 185.5 1571.6 187 1575.5 189.1 1579.5 192 1581.5 193.8 1583.5 196.2 1585.2 199 1586.7 203 1587.5 205.9 1588.1 209 1589.1 217 1590.2 229 1590.3 237 1589.9 243 1589 247 1588.2 249 1587.3 251 1586 253 1584.4 255 1582.4 257 1579.5 259.4 1569.5 266.8 1565.5 269.2 1561.5 270.3 1559.5 270.6 1555.5 270.6 1551.5 269.8 1549.3 269 1545.6 267 1543 265 1541.2 263 1539.5 260.6 1537.7 257 1535.7 251 1534 243 1531.8 229 1531.5 225 1531.5 221 1532.2 215 1533.9 209 1535.6 205 1537.5 201.4 1539.5 198.1 1541.5 195.2 1543.5 192.7 1545.5 190.6 1547.5 188.9 1550.5 187 1553.5 185.7Z" fill="#fdddcb" fill-rule="evenodd"/>
<path d="M1553.2 191 1555.5 190.2 1557.5 189.8 1559.5 189.6 1563.5 189.9 1565.5 190.3 1569.5 191.7 1572.1 193 1575.5 195 1577.5 196.5 1579.5 198.3 1581.5 200.5 1583.1 203 1584.8 207 1585.5 209.2 1586.3 213 1587.3 219 1587.7 223 1588 229 1588 233 1587.5 239.4 1586.7 243 1586 245 1585.2 247 1583.5 249.7 1580.6 253 1577.5 255.6 1567.5 262.6 1563.5 265 1561.5 265.8 1559.5 266.4 1557.5 266.7 1555.5 266.7 1553.5 266.5 1551.5 265.9 1549.4 265 1547.5 263.8 1545.5 262.1 1543.5 259.9 1541.7 257 1540.7 255 1539.5 251.6 1537.9 245 1535.5 231.5 1534.8 225 1535 219 1535.5 215.4 1536.1 213 1537.5 209 1539.4 205 1541.5 201.4 1543.5 198.7 1545.5 196.4 1547.5 194.5 1549.5 193Z" fill="#fcd3bc" fill-rule="evenodd"/>
<path d="M1552 197 1555.5 195.7 1557.5 195.3 1561.5 195.3 1565.5 196.2 1567.8 197 1571.5 198.7 1575.5 201.2 1577.5 202.8 1579.5 205 1581.5 208.1 1583.5 213.2 1584.4 217 1585 221 1585.4 225 1585.6 229 1585.3 235 1584.5 239 1583.9 241 1583.1 243 1582.1 245 1579.5 248.4 1577.5 250.2 1575.5 251.7 1567.5 256.9 1563.5 259.4 1559.5 261.3 1557.5 261.7 1555.5 261.9 1553.5 261.7 1551.5 261.1 1549.5 260 1548.3 259 1546.4 257 1545.1 255 1544.1 253 1542.8 249 1541.5 243.4 1538.6 227 1538.3 221 1538.7 217 1539.5 213.5 1540.4 211 1541.5 208.5 1543.5 205 1545.5 202.4 1547.5 200.2 1549.5 198.5Z" fill="#fac8af" fill-rule="evenodd"/>
<path d="M1553.3 203 1555.5 202.4 1557.5 202.1 1559.5 202.1 1561.5 202.4 1565.5 203.6 1568.9 205 1571.5 206.3 1575.5 209 1577.5 211 1579.5 214.2 1581.2 219 1582 223 1582.4 229 1582.1 233 1581.8 235 1581.3 237 1580.6 239 1579.5 241.2 1577.5 243.7 1576.1 245 1573.5 246.9 1567.5 250.1 1559.5 254.3 1557.5 254.9 1555.5 255.2 1554.4 255 1553.5 254.8 1551.5 253.7 1550.8 253 1549.4 251 1547.9 247 1547.5 245 1546.3 237 1543.5 227 1543.2 225 1542.8 221 1543.1 217 1543.5 215 1545.2 211 1547.5 207.5 1550 205 1551.5 203.9Z" fill="#f8bb9e" fill-rule="evenodd"/>
<path d="M1561 221 1561.5 220.6 1563.5 219.7 1565.5 219.3 1567.5 219.2 1569.5 219.3 1571.5 219.9 1573.5 221 1575.5 223.7 1576.4 227 1576.6 229 1576.4 231 1576 233 1575.2 235 1573.5 237.1 1571.5 238.1 1569.5 238.5 1567.5 238.2 1565.4 237 1564 235 1562.5 231 1560.8 223Z" fill="#f6af8e" fill-rule="evenodd"/>
<path d="M1603.3 197 1605.5 196.5 1607.5 196.7 1609.5 197.6 1611.2 199 1613.5 202.2 1614.8 205 1615.5 207.4 1615.5 223.9 1614.6 227 1612.7 231 1611.4 233 1609.5 235 1607.5 236.3 1605.5 236.8 1603.5 236.3 1601.5 234.6 1599.3 231 1597.9 227 1597 223 1596.4 217 1596.3 213 1596.5 209 1597.2 205 1597.8 203 1599.5 199.6 1601.5 197.8Z" fill="#eff3f5" fill-rule="evenodd"/>
<path d="M1600.5 205 1601.5 203.8 1603.5 203.1 1605.5 203.5 1607.7 205 1609.3 207 1610.4 209 1611.1 211 1611.5 213 1611.8 215 1611.8 219 1611.1 223 1610.5 225 1609.5 227.2 1607.5 229.8 1605.5 230.9 1603.5 230.5 1601.5 228.5 1599.8 225 1599.2 223 1598.5 219 1598.3 213 1598.8 209 1599.3 207Z" fill="#e6eff4" fill-rule="evenodd"/>
<path d="M1603.1 209 1603.5 208.8 1605.5 209.5 1606.6 211 1607.6 213 1608.1 215 1608.3 217 1608.2 219 1607.9 221 1607.1 223 1605.5 224.9 1603.5 224.5 1601.5 221 1600.8 217 1600.9 213 1601.5 210.4Z" fill="#ddebf2" fill-rule="evenodd"/>
</g>
<path d="M1603.5 212.9 1602.8 215 1602.8 217 1603.1 219 1603.5 220 1605.5 220 1605.8 219 1606 217 1605.8 215 1605.5 214.2ZM1601.5 203.8 1599.5 206.5 1598.8 209 1598.5 211 1598.3 213 1598.3 217 1598.8 221 1599.5 224 1601.5 228.5 1603.5 230.5 1605.5 230.9 1607.5 229.8 1608.3 229 1609.5 227.2 1610.5 225 1611.5 221 1611.8 219 1611.8 215 1611.1 211 1610.4 209 1609.5 207.3 1607.5 204.8 1605.5 203.5 1603.5 203.1ZM1615.5 198.4 1613.3 195 1611.5 193.2 1609.5 192 1607.5 191.4 1605.5 191.4 1603.5 192.1 1601.5 193.4 1599.5 195.5 1597.5 199.1 1596.9 201 1596.3 203 1595.6 207 1595.3 213 1595.4 217 1595.8 221 1596.4 225 1597.3 229 1599.5 234.9 1601.5 237.9 1603.5 239.6 1605.5 240.4 1607.5 240.5 1609.5 239.9 1611.5 238.7 1613.1 237 1615.5 233.4M1555.5 177 1559.5 176.5 1563.5 176.5 1569.5 177.3 1573.5 178.3 1577.5 179.8 1581.5 181.7 1583.5 182.9 1585.5 184.2 1587.5 185.8 1588.7 187 1590.2 189 1591.5 191.6 1592.3 195 1592.5 197 1592.4 207 1592.6 213 1593 219 1593.8 227 1595.5 237.4 1598.2 249 1598.4 251 1598.3 253 1597.8 255 1597.1 257 1595.5 259.7 1594.4 261 1592.1 263 1587.5 266 1573.5 274.3 1569.5 276.1 1567.5 276.8 1563.5 277.8 1561.5 278.1 1557.5 278.2 1553.5 277.7 1549.5 276.5 1545.5 274.8 1541.5 272.5 1537.5 269.6 1534.7 267 1531.3 263 1528.7 259 1527 255 1526.4 253 1525.4 249 1523.5 238.3 1521.5 230.6 1519 223 1518.4 219 1518.5 215 1519 213 1520.6 209 1523.1 205 1527.5 198.9 1532.9 191 1536.1 187 1538.1 185 1540.5 183 1545.5 180 1551.5 177.8ZM1556.2 183 1559.5 182.6 1561.5 182.6 1565.5 182.9 1567.5 183.3 1571.5 184.5 1573.5 185.3 1576.8 187 1579.9 189 1582.2 191 1583.5 192.4 1585.4 195 1586.4 197 1587.5 199.9 1588.3 203 1589.5 211 1591.2 229 1591.6 239 1591.2 245 1590.3 249 1589.6 251 1588.7 253 1587.3 255 1585.6 257 1583.5 259 1573.2 267 1570.2 269 1566 271 1563.5 271.7 1559.5 272.3 1555.5 272.2 1551.5 271.4 1547.5 269.8 1543.5 267.4 1540.6 265 1538.8 263 1537.5 261 1536.4 259 1534.3 253 1532.5 245 1530.8 235 1530 229 1529.7 225 1529.6 221 1530.3 215 1531.3 211 1532.8 207 1534.6 203 1536.7 199 1539.5 194.6 1541.5 191.8 1543.5 189.4 1545.5 187.7 1547.5 186.2 1549.8 185 1553.5 183.6ZM1553.2 191 1555.5 190.2 1557.5 189.8 1559.5 189.6 1563.5 189.9 1565.5 190.3 1569.5 191.7 1572.1 193 1575.5 195 1577.5 196.5 1579.5 198.3 1581.5 200.5 1583.1 203 1584.8 207 1585.5 209.2 1586.3 213 1587.3 219 1587.7 223 1588 229 1588 233 1587.5 239.4 1586.7 243 1586 245 1585.2 247 1583.5 249.7 1580.6 253 1577.5 255.6 1567.5 262.6 1563.5 265 1561.5 265.8 1559.5 266.4 1557.5 266.7 1555.5 266.7 1553.5 266.5 1551.5 265.9 1549.4 265 1547.5 263.8 1545.5 262.1 1543.5 259.9 1541.7 257 1540.7 255 1539.5 251.6 1537.9 245 1535.5 231.5 1534.8 225 1535 219 1535.5 215.4 1536.1 213 1537.5 209 1539.4 205 1541.5 201.4 1543.5 198.7 1545.5 196.4 1547.5 194.5 1549.5 193ZM1554.6 199 1557.5 198.4 1559.5 198.4 1563.5 198.9 1565.5 199.5 1569.1 201 1573.5 203.4 1575.5 204.8 1577.5 206.6 1579.5 209.1 1581.5 212.9 1582.7 217 1583.5 220.6 1583.8 223 1584.1 227 1584.1 231 1583.5 236.1 1582.7 239 1582 241 1581 243 1579.6 245 1577.5 247.2 1575.2 249 1567.5 253.7 1562.1 257 1559.5 258.2 1557.5 258.8 1555.5 259 1553.5 258.8 1551.5 258 1550 257 1548.1 255 1546.8 253 1545.9 251 1544.7 247 1542.9 237 1541.5 231 1540.8 227 1540.3 221 1540.7 217 1541.5 213.7 1542.5 211 1543.5 209 1545.5 205.9 1547.5 203.5 1549.5 201.7 1551.5 200.3ZM1561 221 1561.5 220.6 1563.5 219.7 1565.5 219.3 1567.5 219.2 1569.5 219.3 1571.5 219.9 1573.5 221 1575.5 223.7 1576.4 227 1576.6 229 1576.4 231 1576 233 1575.2 235 1573.5 237.1 1571.5 238.1 1569.5 238.5 1567.5 238.2 1565.4 237 1564 235 1562.5 231 1560.8 223Z" fill="none" stroke="#222" stroke-opacity="0.58" stroke-width="0.75"/>
<path d="M1550.5 183h.01M1561.5 183h.01M1572.5 183h.01M1528.5 194h.01M1539.5 194h.01M1550.5 194h.01M1561.5 194h.01M1572.5 194h.01M1583.5 194h.01M1594.5 194h.01M1528.5 205h.01M1539.5 205h.01M1550.5 205h.01M1561.5 205h.01M1572.5 205h.01M1583.5 205h.01M1594.5 205h.01M1517.5 216h.01M1528.5 216h.01M1539.5 216h.01M1550.5 216h.01M1561.5 216h.01M1572.5 216h.01M1583.5 216h.01M1594.5 216h.01M1605.5 216h.01M1517.5 227h.01M1528.5 227h.01M1539.5 227h.01M1550.5 227h.01M1561.5 227h.01M1572.5 227h.01M1583.5 227h.01M1594.5 227h.01M1605.5 227h.01M1517.5 238h.01M1528.5 238h.01M1539.5 238h.01M1550.5 238h.01M1561.5 238h.01M1572.5 238h.01M1583.5 238h.01M1594.5 238h.01M1605.5 238h.01M1528.5 249h.01M1539.5 249h.01M1550.5 249h.01M1561.5 249h.01M1572.5 249h.01M1583.5 249h.01M1594.5 249h.01M1528.5 260h.01M1539.5 260h.01M1550.5 260h.01M1561.5 260h.01M1572.5 260h.01M1583.5 260h.01M1594.5 260h.01M1550.5 271h.01M1561.5 271h.01M1572.5 271h.01" stroke="#333" stroke-opacity="0.5" stroke-width="1.3" stroke-linecap="round" fill="none"/>
</g>
<mask id="tc23" maskUnits="userSpaceOnUse" x="1505.5" y="302.4" width="112.0" height="112.0"><circle cx="1561.5" cy="358.4" r="53.0" fill="url(#mg)"/></mask>
<circle cx="1561.5" cy="358.4" r="51.5" fill="#fbfafb" filter="url(#gl)"/>
<g mask="url(#tc23)">
<g filter="url(#bl)"><rect x="1506.5" y="303.4" width="110.0" height="110.0" fill="#f7f6f6"/>
<path d="M1507.5 304.4 1615.5 304.4 1615.5 338.2 1613.5 337.3 1611.5 336.6 1609.5 336.3 1607.5 336.8 1605.5 338.2 1603.5 340.4 1601.5 344.3 1600.5 348.4 1600.3 352.4 1600.8 356.4 1601.5 359.3 1603.5 363.4 1605.5 365.8 1607.5 367.3 1611.5 369.2 1613.5 369.4 1615.5 368.6 1615.5 401.3 1613.5 401.5 1611.5 402 1609.5 402.9 1607.3 404.4 1605.5 406.4 1604.3 408.4 1603.6 410.4 1603.4 412.4 1599.5 412.4 1511.8 412.4 1511.5 409.5 1511.2 408.4 1510.2 406.4 1509.5 405.5 1507.5 404.7 1507.5 379.1 1509.5 381.6 1511.5 383.5 1513.5 384.8 1515.5 385 1519.5 369.6 1520.3 362.4 1520.3 356.4 1519.5 348.3 1517.5 338.5 1515.5 330.6 1513.5 329.8 1511.5 330.8 1510.5 332.4 1509.5 334.7 1509 336.4 1507.5 344.4Z" fill="#f8f1ed" fill-rule="evenodd"/>
<path d="M1548.6 306.4 1551.5 305.1 1554.3 304.4 1564 304.4 1567.5 305.1 1569.5 305.7 1573.5 307.1 1577.5 309 1581.5 311.2 1585.5 314 1587.5 315.7 1590.3 318.4 1592.1 320.4 1595.2 324.4 1596.5 326.4 1598.4 330.4 1599 332.4 1599.2 334.4 1599.3 336.4 1598 346.4 1597.8 350.4 1597.9 354.4 1598.7 360.4 1601.5 372.4 1601.7 374.4 1601.1 378.4 1599.6 382.4 1597.4 386.4 1594.6 390.4 1591.2 394.4 1587.5 398 1583.5 401.3 1579.5 403.7 1577.5 404.7 1573.5 406.2 1569.5 407.3 1565.5 407.8 1561.5 407.8 1557.5 407.5 1551.5 406.2 1547.5 404.9 1543.5 403.1 1539.5 400.6 1537.5 399 1534.9 396.4 1533.3 394.4 1530.7 390.4 1529.7 388.4 1528 384.4 1526.8 380.4 1525.9 376.4 1524.8 368.4 1523.6 348.4 1523.4 342.4 1523.4 338.4 1524 334.4 1524.4 332.4 1525.9 328.4 1528.1 324.4 1531.1 320.4 1532.8 318.4 1537.5 313.8 1541.5 310.7 1545.5 308Z" fill="#faeae1" fill-rule="evenodd"/>
<path d="M1550.3 310.4 1553.5 309.4 1555.5 309 1559.5 308.6 1563.5 308.7 1567.5 309.3 1569.5 309.8 1573.5 311.2 1577.5 313 1581.5 315.4 1583.5 316.9 1587.2 320.4 1588.9 322.4 1590.4 324.4 1592.7 328.4 1594.1 332.4 1594.5 334.4 1595 338.4 1595.4 352.4 1596.3 366.4 1596.1 370.4 1595.8 372.4 1594.4 378.4 1592.8 382.4 1590.7 386.4 1588.1 390.4 1584.8 394.4 1582.6 396.4 1579.5 398.8 1575.5 401.1 1572.2 402.4 1569.5 403.2 1565.5 403.9 1561.5 404 1557.5 403.7 1553.5 402.9 1549.5 401.6 1546.9 400.4 1543.5 398.4 1541 396.4 1539 394.4 1537.5 392.4 1535.1 388.4 1532.3 382.4 1530.8 378.4 1529.2 372.4 1528.3 368.4 1527.5 362.4 1527 356.4 1526.8 350.4 1526.9 344.4 1527.3 340.4 1527.9 336.4 1528.9 332.4 1530.4 328.4 1532.8 324.4 1534.3 322.4 1537.5 318.8 1540.1 316.4 1543.5 313.9 1547.5 311.5Z" fill="#fbe4d6" fill-rule="evenodd"/>
<path d="M1553 312.4 1555.5 311.8 1559.5 311.3 1561.5 311.3 1565.5 311.6 1569.5 312.5 1573.5 313.9 1577.5 315.9 1579.5 317.2 1583.4 320.4 1585.2 322.4 1586.7 324.4 1587.8 326.4 1588.8 328.4 1590.3 332.4 1591.8 338.4 1592.4 342.4 1592.8 348.4 1593.3 362.4 1593 366.4 1592.5 370.4 1590.8 376.4 1589.1 380.4 1587 384.4 1584.3 388.4 1581.5 391.7 1578.6 394.4 1575.5 396.7 1572.5 398.4 1569.5 399.5 1566 400.4 1563.5 400.7 1559.5 400.6 1557.5 400.4 1553.5 399.3 1551 398.4 1547.5 396.5 1544.7 394.4 1541.5 391.2 1539.5 388.6 1537.5 385.4 1536 382.4 1534.3 378.4 1532.9 374.4 1531 366.4 1530.4 362.4 1529.8 356.4 1529.7 350.4 1529.9 346.4 1530.3 342.4 1531 338.4 1532.1 334.4 1533.6 330.4 1535.5 326.4 1536.7 324.4 1538.2 322.4 1541.5 318.9 1544.6 316.4 1547.5 314.6 1549.5 313.6Z" fill="#fdddcb" fill-rule="evenodd"/>
<path d="M1555 314.4 1557.5 313.9 1561.5 313.7 1563.5 313.8 1567.5 314.4 1571.5 315.7 1573.5 316.5 1576.9 318.4 1579.4 320.4 1581.3 322.4 1582.9 324.4 1584.2 326.4 1586.3 330.4 1588.4 336.4 1589.6 342.4 1590.1 346.4 1590.6 352.4 1590.7 358.4 1590.5 362.4 1590.1 366.4 1589.3 370.4 1587.3 376.4 1585.5 380.1 1584.1 382.4 1581.5 386.1 1579.5 388.4 1577.4 390.4 1573.5 393.3 1571.5 394.4 1567.5 396 1565.5 396.4 1561.5 396.8 1559.5 396.7 1555.5 396 1551.5 394.5 1549.5 393.5 1547.5 392.1 1545.5 390.4 1543.5 388.4 1541.5 385.8 1539.4 382.4 1537.5 378.7 1535.2 372.4 1534.1 368.4 1533.3 364.4 1532.8 360.4 1532.4 354.4 1532.5 350.4 1532.8 346.4 1533.3 342.4 1534.2 338.4 1536.3 332.4 1537.5 329.9 1539.5 326.3 1541.5 323.5 1544.1 320.4 1546.4 318.4 1549.6 316.4 1551.5 315.6Z" fill="#fcd3bc" fill-rule="evenodd"/>
<path d="M1560.7 316.4 1563.5 316.5 1565.5 316.8 1569.5 317.9 1571.5 318.8 1574.3 320.4 1576.9 322.4 1578.9 324.4 1580.5 326.4 1581.8 328.4 1583.5 331.5 1585.5 336.7 1586.5 340.4 1587.2 344.4 1588 352.4 1588 360.4 1587.2 366.4 1585.5 372.4 1583.8 376.4 1582.7 378.4 1580 382.4 1578.4 384.4 1575.5 387.2 1573.5 388.8 1569.5 391.1 1565.6 392.4 1563.5 392.8 1561.5 392.9 1557.5 392.6 1553.5 391.4 1551.3 390.4 1548.4 388.4 1546.1 386.4 1544.4 384.4 1542.9 382.4 1540.6 378.4 1539.5 376.2 1538.1 372.4 1536.9 368.4 1536.1 364.4 1535.5 360.4 1535.2 356.4 1535.2 352.4 1535.4 348.4 1536.4 342.4 1538.1 336.4 1539.5 333.2 1541.5 329.5 1543.5 326.5 1545.5 324.1 1547.5 322.1 1549.6 320.4 1552.9 318.4 1555.5 317.3 1557.5 316.8Z" fill="#fac8af" fill-rule="evenodd"/>
<path d="M1561.3 320.4 1563.5 320.4 1565.5 320.7 1567.5 321.2 1570.6 322.4 1573.9 324.4 1576.2 326.4 1577.9 328.4 1580.4 332.4 1581.5 334.6 1582.9 338.4 1584.3 344.4 1584.9 348.4 1585.2 352.4 1585.3 356.4 1585 360.4 1584 366.4 1583.5 368.4 1582 372.4 1579.9 376.4 1577 380.4 1575.1 382.4 1572.7 384.4 1569.7 386.4 1567.5 387.4 1563.5 388.6 1559.5 388.7 1557.5 388.5 1555.5 388 1553.5 387.2 1551.5 386.1 1549.5 384.7 1547.5 382.9 1545.5 380.5 1543 376.4 1541.5 373.3 1540.5 370.4 1539 364.4 1538.4 360.4 1538.1 356.4 1538.3 350.4 1538.8 346.4 1539.5 343 1541.5 337 1543.9 332.4 1545.5 330 1547.5 327.6 1549.5 325.6 1551.5 324 1553.5 322.7 1555.5 321.7 1557.5 321Z" fill="#f8bb9e" fill-rule="evenodd"/>
<path d="M1556.7 326.4 1559.5 325.4 1561.5 325.1 1563.5 325 1565.5 325.3 1567.5 325.7 1569.5 326.5 1571.5 327.7 1573.5 329.3 1574.6 330.4 1576.2 332.4 1577.5 334.4 1579.5 339 1580.9 344.4 1581.8 350.4 1581.9 356.4 1581.2 362.4 1579.5 368.4 1577.5 372.5 1574.7 376.4 1571.5 379.6 1569.5 381 1567.1 382.4 1563.5 383.6 1561.5 383.9 1559.5 383.9 1557.5 383.7 1555.5 383.1 1553.5 382.3 1551.5 381 1549.5 379.2 1547.5 376.9 1545.5 373.6 1543.5 368.9 1542.3 364.4 1541.6 358.4 1541.5 354.3 1542.1 348.4 1543.6 342.4 1545.5 337.9 1547.5 334.5 1549.1 332.4 1551.5 329.9 1553.3 328.4Z" fill="#f6af8e" fill-rule="evenodd"/>
<path d="M1558.6 332.4 1561.5 331.5 1563.5 331.3 1565.5 331.4 1568.3 332.4 1569.5 333 1571.2 334.4 1573.5 337.2 1575.1 340.4 1576.4 344.4 1577.1 348.4 1577.4 352.4 1577.2 356.4 1576.6 360.4 1575.4 364.4 1573.5 368.4 1571.5 371.1 1569.5 373.2 1568.1 374.4 1564.6 376.4 1561.5 377.3 1559.5 377.4 1557.5 377.1 1555.3 376.4 1553.5 375.3 1552.4 374.4 1551.5 373.6 1549.5 370.9 1548.2 368.4 1547.4 366.4 1546.9 364.4 1546.2 360.4 1546.1 356.4 1546.7 350.4 1547.7 346.4 1549.3 342.4 1551.5 338.7 1553.5 336.2 1555.5 334.3Z" fill="#f2a17f" fill-rule="evenodd"/>
<path d="M1559.6 346.4 1561.5 345 1563.5 344.5 1565.5 345.3 1566.5 346.4 1567.5 348.4 1567.9 350.4 1567.9 352.4 1567.5 355.5 1566.3 358.4 1565.5 359.7 1563.5 361.8 1561.5 362.9 1559.5 363.1 1557.5 362 1556.5 360.4 1555.8 358.4 1555.6 356.4 1555.8 354.4 1556.3 352.4 1557.5 349.3Z" fill="#eb9172" fill-rule="evenodd"/>
<path d="M1604.9 346.4 1605.5 345.7 1607.5 344.8 1609.5 345.1 1611.7 346.4 1613.3 348.4 1614.1 350.4 1614.4 352.4 1614.2 354.4 1613.6 356.4 1612.3 358.4 1611.5 359.2 1609.5 360.3 1607.5 360.3 1605.5 359.1 1605 358.4 1603.9 356.4 1603.5 355.2 1603.1 352.4 1603.5 349.1 1603.7 348.4Z" fill="#eff3f5" fill-rule="evenodd"/>
</g>
<path d="M1615.5 344.7 1613.5 342.9 1612.7 342.4 1611.5 341.8 1609.5 341.3 1607.5 341.4 1605.5 342.3 1603.5 344.5 1602.6 346.4 1602 348.4 1601.7 350.4 1601.6 352.4 1602.2 356.4 1603.5 359.8 1605.5 362.3 1607.5 363.5 1609.5 363.8 1611.5 363.5 1613.5 362.5 1615.5 360.7M1513.5 349.6 1512.2 352.4 1511.7 354.4 1511.4 358.4 1511.7 360.4 1512.3 362.4 1513.5 364.6 1515.5 364.6 1516.6 362.4 1517.2 360.4 1517.5 358.4 1517.5 356 1517.3 354.4 1516.7 352.4 1515.5 349.5ZM1550.5 306.4 1553.5 305.3 1555.5 304.9 1559.5 304.7 1563.5 305 1567.5 305.8 1571.5 307 1577.5 309.5 1583.5 313.1 1587.5 316.4 1589.6 318.4 1593.1 322.4 1594.6 324.4 1596.9 328.4 1598.3 332.4 1598.7 334.4 1598.8 336.4 1597.7 346.4 1597.5 350.4 1597.7 354.4 1598.4 360.4 1600.5 370.4 1600.8 374.4 1600.7 376.4 1599.6 380.4 1597.8 384.4 1595.3 388.4 1592.2 392.4 1588.5 396.4 1585.5 399 1581.5 401.9 1577.5 404.1 1573.5 405.7 1569.5 406.7 1565.5 407.3 1561.5 407.3 1557.5 407 1553.5 406.2 1549.5 405.1 1545.5 403.5 1541.5 401.4 1537.5 398.3 1535.5 396.2 1532.6 392.4 1530.3 388.4 1529.4 386.4 1528 382.4 1526.9 378.4 1526 374.4 1525 366.4 1523.9 348.4 1523.8 342.4 1523.9 338.4 1524.4 334.4 1525 332.4 1526.5 328.4 1528.7 324.4 1531.7 320.4 1535.5 316.4 1539.5 312.8 1543.5 309.9 1547.5 307.6ZM1550.7 312.4 1553.5 311.5 1557.5 310.7 1559.5 310.6 1563.5 310.7 1567.5 311.3 1569.5 311.8 1573.5 313.2 1577.5 315.1 1579.6 316.4 1582.3 318.4 1584.5 320.4 1586.3 322.4 1587.7 324.4 1589.9 328.4 1590.7 330.4 1591.9 334.4 1592.7 338.4 1593.2 342.4 1594 360.4 1594 364.4 1593.7 368.4 1592.5 374.4 1591.2 378.4 1589.3 382.4 1587 386.4 1584.1 390.4 1581.5 393.3 1578 396.4 1575 398.4 1571.5 400 1569.5 400.7 1565.5 401.5 1561.5 401.7 1557.5 401.3 1553.5 400.5 1551.5 399.7 1548.5 398.4 1545.4 396.4 1543.5 394.9 1541.1 392.4 1539.5 390.3 1537 386.4 1535 382.4 1533.3 378.4 1532 374.4 1531 370.4 1530.2 366.4 1529.3 360.4 1528.9 354.4 1528.9 350.4 1529.2 344.4 1529.7 340.4 1530.5 336.4 1531.7 332.4 1532.5 330.4 1534.4 326.4 1537 322.4 1538.8 320.4 1540.9 318.4 1543.5 316.3 1547.5 313.8ZM1551.6 316.4 1555.5 315.1 1557.5 314.7 1559.5 314.5 1563.5 314.6 1565.5 314.8 1569.5 315.8 1571.5 316.5 1575.3 318.4 1577.9 320.4 1579.5 321.9 1581.5 324.2 1583 326.4 1584.2 328.4 1586.1 332.4 1588 338.4 1588.8 342.4 1589.3 346.4 1589.7 350.4 1589.9 356.4 1589.8 360.4 1589.5 364.4 1588.8 368.4 1587.7 372.4 1586.2 376.4 1584.1 380.4 1581.5 384.3 1579.8 386.4 1577.5 388.7 1575.5 390.4 1572.6 392.4 1569.5 394 1567.5 394.7 1563.5 395.5 1561.5 395.6 1557.5 395.2 1554.3 394.4 1551.5 393.3 1549.5 392.1 1547.5 390.7 1545.5 389 1543.2 386.4 1541.5 384.1 1539.5 380.7 1536.8 374.4 1535 368.4 1534.2 364.4 1533.6 360.4 1533.3 356.4 1533.3 352.4 1533.5 348.4 1533.9 344.4 1534.7 340.4 1535.9 336.4 1538.4 330.4 1539.5 328.4 1542.2 324.4 1545.5 320.6 1547.5 318.9ZM1558.7 320.4 1561.5 320.1 1563.5 320.1 1567.5 320.9 1571.5 322.5 1574.3 324.4 1576.5 326.4 1579.5 330.2 1581.7 334.4 1583.7 340.4 1584.6 344.4 1585.1 348.4 1585.4 352.4 1585.5 356.4 1585 362.4 1583.7 368.4 1581.5 374 1578.9 378.4 1577.5 380.2 1575.5 382.4 1573.3 384.4 1570.3 386.4 1567.5 387.8 1565.7 388.4 1563.5 388.9 1561.5 389.1 1557.5 388.8 1555.5 388.3 1553.5 387.5 1551.5 386.5 1549.5 385.1 1547.5 383.3 1545.5 380.9 1543.8 378.4 1541.5 373.9 1539.5 368 1538.7 364.4 1538.2 360.4 1537.9 356.4 1537.9 352.4 1538.5 346.4 1540 340.4 1541.5 336.4 1542.4 334.4 1543.5 332.4 1545.5 329.5 1547.5 327.1 1549.5 325.2 1551.5 323.6 1553.5 322.3 1555.5 321.4ZM1560.2 328.4 1563.5 328 1565.5 328.2 1567.5 328.7 1569.5 329.6 1570.7 330.4 1573.5 332.9 1575.9 336.4 1577.7 340.4 1579.1 346.4 1579.6 350.4 1579.7 356.4 1579.2 360.4 1577.6 366.4 1575.6 370.4 1572.7 374.4 1569.5 377.4 1567.5 378.7 1565.5 379.7 1563.5 380.4 1561.5 380.7 1559.5 380.8 1557.5 380.6 1555.5 380 1552.7 378.4 1551.5 377.5 1549.5 375.5 1547.4 372.4 1545.5 368 1544.2 362.4 1543.7 358.4 1543.7 354.4 1544.5 348.4 1545.6 344.4 1547.5 339.8 1549.5 336.4 1551.5 333.9 1553.5 332 1555.5 330.4 1557.5 329.4Z" fill="none" stroke="#222" stroke-opacity="0.58" stroke-width="0.75"/>
<path d="M1550.5 314.4h.01M1561.5 314.4h.01M1572.5 314.4h.01M1528.5 325.4h.01M1539.5 325.4h.01M1550.5 325.4h.01M1561.5 325.4h.01M1572.5 325.4h.01M1583.5 325.4h.01M1594.5 325.4h.01M1528.5 336.4h.01M1539.5 336.4h.01M1550.5 336.4h.01M1561.5 336.4h.01M1572.5 336.4h.01M1583.5 336.4h.01M1594.5 336.4h.01M1517.5 347.4h.01M1528.5 347.4h.01M1539.5 347.4h.01M1550.5 347.4h.01M1561.5 347.4h.01M1572.5 347.4h.01M1583.5 347.4h.01M1594.5 347.4h.01M1605.5 347.4h.01M1517.5 358.4h.01M1528.5 358.4h.01M1539.5 358.4h.01M1550.5 358.4h.01M1561.5 358.4h.01M1572.5 358.4h.01M1583.5 358.4h.01M1594.5 358.4h.01M1605.5 358.4h.01M1517.5 369.4h.01M1528.5 369.4h.01M1539.5 369.4h.01M1550.5 369.4h.01M1561.5 369.4h.01M1572.5 369.4h.01M1583.5 369.4h.01M1594.5 369.4h.01M1605.5 369.4h.01M1528.5 380.4h.01M1539.5 380.4h.01M1550.5 380.4h.01M1561.5 380.4h.01M1572.5 380.4h.01M1583.5 380.4h.01M1594.5 380.4h.01M1528.5 391.4h.01M1539.5 391.4h.01M1550.5 391.4h.01M1561.5 391.4h.01M1572.5 391.4h.01M1583.5 391.4h.01M1594.5 391.4h.01M1550.5 402.4h.01M1561.5 402.4h.01M1572.5 402.4h.01" stroke="#333" stroke-opacity="0.5" stroke-width="1.3" stroke-linecap="round" fill="none"/>
</g>
<mask id="tc33" maskUnits="userSpaceOnUse" x="1505.5" y="434.5" width="112.0" height="112.0"><circle cx="1561.5" cy="490.5" r="53.0" fill="url(#mg)"/></mask>
<circle cx="1561.5" cy="490.5" r="51.5" fill="#fbfafb" filter="url(#gl)"/>
<g mask="url(#tc33)">
<g filter="url(#bl)"><rect x="1506.5" y="435.5" width="110.0" height="110.0" fill="#f7f6f6"/>
<path d="M1507.5 436.5 1603.5 436.5 1601.5 437.6 1599.2 440.5 1597.5 444.6 1596.6 448.5 1596.4 450.5 1597 458.5 1597.6 474.5 1598.3 480.5 1599.4 486.5 1601.5 493.4 1603.5 496.3 1605.5 497.3 1607.5 496.9 1609.5 495.1 1611.2 492.5 1612.1 490.5 1612.8 488.5 1613.8 484.5 1614.3 480.5 1614.5 476.5 1614 466.5 1612.2 448.5 1611.6 444.5 1610.5 440.5 1609.5 438.7 1607.5 436.9 1606.3 436.5 1615.5 436.5 1615.5 468.5 1615.5 544.5 1507.5 544.5ZM1517.5 443.3 1515.5 444.9 1513.5 447.6 1511.3 452.5 1510 456.5 1508.8 462.5 1508.3 466.5 1508 472.5 1508 478.5 1508.5 486.5 1509.1 490.5 1510.3 496.5 1512.2 502.5 1514.5 508.5 1515.5 511.5 1516 512.5 1516.6 514.5 1517.5 521.3 1519.5 524.8 1520.4 524.5 1521 522.5 1519.9 518.5 1519.5 515.5 1519.1 514.5 1519.1 512.5 1519.5 511.5 1520.2 506.5 1521.5 502.1 1523.5 493 1525.3 482.5 1526 476.5 1526.5 468.5 1526.6 452.5 1526.4 450.5 1525.7 448.5 1523.5 445 1521.5 443.3 1519.5 442.8Z" fill="#f8f1ed" fill-rule="evenodd"/>
<path d="M1552.9 440.5 1555.5 439.9 1559.5 439.4 1563.5 439.5 1565.5 439.7 1571.5 441.2 1577.5 443.8 1579.5 445 1583.5 447.8 1586.6 450.5 1588.3 452.5 1589.7 454.5 1590.8 456.5 1591.6 458.5 1592.7 462.5 1597.5 496.5 1599.9 508.5 1600.1 512.5 1599.5 516.5 1598.1 520.5 1596.1 524.5 1593.3 528.5 1589.5 532.4 1585.5 535.6 1581.5 537.8 1577.5 539.7 1571.5 541.8 1565.5 543.8 1562.2 544.5 1547.2 544.5 1545.5 543.8 1543.5 542.6 1541.5 541 1539.5 538.9 1537.5 536.5 1535.5 533.8 1533.6 530.5 1532.6 528.5 1531 524.5 1529 518.5 1527 510.5 1526.4 506.5 1526.2 502.5 1526.6 494.5 1531 462.5 1531.5 460.1 1532.6 456.5 1533.5 454.5 1535.5 451.3 1537.5 449 1539.5 447.1 1541.5 445.6 1545.5 443.2 1549.5 441.5Z" fill="#faeae1" fill-rule="evenodd"/>
<path d="M1555.6 444.5 1559.5 444 1563.5 444.1 1567.5 444.8 1569.5 445.4 1573.5 447 1576.2 448.5 1579.1 450.5 1581.3 452.5 1583.2 454.5 1585.5 457.9 1586.9 460.5 1588.6 464.5 1589.5 467.2 1591.5 475.8 1593.1 486.5 1594.3 498.5 1594.6 508.5 1594.4 512.5 1593.9 516.5 1592.7 520.5 1591.8 522.5 1589.2 526.5 1587.5 528.5 1585.4 530.5 1582.8 532.5 1577.5 535.5 1573.5 537.2 1567.5 539 1563.5 539.8 1559.5 540.1 1555.5 540 1553.5 539.7 1551.5 539.3 1547.5 537.9 1543.5 535.6 1541.5 533.9 1538.4 530.5 1537.2 528.5 1535.3 524.5 1530.9 510.5 1529.7 504.5 1529.3 500.5 1529.4 494.5 1530 488.5 1530.8 482.5 1532.2 474.5 1533.5 468.6 1535.3 462.5 1536.9 458.5 1539.1 454.5 1540.7 452.5 1543.5 449.9 1545.5 448.5 1549.5 446.3 1551.5 445.6Z" fill="#fbe4d6" fill-rule="evenodd"/>
<path d="M1555 448.5 1559.5 447.9 1563.5 448 1565.9 448.5 1569.5 449.9 1571.5 451 1575.5 454.1 1577.5 456 1581.5 460.8 1583.5 463.9 1585.5 467.8 1587.9 474.5 1589.3 480.5 1590 484.5 1590.8 490.5 1591.2 496.5 1591.2 502.5 1591.1 506.5 1590.7 510.5 1590 514.5 1588.9 518.5 1587.4 522.5 1586.3 524.5 1584.9 526.5 1583 528.5 1580.6 530.5 1577.5 532.4 1575.5 533.5 1571.5 535.1 1567.5 536.3 1563.5 537 1559.5 537.3 1555.5 537.1 1553.5 536.7 1549.5 535.4 1547.6 534.5 1545.5 533.2 1543.5 531.5 1541 528.5 1539.9 526.5 1539.1 524.5 1534.2 510.5 1533.1 506.5 1532.4 502.5 1532.1 498.5 1532.1 494.5 1532.3 490.5 1533.1 484.5 1535 474.5 1536.2 470.5 1537.6 466.5 1539.5 462.3 1541.5 459 1543.5 456.3 1545.5 454.1 1547.5 452.3 1549.5 450.9 1551.5 449.8Z" fill="#fdddcb" fill-rule="evenodd"/>
<path d="M1552.9 454.5 1555.5 453.5 1557.5 453.1 1559.5 452.9 1561.5 453 1563.5 453.3 1565.5 453.8 1567.5 454.7 1570.7 456.5 1573.3 458.5 1575.5 460.6 1577.5 462.9 1579.5 465.5 1581.5 468.8 1584.2 474.5 1585.5 478.4 1586.5 482.5 1587.3 486.5 1587.8 490.5 1588.2 496.5 1588.2 500.5 1587.6 508.5 1586.9 512.5 1585.8 516.5 1584.2 520.5 1583.2 522.5 1581.5 525 1579.5 527.3 1578.2 528.5 1575.4 530.5 1571.5 532.4 1569.5 533.1 1563.5 534.5 1559.5 534.8 1557.5 534.7 1555.5 534.5 1551.5 533.3 1549.5 532.4 1546.9 530.5 1545.1 528.5 1543.9 526.5 1541.5 521.5 1538.1 512.5 1536.8 508.5 1535.7 504.5 1534.9 498.5 1534.8 494.5 1535 490.5 1535.5 485.8 1536.5 480.5 1537.4 476.5 1538.7 472.5 1539.5 470.3 1541.5 466 1543.5 462.8 1545.2 460.5 1547.5 458.1 1549.5 456.5Z" fill="#fcd3bc" fill-rule="evenodd"/>
<path d="M1556.6 458.5 1559.5 458.2 1561.5 458.3 1563.5 458.7 1565.5 459.5 1567.5 460.5 1569.5 461.8 1571.5 463.5 1573.5 465.4 1575.5 467.8 1577.5 470.5 1579.7 474.5 1581.5 478.4 1582.2 480.5 1583.4 484.5 1584.2 488.5 1584.9 494.5 1585 498.5 1584.9 502.5 1584.6 506.5 1583.9 510.5 1582.2 516.5 1580.2 520.5 1578.9 522.5 1577.2 524.5 1575.5 526 1573.5 527.5 1571.5 528.7 1567.2 530.5 1563.5 531.4 1561.5 531.7 1557.5 531.5 1555.5 531.1 1553.5 530.4 1551.5 529.3 1549.5 527.7 1546.9 524.5 1545.5 522.1 1543.5 517.9 1541.5 512.9 1540 508.5 1538.9 504.5 1538.1 500.5 1537.7 494.5 1537.8 490.5 1538.3 486.5 1539.5 480.1 1540.6 476.5 1542.1 472.5 1543.5 469.5 1545.4 466.5 1547.5 463.9 1548.9 462.5 1551.5 460.5 1553.5 459.5Z" fill="#fac8af" fill-rule="evenodd"/>
<path d="M1555.5 464.5 1557.5 464.1 1559.5 464.1 1561.8 464.5 1563.5 465.1 1565.5 466.1 1567.5 467.5 1569.5 469.3 1571.5 471.5 1573.5 474.2 1576.1 478.5 1577.5 481.3 1578.7 484.5 1579.5 486.8 1580.4 490.5 1581.2 496.5 1581.2 502.5 1580.6 508.5 1579.6 512.5 1578.9 514.5 1576.9 518.5 1575.5 520.6 1573.7 522.5 1571 524.5 1569.5 525.3 1566.7 526.5 1563.5 527.3 1561.5 527.5 1559.5 527.4 1557.5 527.1 1555.5 526.4 1553.5 525.3 1551.5 523.7 1549 520.5 1547.5 518 1545.9 514.5 1543.5 507.9 1541.7 500.5 1541.1 494.5 1541.3 488.5 1541.9 484.5 1543.5 478.4 1545.5 473.7 1547.5 470.5 1549.2 468.5 1551.5 466.4 1553.5 465.3Z" fill="#f8bb9e" fill-rule="evenodd"/>
<path d="M1554.6 472.5 1555.5 472.2 1557.5 471.9 1559.5 472.2 1561.5 473 1563.5 474.3 1565.5 476.2 1567.5 478.5 1568.9 480.5 1571.5 484.8 1573.5 489 1575.3 494.5 1576 498.5 1576.3 502.5 1576.1 506.5 1575.3 510.5 1573.7 514.5 1572.4 516.5 1570.7 518.5 1569.5 519.5 1567.5 520.8 1565.5 521.6 1563.5 522.1 1561.5 522.3 1559.5 522.1 1557.5 521.4 1555.5 520.3 1553.5 518.4 1550.9 514.5 1549.1 510.5 1547.2 504.5 1545.9 498.5 1545.5 494.5 1545.5 490.2 1546.4 484.5 1547.5 480.6 1549.5 476.8 1551.5 474.4 1553.5 472.9Z" fill="#f6af8e" fill-rule="evenodd"/>
<path d="M1555.4 490.5 1555.5 490.3 1557.5 489.4 1559.5 490.3 1561.5 492.3 1564.2 496.5 1565.9 500.5 1566.7 504.5 1566.6 506.5 1566.2 508.5 1565.5 509.9 1565 510.5 1563.5 511.6 1561.5 512 1559.5 511.2 1557.5 509.1 1557.2 508.5 1555.5 504.4 1554.5 498.5 1554.3 494.5 1554.7 492.5Z" fill="#f2a17f" fill-rule="evenodd"/>
<path d="M1518.6 472.5 1519.5 470.8 1520.8 472.5 1521.4 474.5 1521.5 476.5 1521.2 478.5 1519.5 484.2 1517.7 482.5 1517.3 480.5 1517.3 478.5 1517.5 475.3ZM1603.5 474.5 1603.5 474.3 1603.6 474.5 1603.5 475.1Z" fill="#eff3f5" fill-rule="evenodd"/>
</g>
<path d="M1519.5 457.7 1517.5 458.7 1515.5 462.1 1514.7 464.5 1513.9 468.5 1513.2 474.5 1513.2 478.5 1513.4 482.5 1514.2 488.5 1515.5 492.8 1517.5 495.6 1519.5 495.1 1521.5 491.1 1523.5 482.5 1524.3 474.5 1524.2 468.5 1523.5 463 1521.5 458.7ZM1603.5 457 1601.5 458.8 1600.9 460.5 1599.9 464.5 1599.6 466.5 1599.4 470.5 1599.7 476.5 1600.8 482.5 1601.5 485.3 1603.5 488.7 1605.5 489.1 1607.5 486.5 1608.3 484.5 1609.1 480.5 1609.5 474.5 1609 468.5 1608.3 464.5 1607.5 461.7 1605.5 457.8ZM1547.2 544.5 1545.5 543.8 1543.3 542.5 1541.5 541 1539.5 538.9 1537.5 536.5 1534.7 532.5 1532.6 528.5 1531 524.5 1529 518.5 1527.9 514.5 1527 510.5 1526.4 506.5 1526.2 500.5 1526.4 496.5 1527.1 490.5 1531.4 460.5 1532.6 456.5 1534.6 452.5 1536.1 450.5 1539.5 447.1 1541.5 445.6 1545.5 443.2 1549.5 441.5 1553.5 440.3 1557.5 439.6 1561.5 439.4 1565.5 439.7 1569.5 440.6 1573.5 442 1577.5 443.8 1581.5 446.3 1585.5 449.5 1587.5 451.5 1589.7 454.5 1591.6 458.5 1592.7 462.5 1597.5 496.5 1599.9 508.5 1600.1 510.5 1600.1 512.5 1599.5 516.5 1598.9 518.5 1597.2 522.5 1594.8 526.5 1593.3 528.5 1589.5 532.4 1585.5 535.6 1581.5 537.8 1577.5 539.7 1567.5 543.1 1562.2 544.5M1555 446.5 1557.5 446 1561.5 445.9 1565.5 446.3 1567.5 446.8 1571.5 448.3 1575.2 450.5 1577.6 452.5 1579.5 454.4 1581.5 456.8 1584.1 460.5 1585.5 463 1587.1 466.5 1588.5 470.5 1589.5 474 1591.5 484.5 1592.2 490.5 1592.7 496.5 1592.8 506.5 1592.5 510.5 1591.9 514.5 1591.1 518.5 1589.6 522.5 1588.5 524.5 1587 526.5 1585.2 528.5 1581.5 531.6 1579.5 532.9 1575.5 534.9 1571.5 536.4 1567.5 537.6 1563.5 538.3 1559.5 538.6 1555.5 538.4 1553.5 538.1 1549.5 537 1547.5 536.1 1544.8 534.5 1542.3 532.5 1540.5 530.5 1539.1 528.5 1538 526.5 1537.2 524.5 1532.6 510.5 1531.6 506.5 1530.9 502.5 1530.7 498.5 1530.7 494.5 1531.2 488.5 1532.1 482.5 1533.2 476.5 1534.6 470.5 1535.8 466.5 1537.4 462.5 1539.4 458.5 1540.6 456.5 1543.8 452.5 1546.1 450.5 1549.4 448.5 1551.5 447.6ZM1552.9 454.5 1555.5 453.5 1557.5 453.1 1559.5 452.9 1561.5 453 1563.5 453.3 1565.5 453.8 1567.5 454.7 1570.7 456.5 1573.3 458.5 1575.5 460.6 1577.5 462.9 1579.5 465.5 1581.5 468.8 1584.2 474.5 1585.5 478.4 1586.5 482.5 1587.3 486.5 1587.8 490.5 1588.2 496.5 1588.2 500.5 1587.6 508.5 1586.9 512.5 1585.8 516.5 1584.2 520.5 1583.2 522.5 1581.5 525 1579.5 527.3 1578.2 528.5 1575.4 530.5 1571.5 532.4 1569.5 533.1 1563.5 534.5 1559.5 534.8 1557.5 534.7 1555.5 534.5 1551.5 533.3 1549.5 532.4 1546.9 530.5 1545.1 528.5 1543.9 526.5 1541.5 521.5 1538.1 512.5 1536.8 508.5 1535.7 504.5 1534.9 498.5 1534.8 494.5 1535 490.5 1535.5 485.8 1536.5 480.5 1537.4 476.5 1538.7 472.5 1539.5 470.3 1541.5 466 1543.5 462.8 1545.2 460.5 1547.5 458.1 1549.5 456.5ZM1553 462.5 1555.5 461.5 1557.5 461.1 1559.5 461 1561.5 461.2 1563.5 461.7 1565.5 462.6 1567.5 463.8 1569.5 465.3 1571.5 467.1 1573.5 469.4 1575.5 472.1 1577.5 475.3 1579.9 480.5 1581.8 486.5 1582.9 492.5 1583.2 496.5 1583.2 500.5 1583 504.5 1582.5 508.5 1581.6 512.5 1581 514.5 1579.2 518.5 1577.5 521.2 1575.5 523.5 1573.5 525.2 1571.6 526.5 1567.5 528.4 1563.5 529.4 1559.5 529.6 1557.5 529.4 1555.5 528.9 1553.5 528 1551.3 526.5 1549.5 524.7 1547.9 522.5 1545.5 518.2 1542.5 510.5 1541.2 506.5 1540.2 502.5 1539.4 496.5 1539.4 490.5 1540.2 484.5 1541.6 478.5 1543.5 473.5 1545.1 470.5 1546.4 468.5 1547.5 467 1549.5 464.9 1551.5 463.4ZM1554.6 472.5 1555.5 472.2 1557.5 471.9 1559.5 472.2 1561.5 473 1563.5 474.3 1565.5 476.2 1567.5 478.5 1568.9 480.5 1571.5 484.8 1573.5 489 1575.3 494.5 1576 498.5 1576.3 502.5 1576.1 506.5 1575.3 510.5 1573.7 514.5 1572.4 516.5 1570.7 518.5 1569.5 519.5 1567.5 520.8 1565.5 521.6 1563.5 522.1 1561.5 522.3 1559.5 522.1 1557.5 521.4 1555.5 520.3 1553.5 518.4 1550.9 514.5 1549.1 510.5 1547.2 504.5 1545.9 498.5 1545.5 494.5 1545.5 490.2 1546.4 484.5 1547.5 480.6 1549.5 476.8 1551.5 474.4 1553.5 472.9Z" fill="none" stroke="#222" stroke-opacity="0.58" stroke-width="0.75"/>
<path d="M1550.5 446.5h.01M1561.5 446.5h.01M1572.5 446.5h.01M1528.5 457.5h.01M1539.5 457.5h.01M1550.5 457.5h.01M1561.5 457.5h.01M1572.5 457.5h.01M1583.5 457.5h.01M1594.5 457.5h.01M1528.5 468.5h.01M1539.5 468.5h.01M1550.5 468.5h.01M1561.5 468.5h.01M1572.5 468.5h.01M1583.5 468.5h.01M1594.5 468.5h.01M1517.5 479.5h.01M1528.5 479.5h.01M1539.5 479.5h.01M1550.5 479.5h.01M1561.5 479.5h.01M1572.5 479.5h.01M1583.5 479.5h.01M1594.5 479.5h.01M1605.5 479.5h.01M1517.5 490.5h.01M1528.5 490.5h.01M1539.5 490.5h.01M1550.5 490.5h.01M1561.5 490.5h.01M1572.5 490.5h.01M1583.5 490.5h.01M1594.5 490.5h.01M1605.5 490.5h.01M1517.5 501.5h.01M1528.5 501.5h.01M1539.5 501.5h.01M1550.5 501.5h.01M1561.5 501.5h.01M1572.5 501.5h.01M1583.5 501.5h.01M1594.5 501.5h.01M1605.5 501.5h.01M1528.5 512.5h.01M1539.5 512.5h.01M1550.5 512.5h.01M1561.5 512.5h.01M1572.5 512.5h.01M1583.5 512.5h.01M1594.5 512.5h.01M1528.5 523.5h.01M1539.5 523.5h.01M1550.5 523.5h.01M1561.5 523.5h.01M1572.5 523.5h.01M1583.5 523.5h.01M1594.5 523.5h.01M1550.5 534.5h.01M1561.5 534.5h.01M1572.5 534.5h.01" stroke="#333" stroke-opacity="0.5" stroke-width="1.3" stroke-linecap="round" fill="none"/>
</g>
<defs><linearGradient id="cb" x1="0" y1="0" x2="0" y2="1"><stop offset="0.000" stop-color="#67001f"/><stop offset="0.025" stop-color="#790622"/><stop offset="0.050" stop-color="#8a0b25"/><stop offset="0.075" stop-color="#9f1228"/><stop offset="0.100" stop-color="#b1182b"/><stop offset="0.125" stop-color="#ba2832"/><stop offset="0.150" stop-color="#c43b3c"/><stop offset="0.175" stop-color="#cc4c44"/><stop offset="0.200" stop-color="#d6604d"/><stop offset="0.225" stop-color="#dd7059"/><stop offset="0.250" stop-color="#e48066"/><stop offset="0.275" stop-color="#ec9374"/><stop offset="0.300" stop-color="#f3a481"/><stop offset="0.325" stop-color="#f6b394"/><stop offset="0.350" stop-color="#f8bfa4"/><stop offset="0.375" stop-color="#fbccb4"/><stop offset="0.400" stop-color="#fddbc7"/><stop offset="0.425" stop-color="#fce2d2"/><stop offset="0.450" stop-color="#fae9df"/><stop offset="0.475" stop-color="#f9f0eb"/><stop offset="0.500" stop-color="#f7f6f6"/><stop offset="0.525" stop-color="#edf2f5"/><stop offset="0.550" stop-color="#e4eef4"/><stop offset="0.575" stop-color="#dae9f2"/><stop offset="0.600" stop-color="#d1e5f0"/><stop offset="0.625" stop-color="#c0dceb"/><stop offset="0.650" stop-color="#b1d5e7"/><stop offset="0.675" stop-color="#a2cde3"/><stop offset="0.700" stop-color="#90c4dd"/><stop offset="0.725" stop-color="#7eb8d7"/><stop offset="0.750" stop-color="#6bacd1"/><stop offset="0.775" stop-color="#569fc9"/><stop offset="0.800" stop-color="#4393c3"/><stop offset="0.825" stop-color="#3a87bd"/><stop offset="0.850" stop-color="#327cb7"/><stop offset="0.875" stop-color="#2a71b2"/><stop offset="0.900" stop-color="#2065ab"/><stop offset="0.925" stop-color="#1a5899"/><stop offset="0.950" stop-color="#124984"/><stop offset="0.975" stop-color="#0c3d73"/><stop offset="1.000" stop-color="#053061"/></linearGradient></defs>
<rect x="1653.0" y="37.5" width="12.700000000000045" height="504.29999999999995" fill="url(#cb)"/>
<text x="1674.4" y="45.6" font-family="'DejaVu Sans','Liberation Sans',sans-serif" font-size="21.2" text-anchor="start" fill="#262626">2.2</text>
<text x="1674.4" y="125.8" font-family="'DejaVu Sans','Liberation Sans',sans-serif" font-size="21.2" text-anchor="start" fill="#262626">1.5</text>
<text x="1674.4" y="183.1" font-family="'DejaVu Sans','Liberation Sans',sans-serif" font-size="21.2" text-anchor="start" fill="#262626">1.0</text>
<text x="1674.4" y="240.4" font-family="'DejaVu Sans','Liberation Sans',sans-serif" font-size="21.2" text-anchor="start" fill="#262626">0.5</text>
<text x="1674.4" y="297.7" font-family="'DejaVu Sans','Liberation Sans',sans-serif" font-size="21.2" text-anchor="start" fill="#262626">0.0</text>
<text x="1674.4" y="355" font-family="'DejaVu Sans','Liberation Sans',sans-serif" font-size="21.2" text-anchor="start" fill="#262626">−0.5</text>
<text x="1674.4" y="412.3" font-family="'DejaVu Sans','Liberation Sans',sans-serif" font-size="21.2" text-anchor="start" fill="#262626">−1.0</text>
<text x="1674.4" y="469.6" font-family="'DejaVu Sans','Liberation Sans',sans-serif" font-size="21.2" text-anchor="start" fill="#262626">−1.5</text>
<text x="1674.4" y="549.8" font-family="'DejaVu Sans','Liberation Sans',sans-serif" font-size="21.2" text-anchor="start" fill="#262626">−2.2</text>
<path d="M1665.7 37.5h5M1665.7 117.8h5M1665.7 175h5M1665.7 232.3h5M1665.7 289.6h5M1665.7 346.9h5M1665.7 404.2h5M1665.7 461.5h5M1665.7 541.8h5" stroke="#262626" stroke-width="1.3" fill="none"/></svg></body></html>
